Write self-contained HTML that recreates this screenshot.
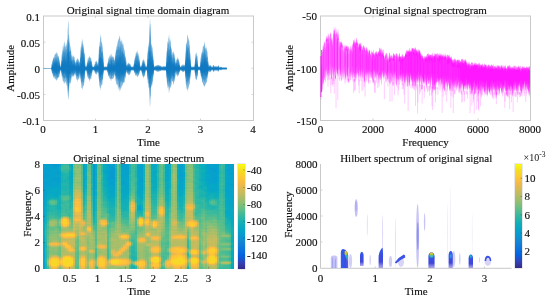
<!DOCTYPE html>
<html><head><meta charset="utf-8"><title>Signal analysis</title>
<style>
html,body{margin:0;padding:0;background:#fff}
#root{position:relative;width:550px;height:300px;overflow:hidden;background:#fff}
#spg i{position:absolute;top:0;height:100%;display:block}
</style></head><body><div id="root">
<div id="spg" style="position:absolute;left:43.0px;top:164.2px;width:191.2px;height:104.4px;overflow:hidden"><i style="left:0.0px;width:2.05px;background:linear-gradient(#069ece 0.5px,#06a1cd 1.5px,#06a2cc 2.5px,#06a1cc 3.5px,#069fce 4.5px,#069ece 5.5px,#069fce 6.5px,#06a0cd 7.5px,#069fce 8.5px,#079dcf 9.5px,#079dcf 10.5px,#079cd0 11.5px,#079bd0 12.5px,#079ccf 13.5px,#069fce 14.5px,#06a0cd 15.5px,#06a0cd 16.5px,#079ecf 17.5px,#079cd0 18.5px,#079ccf 19.5px,#079dcf 20.5px,#079ecf 21.5px,#079cd0 22.5px,#079cd0 23.5px,#079dcf 24.5px,#069fce 25.5px,#06a1cc 26.5px,#06a0cd 27.5px,#069ece 28.5px,#069fce 29.5px,#069fce 30.5px,#06a0cd 31.5px,#06a0cd 32.5px,#069ece 33.5px,#069ece 34.5px,#06a0cd 35.5px,#06a1cc 36.5px,#06a2cb 37.5px,#06a1cd 38.5px,#069fce 39.5px,#06a0cd 40.5px,#06a2cc 41.5px,#06a4c9 42.5px,#06a5c8 43.5px,#06a4ca 44.5px,#06a2cb 45.5px,#06a3cb 46.5px,#06a5c8 47.5px,#06a5c8 48.5px,#06a2cb 49.5px,#06a1cd 50.5px,#06a3cb 51.5px,#06a4c9 52.5px,#06a6c7 53.5px,#06a6c7 54.5px,#06a4ca 55.5px,#06a2cb 56.5px,#06a4ca 57.5px,#06a7c6 58.5px,#07a9c3 59.5px,#07a9c2 60.5px,#09abbf 61.5px,#08aac1 62.5px,#07a9c3 63.5px,#07a9c3 64.5px,#07a9c2 65.5px,#08aac1 66.5px,#09abbf 67.5px,#09acbe 68.5px,#09abbf 69.5px,#08abc0 70.5px,#06a8c3 71.5px,#06a8c4 72.5px,#06a8c3 73.5px,#06a7c5 74.5px,#06a7c5 75.5px,#06a8c4 76.5px,#07a9c2 77.5px,#06a8c5 78.5px,#06a6c7 79.5px,#06a5c9 80.5px,#06a4ca 81.5px,#06a4ca 82.5px,#06a6c7 83.5px,#06a7c5 84.5px,#06a7c6 85.5px,#06a5c8 86.5px,#06a6c7 87.5px,#06a6c7 88.5px,#06a3cb 89.5px,#06a1cd 90.5px,#06a2cb 91.5px,#06a3ca 92.5px,#06a4ca 93.5px,#06a6c7 94.5px,#06a7c5 95.5px,#06a5c9 96.5px,#06a2cc 97.5px,#06a1cc 98.5px,#06a0cd 99.5px,#06a1cc 100.5px,#06a2cc 101.5px,#06a2cc 102.5px,#06a2cc 103.5px,#06a1cc 104.5px)"></i><i style="left:2.0px;width:2.05px;background:linear-gradient(#069fce 0.5px,#06a1cd 1.5px,#06a2cb 2.5px,#06a2cc 3.5px,#06a1cd 4.5px,#069fce 5.5px,#069fce 6.5px,#06a1cd 7.5px,#06a0cd 8.5px,#069fce 9.5px,#079ecf 10.5px,#079dcf 11.5px,#079ecf 12.5px,#06a0cd 13.5px,#06a2cb 14.5px,#06a2cb 15.5px,#06a2cb 16.5px,#069fce 17.5px,#079ecf 18.5px,#069fce 19.5px,#06a0cd 20.5px,#06a1cc 21.5px,#06a1cd 22.5px,#06a1cd 23.5px,#06a3cb 24.5px,#06a5c9 25.5px,#06a6c7 26.5px,#06a4c9 27.5px,#06a3ca 28.5px,#06a4c9 29.5px,#06a5c8 30.5px,#06a6c6 31.5px,#06a7c5 32.5px,#06a7c5 33.5px,#07a9c3 34.5px,#07a9c2 35.5px,#07aac2 36.5px,#08abc0 37.5px,#08aac1 38.5px,#07a9c2 39.5px,#08aac0 40.5px,#09acbe 41.5px,#0cadbc 42.5px,#0faeb9 43.5px,#0eaeba 44.5px,#0dadbb 45.5px,#0cadbc 46.5px,#0eaeba 47.5px,#12afb7 48.5px,#13b0b6 49.5px,#0faeb9 50.5px,#0eaeba 51.5px,#13b0b6 52.5px,#16b1b3 53.5px,#16b1b4 54.5px,#16b1b3 55.5px,#19b2b2 56.5px,#1ab2b1 57.5px,#1ab2b1 58.5px,#1ab2b1 59.5px,#20b4ad 60.5px,#29b6a7 61.5px,#2ab6a6 62.5px,#2ab6a6 63.5px,#2fb7a3 64.5px,#31b8a2 65.5px,#36b99f 66.5px,#3ab99d 67.5px,#35b89f 68.5px,#39b99d 69.5px,#40ba99 70.5px,#38b99e 71.5px,#35b89f 72.5px,#38b99d 73.5px,#36b99f 74.5px,#35b8a0 75.5px,#3ab99d 76.5px,#38b99e 77.5px,#2cb7a5 78.5px,#2ab6a6 79.5px,#2cb7a5 80.5px,#28b6a8 81.5px,#24b5aa 82.5px,#28b6a8 83.5px,#32b8a1 84.5px,#34b8a0 85.5px,#2db7a4 86.5px,#2db7a5 87.5px,#2eb7a4 88.5px,#28b6a8 89.5px,#25b5a9 90.5px,#2ab6a6 91.5px,#2ab6a6 92.5px,#27b6a8 93.5px,#2ab6a6 94.5px,#2db7a4 95.5px,#2cb7a5 96.5px,#2cb7a5 97.5px,#2ab6a7 98.5px,#26b5a9 99.5px,#22b4ab 100.5px,#1fb3ae 101.5px,#1fb3ad 102.5px,#1fb4ad 103.5px,#1fb4ad 104.5px)"></i><i style="left:4.0px;width:2.05px;background:linear-gradient(#069ece 0.5px,#06a0cd 1.5px,#06a2cb 2.5px,#06a1cc 3.5px,#06a0cd 4.5px,#079ecf 5.5px,#069ece 6.5px,#06a1cc 7.5px,#06a2cc 8.5px,#06a2cc 9.5px,#069fce 10.5px,#079ecf 11.5px,#069fce 12.5px,#06a2cc 13.5px,#06a3cb 14.5px,#06a2cc 15.5px,#06a1cc 16.5px,#06a1cc 17.5px,#06a1cd 18.5px,#06a1cc 19.5px,#06a2cc 20.5px,#06a3cb 21.5px,#06a4ca 22.5px,#06a4c9 23.5px,#06a5c8 24.5px,#06a6c7 25.5px,#06a8c4 26.5px,#06a7c5 27.5px,#06a7c6 28.5px,#06a8c4 29.5px,#07aac2 30.5px,#09abbf 31.5px,#08abc0 32.5px,#0aacbe 33.5px,#0cadbc 34.5px,#0dadbb 35.5px,#14b0b6 36.5px,#1fb3ae 37.5px,#23b5ab 38.5px,#20b4ad 39.5px,#18b1b3 40.5px,#16b1b4 41.5px,#19b2b1 42.5px,#1bb2b0 43.5px,#1ab2b1 44.5px,#19b2b1 45.5px,#18b1b2 46.5px,#19b2b2 47.5px,#21b4ac 48.5px,#26b5a9 49.5px,#24b5aa 50.5px,#25b5aa 51.5px,#2cb7a5 52.5px,#30b7a3 53.5px,#2fb7a3 54.5px,#2eb7a3 55.5px,#36b99f 56.5px,#44bb97 57.5px,#4abc94 58.5px,#48bb94 59.5px,#4fbc91 60.5px,#4ebc91 61.5px,#45bb96 62.5px,#49bc94 63.5px,#51bd90 64.5px,#4fbc91 65.5px,#56bd8d 66.5px,#59bd8b 67.5px,#50bc90 68.5px,#54bd8e 69.5px,#5abd8b 70.5px,#5abd8b 71.5px,#65be86 72.5px,#6abe83 73.5px,#62be87 74.5px,#65be86 75.5px,#6ebf81 76.5px,#67be85 77.5px,#6abe83 78.5px,#87bf77 79.5px,#8dbf75 80.5px,#73bf7f 81.5px,#5abd8b 82.5px,#53bd8f 83.5px,#5bbd8a 84.5px,#5fbe89 85.5px,#55bd8d 86.5px,#4cbc92 87.5px,#4dbc92 88.5px,#55bd8d 89.5px,#5bbe8a 90.5px,#59bd8b 91.5px,#53bd8f 92.5px,#5dbe8a 93.5px,#71bf80 94.5px,#86bf77 95.5px,#9ebe6e 96.5px,#a9be69 97.5px,#a7be6a 98.5px,#a4be6b 99.5px,#96bf71 100.5px,#78bf7d 101.5px,#5fbe89 102.5px,#48bb94 103.5px,#3dba9b 104.5px)"></i><i style="left:6.0px;width:2.05px;background:linear-gradient(#069fce 0.5px,#06a1cd 1.5px,#06a1cc 2.5px,#06a1cd 3.5px,#06a1cc 4.5px,#06a0cd 5.5px,#06a0cd 6.5px,#06a0cd 7.5px,#06a1cc 8.5px,#06a3cb 9.5px,#06a1cc 10.5px,#069fce 11.5px,#06a1cc 12.5px,#06a3cb 13.5px,#06a2cb 14.5px,#06a1cc 15.5px,#06a2cc 16.5px,#06a2cc 17.5px,#06a1cc 18.5px,#06a1cc 19.5px,#06a1cc 20.5px,#06a2cb 21.5px,#06a5c9 22.5px,#06a7c6 23.5px,#06a7c6 24.5px,#06a7c6 25.5px,#07a9c3 26.5px,#07aac2 27.5px,#07a9c2 28.5px,#07aac2 29.5px,#08abc0 30.5px,#09abbf 31.5px,#09abbf 32.5px,#0bacbd 33.5px,#10afb8 34.5px,#1db3af 35.5px,#3cba9b 36.5px,#58bd8c 37.5px,#55bd8d 38.5px,#4cbc92 39.5px,#3bb99c 40.5px,#26b5a9 41.5px,#22b4ac 42.5px,#25b5a9 43.5px,#24b5aa 44.5px,#23b4ab 45.5px,#24b5aa 46.5px,#29b6a7 47.5px,#35b89f 48.5px,#36b99f 49.5px,#30b7a3 50.5px,#37b99e 51.5px,#41ba98 52.5px,#41ba98 53.5px,#45bb96 54.5px,#58bd8c 55.5px,#72bf80 56.5px,#8fbf74 57.5px,#9abf6f 58.5px,#95bf71 59.5px,#9bbf6f 60.5px,#92bf73 61.5px,#6fbf81 62.5px,#66be85 63.5px,#69be84 64.5px,#65be86 65.5px,#71bf80 66.5px,#7cbf7c 67.5px,#75bf7f 68.5px,#76bf7e 69.5px,#7cbf7c 70.5px,#7ebf7b 71.5px,#8cbf75 72.5px,#94bf71 73.5px,#8cbf75 74.5px,#8cbf75 75.5px,#8fbf73 76.5px,#90bf73 77.5px,#b4bd65 78.5px,#dcba54 79.5px,#e1b952 80.5px,#c8bc5d 81.5px,#a3be6b 82.5px,#8bbf75 83.5px,#8cbf75 84.5px,#90bf73 85.5px,#85bf78 86.5px,#7dbf7b 87.5px,#81bf7a 88.5px,#83bf79 89.5px,#8abf75 90.5px,#92bf72 91.5px,#9ebe6e 92.5px,#bdbc61 93.5px,#deba53 94.5px,#f7ba45 95.5px,#fec833 96.5px,#fccd2f 97.5px,#fec634 98.5px,#fec635 99.5px,#fec239 100.5px,#edb94c 101.5px,#d0bb59 102.5px,#b5bd64 103.5px,#a4be6b 104.5px)"></i><i style="left:8.0px;width:2.05px;background:linear-gradient(#0999d1 0.5px,#079cd0 1.5px,#069fce 2.5px,#06a0cd 3.5px,#06a1cd 4.5px,#06a1cd 5.5px,#06a1cd 6.5px,#06a2cc 7.5px,#06a2cb 8.5px,#06a3cb 9.5px,#06a2cb 10.5px,#06a1cd 11.5px,#06a2cc 12.5px,#06a2cb 13.5px,#06a1cd 14.5px,#06a0cd 15.5px,#06a1cc 16.5px,#06a2cb 17.5px,#06a1cc 18.5px,#06a1cd 19.5px,#06a1cc 20.5px,#06a3ca 21.5px,#06a5c9 22.5px,#06a6c7 23.5px,#06a7c5 24.5px,#06a8c4 25.5px,#07aac1 26.5px,#07aac1 27.5px,#06a8c4 28.5px,#06a8c4 29.5px,#08abc0 30.5px,#0aacbe 31.5px,#0aacbd 32.5px,#0eaeba 33.5px,#15b0b5 34.5px,#2cb6a5 35.5px,#4fbc90 36.5px,#64be86 37.5px,#5fbe89 38.5px,#60be88 39.5px,#58bd8c 40.5px,#32b8a1 41.5px,#22b4ab 42.5px,#29b6a7 43.5px,#2ab6a6 44.5px,#24b5aa 45.5px,#22b4ab 46.5px,#27b5a8 47.5px,#2db7a4 48.5px,#30b7a2 49.5px,#32b8a1 50.5px,#3bb99c 51.5px,#47bb95 52.5px,#46bb95 53.5px,#4dbc92 54.5px,#73bf7f 55.5px,#8abf76 56.5px,#99bf6f 57.5px,#a9be69 58.5px,#a3be6c 59.5px,#a8be6a 60.5px,#a7be6a 61.5px,#82bf79 62.5px,#6cbf83 63.5px,#67be85 64.5px,#5fbe89 65.5px,#70bf81 66.5px,#83bf78 67.5px,#7cbf7b 68.5px,#7fbf7a 69.5px,#8bbf75 70.5px,#88bf77 71.5px,#90bf73 72.5px,#9dbf6e 73.5px,#93bf72 74.5px,#91bf73 75.5px,#96bf71 76.5px,#9dbf6e 77.5px,#cbbb5b 78.5px,#f6ba46 79.5px,#f9bb43 80.5px,#e3b951 81.5px,#b9bd63 82.5px,#90bf73 83.5px,#87bf77 84.5px,#8fbf74 85.5px,#88bf76 86.5px,#86bf77 87.5px,#8abf76 88.5px,#88bf77 89.5px,#8fbf74 90.5px,#aabe69 91.5px,#c8bc5d 92.5px,#eab94e 93.5px,#ffc437 94.5px,#fbd02c 95.5px,#f7d826 96.5px,#f7d826 97.5px,#f8d727 98.5px,#f8d727 99.5px,#f7d826 100.5px,#fad22b 101.5px,#fec239 102.5px,#f2b949 103.5px,#e5b950 104.5px)"></i><i style="left:10.0px;width:2.05px;background:linear-gradient(#0998d1 0.5px,#089ad0 1.5px,#079cd0 2.5px,#069ece 3.5px,#06a1cc 4.5px,#06a2cc 5.5px,#06a1cc 6.5px,#06a3cb 7.5px,#06a2cc 8.5px,#06a0cd 9.5px,#06a1cc 10.5px,#06a1cc 11.5px,#06a1cc 12.5px,#069fce 13.5px,#079dcf 14.5px,#079dcf 15.5px,#069ece 16.5px,#06a1cd 17.5px,#06a3ca 18.5px,#06a3ca 19.5px,#06a3ca 20.5px,#06a4ca 21.5px,#06a3ca 22.5px,#06a4c9 23.5px,#06a7c5 24.5px,#07a9c3 25.5px,#07a9c3 26.5px,#06a8c4 27.5px,#06a7c6 28.5px,#06a8c4 29.5px,#07a9c2 30.5px,#07aac1 31.5px,#08abc0 32.5px,#0cadbc 33.5px,#12afb7 34.5px,#29b6a7 35.5px,#4bbc93 36.5px,#5cbe8a 37.5px,#5cbe8a 38.5px,#61be88 39.5px,#58bd8c 40.5px,#31b8a2 41.5px,#23b4ab 42.5px,#28b6a8 43.5px,#29b6a7 44.5px,#27b6a8 45.5px,#29b6a7 46.5px,#2ab6a6 47.5px,#2eb7a4 48.5px,#36b99f 49.5px,#35b89f 50.5px,#37b99e 51.5px,#3eba9a 52.5px,#40ba99 53.5px,#4bbc93 54.5px,#77bf7e 55.5px,#8dbf74 56.5px,#99bf6f 57.5px,#aabe69 58.5px,#9dbe6e 59.5px,#9cbf6e 60.5px,#a0be6d 61.5px,#7ebf7b 62.5px,#69be84 63.5px,#6bbe83 64.5px,#65be86 65.5px,#74bf7f 66.5px,#86bf77 67.5px,#7ebf7b 68.5px,#7fbf7a 69.5px,#8fbf74 70.5px,#8fbf73 71.5px,#92bf72 72.5px,#95bf71 73.5px,#8ebf74 74.5px,#97bf70 75.5px,#a4be6b 76.5px,#acbe68 77.5px,#d6ba57 78.5px,#f9bb44 79.5px,#f6ba46 80.5px,#e1ba52 81.5px,#b8bd63 82.5px,#91bf73 83.5px,#8bbf75 84.5px,#8fbf74 85.5px,#85bf78 86.5px,#7ebf7b 87.5px,#81bf7a 88.5px,#82bf79 89.5px,#8fbf74 90.5px,#b2bd66 91.5px,#d7ba57 92.5px,#f7ba45 93.5px,#fdca31 94.5px,#fad22a 95.5px,#f7d826 96.5px,#f7d826 97.5px,#f7d826 98.5px,#f8d826 99.5px,#f7d826 100.5px,#f7d826 101.5px,#fcce2d 102.5px,#fcbd3f 103.5px,#efb94b 104.5px)"></i><i style="left:12.0px;width:2.05px;background:linear-gradient(#079bd0 0.5px,#079bd0 1.5px,#079cd0 2.5px,#069fce 3.5px,#06a2cc 4.5px,#06a2cb 5.5px,#06a2cb 6.5px,#06a2cb 7.5px,#06a1cd 8.5px,#06a0cd 9.5px,#06a3ca 10.5px,#06a4c9 11.5px,#06a4ca 12.5px,#06a1cd 13.5px,#069ece 14.5px,#069fce 15.5px,#06a1cc 16.5px,#06a3cb 17.5px,#06a3ca 18.5px,#06a3ca 19.5px,#06a4ca 20.5px,#06a4c9 21.5px,#06a4c9 22.5px,#06a6c7 23.5px,#06a8c4 24.5px,#07aac1 25.5px,#08aac0 26.5px,#07a9c3 27.5px,#06a8c4 28.5px,#07a9c3 29.5px,#06a8c3 30.5px,#06a8c5 31.5px,#07a9c3 32.5px,#0aacbd 33.5px,#11afb8 34.5px,#1fb4ad 35.5px,#3ab99c 36.5px,#51bc90 37.5px,#50bc90 38.5px,#45bb96 39.5px,#36b99f 40.5px,#21b4ac 41.5px,#1cb3b0 42.5px,#20b4ad 43.5px,#20b4ad 44.5px,#20b4ad 45.5px,#25b5aa 46.5px,#25b5a9 47.5px,#27b6a8 48.5px,#2cb7a5 49.5px,#2cb7a5 50.5px,#2fb7a3 51.5px,#38b99e 52.5px,#3dba9b 53.5px,#48bb94 54.5px,#6dbf82 55.5px,#7fbf7a 56.5px,#8dbf74 57.5px,#a1be6c 58.5px,#94bf72 59.5px,#88bf76 60.5px,#87bf77 61.5px,#6dbf82 62.5px,#62be87 63.5px,#73bf7f 64.5px,#78bf7d 65.5px,#7ebf7b 66.5px,#8abf76 67.5px,#81bf7a 68.5px,#80bf7a 69.5px,#93bf72 70.5px,#90bf73 71.5px,#8dbf75 72.5px,#92bf72 73.5px,#92bf73 74.5px,#99bf70 75.5px,#a5be6b 76.5px,#b1bd66 77.5px,#d8ba56 78.5px,#f8bb44 79.5px,#f6ba46 80.5px,#dfba53 81.5px,#b6bd64 82.5px,#96bf71 83.5px,#91bf73 84.5px,#97bf70 85.5px,#91bf73 86.5px,#86bf77 87.5px,#86bf77 88.5px,#80bf7a 89.5px,#89bf76 90.5px,#aebe67 91.5px,#d6ba57 92.5px,#f7ba45 93.5px,#fec932 94.5px,#fbd12b 95.5px,#f8d627 96.5px,#f7d826 97.5px,#f8d727 98.5px,#f8d628 99.5px,#f7d826 100.5px,#f8d627 101.5px,#fec932 102.5px,#f5ba47 103.5px,#e3b951 104.5px)"></i><i style="left:14.0px;width:2.05px;background:linear-gradient(#0899d1 0.5px,#089ad0 1.5px,#079dcf 2.5px,#06a1cc 3.5px,#06a2cb 4.5px,#069fce 5.5px,#079dcf 6.5px,#079cd0 7.5px,#089ad0 8.5px,#079dcf 9.5px,#06a2cc 10.5px,#06a4c9 11.5px,#06a3ca 12.5px,#069fce 13.5px,#079ccf 14.5px,#079ecf 15.5px,#069fce 16.5px,#069fce 17.5px,#06a0cd 18.5px,#06a2cc 19.5px,#06a2cb 20.5px,#06a2cb 21.5px,#06a3ca 22.5px,#06a5c9 23.5px,#06a6c6 24.5px,#06a8c4 25.5px,#06a8c4 26.5px,#06a8c5 27.5px,#06a7c5 28.5px,#06a8c4 29.5px,#06a8c4 30.5px,#07a9c3 31.5px,#08aac1 32.5px,#0badbc 33.5px,#11afb8 34.5px,#14b0b5 35.5px,#17b1b3 36.5px,#1db3af 37.5px,#1cb3af 38.5px,#1ab2b1 39.5px,#1ab2b1 40.5px,#16b1b3 41.5px,#13b0b6 42.5px,#13b0b6 43.5px,#14b0b6 44.5px,#18b2b2 45.5px,#22b4ac 46.5px,#21b4ac 47.5px,#1fb3ae 48.5px,#24b5aa 49.5px,#24b5aa 50.5px,#28b6a8 51.5px,#2fb7a3 52.5px,#32b8a1 53.5px,#3ab99d 54.5px,#4bbc93 55.5px,#55bd8e 56.5px,#5ebe89 57.5px,#6dbf82 58.5px,#66be85 59.5px,#62be87 60.5px,#65be85 61.5px,#57bd8d 62.5px,#53bd8f 63.5px,#62be87 64.5px,#68be84 65.5px,#6fbf81 66.5px,#79bf7d 67.5px,#6dbf82 68.5px,#75bf7e 69.5px,#8cbf75 70.5px,#88bf77 71.5px,#84bf78 72.5px,#88bf76 73.5px,#85bf78 74.5px,#89bf76 75.5px,#93bf72 76.5px,#98bf70 77.5px,#c2bc5f 78.5px,#ebb94d 79.5px,#ebb94d 80.5px,#d0bb59 81.5px,#a3be6c 82.5px,#7ebf7b 83.5px,#78bf7d 84.5px,#83bf79 85.5px,#81bf7a 86.5px,#7bbf7c 87.5px,#7cbf7c 88.5px,#71bf80 89.5px,#71bf80 90.5px,#91bf73 91.5px,#b7bd64 92.5px,#ddba54 93.5px,#fbbc41 94.5px,#fec535 95.5px,#fcce2d 96.5px,#f9d429 97.5px,#fad22a 98.5px,#fad22a 99.5px,#fad22b 100.5px,#fec635 101.5px,#eeb94b 102.5px,#cabb5c 103.5px,#b2bd66 104.5px)"></i><i style="left:16.0px;width:2.05px;background:linear-gradient(#06a3cb 0.5px,#06a6c7 1.5px,#08abc0 2.5px,#0cadbb 3.5px,#0dadbb 4.5px,#09abbf 5.5px,#07aac1 6.5px,#06a7c5 7.5px,#06a3ca 8.5px,#06a2cb 9.5px,#06a3cb 10.5px,#06a3ca 11.5px,#06a5c8 12.5px,#06a5c9 13.5px,#06a3ca 14.5px,#06a3cb 15.5px,#06a2cb 16.5px,#06a2cb 17.5px,#06a4ca 18.5px,#06a6c6 19.5px,#06a8c5 20.5px,#06a7c5 21.5px,#06a7c6 22.5px,#06a7c6 23.5px,#06a8c4 24.5px,#07a9c2 25.5px,#07aac1 26.5px,#07aac1 27.5px,#08aac0 28.5px,#08aac0 29.5px,#0bacbd 30.5px,#11afb7 31.5px,#15b0b4 32.5px,#1ab2b1 33.5px,#1cb3b0 34.5px,#17b1b3 35.5px,#11afb7 36.5px,#11afb7 37.5px,#12afb7 38.5px,#12b0b6 39.5px,#14b0b5 40.5px,#16b1b4 41.5px,#15b1b4 42.5px,#12afb7 43.5px,#11afb7 44.5px,#16b1b4 45.5px,#1db3af 46.5px,#1db3af 47.5px,#1db3af 48.5px,#27b5a8 49.5px,#2ab6a7 50.5px,#29b6a7 51.5px,#2bb6a6 52.5px,#31b8a2 53.5px,#4abc93 54.5px,#6dbf82 55.5px,#7cbf7b 56.5px,#8abf76 57.5px,#95bf71 58.5px,#89bf76 59.5px,#7dbf7b 60.5px,#76bf7e 61.5px,#5abd8b 62.5px,#4abc93 63.5px,#4ebc91 64.5px,#51bc90 65.5px,#5bbd8b 66.5px,#6bbe83 67.5px,#71bf80 68.5px,#8fbf73 69.5px,#b6bd64 70.5px,#b8bd63 71.5px,#a6be6a 72.5px,#90bf73 73.5px,#7ebf7b 74.5px,#7ebf7b 75.5px,#83bf78 76.5px,#81bf79 77.5px,#a3be6b 78.5px,#cdbb5b 79.5px,#ccbb5b 80.5px,#aabe69 81.5px,#85bf78 82.5px,#6fbf81 83.5px,#6abe83 84.5px,#6fbf81 85.5px,#6cbf82 86.5px,#6cbf83 87.5px,#6fbf81 88.5px,#69be84 89.5px,#66be85 90.5px,#6abe83 91.5px,#7dbf7b 92.5px,#a4be6b 93.5px,#cbbb5c 94.5px,#e1b952 95.5px,#f5ba47 96.5px,#fec13a 97.5px,#fec13a 98.5px,#fbbc41 99.5px,#eeb94b 100.5px,#ccbb5b 101.5px,#a6be6a 102.5px,#83bf78 103.5px,#6fbf81 104.5px)"></i><i style="left:18.0px;width:2.05px;background:linear-gradient(#24b5aa 0.5px,#30b7a3 1.5px,#37b99e 2.5px,#3cba9b 3.5px,#42bb98 4.5px,#3dba9b 5.5px,#33b8a1 6.5px,#2bb6a5 7.5px,#21b4ac 8.5px,#1ab2b1 9.5px,#18b1b2 10.5px,#19b2b2 11.5px,#1bb2b0 12.5px,#1ab2b1 13.5px,#19b2b2 14.5px,#19b2b2 15.5px,#19b2b2 16.5px,#19b2b2 17.5px,#1ab2b1 18.5px,#20b4ad 19.5px,#21b4ac 20.5px,#20b4ad 21.5px,#1eb3ae 22.5px,#1ab2b1 23.5px,#1cb3b0 24.5px,#22b4ac 25.5px,#25b5a9 26.5px,#27b5a8 27.5px,#29b6a7 28.5px,#25b5aa 29.5px,#2ab6a6 30.5px,#3dba9b 31.5px,#44bb97 32.5px,#44bb97 33.5px,#49bb94 34.5px,#44bb97 35.5px,#3ab99c 36.5px,#37b99e 37.5px,#30b7a3 38.5px,#30b7a3 39.5px,#3ab99d 40.5px,#3dba9b 41.5px,#3ab99d 42.5px,#36b99f 43.5px,#32b8a1 44.5px,#34b8a0 45.5px,#3cba9b 46.5px,#3dba9b 47.5px,#3dba9b 48.5px,#49bc94 49.5px,#46bb96 50.5px,#42bb98 51.5px,#62be87 52.5px,#92bf72 53.5px,#c7bc5d 54.5px,#f3ba48 55.5px,#fcbd3e 56.5px,#fec239 57.5px,#fec733 58.5px,#fcbd3f 59.5px,#f2b949 60.5px,#efb94a 61.5px,#c8bc5d 62.5px,#9cbf6e 63.5px,#95bf71 64.5px,#90bf73 65.5px,#94bf71 66.5px,#aabe69 67.5px,#babd62 68.5px,#daba55 69.5px,#fcbd3f 70.5px,#fdbe3d 71.5px,#ecb94c 72.5px,#d7ba56 73.5px,#bfbc60 74.5px,#b7bd64 75.5px,#babd63 76.5px,#bdbd61 77.5px,#d6ba57 78.5px,#efb94b 79.5px,#e8b94f 80.5px,#ccbb5b 81.5px,#b8bd63 82.5px,#acbe68 83.5px,#a4be6b 84.5px,#abbe69 85.5px,#a9be69 86.5px,#a6be6a 87.5px,#acbe68 88.5px,#adbe67 89.5px,#adbe68 90.5px,#b5bd64 91.5px,#bfbc60 92.5px,#d3bb58 93.5px,#efb94a 94.5px,#fec13a 95.5px,#fdca31 96.5px,#fbd02c 97.5px,#fcce2d 98.5px,#fec832 99.5px,#fec03c 100.5px,#e6b950 101.5px,#c5bc5e 102.5px,#b1bd66 103.5px,#aabe69 104.5px)"></i><i style="left:20.0px;width:2.05px;background:linear-gradient(#2fb7a3 0.5px,#3fba9a 1.5px,#42bb98 2.5px,#3fba9a 3.5px,#43bb97 4.5px,#3eba9a 5.5px,#36b99f 6.5px,#34b8a0 7.5px,#2cb7a5 8.5px,#24b5aa 9.5px,#22b4ab 10.5px,#21b4ac 11.5px,#23b4ab 12.5px,#25b5aa 13.5px,#20b4ad 14.5px,#1eb3ae 15.5px,#1eb3ae 16.5px,#1cb3af 17.5px,#1fb3ae 18.5px,#26b5a9 19.5px,#25b5a9 20.5px,#22b4ac 21.5px,#21b4ac 22.5px,#1db3af 23.5px,#1eb3ae 24.5px,#1fb3ae 25.5px,#21b4ac 26.5px,#28b6a8 27.5px,#2bb6a5 28.5px,#25b5aa 29.5px,#26b5a9 30.5px,#3bb99c 31.5px,#4cbc92 32.5px,#4fbc91 33.5px,#5cbe8a 34.5px,#5dbe8a 35.5px,#4abc93 36.5px,#3dba9b 37.5px,#33b8a1 38.5px,#33b8a1 39.5px,#3dba9b 40.5px,#3eba9a 41.5px,#3dba9b 42.5px,#42bb98 43.5px,#40ba99 44.5px,#3dba9b 45.5px,#45bb96 46.5px,#43bb97 47.5px,#41ba98 48.5px,#50bc90 49.5px,#4cbc92 50.5px,#48bb94 51.5px,#84bf78 52.5px,#cbbb5c 53.5px,#fabc41 54.5px,#fad12b 55.5px,#fbd12b 56.5px,#fccd2e 57.5px,#f9d429 58.5px,#fbcf2d 59.5px,#fdca31 60.5px,#fccc2f 61.5px,#f2b949 62.5px,#babd62 63.5px,#a4be6b 64.5px,#9bbf6f 65.5px,#9abf6f 66.5px,#b0be67 67.5px,#ccbb5b 68.5px,#f1b94a 69.5px,#fdcb30 70.5px,#fccd2f 71.5px,#fec238 72.5px,#f4ba47 73.5px,#d2bb58 74.5px,#bcbd62 75.5px,#c0bc60 76.5px,#d7ba57 77.5px,#f7ba45 78.5px,#fec734 79.5px,#ffc437 80.5px,#f1b94a 81.5px,#daba55 82.5px,#c7bc5d 83.5px,#b4bd65 84.5px,#b0bd66 85.5px,#adbe67 86.5px,#a9be69 87.5px,#b0bd66 88.5px,#b2bd66 89.5px,#b0bd66 90.5px,#c9bc5d 91.5px,#efb94b 92.5px,#fdcb30 93.5px,#f8d627 94.5px,#f7d826 95.5px,#f7d826 96.5px,#f7d826 97.5px,#f7d826 98.5px,#f7d826 99.5px,#f8d726 100.5px,#fccd2e 101.5px,#f7ba45 102.5px,#d9ba56 103.5px,#c7bc5d 104.5px)"></i><i style="left:22.0px;width:2.05px;background:linear-gradient(#2eb7a4 0.5px,#40ba99 1.5px,#49bc94 2.5px,#41ba99 3.5px,#3dba9b 4.5px,#37b99e 5.5px,#34b8a0 6.5px,#3ab99c 7.5px,#31b8a2 8.5px,#24b5aa 9.5px,#23b4ab 10.5px,#23b5ab 11.5px,#22b4ac 12.5px,#24b5aa 13.5px,#21b4ac 14.5px,#1cb3af 15.5px,#1cb3af 16.5px,#19b2b1 17.5px,#1cb3af 18.5px,#26b5a9 19.5px,#28b6a8 20.5px,#22b4ab 21.5px,#21b4ac 22.5px,#1db3af 23.5px,#1db3af 24.5px,#1fb3ae 25.5px,#20b4ad 26.5px,#25b5a9 27.5px,#27b5a8 28.5px,#24b5aa 29.5px,#25b5aa 30.5px,#3ab99c 31.5px,#4fbc91 32.5px,#50bc90 33.5px,#59bd8c 34.5px,#59bd8b 35.5px,#48bb95 36.5px,#3eba9a 37.5px,#3cba9b 38.5px,#39b99d 39.5px,#3cba9b 40.5px,#3dba9b 41.5px,#39b99d 42.5px,#3dba9b 43.5px,#3eba9a 44.5px,#34b8a0 45.5px,#39b99d 46.5px,#3bb99c 47.5px,#3ab99d 48.5px,#48bb95 49.5px,#4dbc92 50.5px,#49bc94 51.5px,#7cbf7c 52.5px,#c5bc5e 53.5px,#f4ba47 54.5px,#fccd2e 55.5px,#fbcf2c 56.5px,#fec734 57.5px,#fccd2e 58.5px,#fbd12b 59.5px,#fdcb30 60.5px,#fec932 61.5px,#f4ba47 62.5px,#bbbd62 63.5px,#a1be6d 64.5px,#9fbe6d 65.5px,#9abf6f 66.5px,#afbe67 67.5px,#d8ba56 68.5px,#fabb42 69.5px,#fdcb30 70.5px,#fccd2f 71.5px,#fec535 72.5px,#fbbc41 73.5px,#d9ba56 74.5px,#bbbd62 75.5px,#bfbc61 76.5px,#d6ba57 77.5px,#f2b949 78.5px,#ffc337 79.5px,#fec932 80.5px,#ffc436 81.5px,#fec03b 82.5px,#f7ba45 83.5px,#dcba54 84.5px,#c3bc5f 85.5px,#b6bd64 86.5px,#afbe67 87.5px,#afbe67 88.5px,#b2bd66 89.5px,#b3bd65 90.5px,#d2bb59 91.5px,#fec13a 92.5px,#f8d726 93.5px,#f7d826 94.5px,#f7d826 95.5px,#f7d826 96.5px,#f7d826 97.5px,#f7d826 98.5px,#f7d826 99.5px,#f7d826 100.5px,#f8d726 101.5px,#fec734 102.5px,#ebb94d 103.5px,#daba55 104.5px)"></i><i style="left:24.0px;width:2.05px;background:linear-gradient(#27b6a8 0.5px,#38b99e 1.5px,#45bb96 2.5px,#42bb98 3.5px,#40ba99 4.5px,#3bb99c 5.5px,#33b8a1 6.5px,#36b99f 7.5px,#2db7a5 8.5px,#22b4ac 9.5px,#23b4ab 10.5px,#23b4ab 11.5px,#1cb3af 12.5px,#19b2b1 13.5px,#18b1b3 14.5px,#16b1b4 15.5px,#1cb3af 16.5px,#1eb3ae 17.5px,#1db3af 18.5px,#1fb3ae 19.5px,#22b4ab 20.5px,#21b4ac 21.5px,#21b4ac 22.5px,#1fb3ae 23.5px,#20b4ad 24.5px,#24b5aa 25.5px,#25b5aa 26.5px,#25b5aa 27.5px,#26b5a9 28.5px,#27b5a8 29.5px,#29b6a7 30.5px,#3ab99d 31.5px,#4bbc93 32.5px,#4fbc91 33.5px,#5abd8b 34.5px,#55bd8d 35.5px,#3eba9a 36.5px,#36b99f 37.5px,#38b99d 38.5px,#3dba9b 39.5px,#49bc94 40.5px,#47bb95 41.5px,#39b99d 42.5px,#3bb99c 43.5px,#3fba9a 44.5px,#35b89f 45.5px,#3cba9c 46.5px,#47bb95 47.5px,#41ba98 48.5px,#3fba9a 49.5px,#3eba9a 50.5px,#3fba99 51.5px,#60be88 52.5px,#96bf71 53.5px,#c2bc5f 54.5px,#eeb94b 55.5px,#fdbe3e 56.5px,#fabc42 57.5px,#fec03b 58.5px,#ffc338 59.5px,#f9bb42 60.5px,#edb94c 61.5px,#ccbb5b 62.5px,#9ebe6d 63.5px,#99bf70 64.5px,#a2be6c 65.5px,#a0be6d 66.5px,#b5bd64 67.5px,#dfba53 68.5px,#febf3c 69.5px,#fccf2d 70.5px,#fcce2e 71.5px,#ffc337 72.5px,#f8ba44 73.5px,#d7ba57 74.5px,#bcbd62 75.5px,#c2bc5f 76.5px,#c7bc5d 77.5px,#c7bc5d 78.5px,#d9ba56 79.5px,#f4ba47 80.5px,#fec238 81.5px,#fec535 82.5px,#fec239 83.5px,#f7ba45 84.5px,#eab94e 85.5px,#e0ba52 86.5px,#ccbb5b 87.5px,#bcbd62 88.5px,#b8bd63 89.5px,#b8bd63 90.5px,#d8ba56 91.5px,#ffc337 92.5px,#f8d727 93.5px,#f7d826 94.5px,#f7d826 95.5px,#f7d826 96.5px,#f7d826 97.5px,#f7d826 98.5px,#f7d826 99.5px,#f7d826 100.5px,#f7d826 101.5px,#fcce2e 102.5px,#f0b94a 103.5px,#dbba55 104.5px)"></i><i style="left:26.0px;width:2.05px;background:linear-gradient(#08abc0 0.5px,#0cadbc 1.5px,#14b0b5 2.5px,#1bb2b0 3.5px,#22b4ac 4.5px,#1db3af 5.5px,#12afb7 6.5px,#0dadbb 7.5px,#09abbf 8.5px,#08aac0 9.5px,#09acbe 10.5px,#09abbe 11.5px,#07aac1 12.5px,#07a9c2 13.5px,#08aac0 14.5px,#09abbf 15.5px,#0cadbc 16.5px,#0badbc 17.5px,#0aacbe 18.5px,#0aacbd 19.5px,#0cadbb 20.5px,#0cadbc 21.5px,#0badbc 22.5px,#0cadbc 23.5px,#0dadbb 24.5px,#0eaeba 25.5px,#0faeb9 26.5px,#11afb7 27.5px,#14b0b5 28.5px,#14b0b5 29.5px,#16b1b3 30.5px,#22b4ac 31.5px,#2cb6a5 32.5px,#2fb7a3 33.5px,#33b8a1 34.5px,#29b6a7 35.5px,#1eb3ae 36.5px,#20b4ad 37.5px,#24b5aa 38.5px,#25b5aa 39.5px,#28b6a8 40.5px,#25b5a9 41.5px,#20b4ad 42.5px,#22b4ac 43.5px,#2bb6a6 44.5px,#2eb7a4 45.5px,#34b8a0 46.5px,#3cba9b 47.5px,#39b99d 48.5px,#37b99e 49.5px,#33b8a0 50.5px,#31b8a2 51.5px,#3fba99 52.5px,#51bd8f 53.5px,#60be88 54.5px,#7bbf7c 55.5px,#90bf73 56.5px,#99bf70 57.5px,#aabe69 58.5px,#aebe67 59.5px,#a1be6d 60.5px,#9abf6f 61.5px,#88bf77 62.5px,#77bf7e 63.5px,#8abf76 64.5px,#96bf71 65.5px,#96bf71 66.5px,#afbe67 67.5px,#daba55 68.5px,#fdbe3d 69.5px,#fcce2e 70.5px,#fcce2d 71.5px,#ffc337 72.5px,#f3ba48 73.5px,#d2bb58 74.5px,#bebc61 75.5px,#c6bc5d 76.5px,#c5bc5e 77.5px,#bbbd62 78.5px,#c3bc5f 79.5px,#daba55 80.5px,#f2b949 81.5px,#fdbe3e 82.5px,#febf3d 83.5px,#fcbd40 84.5px,#fec03b 85.5px,#fec03b 86.5px,#eab94e 87.5px,#c7bc5d 88.5px,#b4bd65 89.5px,#b3bd65 90.5px,#d0bb59 91.5px,#fbbd40 92.5px,#fad22a 93.5px,#f7d826 94.5px,#f7d826 95.5px,#f7d826 96.5px,#f7d826 97.5px,#f7d826 98.5px,#f7d826 99.5px,#f7d826 100.5px,#f8d826 101.5px,#fec733 102.5px,#e4b951 103.5px,#ccbb5b 104.5px)"></i><i style="left:28.0px;width:2.05px;background:linear-gradient(#06a7c6 0.5px,#06a7c5 1.5px,#06a8c5 2.5px,#06a8c5 3.5px,#08aac1 4.5px,#08abc0 5.5px,#07aac2 6.5px,#07a9c2 7.5px,#06a8c4 8.5px,#06a7c6 9.5px,#06a8c5 10.5px,#06a9c3 11.5px,#06a7c5 12.5px,#06a7c5 13.5px,#07a9c3 14.5px,#07aac2 15.5px,#07aac1 16.5px,#07a9c2 17.5px,#07a9c2 18.5px,#08abc0 19.5px,#0aacbd 20.5px,#0cadbc 21.5px,#0daebb 22.5px,#0cadbc 23.5px,#0bacbd 24.5px,#0eaeba 25.5px,#11afb7 26.5px,#11afb7 27.5px,#14b0b5 28.5px,#16b1b4 29.5px,#14b0b5 30.5px,#18b1b2 31.5px,#1db3af 32.5px,#1ab2b1 33.5px,#19b2b2 34.5px,#1ab2b1 35.5px,#1cb2b0 36.5px,#27b5a8 37.5px,#2fb7a3 38.5px,#28b6a7 39.5px,#26b5a9 40.5px,#2bb6a6 41.5px,#2db7a4 42.5px,#30b7a2 43.5px,#38b99e 44.5px,#3bba9c 45.5px,#3eba9a 46.5px,#40ba99 47.5px,#3dba9b 48.5px,#45bb96 49.5px,#46bb96 50.5px,#40ba99 51.5px,#48bb94 52.5px,#52bd8f 53.5px,#5abd8b 54.5px,#62be87 55.5px,#60be88 56.5px,#61be88 57.5px,#71bf80 58.5px,#74bf7f 59.5px,#6dbf82 60.5px,#78bf7d 61.5px,#77bf7e 62.5px,#75bf7e 63.5px,#8bbf75 64.5px,#92bf72 65.5px,#94bf72 66.5px,#b1bd66 67.5px,#d9ba56 68.5px,#fcbd3f 69.5px,#fcce2d 70.5px,#fad12b 71.5px,#fec833 72.5px,#f4ba47 73.5px,#cbbb5b 74.5px,#b9bd63 75.5px,#c3bc5f 76.5px,#c5bc5e 77.5px,#bfbc60 78.5px,#c2bc5f 79.5px,#c4bc5f 80.5px,#c6bc5d 81.5px,#cfbb5a 82.5px,#dcba54 83.5px,#f1b94a 84.5px,#fec03b 85.5px,#fec03b 86.5px,#e9b94e 87.5px,#c5bc5e 88.5px,#afbe67 89.5px,#aebe67 90.5px,#bfbc60 91.5px,#daba55 92.5px,#f6ba46 93.5px,#fdcb30 94.5px,#fad32a 95.5px,#f8d628 96.5px,#f8d726 97.5px,#f8d727 98.5px,#f9d528 99.5px,#fad12b 100.5px,#ffc338 101.5px,#e1ba52 102.5px,#c0bc60 103.5px,#b4bd65 104.5px)"></i><i style="left:30.0px;width:2.05px;background:linear-gradient(#5bbd8a 0.5px,#72bf80 1.5px,#78bf7d 2.5px,#67be85 3.5px,#72bf80 4.5px,#7dbf7b 5.5px,#6dbf82 6.5px,#6ebf82 7.5px,#6dbf82 8.5px,#5fbe88 9.5px,#67be85 10.5px,#70bf81 11.5px,#6abe84 12.5px,#77bf7e 13.5px,#7dbf7b 14.5px,#6bbf83 15.5px,#77bf7e 16.5px,#81bf7a 17.5px,#73bf80 18.5px,#7fbf7a 19.5px,#8bbf75 20.5px,#7dbf7b 21.5px,#85bf78 22.5px,#8dbf75 23.5px,#85bf78 24.5px,#95bf71 25.5px,#a3be6b 26.5px,#9fbe6d 27.5px,#a9be69 28.5px,#b2bd66 29.5px,#a9be69 30.5px,#b1bd66 31.5px,#b6bd64 32.5px,#a6be6a 33.5px,#acbe68 34.5px,#c1bc5f 35.5px,#c7bc5d 36.5px,#d7ba57 37.5px,#deba53 38.5px,#cebb5a 39.5px,#d4bb58 40.5px,#deba53 41.5px,#dbba55 42.5px,#e3b951 43.5px,#e9b94e 44.5px,#ddba54 45.5px,#dfba53 46.5px,#ddba54 47.5px,#c9bb5c 48.5px,#ccbb5b 49.5px,#ccbb5b 50.5px,#c1bc60 51.5px,#c9bb5c 52.5px,#d7ba57 53.5px,#d9ba56 54.5px,#e1b952 55.5px,#dfba53 56.5px,#ccbb5b 57.5px,#cabb5c 58.5px,#cabb5c 59.5px,#c1bc60 60.5px,#cabb5c 61.5px,#cbbb5c 62.5px,#bfbc60 63.5px,#c8bc5d 64.5px,#cbbb5b 65.5px,#c1bc5f 66.5px,#cdbb5b 67.5px,#e4b950 68.5px,#f6ba46 69.5px,#ffc436 70.5px,#fec832 71.5px,#febf3c 72.5px,#eab94e 73.5px,#cabb5c 74.5px,#b7bd64 75.5px,#bdbc61 76.5px,#c3bc5f 77.5px,#bebc61 78.5px,#bfbc61 79.5px,#bebc61 80.5px,#b6bd64 81.5px,#b7bd64 82.5px,#bbbd62 83.5px,#c9bb5c 84.5px,#ddba54 85.5px,#deba53 86.5px,#c9bc5d 87.5px,#b6bd64 88.5px,#adbe68 89.5px,#a9be69 90.5px,#b2bd65 91.5px,#b6bd64 92.5px,#bbbd62 93.5px,#cfbb5a 94.5px,#dbba55 95.5px,#e1b952 96.5px,#e9b94e 97.5px,#e6b94f 98.5px,#d9ba56 99.5px,#d0bb5a 100.5px,#c2bc5f 101.5px,#a9be69 102.5px,#a6be6a 103.5px,#adbe67 104.5px)"></i><i style="left:32.0px;width:2.05px;background:linear-gradient(#74bf7f 0.5px,#8abf76 1.5px,#93bf72 2.5px,#86bf77 3.5px,#90bf73 4.5px,#98bf70 5.5px,#89bf76 6.5px,#8bbf75 7.5px,#8cbf75 8.5px,#7fbf7a 9.5px,#87bf77 10.5px,#8fbf73 11.5px,#8bbf75 12.5px,#9bbf6f 13.5px,#a2be6c 14.5px,#91bf73 15.5px,#96bf71 16.5px,#97bf70 17.5px,#87bf77 18.5px,#96bf71 19.5px,#a0be6d 20.5px,#92bf73 21.5px,#9cbf6e 22.5px,#a4be6b 23.5px,#9ebe6e 24.5px,#b5bd64 25.5px,#c7bc5d 26.5px,#c1bc60 27.5px,#c7bc5d 28.5px,#d0bb5a 29.5px,#cdbb5b 30.5px,#d9ba56 31.5px,#e1b952 32.5px,#dbba55 33.5px,#e9b94e 34.5px,#fabb42 35.5px,#f6ba45 36.5px,#fdbe3d 37.5px,#fec139 38.5px,#f5ba46 39.5px,#f9bb43 40.5px,#febf3c 41.5px,#fbbc40 42.5px,#ffc337 43.5px,#fdcb30 44.5px,#fec536 45.5px,#fec833 46.5px,#ffc436 47.5px,#f1b94a 48.5px,#eeb94b 49.5px,#eab94e 50.5px,#daba55 51.5px,#dfba53 52.5px,#eeb94b 53.5px,#f3ba48 54.5px,#fcbd3f 55.5px,#fcbd40 56.5px,#e4b951 57.5px,#d8ba56 58.5px,#d1bb59 59.5px,#bfbc60 60.5px,#c0bc60 61.5px,#bdbc61 62.5px,#aebe67 63.5px,#b9bd63 64.5px,#bebc61 65.5px,#aabe69 66.5px,#aabe69 67.5px,#b1bd66 68.5px,#b7bd64 69.5px,#cbbb5b 70.5px,#d1bb59 71.5px,#b8bd63 72.5px,#9fbe6d 73.5px,#8dbf74 74.5px,#7ebf7b 75.5px,#7dbf7b 76.5px,#7abf7c 77.5px,#70bf80 78.5px,#75bf7e 79.5px,#7fbf7a 80.5px,#7cbf7b 81.5px,#78bf7d 82.5px,#6cbf82 83.5px,#67be85 84.5px,#74bf7f 85.5px,#77bf7e 86.5px,#6fbf81 87.5px,#69be84 88.5px,#62be87 89.5px,#5ebe89 90.5px,#63be87 91.5px,#60be88 92.5px,#63be87 93.5px,#69be84 94.5px,#64be86 95.5px,#5cbe8a 96.5px,#5ebe89 97.5px,#60be88 98.5px,#5bbd8b 99.5px,#5cbe8a 100.5px,#5ebe89 101.5px,#53bd8f 102.5px,#52bd8f 103.5px,#55bd8d 104.5px)"></i><i style="left:34.0px;width:2.05px;background:linear-gradient(#6dbf82 0.5px,#82bf79 1.5px,#88bf77 2.5px,#7bbf7c 3.5px,#88bf76 4.5px,#95bf71 5.5px,#8fbf74 6.5px,#99bf70 7.5px,#96bf71 8.5px,#88bf77 9.5px,#92bf73 10.5px,#95bf71 11.5px,#8ebf74 12.5px,#9dbf6e 13.5px,#a2be6c 14.5px,#94bf72 15.5px,#98bf70 16.5px,#93bf72 17.5px,#81bf7a 18.5px,#93bf72 19.5px,#9dbe6e 20.5px,#95bf71 21.5px,#a5be6b 22.5px,#a7be6a 23.5px,#9cbf6e 24.5px,#b5bd64 25.5px,#c4bc5e 26.5px,#bdbd61 27.5px,#c9bc5c 28.5px,#d1bb59 29.5px,#cebb5a 30.5px,#d8ba56 31.5px,#dcba54 32.5px,#dbba55 33.5px,#f1b949 34.5px,#fbbd40 35.5px,#f4ba47 36.5px,#fcbd3f 37.5px,#fec13a 38.5px,#f9bb43 39.5px,#fdbe3d 40.5px,#fec03b 41.5px,#fabc42 42.5px,#ffc437 43.5px,#fec931 44.5px,#ffc536 45.5px,#fdca31 46.5px,#fec635 47.5px,#f5ba47 48.5px,#f4ba47 49.5px,#f1b94a 50.5px,#dfba53 51.5px,#e1b952 52.5px,#ecb94d 53.5px,#f2b949 54.5px,#fdbe3e 55.5px,#fbbc41 56.5px,#e1b952 57.5px,#d2bb59 58.5px,#c9bc5d 59.5px,#b8bd63 60.5px,#babd62 61.5px,#b6bd64 62.5px,#a6be6a 63.5px,#aebe67 64.5px,#aebe67 65.5px,#9cbf6f 66.5px,#9fbe6d 67.5px,#a1be6c 68.5px,#9abf6f 69.5px,#a2be6c 70.5px,#9dbe6e 71.5px,#80bf7a 72.5px,#75bf7f 73.5px,#74bf7f 74.5px,#68be84 75.5px,#67be85 76.5px,#66be85 77.5px,#60be88 78.5px,#69be84 79.5px,#6dbf82 80.5px,#66be85 81.5px,#66be85 82.5px,#66be85 83.5px,#66be85 84.5px,#68be84 85.5px,#64be86 86.5px,#5dbe8a 87.5px,#57bd8c 88.5px,#50bc90 89.5px,#52bd8f 90.5px,#5abd8b 91.5px,#55bd8e 92.5px,#50bc90 93.5px,#56bd8d 94.5px,#5bbd8a 95.5px,#5cbe8a 96.5px,#5ebe89 97.5px,#62be87 98.5px,#60be88 99.5px,#60be88 100.5px,#5abd8b 101.5px,#4ebc91 102.5px,#4bbc93 103.5px,#4cbc92 104.5px)"></i><i style="left:36.0px;width:2.05px;background:linear-gradient(#6bbf83 0.5px,#7dbf7b 1.5px,#8bbf75 2.5px,#83bf79 3.5px,#8cbf75 4.5px,#96bf71 5.5px,#8cbf75 6.5px,#8abf76 7.5px,#86bf77 8.5px,#7ebf7b 9.5px,#91bf73 10.5px,#96bf71 11.5px,#89bf76 12.5px,#97bf70 13.5px,#9dbf6e 14.5px,#93bf72 15.5px,#9bbf6f 16.5px,#97bf70 17.5px,#85bf78 18.5px,#90bf73 19.5px,#97bf70 20.5px,#93bf72 21.5px,#a3be6c 22.5px,#a4be6b 23.5px,#94bf72 24.5px,#a9be69 25.5px,#babd62 26.5px,#b7bd64 27.5px,#c5bc5e 28.5px,#d1bb59 29.5px,#cfbb5a 30.5px,#d7ba57 31.5px,#d2bb58 32.5px,#c9bb5c 33.5px,#deba53 34.5px,#efb94b 35.5px,#eab94e 36.5px,#f3ba48 37.5px,#f9bb44 38.5px,#efb94b 39.5px,#f6ba46 40.5px,#fabb42 41.5px,#f5ba47 42.5px,#fcbd3f 43.5px,#fdbe3d 44.5px,#fabc42 45.5px,#fec13a 46.5px,#fdbe3e 47.5px,#e9b94e 48.5px,#e6b94f 49.5px,#e7b94f 50.5px,#dbba55 51.5px,#e3b951 52.5px,#f0b94a 53.5px,#f1b94a 54.5px,#fabc42 55.5px,#f9bb43 56.5px,#e4b950 57.5px,#dfba53 58.5px,#deba53 59.5px,#d1bb59 60.5px,#d4bb58 61.5px,#d2bb59 62.5px,#c6bc5e 63.5px,#cbbb5b 64.5px,#cabb5c 65.5px,#bfbc61 66.5px,#c7bc5d 67.5px,#d8ba56 68.5px,#e2b951 69.5px,#dfba53 70.5px,#c8bc5d 71.5px,#b5bd64 72.5px,#bbbd62 73.5px,#bebc61 74.5px,#b0be67 75.5px,#aabe69 76.5px,#a9be69 77.5px,#a4be6b 78.5px,#a7be6a 79.5px,#a7be6a 80.5px,#a4be6b 81.5px,#bbbd62 82.5px,#daba55 83.5px,#e4b951 84.5px,#dbba55 85.5px,#c3bc5f 86.5px,#a8be6a 87.5px,#9fbe6d 88.5px,#9cbf6e 89.5px,#9fbe6d 90.5px,#afbe67 91.5px,#bbbd62 92.5px,#c3bc5f 93.5px,#d6ba57 94.5px,#e5b950 95.5px,#eab94d 96.5px,#f3b948 97.5px,#f8ba44 98.5px,#f2b949 99.5px,#f1b949 100.5px,#ebb94d 101.5px,#d4bb58 102.5px,#c6bc5d 103.5px,#c5bc5e 104.5px)"></i><i style="left:38.0px;width:2.05px;background:linear-gradient(#38b99d 0.5px,#48bb94 1.5px,#50bc90 2.5px,#4abc93 3.5px,#52bd8f 4.5px,#4fbc91 5.5px,#4bbc93 6.5px,#54bd8e 7.5px,#4cbc92 8.5px,#45bb96 9.5px,#5abd8b 10.5px,#5bbe8a 11.5px,#50bc90 12.5px,#5fbe89 13.5px,#5abd8b 14.5px,#4cbc92 15.5px,#5abd8b 16.5px,#58bd8c 17.5px,#50bc90 18.5px,#5ebe89 19.5px,#5abd8b 20.5px,#54bd8e 21.5px,#6abe83 22.5px,#6ebf82 23.5px,#60be88 24.5px,#69be84 25.5px,#6fbf81 26.5px,#6fbf81 27.5px,#82bf79 28.5px,#88bf77 29.5px,#83bf79 30.5px,#8dbf74 31.5px,#8bbf75 32.5px,#84bf78 33.5px,#92bf72 34.5px,#99bf6f 35.5px,#99bf70 36.5px,#a4be6b 37.5px,#a6be6a 38.5px,#9ebe6d 39.5px,#a7be6a 40.5px,#a8be69 41.5px,#a8be6a 42.5px,#b7bd64 43.5px,#b5bd65 44.5px,#aebe67 45.5px,#b8bd63 46.5px,#b4bd65 47.5px,#abbe68 48.5px,#b8bd63 49.5px,#b9bd63 50.5px,#afbe67 51.5px,#bbbd62 52.5px,#bfbc61 53.5px,#bbbd62 54.5px,#cfbb5a 55.5px,#dfba53 56.5px,#e6b94f 57.5px,#f5ba46 58.5px,#edb94c 59.5px,#dcba54 60.5px,#ddba54 61.5px,#ccbb5b 62.5px,#b9bd63 63.5px,#bfbc60 64.5px,#bebc61 65.5px,#b8bd63 66.5px,#c7bc5d 67.5px,#e0ba52 68.5px,#f6ba46 69.5px,#f4ba48 70.5px,#cfbb5a 71.5px,#b8bd63 72.5px,#c4bc5e 73.5px,#c5bc5e 74.5px,#bbbd62 75.5px,#babd62 76.5px,#b6bd64 77.5px,#aebe67 78.5px,#afbe67 79.5px,#acbe68 80.5px,#b1bd66 81.5px,#d8ba56 82.5px,#fbbd40 83.5px,#fec239 84.5px,#febf3c 85.5px,#e7b94f 86.5px,#bcbd62 87.5px,#aabe69 88.5px,#a9be69 89.5px,#aebe67 90.5px,#c8bc5d 91.5px,#e0ba52 92.5px,#f2b949 93.5px,#ffc338 94.5px,#fdca31 95.5px,#fdca31 96.5px,#fccc2f 97.5px,#fdcc2f 98.5px,#fec932 99.5px,#fdcb30 100.5px,#fec634 101.5px,#fbbc41 102.5px,#f5ba47 103.5px,#f4ba48 104.5px)"></i><i style="left:40.0px;width:2.05px;background:linear-gradient(#06a0cd 0.5px,#06a2cb 1.5px,#06a3ca 2.5px,#06a2cc 3.5px,#06a2cc 4.5px,#06a3cb 5.5px,#06a3ca 6.5px,#06a3cb 7.5px,#06a1cc 8.5px,#06a2cb 9.5px,#06a5c9 10.5px,#06a5c8 11.5px,#06a5c9 12.5px,#06a5c8 13.5px,#06a5c9 14.5px,#06a3ca 15.5px,#06a5c8 16.5px,#06a7c6 17.5px,#06a6c7 18.5px,#06a7c6 19.5px,#06a7c5 20.5px,#06a7c6 21.5px,#06a7c5 22.5px,#07a9c2 23.5px,#08aac1 24.5px,#08aac0 25.5px,#07aac2 26.5px,#07aac1 27.5px,#0aacbd 28.5px,#0dadbb 29.5px,#0eaeba 30.5px,#13b0b6 31.5px,#16b1b4 32.5px,#14b0b5 33.5px,#14b0b5 34.5px,#17b1b3 35.5px,#19b2b2 36.5px,#1bb2b0 37.5px,#1fb4ad 38.5px,#22b4ac 39.5px,#22b4ab 40.5px,#27b5a8 41.5px,#2db7a4 42.5px,#35b89f 43.5px,#34b8a0 44.5px,#35b8a0 45.5px,#3eba9a 46.5px,#3eba9a 47.5px,#3eba9a 48.5px,#4dbc91 49.5px,#51bc90 50.5px,#4abc93 51.5px,#56bd8d 52.5px,#59bd8b 53.5px,#56bd8d 54.5px,#72bf80 55.5px,#9fbe6d 56.5px,#c8bc5d 57.5px,#eab94d 58.5px,#e6b950 59.5px,#d2bb59 60.5px,#c6bc5d 61.5px,#a7be6a 62.5px,#8cbf75 63.5px,#96bf71 64.5px,#9cbf6e 65.5px,#9cbf6e 66.5px,#b0be67 67.5px,#cebb5a 68.5px,#edb94c 69.5px,#eab94e 70.5px,#c0bc60 71.5px,#adbe68 72.5px,#bbbd62 73.5px,#bdbd61 74.5px,#b6bd64 75.5px,#bdbd61 76.5px,#bcbd62 77.5px,#b5bd64 78.5px,#b6bd64 79.5px,#b1bd66 80.5px,#b7bd64 81.5px,#d9ba56 82.5px,#f6ba45 83.5px,#fdbe3d 84.5px,#fdbe3e 85.5px,#e1ba52 86.5px,#b6bd64 87.5px,#abbe69 88.5px,#abbe68 89.5px,#afbe67 90.5px,#c6bc5e 91.5px,#e0ba52 92.5px,#f3ba48 93.5px,#fec239 94.5px,#fec833 95.5px,#fec634 96.5px,#fec734 97.5px,#fec535 98.5px,#fec536 99.5px,#fec932 100.5px,#fec536 101.5px,#f9bb43 102.5px,#ecb94c 103.5px,#e5b950 104.5px)"></i><i style="left:42.0px;width:2.05px;background:linear-gradient(#08aac1 0.5px,#0badbc 1.5px,#0badbc 2.5px,#09abbf 3.5px,#09abbf 4.5px,#09abbf 5.5px,#09abbf 6.5px,#0cadbc 7.5px,#0faeb9 8.5px,#0eaeba 9.5px,#10afb8 10.5px,#0cadbc 11.5px,#09abbf 12.5px,#09abbe 13.5px,#0aacbe 14.5px,#0badbc 15.5px,#11afb7 16.5px,#15b1b4 17.5px,#11afb7 18.5px,#14b0b5 19.5px,#18b1b3 20.5px,#10afb8 21.5px,#0faeb9 22.5px,#15b0b4 23.5px,#18b1b3 24.5px,#19b2b1 25.5px,#1db3af 26.5px,#1eb3ae 27.5px,#25b5aa 28.5px,#26b5a9 29.5px,#25b5a9 30.5px,#30b7a3 31.5px,#36b99f 32.5px,#33b8a1 33.5px,#37b99e 34.5px,#3ab99d 35.5px,#31b8a2 36.5px,#33b8a1 37.5px,#3fba9a 38.5px,#3fba9a 39.5px,#43bb97 40.5px,#49bc94 41.5px,#4cbc92 42.5px,#56bd8d 43.5px,#52bd8f 44.5px,#4dbc92 45.5px,#5ebe89 46.5px,#67be85 47.5px,#5fbe89 48.5px,#66be85 49.5px,#71bf80 50.5px,#6bbe83 51.5px,#71bf80 52.5px,#79bf7d 53.5px,#72bf80 54.5px,#7dbf7b 55.5px,#87bf77 56.5px,#8cbf75 57.5px,#a7be6a 58.5px,#aebe67 59.5px,#9dbf6e 60.5px,#a1be6c 61.5px,#a6be6b 62.5px,#a2be6c 63.5px,#afbe67 64.5px,#b4bd65 65.5px,#a8be6a 66.5px,#aabe69 67.5px,#b7bd64 68.5px,#c6bc5e 69.5px,#c7bc5d 70.5px,#b1bd66 71.5px,#a0be6d 72.5px,#a5be6b 73.5px,#a7be6a 74.5px,#9fbe6d 75.5px,#a5be6b 76.5px,#a7be6a 77.5px,#a5be6b 78.5px,#a9be69 79.5px,#a7be6a 80.5px,#a8be6a 81.5px,#b9bd63 82.5px,#cfbb5a 83.5px,#d9ba55 84.5px,#d3bb58 85.5px,#b4bd65 86.5px,#98bf70 87.5px,#9bbf6f 88.5px,#9ebe6e 89.5px,#99bf6f 90.5px,#a4be6b 91.5px,#b1bd66 92.5px,#b8bd63 93.5px,#c7bc5d 94.5px,#d1bb59 95.5px,#d2bb58 96.5px,#d8ba56 97.5px,#daba55 98.5px,#d6ba57 99.5px,#d5ba57 100.5px,#cebb5a 101.5px,#bcbd62 102.5px,#acbe68 103.5px,#a6be6a 104.5px)"></i><i style="left:44.0px;width:2.05px;background:linear-gradient(#55bd8e 0.5px,#5dbe89 1.5px,#5ebe89 2.5px,#59bd8b 3.5px,#64be86 4.5px,#66be85 5.5px,#5bbd8b 6.5px,#67be85 7.5px,#74bf7f 8.5px,#68be84 9.5px,#71bf80 10.5px,#75bf7e 11.5px,#62be87 12.5px,#63be87 13.5px,#65be86 14.5px,#60be88 15.5px,#6ebf82 16.5px,#70bf81 17.5px,#61be87 18.5px,#70bf81 19.5px,#7ebf7b 20.5px,#6dbf82 21.5px,#6dbf82 22.5px,#76bf7e 23.5px,#6ebf82 24.5px,#78bf7d 25.5px,#81bf79 26.5px,#78bf7d 27.5px,#81bf79 28.5px,#87bf77 29.5px,#7abf7c 30.5px,#88bf76 31.5px,#95bf71 32.5px,#90bf73 33.5px,#98bf70 34.5px,#9cbf6f 35.5px,#8cbf75 36.5px,#96bf71 37.5px,#a4be6b 38.5px,#98bf70 39.5px,#9ebe6d 40.5px,#a8be69 41.5px,#a1be6d 42.5px,#a9be69 43.5px,#a9be69 44.5px,#9cbf6f 45.5px,#afbe67 46.5px,#bebc61 47.5px,#afbe67 48.5px,#b0bd66 49.5px,#b9bd63 50.5px,#b0bd67 51.5px,#b4bd65 52.5px,#b9bd63 53.5px,#aebe67 54.5px,#b1bd66 55.5px,#b3bd65 56.5px,#a9be69 57.5px,#b6bd64 58.5px,#bbbd62 59.5px,#a8be69 60.5px,#b5bd65 61.5px,#d8ba56 62.5px,#f1b94a 63.5px,#ffc238 64.5px,#fec536 65.5px,#f2b949 66.5px,#dbba55 67.5px,#bfbc60 68.5px,#a6be6a 69.5px,#a9be69 70.5px,#a8be6a 71.5px,#92bf73 72.5px,#8dbf75 73.5px,#90bf73 74.5px,#88bf76 75.5px,#89bf76 76.5px,#88bf77 77.5px,#7fbf7a 78.5px,#82bf79 79.5px,#88bf77 80.5px,#8abf76 81.5px,#8fbf74 82.5px,#92bf72 83.5px,#8dbf74 84.5px,#8fbf73 85.5px,#99bf6f 86.5px,#96bf71 87.5px,#90bf73 88.5px,#87bf77 89.5px,#7cbf7c 90.5px,#7fbf7a 91.5px,#83bf79 92.5px,#7fbf7a 93.5px,#83bf78 94.5px,#8abf76 95.5px,#8dbf74 96.5px,#9abf6f 97.5px,#a8be69 98.5px,#a7be6a 99.5px,#a3be6c 100.5px,#9abf6f 101.5px,#8bbf75 102.5px,#85bf78 103.5px,#85bf78 104.5px)"></i><i style="left:46.0px;width:2.05px;background:linear-gradient(#5bbd8a 0.5px,#63be86 1.5px,#69be84 2.5px,#62be87 3.5px,#64be86 4.5px,#68be84 5.5px,#60be88 6.5px,#66be85 7.5px,#70bf81 8.5px,#67be85 9.5px,#74bf7f 10.5px,#82bf79 11.5px,#75bf7e 12.5px,#73bf7f 13.5px,#76bf7e 14.5px,#69be84 15.5px,#6cbf82 16.5px,#73bf7f 17.5px,#67be85 18.5px,#6dbf82 19.5px,#7fbf7a 20.5px,#79bf7d 21.5px,#7cbf7b 22.5px,#85bf78 23.5px,#76bf7e 24.5px,#77bf7e 25.5px,#82bf79 26.5px,#7bbf7c 27.5px,#7ebf7a 28.5px,#82bf79 29.5px,#73bf80 30.5px,#82bf79 31.5px,#9bbf6f 32.5px,#96bf71 33.5px,#98bf70 34.5px,#9fbe6d 35.5px,#94bf72 36.5px,#9ebe6e 37.5px,#adbe68 38.5px,#9ebe6e 39.5px,#a4be6b 40.5px,#b5bd64 41.5px,#aabe69 42.5px,#a7be6a 43.5px,#acbe68 44.5px,#a1be6d 45.5px,#aebe67 46.5px,#bfbc61 47.5px,#b2bd66 48.5px,#b4bd65 49.5px,#c0bc60 50.5px,#b7bd64 51.5px,#bcbd61 52.5px,#c4bc5f 53.5px,#b2bd66 54.5px,#b4bd65 55.5px,#bebc61 56.5px,#b5bd65 57.5px,#bbbd62 58.5px,#c5bc5e 59.5px,#b5bd64 60.5px,#babd62 61.5px,#ddba54 62.5px,#f5ba47 63.5px,#ffc337 64.5px,#fdca31 65.5px,#fdbe3e 66.5px,#eab94e 67.5px,#cfbb5a 68.5px,#b3bd65 69.5px,#b5bd64 70.5px,#babd62 71.5px,#a8be6a 72.5px,#a6be6b 73.5px,#adbe68 74.5px,#a6be6b 75.5px,#a6be6b 76.5px,#a8be69 77.5px,#9dbf6e 78.5px,#9cbf6e 79.5px,#a0be6d 80.5px,#9dbe6e 81.5px,#9fbe6d 82.5px,#a1be6d 83.5px,#9cbf6f 84.5px,#b2bd66 85.5px,#d9ba56 86.5px,#deba53 87.5px,#c6bc5e 88.5px,#a3be6b 89.5px,#8ebf74 90.5px,#91bf73 91.5px,#95bf71 92.5px,#94bf72 93.5px,#a2be6c 94.5px,#bebc61 95.5px,#d4bb58 96.5px,#e7b94f 97.5px,#f8ba44 98.5px,#f8bb44 99.5px,#f4ba47 100.5px,#efb94b 101.5px,#e0ba53 102.5px,#d0bb5a 103.5px,#c8bc5d 104.5px)"></i><i style="left:48.0px;width:2.05px;background:linear-gradient(#12afb7 0.5px,#18b2b2 1.5px,#1ab2b1 2.5px,#18b1b3 3.5px,#18b1b2 4.5px,#1cb3af 5.5px,#19b2b2 6.5px,#16b1b4 7.5px,#1ab2b1 8.5px,#19b2b2 9.5px,#18b1b2 10.5px,#1cb3af 11.5px,#1cb3af 12.5px,#1bb2b0 13.5px,#1fb3ae 14.5px,#1ab2b1 15.5px,#17b1b3 16.5px,#1bb2b0 17.5px,#1ab2b1 18.5px,#1eb3ae 19.5px,#27b6a8 20.5px,#24b5aa 21.5px,#21b4ac 22.5px,#21b4ac 23.5px,#18b1b2 24.5px,#1bb2b0 25.5px,#2ab6a7 26.5px,#2ab6a6 27.5px,#29b6a7 28.5px,#2ab6a6 29.5px,#26b5a9 30.5px,#2eb7a4 31.5px,#37b99e 32.5px,#31b8a2 33.5px,#31b8a2 34.5px,#39b99d 35.5px,#34b8a0 36.5px,#36b99f 37.5px,#44bb97 38.5px,#40ba99 39.5px,#42bb98 40.5px,#4cbc93 41.5px,#47bb95 42.5px,#48bb94 43.5px,#51bc90 44.5px,#4dbc92 45.5px,#4ebc91 46.5px,#59bd8b 47.5px,#56bd8d 48.5px,#55bd8d 49.5px,#5fbe89 50.5px,#5fbe88 51.5px,#65be86 52.5px,#6cbf83 53.5px,#60be88 54.5px,#62be87 55.5px,#6ebf81 56.5px,#6abe83 57.5px,#72bf80 58.5px,#7fbf7a 59.5px,#7bbf7c 60.5px,#81bf79 61.5px,#94bf71 62.5px,#98bf70 63.5px,#9fbe6d 64.5px,#acbe68 65.5px,#a9be69 66.5px,#a6be6a 67.5px,#a9be69 68.5px,#9dbe6e 69.5px,#a1be6d 70.5px,#aebe67 71.5px,#abbe68 72.5px,#afbe67 73.5px,#afbe67 74.5px,#a1be6c 75.5px,#a1be6c 76.5px,#abbe68 77.5px,#a6be6a 78.5px,#a5be6b 79.5px,#a9be69 80.5px,#a4be6b 81.5px,#a4be6b 82.5px,#a4be6b 83.5px,#a1be6d 84.5px,#bebc61 85.5px,#e5b950 86.5px,#e8b94f 87.5px,#d0bb59 88.5px,#acbe68 89.5px,#93bf72 90.5px,#95bf71 91.5px,#9dbe6e 92.5px,#9cbf6e 93.5px,#afbe67 94.5px,#d6ba57 95.5px,#f1b94a 96.5px,#fdbe3d 97.5px,#fec239 98.5px,#fbbd40 99.5px,#f9bb43 100.5px,#fcbd40 101.5px,#f6ba46 102.5px,#e4b950 103.5px,#daba55 104.5px)"></i><i style="left:50.0px;width:2.05px;background:linear-gradient(#0998d1 0.5px,#0899d1 1.5px,#0899d1 2.5px,#079bd0 3.5px,#079dcf 4.5px,#079cd0 5.5px,#0899d1 6.5px,#0a97d1 7.5px,#089ad0 8.5px,#089ad0 9.5px,#0998d1 10.5px,#0999d1 11.5px,#079cd0 12.5px,#079ccf 13.5px,#079dcf 14.5px,#079bd0 15.5px,#089ad0 16.5px,#089bd0 17.5px,#079cd0 18.5px,#079ecf 19.5px,#079dcf 20.5px,#079cd0 21.5px,#079cd0 22.5px,#079cd0 23.5px,#089bd0 24.5px,#079dcf 25.5px,#069ece 26.5px,#069fce 27.5px,#069fce 28.5px,#079ece 29.5px,#069fce 30.5px,#06a2cc 31.5px,#06a2cb 32.5px,#06a2cb 33.5px,#06a4c9 34.5px,#06a6c6 35.5px,#06a7c5 36.5px,#06a7c6 37.5px,#06a6c7 38.5px,#06a6c7 39.5px,#06a6c7 40.5px,#06a6c7 41.5px,#06a7c6 42.5px,#07a9c3 43.5px,#08aac1 44.5px,#08aac0 45.5px,#07aac1 46.5px,#09acbe 47.5px,#0daeba 48.5px,#0cadbb 49.5px,#0aacbd 50.5px,#0cadbc 51.5px,#0faeb9 52.5px,#13b0b6 53.5px,#17b1b3 54.5px,#1cb3af 55.5px,#1fb3ae 56.5px,#1db3af 57.5px,#20b4ad 58.5px,#28b6a8 59.5px,#2eb7a4 60.5px,#3dba9b 61.5px,#49bc94 62.5px,#48bb94 63.5px,#4cbc92 64.5px,#54bd8e 65.5px,#5ebe89 66.5px,#78bf7d 67.5px,#87bf77 68.5px,#7ebf7b 69.5px,#85bf78 70.5px,#8dbf74 71.5px,#8bbf75 72.5px,#95bf71 73.5px,#99bf70 74.5px,#8cbf75 75.5px,#8cbf75 76.5px,#95bf71 77.5px,#95bf71 78.5px,#98bf70 79.5px,#98bf70 80.5px,#91bf73 81.5px,#93bf72 82.5px,#95bf71 83.5px,#91bf73 84.5px,#9ebe6e 85.5px,#bdbd61 86.5px,#c2bc5f 87.5px,#acbe68 88.5px,#91bf73 89.5px,#81bf79 90.5px,#84bf78 91.5px,#85bf78 92.5px,#7dbf7b 93.5px,#8abf76 94.5px,#a6be6a 95.5px,#bcbd62 96.5px,#d2bb59 97.5px,#deba54 98.5px,#d5ba57 99.5px,#cfbb5a 100.5px,#cebb5a 101.5px,#c1bc60 102.5px,#b5bd64 103.5px,#b3bd65 104.5px)"></i><i style="left:52.0px;width:2.05px;background:linear-gradient(#06a7c6 0.5px,#06a7c5 1.5px,#06a8c3 2.5px,#07a9c3 3.5px,#07aac2 4.5px,#08abc0 5.5px,#08aac1 6.5px,#07aac1 7.5px,#07aac1 8.5px,#06a8c4 9.5px,#06a8c4 10.5px,#08aac1 11.5px,#09abbf 12.5px,#09abbe 13.5px,#09abbf 14.5px,#08abc0 15.5px,#09abbf 16.5px,#08abc0 17.5px,#07a9c3 18.5px,#07a9c3 19.5px,#08aac0 20.5px,#08abc0 21.5px,#09abbf 22.5px,#09abbe 23.5px,#09acbe 24.5px,#0faeb9 25.5px,#11afb7 26.5px,#0cadbc 27.5px,#09abbf 28.5px,#08abc0 29.5px,#09abbf 30.5px,#0cadbc 31.5px,#0faeb9 32.5px,#11afb8 33.5px,#15b1b4 34.5px,#1bb2b0 35.5px,#1cb3b0 36.5px,#1ab2b1 37.5px,#1ab2b1 38.5px,#18b1b3 39.5px,#19b2b2 40.5px,#1cb3af 41.5px,#1ab2b1 42.5px,#1bb2b1 43.5px,#1eb3ae 44.5px,#18b1b2 45.5px,#1ab2b1 46.5px,#27b6a8 47.5px,#2bb6a6 48.5px,#2ab6a6 49.5px,#2bb6a5 50.5px,#28b6a8 51.5px,#2bb6a6 52.5px,#31b8a2 53.5px,#2db7a4 54.5px,#2eb7a4 55.5px,#31b8a2 56.5px,#2db7a5 57.5px,#31b8a2 58.5px,#3bb99c 59.5px,#37b99e 60.5px,#3eba9a 61.5px,#45bb96 62.5px,#3fba99 63.5px,#3eba9a 64.5px,#42bb98 65.5px,#48bb95 66.5px,#53bd8f 67.5px,#59bd8c 68.5px,#53bd8e 69.5px,#54bd8e 70.5px,#59bd8c 71.5px,#55bd8d 72.5px,#58bd8c 73.5px,#59bd8c 74.5px,#50bc90 75.5px,#52bd8f 76.5px,#5abd8b 77.5px,#5bbd8b 78.5px,#57bd8c 79.5px,#55bd8d 80.5px,#64be86 81.5px,#76bf7e 82.5px,#6cbf83 83.5px,#4dbc91 84.5px,#43bb97 85.5px,#4bbc93 86.5px,#4ebc91 87.5px,#48bb94 88.5px,#44bb97 89.5px,#3fba9a 90.5px,#3dba9b 91.5px,#40ba99 92.5px,#45bb96 93.5px,#59bd8b 94.5px,#71bf80 95.5px,#7dbf7b 96.5px,#8cbf75 97.5px,#96bf71 98.5px,#8fbf74 99.5px,#87bf77 100.5px,#77bf7e 101.5px,#51bd90 102.5px,#3eba9a 103.5px,#3eba9a 104.5px)"></i><i style="left:54.0px;width:2.05px;background:linear-gradient(#59bd8c 0.5px,#5ebe89 1.5px,#69be84 2.5px,#61be88 3.5px,#5cbe8a 4.5px,#69be84 5.5px,#68be84 6.5px,#68be84 7.5px,#71bf80 8.5px,#63be87 9.5px,#5dbe8a 10.5px,#6ebf82 11.5px,#6abe83 12.5px,#6abe84 13.5px,#78bf7d 14.5px,#6dbf82 15.5px,#6bbe83 16.5px,#77bf7e 17.5px,#66be85 18.5px,#5ebe89 19.5px,#6ebf82 20.5px,#6abe83 21.5px,#65be85 22.5px,#6dbf82 23.5px,#66be85 24.5px,#69be84 25.5px,#78bf7d 26.5px,#6cbf83 27.5px,#5fbe89 28.5px,#61be87 29.5px,#5fbe89 30.5px,#69be84 31.5px,#76bf7e 32.5px,#69be84 33.5px,#6cbf83 34.5px,#7cbf7b 35.5px,#76bf7e 36.5px,#74bf7f 37.5px,#80bf7a 38.5px,#7abf7c 39.5px,#79bf7d 40.5px,#89bf76 41.5px,#84bf78 42.5px,#7bbf7c 43.5px,#83bf79 44.5px,#7dbf7b 45.5px,#82bf79 46.5px,#98bf70 47.5px,#93bf72 48.5px,#8fbf74 49.5px,#9abf6f 50.5px,#92bf72 51.5px,#8ebf74 52.5px,#97bf70 53.5px,#8ebf74 54.5px,#8dbf74 55.5px,#9cbf6e 56.5px,#98bf70 57.5px,#9cbf6e 58.5px,#acbe68 59.5px,#9ebe6e 60.5px,#97bf70 61.5px,#a2be6c 62.5px,#9cbf6e 63.5px,#9dbf6e 64.5px,#a6be6b 65.5px,#9cbf6f 66.5px,#98bf70 67.5px,#a4be6b 68.5px,#a1be6c 69.5px,#9fbe6d 70.5px,#acbe68 71.5px,#adbe68 72.5px,#aabe69 73.5px,#abbe69 74.5px,#9fbe6d 75.5px,#9cbf6e 76.5px,#a5be6b 77.5px,#a7be6a 78.5px,#abbe68 79.5px,#babd62 80.5px,#d1bb59 81.5px,#e2b951 82.5px,#dbba55 83.5px,#b3bd65 84.5px,#93bf72 85.5px,#92bf72 86.5px,#91bf73 87.5px,#8fbf74 88.5px,#95bf71 89.5px,#92bf72 90.5px,#98bf70 91.5px,#b4bd65 92.5px,#cebb5a 93.5px,#e8b94f 94.5px,#fabc42 95.5px,#fabc42 96.5px,#f9bb43 97.5px,#fcbd40 98.5px,#fabc42 99.5px,#f8ba44 100.5px,#efb94b 101.5px,#d3bb58 102.5px,#b6bd64 103.5px,#abbe68 104.5px)"></i><i style="left:56.0px;width:2.05px;background:linear-gradient(#55bd8d 0.5px,#5bbd8a 1.5px,#6abe83 2.5px,#64be86 3.5px,#5dbe8a 4.5px,#66be85 5.5px,#63be87 6.5px,#5fbe89 7.5px,#67be85 8.5px,#5dbe89 9.5px,#5abd8b 10.5px,#71bf80 11.5px,#71bf80 12.5px,#68be84 13.5px,#72bf80 14.5px,#6abe83 15.5px,#63be86 16.5px,#6ebf82 17.5px,#62be87 18.5px,#59bd8c 19.5px,#68be84 20.5px,#66be85 21.5px,#60be88 22.5px,#6cbf83 23.5px,#66be85 24.5px,#5fbe89 25.5px,#6bbf83 26.5px,#67be85 27.5px,#64be86 28.5px,#6ebf82 29.5px,#67be85 30.5px,#68be84 31.5px,#74bf7f 32.5px,#69be84 33.5px,#66be85 34.5px,#78bf7d 35.5px,#72bf80 36.5px,#6fbf81 37.5px,#7fbf7a 38.5px,#78bf7d 39.5px,#6fbf81 40.5px,#78bf7d 41.5px,#78bf7d 42.5px,#78bf7d 43.5px,#82bf79 44.5px,#7fbf7a 45.5px,#80bf7a 46.5px,#8fbf74 47.5px,#88bf76 48.5px,#84bf78 49.5px,#92bf73 50.5px,#88bf76 51.5px,#7ebf7b 52.5px,#8bbf75 53.5px,#91bf73 54.5px,#a1be6c 55.5px,#c8bc5d 56.5px,#d5ba57 57.5px,#d6ba57 58.5px,#ddba54 59.5px,#c7bc5d 60.5px,#aebe67 61.5px,#acbe68 62.5px,#a1be6c 63.5px,#9dbe6e 64.5px,#a7be6a 65.5px,#9fbe6d 66.5px,#9dbe6e 67.5px,#abbe68 68.5px,#a4be6b 69.5px,#a0be6d 70.5px,#b0bd66 71.5px,#b2bd66 72.5px,#a9be69 73.5px,#aabe69 74.5px,#a5be6b 75.5px,#a5be6b 76.5px,#aebe67 77.5px,#acbe68 78.5px,#b4bd65 79.5px,#d0bb59 80.5px,#e8b94e 81.5px,#f3ba48 82.5px,#f1b94a 83.5px,#cbbb5c 84.5px,#a5be6b 85.5px,#a0be6d 86.5px,#98bf70 87.5px,#94bf72 88.5px,#a2be6c 89.5px,#aabe69 90.5px,#bdbd61 91.5px,#dfba53 92.5px,#f9bb43 93.5px,#fec833 94.5px,#fbd02c 95.5px,#fdcc2f 96.5px,#fdca31 97.5px,#fccd2e 98.5px,#fccd2f 99.5px,#fdcb30 100.5px,#fec833 101.5px,#fcbd40 102.5px,#e0ba53 103.5px,#d1bb59 104.5px)"></i><i style="left:58.0px;width:2.05px;background:linear-gradient(#27b5a8 0.5px,#29b6a7 1.5px,#2eb7a4 2.5px,#2bb6a6 3.5px,#28b6a7 4.5px,#2bb6a6 5.5px,#25b5a9 6.5px,#24b5aa 7.5px,#2eb7a4 8.5px,#2eb7a4 9.5px,#2db7a4 10.5px,#39b99d 11.5px,#3bb99c 12.5px,#31b8a2 13.5px,#2eb7a4 14.5px,#2cb7a5 15.5px,#2cb7a5 16.5px,#31b8a2 17.5px,#2fb7a3 18.5px,#2ab6a6 19.5px,#2fb7a3 20.5px,#30b7a2 21.5px,#33b8a1 22.5px,#39b99d 23.5px,#36b89f 24.5px,#31b8a2 25.5px,#36b99f 26.5px,#36b99f 27.5px,#39b99d 28.5px,#3fba9a 29.5px,#3dba9b 30.5px,#3cba9b 31.5px,#41ba98 32.5px,#3fba99 33.5px,#3dba9b 34.5px,#49bc94 35.5px,#4bbc93 36.5px,#4abc94 37.5px,#55bd8d 38.5px,#50bc90 39.5px,#48bb95 40.5px,#4ebc91 41.5px,#51bc90 42.5px,#54bd8e 43.5px,#5ebe89 44.5px,#5bbd8b 45.5px,#59bd8c 46.5px,#65be86 47.5px,#61be87 48.5px,#5ebe89 49.5px,#69be84 50.5px,#60be88 51.5px,#57bd8d 52.5px,#69be84 53.5px,#85bf78 54.5px,#b3bd65 55.5px,#edb94c 56.5px,#fdbe3e 57.5px,#fcbd40 58.5px,#fec13a 59.5px,#f6ba46 60.5px,#d8ba56 61.5px,#bfbc60 62.5px,#a0be6d 63.5px,#91bf73 64.5px,#9abf6f 65.5px,#97bf70 66.5px,#9abf6f 67.5px,#a8be6a 68.5px,#9ebe6e 69.5px,#98bf70 70.5px,#aabe69 71.5px,#aabe69 72.5px,#a5be6b 73.5px,#abbe69 74.5px,#a9be69 75.5px,#a6be6a 76.5px,#adbe68 77.5px,#a9be69 78.5px,#acbe68 79.5px,#cfbb5a 80.5px,#eeb94b 81.5px,#f8ba45 82.5px,#f6ba46 83.5px,#d5ba58 84.5px,#b1bd66 85.5px,#a8be6a 86.5px,#9dbe6e 87.5px,#9abf6f 88.5px,#a6be6a 89.5px,#acbe68 90.5px,#c0bc60 91.5px,#e4b951 92.5px,#fdbd3e 93.5px,#fec733 94.5px,#fdcc2f 95.5px,#fdca31 96.5px,#fdca31 97.5px,#fbcf2d 98.5px,#fcce2d 99.5px,#fdcb30 100.5px,#fccc2f 101.5px,#fec535 102.5px,#f2b949 103.5px,#e4b950 104.5px)"></i><i style="left:60.0px;width:2.05px;background:linear-gradient(#06a8c4 0.5px,#08abc0 1.5px,#09abbe 2.5px,#08abc0 3.5px,#09abbf 4.5px,#08abc0 5.5px,#06a8c4 6.5px,#06a6c7 7.5px,#06a7c5 8.5px,#08aac0 9.5px,#0aacbe 10.5px,#0aacbe 11.5px,#0aacbe 12.5px,#0aacbe 13.5px,#09abbe 14.5px,#0aacbe 15.5px,#0bacbd 16.5px,#0daeba 17.5px,#10afb8 18.5px,#0eaeba 19.5px,#0dadbb 20.5px,#0cadbc 21.5px,#0eaeba 22.5px,#10afb9 23.5px,#11afb8 24.5px,#11afb8 25.5px,#13b0b6 26.5px,#17b1b3 27.5px,#1ab2b1 28.5px,#1ab2b1 29.5px,#1ab2b1 30.5px,#1cb3af 31.5px,#20b4ad 32.5px,#23b5ab 33.5px,#23b4ab 34.5px,#26b5a9 35.5px,#2ab6a6 36.5px,#30b7a3 37.5px,#39b99d 38.5px,#36b99f 39.5px,#30b7a2 40.5px,#3ab99c 41.5px,#40ba99 42.5px,#41ba98 43.5px,#4bbc93 44.5px,#4abc93 45.5px,#47bb95 46.5px,#52bd8f 47.5px,#54bd8e 48.5px,#55bd8d 49.5px,#61be88 50.5px,#5bbd8a 51.5px,#5cbe8a 52.5px,#70bf81 53.5px,#85bf78 54.5px,#b8bd63 55.5px,#efb94b 56.5px,#f8ba44 57.5px,#f9bb43 58.5px,#ffc437 59.5px,#febf3c 60.5px,#e6b950 61.5px,#c5bc5e 62.5px,#9cbf6e 63.5px,#8abf76 64.5px,#97bf70 65.5px,#9bbf6f 66.5px,#a0be6d 67.5px,#adbe68 68.5px,#a2be6c 69.5px,#9ebe6e 70.5px,#aabe69 71.5px,#a5be6b 72.5px,#a5be6b 73.5px,#aebe67 74.5px,#aabe69 75.5px,#a5be6b 76.5px,#a9be69 77.5px,#a1be6c 78.5px,#a1be6c 79.5px,#c2bc5f 80.5px,#e6b950 81.5px,#f4ba47 82.5px,#f4ba48 83.5px,#d5bb58 84.5px,#b3bd65 85.5px,#acbe68 86.5px,#a3be6c 87.5px,#9dbe6e 88.5px,#a5be6b 89.5px,#a6be6b 90.5px,#aebe67 91.5px,#cebb5a 92.5px,#eab94e 93.5px,#fbbc40 94.5px,#fec734 95.5px,#fec932 96.5px,#fec832 97.5px,#fdcc2f 98.5px,#fec932 99.5px,#fec535 100.5px,#fec635 101.5px,#fdbe3e 102.5px,#eab94e 103.5px,#deba53 104.5px)"></i><i style="left:62.0px;width:2.05px;background:linear-gradient(#06a3ca 0.5px,#06a7c5 1.5px,#07a9c3 2.5px,#07a9c3 3.5px,#07a9c3 4.5px,#06a7c5 5.5px,#06a5c9 6.5px,#06a2cb 7.5px,#06a2cb 8.5px,#06a6c7 9.5px,#07a9c2 10.5px,#07a9c2 11.5px,#07a9c2 12.5px,#07a9c2 13.5px,#07a9c3 14.5px,#07a9c2 15.5px,#08aac1 16.5px,#0aacbe 17.5px,#0cadbb 18.5px,#0aacbd 19.5px,#08aac1 20.5px,#07a9c3 21.5px,#08abc0 22.5px,#0eaeba 23.5px,#10afb9 24.5px,#0faeb9 25.5px,#10afb8 26.5px,#0eaeba 27.5px,#0faeb9 28.5px,#10afb8 29.5px,#10afb8 30.5px,#12afb7 31.5px,#15b0b5 32.5px,#1bb2b0 33.5px,#21b4ac 34.5px,#1fb4ad 35.5px,#20b4ad 36.5px,#2cb6a5 37.5px,#35b89f 38.5px,#30b7a2 39.5px,#2ab6a6 40.5px,#2db7a4 41.5px,#32b8a1 42.5px,#37b99e 43.5px,#41ba99 44.5px,#45bb96 45.5px,#48bb95 46.5px,#4bbc93 47.5px,#4abc94 48.5px,#5abd8b 49.5px,#6abe83 50.5px,#61be88 51.5px,#65be86 52.5px,#77bf7e 53.5px,#7ebf7b 54.5px,#a6be6b 55.5px,#d4bb58 56.5px,#ddba54 57.5px,#edb94c 58.5px,#fbbd40 59.5px,#e4b950 60.5px,#bfbc60 61.5px,#a3be6b 62.5px,#8abf76 63.5px,#87bf77 64.5px,#95bf71 65.5px,#95bf71 66.5px,#9ebe6e 67.5px,#aabe69 68.5px,#a5be6b 69.5px,#abbe68 70.5px,#b3bd65 71.5px,#aabe69 72.5px,#abbe68 73.5px,#b2bd66 74.5px,#abbe68 75.5px,#acbe68 76.5px,#b1bd66 77.5px,#a9be69 78.5px,#a9be69 79.5px,#b8bd63 80.5px,#cbbb5c 81.5px,#d7ba57 82.5px,#d1bb59 83.5px,#b6bd64 84.5px,#a3be6c 85.5px,#a0be6d 86.5px,#9ebe6e 87.5px,#a0be6d 88.5px,#a1be6c 89.5px,#9dbe6e 90.5px,#a1be6c 91.5px,#b0bd66 92.5px,#bfbc61 93.5px,#d0bb5a 94.5px,#e0ba52 95.5px,#e3b951 96.5px,#e7b94f 97.5px,#efb94b 98.5px,#eeb94c 99.5px,#eab94e 100.5px,#e1b952 101.5px,#cebb5a 102.5px,#c0bc60 103.5px,#bcbd61 104.5px)"></i><i style="left:64.0px;width:2.05px;background:linear-gradient(#06a0cd 0.5px,#06a2cc 1.5px,#06a2cb 2.5px,#06a4ca 3.5px,#06a5c8 4.5px,#06a3ca 5.5px,#06a1cc 6.5px,#06a1cd 7.5px,#06a1cd 8.5px,#06a2cc 9.5px,#06a3ca 10.5px,#06a3ca 11.5px,#06a3cb 12.5px,#06a2cb 13.5px,#06a1cd 14.5px,#06a0cd 15.5px,#06a2cc 16.5px,#06a4c9 17.5px,#06a5c8 18.5px,#06a5c8 19.5px,#06a5c8 20.5px,#06a5c8 21.5px,#06a6c7 22.5px,#06a8c4 23.5px,#07aac2 24.5px,#08aac0 25.5px,#08abc0 26.5px,#07a9c2 27.5px,#07a9c2 28.5px,#08abc0 29.5px,#0aacbe 30.5px,#0bacbd 31.5px,#0aacbe 32.5px,#09abbe 33.5px,#0dadbb 34.5px,#11afb8 35.5px,#13b0b6 36.5px,#17b1b3 37.5px,#1cb3af 38.5px,#1fb3ae 39.5px,#20b4ad 40.5px,#20b4ad 41.5px,#21b4ac 42.5px,#25b5aa 43.5px,#2cb7a5 44.5px,#2db7a4 45.5px,#29b6a7 46.5px,#23b4ab 47.5px,#25b5aa 48.5px,#3ab99d 49.5px,#4cbc92 50.5px,#45bb96 51.5px,#42bb98 52.5px,#44bb97 53.5px,#40ba99 54.5px,#4abc93 55.5px,#57bd8c 56.5px,#5ebe89 57.5px,#77bf7e 58.5px,#80bf7a 59.5px,#62be87 60.5px,#4bbc93 61.5px,#47bb95 62.5px,#44bb97 63.5px,#4abc93 64.5px,#4ebc91 65.5px,#4bbc93 66.5px,#51bc90 67.5px,#53bd8f 68.5px,#52bd8f 69.5px,#5cbe8a 70.5px,#5dbe89 71.5px,#52bd8f 72.5px,#52bd8f 73.5px,#57bd8d 74.5px,#56bd8d 75.5px,#59bd8b 76.5px,#57bd8d 77.5px,#4cbc92 78.5px,#4cbc92 79.5px,#50bc90 80.5px,#52bd8f 81.5px,#56bd8d 82.5px,#54bd8e 83.5px,#4bbc93 84.5px,#44bb97 85.5px,#3fba9a 86.5px,#3fba9a 87.5px,#41ba98 88.5px,#40ba99 89.5px,#3eba9a 90.5px,#41ba99 91.5px,#41ba98 92.5px,#44bb97 93.5px,#51bc90 94.5px,#74bf7f 95.5px,#a0be6d 96.5px,#bdbd61 97.5px,#c5bc5e 98.5px,#bfbc61 99.5px,#bdbc61 100.5px,#b8bd63 101.5px,#a9be69 102.5px,#96bf71 103.5px,#8abf76 104.5px)"></i><i style="left:66.0px;width:2.05px;background:linear-gradient(#06a0cd 0.5px,#069fce 1.5px,#079dcf 2.5px,#079dcf 3.5px,#069fce 4.5px,#079ecf 5.5px,#069ece 6.5px,#069fce 7.5px,#079cd0 8.5px,#089ad0 9.5px,#079bd0 10.5px,#089ad0 11.5px,#089ad1 12.5px,#089ad0 13.5px,#079bd0 14.5px,#079dcf 15.5px,#069ece 16.5px,#069fce 17.5px,#069fce 18.5px,#069fce 19.5px,#06a1cd 20.5px,#06a4ca 21.5px,#06a4c9 22.5px,#06a3ca 23.5px,#06a4c9 24.5px,#06a5c8 25.5px,#06a6c7 26.5px,#06a5c8 27.5px,#06a4c9 28.5px,#06a6c7 29.5px,#06a8c4 30.5px,#07a9c2 31.5px,#07a9c2 32.5px,#07a9c2 33.5px,#08aac0 34.5px,#0aacbe 35.5px,#0cadbc 36.5px,#0eaeba 37.5px,#13b0b6 38.5px,#15b0b5 39.5px,#16b1b4 40.5px,#19b2b1 41.5px,#1bb2b0 42.5px,#1ab2b1 43.5px,#1db3af 44.5px,#1db3af 45.5px,#1bb2b0 46.5px,#18b2b2 47.5px,#18b2b2 48.5px,#1fb4ad 49.5px,#29b6a7 50.5px,#2bb6a6 51.5px,#2cb7a5 52.5px,#2fb7a3 53.5px,#30b7a2 54.5px,#34b8a0 55.5px,#33b8a1 56.5px,#33b8a0 57.5px,#46bb96 58.5px,#53bd8f 59.5px,#4bbc93 60.5px,#4cbc92 61.5px,#4fbc90 62.5px,#50bc90 63.5px,#64be86 64.5px,#68be84 65.5px,#5dbe89 66.5px,#69be84 67.5px,#6dbf82 68.5px,#6bbf83 69.5px,#76bf7e 70.5px,#73bf7f 71.5px,#6fbf81 72.5px,#80bf7a 73.5px,#88bf77 74.5px,#86bf77 75.5px,#8cbf75 76.5px,#86bf78 77.5px,#78bf7d 78.5px,#7dbf7b 79.5px,#7fbf7a 80.5px,#7dbf7b 81.5px,#81bf79 82.5px,#7fbf7a 83.5px,#79bf7d 84.5px,#7bbf7c 85.5px,#7dbf7b 86.5px,#7dbf7b 87.5px,#82bf79 88.5px,#7bbf7c 89.5px,#6bbf83 90.5px,#6cbf82 91.5px,#6dbf82 92.5px,#70bf81 93.5px,#8cbf75 94.5px,#babd62 95.5px,#e4b950 96.5px,#fbbc40 97.5px,#f9bb44 98.5px,#e1b952 99.5px,#ccbb5b 100.5px,#b6bd64 101.5px,#a4be6b 102.5px,#99bf70 103.5px,#93bf72 104.5px)"></i><i style="left:68.0px;width:2.05px;background:linear-gradient(#069fce 0.5px,#06a0cd 1.5px,#079dcf 2.5px,#089bd0 3.5px,#079bd0 4.5px,#089ad1 5.5px,#079bd0 6.5px,#079cd0 7.5px,#0998d1 8.5px,#0899d1 9.5px,#089ad0 10.5px,#0998d1 11.5px,#0998d1 12.5px,#0899d1 13.5px,#079bd0 14.5px,#06a0cd 15.5px,#06a2cc 16.5px,#06a0cd 17.5px,#069ece 18.5px,#079cd0 19.5px,#079ecf 20.5px,#06a2cb 21.5px,#06a4ca 22.5px,#06a3ca 23.5px,#06a3ca 24.5px,#06a3cb 25.5px,#06a4c9 26.5px,#06a5c8 27.5px,#06a5c8 28.5px,#06a6c7 29.5px,#06a6c7 30.5px,#06a7c5 31.5px,#07a9c3 32.5px,#08abc0 33.5px,#0badbc 34.5px,#0badbc 35.5px,#0aacbd 36.5px,#0badbc 37.5px,#0eaeba 38.5px,#10afb8 39.5px,#11afb7 40.5px,#15b0b5 41.5px,#17b1b3 42.5px,#1ab2b1 43.5px,#20b4ad 44.5px,#1db3af 45.5px,#1cb3af 46.5px,#1fb4ad 47.5px,#1fb4ad 48.5px,#21b4ac 49.5px,#22b4ab 50.5px,#20b4ad 51.5px,#28b6a8 52.5px,#2fb7a3 53.5px,#2fb7a3 54.5px,#34b8a0 55.5px,#3ab99c 56.5px,#41ba99 57.5px,#5ebe89 58.5px,#68be84 59.5px,#5cbe8a 60.5px,#63be87 61.5px,#66be85 62.5px,#67be85 63.5px,#7ebf7b 64.5px,#7ebf7b 65.5px,#73bf7f 66.5px,#87bf77 67.5px,#8fbf74 68.5px,#90bf73 69.5px,#9dbe6e 70.5px,#9abf6f 71.5px,#93bf72 72.5px,#a3be6c 73.5px,#aebe67 74.5px,#afbe67 75.5px,#b1bd66 76.5px,#a8be6a 77.5px,#9abf6f 78.5px,#a4be6b 79.5px,#a8be69 80.5px,#a5be6b 81.5px,#a8be6a 82.5px,#a2be6c 83.5px,#a4be6b 84.5px,#c1bc60 85.5px,#d5ba57 86.5px,#d7ba57 87.5px,#deba54 88.5px,#d7ba57 89.5px,#bfbc61 90.5px,#b4bd65 91.5px,#a9be69 92.5px,#a5be6b 93.5px,#c8bc5d 94.5px,#fbbc40 95.5px,#f9d329 96.5px,#f7d826 97.5px,#f8d726 98.5px,#fcce2d 99.5px,#f5ba47 100.5px,#bfbc61 101.5px,#9bbf6f 102.5px,#9bbf6f 103.5px,#9fbe6d 104.5px)"></i><i style="left:70.0px;width:2.05px;background:linear-gradient(#079dcf 0.5px,#069fce 1.5px,#06a1cd 2.5px,#069fce 3.5px,#079bd0 4.5px,#0998d1 5.5px,#089ad0 6.5px,#079cd0 7.5px,#079bd0 8.5px,#079dcf 9.5px,#079dcf 10.5px,#079dcf 11.5px,#079dcf 12.5px,#079dcf 13.5px,#079bd0 14.5px,#079cd0 15.5px,#069fce 16.5px,#06a1cd 17.5px,#06a2cc 18.5px,#06a0cd 19.5px,#06a0cd 20.5px,#06a2cc 21.5px,#06a2cb 22.5px,#06a3ca 23.5px,#06a4ca 24.5px,#06a4ca 25.5px,#06a5c8 26.5px,#06a6c7 27.5px,#06a7c6 28.5px,#06a7c6 29.5px,#06a7c6 30.5px,#06a8c3 31.5px,#07a9c3 32.5px,#08aac0 33.5px,#0cadbc 34.5px,#0dadbb 35.5px,#0cadbc 36.5px,#0eaeba 37.5px,#0eaeba 38.5px,#0fafb9 39.5px,#12b0b7 40.5px,#13b0b6 41.5px,#16b1b4 42.5px,#1db3af 43.5px,#22b4ab 44.5px,#1fb3ad 45.5px,#1cb3b0 46.5px,#1db3af 47.5px,#21b4ac 48.5px,#24b5aa 49.5px,#22b4ab 50.5px,#21b4ac 51.5px,#28b6a8 52.5px,#2fb7a3 53.5px,#30b8a2 54.5px,#32b8a2 55.5px,#37b99e 56.5px,#48bb95 57.5px,#60be88 58.5px,#60be88 59.5px,#5cbe8a 60.5px,#64be86 61.5px,#61be87 62.5px,#66be85 63.5px,#7bbf7c 64.5px,#79bf7d 65.5px,#7abf7c 66.5px,#8dbf74 67.5px,#8cbf75 68.5px,#94bf71 69.5px,#a6be6a 70.5px,#9fbe6d 71.5px,#9abf6f 72.5px,#a6be6a 73.5px,#aabe69 74.5px,#afbe67 75.5px,#b6bd64 76.5px,#a8be6a 77.5px,#9ebe6e 78.5px,#a8be6a 79.5px,#abbe68 80.5px,#aabe69 81.5px,#abbe69 82.5px,#a4be6b 83.5px,#abbe69 84.5px,#c4bc5e 85.5px,#d6ba57 86.5px,#deba54 87.5px,#ecb94d 88.5px,#edb94c 89.5px,#ebb94d 90.5px,#e7b94f 91.5px,#cabb5c 92.5px,#b7bd64 93.5px,#d7ba57 94.5px,#ffc337 95.5px,#f8d826 96.5px,#f7d826 97.5px,#f7d826 98.5px,#f7d826 99.5px,#fec733 100.5px,#d2bb59 101.5px,#a1be6c 102.5px,#97bf70 103.5px,#99bf6f 104.5px)"></i><i style="left:72.0px;width:2.05px;background:linear-gradient(#1db3af 0.5px,#1db3af 1.5px,#21b4ac 2.5px,#2bb6a6 3.5px,#24b5aa 4.5px,#19b2b2 5.5px,#1ab2b1 6.5px,#1cb3af 7.5px,#1bb2b0 8.5px,#1bb2b0 9.5px,#1ab2b1 10.5px,#1cb3af 11.5px,#24b5aa 12.5px,#1eb3ae 13.5px,#18b1b2 14.5px,#1bb2b0 15.5px,#1cb3b0 16.5px,#1db3af 17.5px,#27b6a8 18.5px,#26b5a9 19.5px,#20b4ad 20.5px,#24b5aa 21.5px,#25b5aa 22.5px,#22b4ab 23.5px,#27b5a8 24.5px,#27b6a8 25.5px,#25b5a9 26.5px,#2eb7a4 27.5px,#2fb7a3 28.5px,#28b6a7 29.5px,#28b6a8 30.5px,#28b6a8 31.5px,#2bb6a6 32.5px,#34b8a0 33.5px,#39b99d 34.5px,#39b99d 35.5px,#3eba9a 36.5px,#3eba9a 37.5px,#3eba9a 38.5px,#46bb95 39.5px,#42bb98 40.5px,#3bb99c 41.5px,#43bb97 42.5px,#4cbc92 43.5px,#51bd8f 44.5px,#59bd8b 45.5px,#54bd8e 46.5px,#4dbc92 47.5px,#57bd8c 48.5px,#5abd8b 49.5px,#54bd8e 50.5px,#5dbe89 51.5px,#61be87 52.5px,#5ebe89 53.5px,#6abe83 54.5px,#6cbf83 55.5px,#6ebf82 56.5px,#7fbf7a 57.5px,#7dbf7b 58.5px,#77bf7e 59.5px,#89bf76 60.5px,#8dbf75 61.5px,#84bf78 62.5px,#8cbf75 63.5px,#89bf76 64.5px,#88bf76 65.5px,#9ebe6e 66.5px,#a3be6c 67.5px,#96bf71 68.5px,#a4be6b 69.5px,#acbe68 70.5px,#9ebe6e 71.5px,#a0be6d 72.5px,#a6be6a 73.5px,#a5be6b 74.5px,#adbe68 75.5px,#b0be67 76.5px,#a6be6b 77.5px,#a9be69 78.5px,#acbe68 79.5px,#a6be6b 80.5px,#acbe68 81.5px,#aebe67 82.5px,#a7be6a 83.5px,#a7be6a 84.5px,#a7be6a 85.5px,#afbe67 86.5px,#c6bc5e 87.5px,#e0ba53 88.5px,#ecb94c 89.5px,#f4ba47 90.5px,#f3ba48 91.5px,#daba55 92.5px,#c5bc5e 93.5px,#dfba53 94.5px,#fec535 95.5px,#f8d726 96.5px,#f7d826 97.5px,#f8d826 98.5px,#f9d429 99.5px,#ffc437 100.5px,#d9ba56 101.5px,#b0bd66 102.5px,#9cbf6e 103.5px,#96bf71 104.5px)"></i><i style="left:74.0px;width:2.05px;background:linear-gradient(#73bf7f 0.5px,#6bbf83 1.5px,#6abe83 2.5px,#79bf7d 3.5px,#72bf80 4.5px,#67be85 5.5px,#6ebf82 6.5px,#6bbe83 7.5px,#69be84 8.5px,#6ebf81 9.5px,#65be86 10.5px,#67be85 11.5px,#74bf7f 12.5px,#69be84 13.5px,#65be86 14.5px,#74bf7f 15.5px,#6fbf81 16.5px,#6cbf82 17.5px,#7dbf7b 18.5px,#75bf7f 19.5px,#6cbf83 20.5px,#7bbf7c 21.5px,#77bf7e 22.5px,#6dbf82 23.5px,#75bf7e 24.5px,#6dbf82 25.5px,#67be85 26.5px,#79bf7d 27.5px,#78bf7d 28.5px,#75bf7e 29.5px,#7cbf7b 30.5px,#6ebf82 31.5px,#6fbf81 32.5px,#83bf79 33.5px,#7cbf7c 34.5px,#75bf7e 35.5px,#82bf79 36.5px,#7dbf7b 37.5px,#7cbf7b 38.5px,#8ebf74 39.5px,#86bf77 40.5px,#7ebf7b 41.5px,#84bf78 42.5px,#7fbf7a 43.5px,#86bf77 44.5px,#97bf70 45.5px,#91bf73 46.5px,#8ebf74 47.5px,#9bbf6f 48.5px,#94bf72 49.5px,#90bf73 50.5px,#9bbf6f 51.5px,#90bf73 52.5px,#8bbf75 53.5px,#9dbe6e 54.5px,#97bf70 55.5px,#93bf72 56.5px,#a3be6c 57.5px,#9abf6f 58.5px,#9abf6f 59.5px,#acbe68 60.5px,#a5be6b 61.5px,#a3be6c 62.5px,#b1bd66 63.5px,#a2be6c 64.5px,#9bbf6f 65.5px,#adbe68 66.5px,#a8be6a 67.5px,#a3be6c 68.5px,#b0be67 69.5px,#afbe67 70.5px,#afbe67 71.5px,#b5bd64 72.5px,#abbe69 73.5px,#a3be6b 74.5px,#aabe69 75.5px,#a5be6b 76.5px,#a0be6d 77.5px,#a9be69 78.5px,#aabe69 79.5px,#a6be6a 80.5px,#a9be69 81.5px,#a6be6b 82.5px,#a3be6b 83.5px,#a9be69 84.5px,#acbe68 85.5px,#c3bc5f 86.5px,#e9b94e 87.5px,#f8ba44 88.5px,#f8bb44 89.5px,#f9bb43 90.5px,#eeb94b 91.5px,#d4bb58 92.5px,#c6bc5e 93.5px,#deba53 94.5px,#fec13a 95.5px,#f9d429 96.5px,#f7d826 97.5px,#f8d627 98.5px,#fad12b 99.5px,#fec139 100.5px,#ddba54 101.5px,#b6bd64 102.5px,#96bf71 103.5px,#86bf77 104.5px)"></i><i style="left:76.0px;width:2.05px;background:linear-gradient(#34b8a0 0.5px,#31b8a2 1.5px,#2eb7a4 2.5px,#38b99d 3.5px,#3eba9a 4.5px,#3bb99c 5.5px,#3eba9a 6.5px,#3ab99c 7.5px,#3ab99d 8.5px,#41ba98 9.5px,#3ab99d 10.5px,#36b99f 11.5px,#40ba99 12.5px,#40ba99 13.5px,#3eba9a 14.5px,#46bb96 15.5px,#41ba99 16.5px,#3fba9a 17.5px,#4cbc93 18.5px,#44bb96 19.5px,#3fba99 20.5px,#4bbc93 21.5px,#4ebc91 22.5px,#49bb94 23.5px,#4bbc93 24.5px,#43bb97 25.5px,#3bb99c 26.5px,#45bb96 27.5px,#46bb95 28.5px,#47bb95 29.5px,#53bd8f 30.5px,#4abc93 31.5px,#46bb95 32.5px,#56bd8d 33.5px,#51bc90 34.5px,#47bb95 35.5px,#51bd8f 36.5px,#50bc90 37.5px,#4fbc91 38.5px,#60be88 39.5px,#5fbe89 40.5px,#56bd8d 41.5px,#5cbe8a 42.5px,#5bbd8a 43.5px,#5abd8b 44.5px,#6bbf83 45.5px,#71bf80 46.5px,#71bf80 47.5px,#7ebf7b 48.5px,#75bf7e 49.5px,#6ebf82 50.5px,#7fbf7a 51.5px,#7dbf7b 52.5px,#75bf7f 53.5px,#83bf78 54.5px,#80bf7a 55.5px,#78bf7d 56.5px,#86bf77 57.5px,#84bf78 58.5px,#86bf77 59.5px,#9bbf6f 60.5px,#96bf71 61.5px,#91bf73 62.5px,#a1be6c 63.5px,#9bbf6f 64.5px,#93bf72 65.5px,#9ebe6e 66.5px,#9bbf6f 67.5px,#9dbe6e 68.5px,#adbe68 69.5px,#b9bd63 70.5px,#d6ba57 71.5px,#ecb94c 72.5px,#dfba53 73.5px,#c4bc5e 74.5px,#b6bd64 75.5px,#aebe67 76.5px,#abbe69 77.5px,#b0bd66 78.5px,#acbe68 79.5px,#a7be6a 80.5px,#a7be6a 81.5px,#a4be6b 82.5px,#b2bd66 83.5px,#cbbb5c 84.5px,#daba55 85.5px,#ebb94d 86.5px,#fcbd3f 87.5px,#fdbe3d 88.5px,#f9bb44 89.5px,#e7b94f 90.5px,#c2bc5f 91.5px,#a4be6b 92.5px,#abbe68 93.5px,#d3bb58 94.5px,#fabc42 95.5px,#fdca31 96.5px,#fdcb30 97.5px,#fec832 98.5px,#fec634 99.5px,#fdbe3e 100.5px,#dbba55 101.5px,#b0be67 102.5px,#8ebf74 103.5px,#80bf7a 104.5px)"></i><i style="left:78.0px;width:2.05px;background:linear-gradient(#069fce 0.5px,#069fce 1.5px,#079dcf 2.5px,#06a0cd 3.5px,#06a4c9 4.5px,#06a5c8 5.5px,#06a2cb 6.5px,#06a1cc 7.5px,#06a3cb 8.5px,#06a5c8 9.5px,#06a4c9 10.5px,#06a1cd 11.5px,#06a2cb 12.5px,#06a4c9 13.5px,#06a5c8 14.5px,#06a4c9 15.5px,#06a3ca 16.5px,#06a4c9 17.5px,#06a4c9 18.5px,#06a4c9 19.5px,#06a7c6 20.5px,#06a8c4 21.5px,#07aac2 22.5px,#07aac1 23.5px,#07aac2 24.5px,#07a9c2 25.5px,#06a8c4 26.5px,#06a8c4 27.5px,#07a9c3 28.5px,#09abbf 29.5px,#0dadbb 30.5px,#0aacbe 31.5px,#07aac1 32.5px,#08abc0 33.5px,#0bacbd 34.5px,#0badbc 35.5px,#0dadbb 36.5px,#0faeb9 37.5px,#10afb8 38.5px,#12afb7 39.5px,#12b0b6 40.5px,#13b0b6 41.5px,#15b1b4 42.5px,#17b1b3 43.5px,#17b1b3 44.5px,#1ab2b1 45.5px,#1cb3af 46.5px,#21b4ac 47.5px,#28b6a7 48.5px,#29b6a7 49.5px,#2ab6a6 50.5px,#33b8a1 51.5px,#34b8a0 52.5px,#35b8a0 53.5px,#3fba9a 54.5px,#42bb98 55.5px,#47bb95 56.5px,#53bd8f 57.5px,#51bc90 58.5px,#5abd8b 59.5px,#6dbf82 60.5px,#69be84 61.5px,#70bf81 62.5px,#7cbf7c 63.5px,#72bf80 64.5px,#79bf7d 65.5px,#85bf78 66.5px,#80bf7a 67.5px,#8abf76 68.5px,#9dbf6e 69.5px,#c0bc60 70.5px,#f6ba46 71.5px,#fec832 72.5px,#fec13a 73.5px,#eab94e 74.5px,#c6bc5e 75.5px,#aebe67 76.5px,#aebe67 77.5px,#afbe67 78.5px,#a8be69 79.5px,#afbe67 80.5px,#b7bd64 81.5px,#bdbd61 82.5px,#daba55 83.5px,#f9bb42 84.5px,#fdbe3d 85.5px,#fbbd40 86.5px,#f4ba47 87.5px,#dfba53 88.5px,#d3bb58 89.5px,#c2bc5f 90.5px,#a7be6a 91.5px,#9fbe6d 92.5px,#acbe68 93.5px,#d0bb5a 94.5px,#f8ba44 95.5px,#fec734 96.5px,#fec535 97.5px,#ffc437 98.5px,#ffc338 99.5px,#f8ba44 100.5px,#d6ba57 101.5px,#abbe68 102.5px,#8ebf74 103.5px,#85bf78 104.5px)"></i><i style="left:80.0px;width:2.05px;background:linear-gradient(#079dcf 0.5px,#079dcf 1.5px,#079dcf 2.5px,#06a0cd 3.5px,#06a2cb 4.5px,#06a2cc 5.5px,#06a1cc 6.5px,#06a3cb 7.5px,#06a4c9 8.5px,#06a4c9 9.5px,#06a1cc 10.5px,#069fce 11.5px,#06a2cb 12.5px,#06a4c9 13.5px,#06a5c8 14.5px,#06a5c8 15.5px,#06a4c9 16.5px,#06a1cd 17.5px,#069fce 18.5px,#06a1cd 19.5px,#06a3ca 20.5px,#06a5c9 21.5px,#06a5c8 22.5px,#06a5c8 23.5px,#06a6c7 24.5px,#06a7c5 25.5px,#06a7c5 26.5px,#06a7c5 27.5px,#06a7c6 28.5px,#06a8c5 29.5px,#06a8c4 30.5px,#06a8c4 31.5px,#06a8c4 32.5px,#07aac2 33.5px,#0aacbe 34.5px,#0dadbb 35.5px,#0eaeba 36.5px,#0faeb9 37.5px,#11afb8 38.5px,#12afb7 39.5px,#10afb8 40.5px,#13b0b6 41.5px,#15b1b4 42.5px,#13b0b6 43.5px,#12afb7 44.5px,#14b0b5 45.5px,#18b2b2 46.5px,#20b4ad 47.5px,#26b5a9 48.5px,#25b5a9 49.5px,#28b6a8 50.5px,#2bb6a6 51.5px,#28b6a7 52.5px,#2eb7a4 53.5px,#3ab99c 54.5px,#3fba99 55.5px,#48bb95 56.5px,#4ebc91 57.5px,#4ebc91 58.5px,#58bd8c 59.5px,#60be88 60.5px,#61be88 61.5px,#72bf80 62.5px,#7bbf7c 63.5px,#6ebf81 64.5px,#72bf80 65.5px,#76bf7e 66.5px,#75bf7e 67.5px,#8cbf75 68.5px,#a7be6a 69.5px,#cfbb5a 70.5px,#fec13a 71.5px,#fccc2f 72.5px,#ffc436 73.5px,#f4ba47 74.5px,#c8bc5d 75.5px,#a9be69 76.5px,#abbe69 77.5px,#abbe69 78.5px,#a9be69 79.5px,#c6bc5e 80.5px,#e5b950 81.5px,#f2b949 82.5px,#fabc42 83.5px,#febf3c 84.5px,#fcbd40 85.5px,#f2b949 86.5px,#d6ba57 87.5px,#afbe67 88.5px,#9dbe6e 89.5px,#9dbf6e 90.5px,#a0be6d 91.5px,#a6be6a 92.5px,#b1bd66 93.5px,#cfbb5a 94.5px,#f2b949 95.5px,#fec13a 96.5px,#ffc437 97.5px,#ffc536 98.5px,#fec03a 99.5px,#f0b94a 100.5px,#cebb5a 101.5px,#a9be69 102.5px,#98bf70 103.5px,#97bf70 104.5px)"></i><i style="left:82.0px;width:2.05px;background:linear-gradient(#079cd0 0.5px,#079dcf 1.5px,#069fce 2.5px,#06a0cd 3.5px,#069ece 4.5px,#069ece 5.5px,#06a1cc 6.5px,#06a3cb 7.5px,#06a2cb 8.5px,#06a1cc 9.5px,#06a1cc 10.5px,#06a2cb 11.5px,#06a2cb 12.5px,#06a4c9 13.5px,#06a5c8 14.5px,#06a6c7 15.5px,#06a6c7 16.5px,#06a4ca 17.5px,#06a2cc 18.5px,#06a3cb 19.5px,#06a4c9 20.5px,#06a3ca 21.5px,#06a3ca 22.5px,#06a5c9 23.5px,#06a6c7 24.5px,#06a6c7 25.5px,#06a6c7 26.5px,#06a6c6 27.5px,#06a7c6 28.5px,#06a8c5 29.5px,#06a8c3 30.5px,#07aac1 31.5px,#08aac0 32.5px,#09abbf 33.5px,#0aacbd 34.5px,#0eaeba 35.5px,#10afb9 36.5px,#0eaeba 37.5px,#0eaeba 38.5px,#0eaeba 39.5px,#0eaeba 40.5px,#11afb7 41.5px,#14b0b5 42.5px,#14b0b5 43.5px,#13b0b6 44.5px,#13b0b6 45.5px,#19b2b2 46.5px,#25b5aa 47.5px,#2bb6a5 48.5px,#29b6a7 49.5px,#26b5a9 50.5px,#25b5a9 51.5px,#28b6a8 52.5px,#31b8a2 53.5px,#38b99e 54.5px,#3cba9c 55.5px,#46bb95 56.5px,#46bb96 57.5px,#41ba99 58.5px,#4ebc91 59.5px,#56bd8d 60.5px,#57bd8c 61.5px,#6bbe83 62.5px,#73bf7f 63.5px,#70bf81 64.5px,#7abf7c 65.5px,#79bf7d 66.5px,#7abf7c 67.5px,#90bf73 68.5px,#a2be6c 69.5px,#c7bc5d 70.5px,#fbbd40 71.5px,#fec535 72.5px,#fec03b 73.5px,#f2b949 74.5px,#c5bc5e 75.5px,#aebe67 76.5px,#bebc61 77.5px,#d4bb58 78.5px,#e2b952 79.5px,#f3ba48 80.5px,#f7ba45 81.5px,#f5ba47 82.5px,#fbbc40 83.5px,#f3b948 84.5px,#d4bb58 85.5px,#bdbd61 86.5px,#a8be6a 87.5px,#9cbf6e 88.5px,#9ebe6e 89.5px,#9cbf6e 90.5px,#9fbe6d 91.5px,#a6be6a 92.5px,#a9be69 93.5px,#c6bc5e 94.5px,#f1b94a 95.5px,#febf3c 96.5px,#febf3c 97.5px,#fec13a 98.5px,#fcbd3f 99.5px,#ebb94d 100.5px,#c9bc5d 101.5px,#a2be6c 102.5px,#98bf70 103.5px,#9ebe6d 104.5px)"></i><i style="left:84.0px;width:2.05px;background:linear-gradient(#06a0cd 0.5px,#06a0cd 1.5px,#06a1cc 2.5px,#06a2cc 3.5px,#069fce 4.5px,#069fce 5.5px,#06a1cc 6.5px,#06a3cb 7.5px,#06a2cb 8.5px,#06a2cc 9.5px,#06a4c9 10.5px,#06a5c8 11.5px,#06a4ca 12.5px,#06a4c9 13.5px,#06a6c7 14.5px,#06a5c8 15.5px,#06a6c7 16.5px,#06a6c7 17.5px,#06a6c7 18.5px,#06a6c7 19.5px,#06a6c7 20.5px,#06a4ca 21.5px,#06a5c9 22.5px,#06a6c7 23.5px,#06a7c6 24.5px,#06a6c7 25.5px,#06a7c6 26.5px,#07a9c3 27.5px,#07a9c2 28.5px,#07aac1 29.5px,#08abc0 30.5px,#0aacbe 31.5px,#0cadbc 32.5px,#0badbc 33.5px,#0cadbc 34.5px,#11afb8 35.5px,#13b0b6 36.5px,#14b0b5 37.5px,#15b1b4 38.5px,#15b0b5 39.5px,#15b1b4 40.5px,#18b2b2 41.5px,#19b2b1 42.5px,#1cb3b0 43.5px,#1eb3ae 44.5px,#1db3af 45.5px,#1eb3ae 46.5px,#24b5aa 47.5px,#2ab6a7 48.5px,#2eb7a4 49.5px,#35b89f 50.5px,#32b8a1 51.5px,#2eb7a3 52.5px,#36b99f 53.5px,#39b99d 54.5px,#36b99f 55.5px,#3fba9a 56.5px,#46bb96 57.5px,#47bb95 58.5px,#52bd8f 59.5px,#54bd8e 60.5px,#52bd8f 61.5px,#66be85 62.5px,#6bbe83 63.5px,#68be84 64.5px,#7dbf7b 65.5px,#83bf79 66.5px,#7ebf7b 67.5px,#89bf76 68.5px,#8dbf74 69.5px,#a7be6a 70.5px,#e0ba52 71.5px,#f7ba45 72.5px,#edb94c 73.5px,#d8ba56 74.5px,#b6bd64 75.5px,#abbe69 76.5px,#d0bb5a 77.5px,#fabc42 78.5px,#ffc436 79.5px,#ffc437 80.5px,#f7ba45 81.5px,#dbba55 82.5px,#d3bb58 83.5px,#c5bc5e 84.5px,#a8be6a 85.5px,#9ebe6e 86.5px,#9dbe6e 87.5px,#9cbf6e 88.5px,#a3be6c 89.5px,#a0be6d 90.5px,#95bf71 91.5px,#95bf71 92.5px,#97bf70 93.5px,#afbe67 94.5px,#dbba55 95.5px,#f3ba48 96.5px,#f7ba45 97.5px,#fbbd40 98.5px,#f3ba48 99.5px,#d6ba57 100.5px,#b9bd63 101.5px,#9ebe6e 102.5px,#8ebf74 103.5px,#8cbf75 104.5px)"></i><i style="left:86.0px;width:2.05px;background:linear-gradient(#1eb3ae 0.5px,#1eb3ae 1.5px,#21b4ac 2.5px,#20b4ad 3.5px,#1eb3ae 4.5px,#23b4ab 5.5px,#21b4ac 6.5px,#1db3af 7.5px,#20b4ad 8.5px,#24b5aa 9.5px,#29b6a7 10.5px,#2eb7a4 11.5px,#28b6a7 12.5px,#25b5a9 13.5px,#2bb6a6 14.5px,#28b6a8 15.5px,#24b5aa 16.5px,#2bb6a6 17.5px,#2db7a4 18.5px,#2cb7a5 19.5px,#2fb7a3 20.5px,#2db7a4 21.5px,#2cb6a5 22.5px,#2fb7a3 23.5px,#30b7a3 24.5px,#2ab6a6 25.5px,#2cb7a5 26.5px,#32b8a1 27.5px,#35b89f 28.5px,#3ab99d 29.5px,#3ab99d 30.5px,#3fba9a 31.5px,#55bd8e 32.5px,#54bd8e 33.5px,#49bc94 34.5px,#59bd8c 35.5px,#65be86 36.5px,#77bf7e 37.5px,#98bf70 38.5px,#a2be6c 39.5px,#a0be6d 40.5px,#b2bd66 41.5px,#b9bd63 42.5px,#b3bd65 43.5px,#b7bd64 44.5px,#adbe68 45.5px,#9dbf6e 46.5px,#9cbf6e 47.5px,#95bf71 48.5px,#92bf73 49.5px,#a0be6d 50.5px,#a0be6d 51.5px,#93bf72 52.5px,#96bf71 53.5px,#90bf73 54.5px,#86bf77 55.5px,#92bf73 56.5px,#92bf72 57.5px,#8abf76 58.5px,#8fbf74 59.5px,#80bf7a 60.5px,#72bf80 61.5px,#84bf78 62.5px,#84bf78 63.5px,#77bf7e 64.5px,#7fbf7a 65.5px,#7ebf7b 66.5px,#72bf80 67.5px,#75bf7e 68.5px,#6cbf82 69.5px,#6ebf82 70.5px,#90bf73 71.5px,#9dbf6e 72.5px,#8bbf75 73.5px,#76bf7e 74.5px,#60be88 75.5px,#5dbe89 76.5px,#91bf73 77.5px,#d1bb59 78.5px,#edb94c 79.5px,#ecb94c 80.5px,#bfbc60 81.5px,#75bf7f 82.5px,#53bd8e 83.5px,#53bd8f 84.5px,#4ebc91 85.5px,#48bb94 86.5px,#47bb95 87.5px,#4fbc91 88.5px,#5abd8b 89.5px,#53bd8f 90.5px,#43bb97 91.5px,#41ba98 92.5px,#43bb97 93.5px,#55bd8e 94.5px,#8abf76 95.5px,#b4bd65 96.5px,#c7bc5d 97.5px,#d0bb5a 98.5px,#b8bd63 99.5px,#84bf78 100.5px,#57bd8c 101.5px,#44bb97 102.5px,#3eba9a 103.5px,#3dba9b 104.5px)"></i><i style="left:88.0px;width:2.05px;background:linear-gradient(#41ba98 0.5px,#42bb98 1.5px,#48bb95 2.5px,#3fba99 3.5px,#3ab99c 4.5px,#44bb97 5.5px,#43bb97 6.5px,#40ba99 7.5px,#47bb95 8.5px,#47bb95 9.5px,#45bb96 10.5px,#4bbc93 11.5px,#46bb96 12.5px,#44bb97 13.5px,#47bb95 14.5px,#3fba9a 15.5px,#40ba99 16.5px,#4dbc92 17.5px,#4ebc91 18.5px,#4cbc92 19.5px,#52bd8f 20.5px,#51bc90 21.5px,#51bc90 22.5px,#56bd8d 23.5px,#52bd8f 24.5px,#4ebc91 25.5px,#56bd8d 26.5px,#59bd8b 27.5px,#5bbd8b 28.5px,#64be86 29.5px,#64be86 30.5px,#69be84 31.5px,#7ebf7b 32.5px,#7bbf7c 33.5px,#7bbf7c 34.5px,#9abf6f 35.5px,#aebe67 36.5px,#c5bc5e 37.5px,#e6b950 38.5px,#ecb94c 39.5px,#edb94c 40.5px,#fcbd40 41.5px,#fabb42 42.5px,#f2b949 43.5px,#fcbd3f 44.5px,#fabc42 45.5px,#f0b94a 46.5px,#ebb94d 47.5px,#d4bb58 48.5px,#c0bc60 49.5px,#c8bc5d 50.5px,#c5bc5e 51.5px,#bdbc61 52.5px,#c2bc5f 53.5px,#b2bd66 54.5px,#a8be6a 55.5px,#b4bd65 56.5px,#aabe69 57.5px,#9dbf6e 58.5px,#a0be6d 59.5px,#93bf72 60.5px,#8abf76 61.5px,#95bf71 62.5px,#8ebf74 63.5px,#7fbf7a 64.5px,#80bf7a 65.5px,#75bf7f 66.5px,#6bbe83 67.5px,#6fbf81 68.5px,#63be87 69.5px,#58bd8c 70.5px,#58bd8c 71.5px,#53bd8f 72.5px,#4bbc93 73.5px,#4dbc92 74.5px,#44bb96 75.5px,#38b99e 76.5px,#3eba9a 77.5px,#55bd8e 78.5px,#66be85 79.5px,#65be86 80.5px,#4abc93 81.5px,#2fb7a3 82.5px,#25b5a9 83.5px,#28b6a8 84.5px,#2cb7a5 85.5px,#29b6a7 86.5px,#22b4ab 87.5px,#24b5aa 88.5px,#2ab6a6 89.5px,#29b6a7 90.5px,#27b5a8 91.5px,#22b4ac 92.5px,#1eb3ae 93.5px,#24b5aa 94.5px,#34b8a0 95.5px,#51bc90 96.5px,#76bf7e 97.5px,#89bf76 98.5px,#6fbf81 99.5px,#3bb99c 100.5px,#21b4ac 101.5px,#1ab2b1 102.5px,#1cb3b0 103.5px,#1fb3ae 104.5px)"></i><i style="left:90.0px;width:2.05px;background:linear-gradient(#3eba9a 0.5px,#41ba98 1.5px,#46bb96 2.5px,#3dba9b 3.5px,#3ab99c 4.5px,#43bb97 5.5px,#40ba99 6.5px,#3cba9b 7.5px,#40ba99 8.5px,#42bb98 9.5px,#41ba98 10.5px,#41ba98 11.5px,#3cba9c 12.5px,#3cba9b 13.5px,#44bb97 14.5px,#44bb97 15.5px,#45bb96 16.5px,#4cbc92 17.5px,#44bb96 18.5px,#41ba98 19.5px,#4abc93 20.5px,#49bc94 21.5px,#4dbc92 22.5px,#55bd8e 23.5px,#4fbc91 24.5px,#51bc90 25.5px,#5fbe89 26.5px,#5cbe8a 27.5px,#55bd8d 28.5px,#60be88 29.5px,#63be87 30.5px,#66be85 31.5px,#74bf7f 32.5px,#6cbf82 33.5px,#6fbf81 34.5px,#8bbf75 35.5px,#97bf70 36.5px,#a8be6a 37.5px,#cbbb5c 38.5px,#d8ba56 39.5px,#e2b952 40.5px,#f3ba48 41.5px,#ecb94d 42.5px,#e3b951 43.5px,#f0b94a 44.5px,#eab94e 45.5px,#daba55 46.5px,#d2bb59 47.5px,#bcbd62 48.5px,#aebe67 49.5px,#b8bd63 50.5px,#b3bd65 51.5px,#acbe68 52.5px,#b4bd65 53.5px,#a9be69 54.5px,#a2be6c 55.5px,#a9be69 56.5px,#9bbf6f 57.5px,#8cbf75 58.5px,#8dbf74 59.5px,#82bf79 60.5px,#80bf7a 61.5px,#92bf73 62.5px,#88bf77 63.5px,#77bf7e 64.5px,#7cbf7b 65.5px,#71bf80 66.5px,#63be87 67.5px,#5fbe88 68.5px,#53bd8f 69.5px,#4bbc93 70.5px,#50bc90 71.5px,#50bc90 72.5px,#4abc93 73.5px,#49bc94 74.5px,#42bb98 75.5px,#3ab99d 76.5px,#37b99e 77.5px,#39b99d 78.5px,#37b99e 79.5px,#32b8a1 80.5px,#2eb7a4 81.5px,#2ab6a7 82.5px,#29b6a7 83.5px,#2ab6a6 84.5px,#29b6a7 85.5px,#28b6a8 86.5px,#24b5aa 87.5px,#23b4ab 88.5px,#26b5a9 89.5px,#26b5a9 90.5px,#25b5aa 91.5px,#20b4ad 92.5px,#1ab2b1 93.5px,#1fb3ae 94.5px,#22b4ac 95.5px,#2cb7a5 96.5px,#67be85 97.5px,#a2be6c 98.5px,#a9be69 99.5px,#7cbf7c 100.5px,#34b8a0 101.5px,#17b1b3 102.5px,#18b1b2 103.5px,#1db3af 104.5px)"></i><i style="left:92.0px;width:2.05px;background:linear-gradient(#2ab6a7 0.5px,#30b7a2 1.5px,#31b8a2 2.5px,#28b6a7 3.5px,#26b5a9 4.5px,#28b6a7 5.5px,#26b5a9 6.5px,#22b4ab 7.5px,#22b4ab 8.5px,#24b5aa 9.5px,#26b5a9 10.5px,#22b4ab 11.5px,#21b4ac 12.5px,#2db7a4 13.5px,#34b8a0 14.5px,#31b8a2 15.5px,#35b8a0 16.5px,#34b8a0 17.5px,#2ab6a7 18.5px,#27b5a8 19.5px,#29b6a7 20.5px,#2ab6a6 21.5px,#31b8a2 22.5px,#33b8a1 23.5px,#2db7a5 24.5px,#2fb7a3 25.5px,#31b8a2 26.5px,#2ab6a7 27.5px,#27b5a8 28.5px,#2bb6a6 29.5px,#2ab6a6 30.5px,#2cb7a5 31.5px,#32b8a1 32.5px,#31b8a2 33.5px,#33b8a1 34.5px,#35b89f 35.5px,#2db7a4 36.5px,#30b7a3 37.5px,#45bb96 38.5px,#52bd8f 39.5px,#5fbe89 40.5px,#64be86 41.5px,#5ebe89 42.5px,#62be87 43.5px,#60be88 44.5px,#52bd8f 45.5px,#4bbc93 46.5px,#45bb96 47.5px,#3cba9b 48.5px,#3dba9b 49.5px,#3fba9a 50.5px,#3dba9b 51.5px,#40ba99 52.5px,#44bb97 53.5px,#44bb96 54.5px,#4cbc92 55.5px,#52bd8f 56.5px,#4ebc91 57.5px,#4fbc91 58.5px,#4abc93 59.5px,#44bb97 60.5px,#4dbc91 61.5px,#54bd8e 62.5px,#49bb94 63.5px,#49bc94 64.5px,#51bd90 65.5px,#4abc94 66.5px,#47bb95 67.5px,#43bb97 68.5px,#3dba9b 69.5px,#47bb95 70.5px,#51bd8f 71.5px,#51bc90 72.5px,#50bc90 73.5px,#50bc90 74.5px,#50bc90 75.5px,#51bc90 76.5px,#4cbc92 77.5px,#48bb94 78.5px,#44bb97 79.5px,#3eba9a 80.5px,#3cba9b 81.5px,#3fba99 82.5px,#3bb99c 83.5px,#39b99d 84.5px,#3bb99c 85.5px,#3cba9b 86.5px,#37b99e 87.5px,#32b8a1 88.5px,#30b7a3 89.5px,#2eb7a4 90.5px,#2fb7a3 91.5px,#2bb6a5 92.5px,#23b5ab 93.5px,#25b5a9 94.5px,#2bb6a6 95.5px,#49bc94 96.5px,#a9be69 97.5px,#e5b950 98.5px,#efb94b 99.5px,#d4bb58 100.5px,#83bf79 101.5px,#33b8a1 102.5px,#29b6a7 103.5px,#2eb7a4 104.5px)"></i><i style="left:94.0px;width:2.05px;background:linear-gradient(#06a5c8 0.5px,#06a7c6 1.5px,#06a7c6 2.5px,#06a5c8 3.5px,#06a4c9 4.5px,#06a4c9 5.5px,#06a6c7 6.5px,#06a7c5 7.5px,#06a7c6 8.5px,#06a6c7 9.5px,#06a5c8 10.5px,#06a4c9 11.5px,#06a5c8 12.5px,#06a8c4 13.5px,#06a8c4 14.5px,#06a8c4 15.5px,#07a9c3 16.5px,#06a8c5 17.5px,#06a7c6 18.5px,#06a7c6 19.5px,#06a7c5 20.5px,#07a9c3 21.5px,#08abc0 22.5px,#07aac1 23.5px,#07a9c2 24.5px,#07a9c2 25.5px,#06a8c4 26.5px,#06a7c5 27.5px,#06a8c4 28.5px,#07aac2 29.5px,#08aac0 30.5px,#09acbe 31.5px,#0dadbb 32.5px,#10afb8 33.5px,#13b0b6 34.5px,#12afb7 35.5px,#0eaeba 36.5px,#0eaeba 37.5px,#15b0b4 38.5px,#18b1b2 39.5px,#13b0b6 40.5px,#09abbe 41.5px,#06a8c4 42.5px,#06a8c3 43.5px,#07a9c2 44.5px,#08aac0 45.5px,#0eaeba 46.5px,#17b1b3 47.5px,#1bb2b0 48.5px,#22b4ac 49.5px,#28b6a7 50.5px,#28b6a7 51.5px,#30b7a3 52.5px,#51bc90 53.5px,#85bf78 54.5px,#b8bd63 55.5px,#cfbb5a 56.5px,#cebb5a 57.5px,#d7ba56 58.5px,#cfbb5a 59.5px,#b1bd66 60.5px,#9dbe6e 61.5px,#81bf7a 62.5px,#63be87 63.5px,#6cbf83 64.5px,#76bf7e 65.5px,#72bf80 66.5px,#7dbf7b 67.5px,#7fbf7a 68.5px,#7abf7c 69.5px,#8dbf75 70.5px,#96bf71 71.5px,#93bf72 72.5px,#a3be6b 73.5px,#bfbc61 74.5px,#cebb5a 75.5px,#d4bb58 76.5px,#c5bc5e 77.5px,#aabe69 78.5px,#9fbe6d 79.5px,#9dbe6e 80.5px,#98bf70 81.5px,#9bbf6f 82.5px,#9abf6f 83.5px,#94bf71 84.5px,#96bf71 85.5px,#96bf71 86.5px,#8abf76 87.5px,#87bf77 88.5px,#86bf78 89.5px,#83bf78 90.5px,#90bf73 91.5px,#92bf73 92.5px,#85bf78 93.5px,#82bf79 94.5px,#8dbf75 95.5px,#afbe67 96.5px,#e6b94f 97.5px,#ffc238 98.5px,#fec833 99.5px,#ffc436 100.5px,#eab94e 101.5px,#c2bc5f 102.5px,#abbe68 103.5px,#a3be6b 104.5px)"></i><i style="left:96.0px;width:2.05px;background:linear-gradient(#06a2cb 0.5px,#06a2cb 1.5px,#06a2cc 2.5px,#06a0cd 3.5px,#069fce 4.5px,#06a0cd 5.5px,#06a2cb 6.5px,#06a2cb 7.5px,#06a1cc 8.5px,#06a2cb 9.5px,#06a3cb 10.5px,#06a3ca 11.5px,#06a4ca 12.5px,#06a2cb 13.5px,#06a1cc 14.5px,#06a2cc 15.5px,#06a1cd 16.5px,#069fce 17.5px,#06a1cd 18.5px,#06a3cb 19.5px,#06a4ca 20.5px,#06a4ca 21.5px,#06a4ca 22.5px,#06a4ca 23.5px,#06a4c9 24.5px,#06a5c8 25.5px,#06a5c8 26.5px,#06a7c6 27.5px,#06a7c5 28.5px,#06a7c5 29.5px,#07a9c2 30.5px,#07aac2 31.5px,#07a9c2 32.5px,#08abc0 33.5px,#0cadbb 34.5px,#10afb8 35.5px,#0eaeba 36.5px,#0badbc 37.5px,#0faeb9 38.5px,#11afb7 39.5px,#0dadbb 40.5px,#07a9c2 41.5px,#06a3ca 42.5px,#06a0cd 43.5px,#06a1cd 44.5px,#06a4c9 45.5px,#07aac1 46.5px,#11afb8 47.5px,#18b1b3 48.5px,#1fb3ae 49.5px,#29b6a7 50.5px,#2db7a5 51.5px,#56bd8d 52.5px,#b5bd65 53.5px,#f1b949 54.5px,#fcce2d 55.5px,#f8d627 56.5px,#fad22a 57.5px,#f8d628 58.5px,#f8d627 59.5px,#fec634 60.5px,#efb94b 61.5px,#babd62 62.5px,#7ebf7b 63.5px,#75bf7f 64.5px,#7bbf7c 65.5px,#72bf80 66.5px,#7cbf7b 67.5px,#8bbf75 68.5px,#8bbf75 69.5px,#97bf70 70.5px,#a3be6c 71.5px,#a6be6a 72.5px,#c4bc5e 73.5px,#ebb94d 74.5px,#f7ba45 75.5px,#fbbd40 76.5px,#f3ba48 77.5px,#cfbb5a 78.5px,#b2bd66 79.5px,#abbe69 80.5px,#a2be6c 81.5px,#a2be6c 82.5px,#a7be6a 83.5px,#a3be6c 84.5px,#a6be6a 85.5px,#a9be69 86.5px,#9dbf6e 87.5px,#95bf71 88.5px,#95bf71 89.5px,#94bf72 90.5px,#9bbf6f 91.5px,#9ebe6e 92.5px,#96bf71 93.5px,#9ebe6e 94.5px,#bcbd62 95.5px,#e3b951 96.5px,#fec13a 97.5px,#fdca31 98.5px,#fec932 99.5px,#fec832 100.5px,#fec932 101.5px,#fec13a 102.5px,#edb94c 103.5px,#ddba54 104.5px)"></i><i style="left:98.0px;width:2.05px;background:linear-gradient(#06a4c9 0.5px,#06a1cd 1.5px,#06a0cd 2.5px,#06a2cb 3.5px,#06a1cc 4.5px,#06a0cd 5.5px,#06a1cc 6.5px,#06a1cc 7.5px,#06a0cd 8.5px,#06a1cc 9.5px,#06a3ca 10.5px,#06a3ca 11.5px,#06a3ca 12.5px,#06a2cb 13.5px,#06a1cc 14.5px,#06a0cd 15.5px,#069ece 16.5px,#069fce 17.5px,#06a3cb 18.5px,#06a5c8 19.5px,#06a3ca 20.5px,#06a1cc 21.5px,#06a1cd 22.5px,#06a2cb 23.5px,#06a3ca 24.5px,#06a4c9 25.5px,#06a6c6 26.5px,#07a9c3 27.5px,#06a8c3 28.5px,#06a8c4 29.5px,#08aac1 30.5px,#08abc0 31.5px,#07a9c3 32.5px,#06a8c4 33.5px,#08abc0 34.5px,#0dadbb 35.5px,#0eaeba 36.5px,#0faeb9 37.5px,#15b1b4 38.5px,#17b1b3 39.5px,#12b0b6 40.5px,#10afb8 41.5px,#0eaeba 42.5px,#0badbc 43.5px,#0aacbd 44.5px,#0badbc 45.5px,#15b0b5 46.5px,#1db3af 47.5px,#1bb2b0 48.5px,#1cb3af 49.5px,#23b4ab 50.5px,#28b6a7 51.5px,#4ebc91 52.5px,#a1be6c 53.5px,#e5b950 54.5px,#fdcb30 55.5px,#fbd02c 56.5px,#fcce2d 57.5px,#f9d329 58.5px,#fcce2d 59.5px,#fbbd40 60.5px,#e0ba53 61.5px,#abbe69 62.5px,#7cbf7c 63.5px,#77bf7e 64.5px,#73bf7f 65.5px,#72bf80 66.5px,#83bf79 67.5px,#8dbf74 68.5px,#93bf72 69.5px,#9fbe6d 70.5px,#9ebe6e 71.5px,#a4be6b 72.5px,#cdbb5b 73.5px,#f2b949 74.5px,#fbbc41 75.5px,#febf3c 76.5px,#f7ba45 77.5px,#d4bb58 78.5px,#b1bd66 79.5px,#a5be6b 80.5px,#a1be6c 81.5px,#a4be6b 82.5px,#a6be6b 83.5px,#9ebe6e 84.5px,#a0be6d 85.5px,#a1be6d 86.5px,#9cbf6e 87.5px,#9ebe6e 88.5px,#9dbe6e 89.5px,#98bf70 90.5px,#9cbf6f 91.5px,#9dbe6e 92.5px,#9dbe6e 93.5px,#adbe68 94.5px,#cbbb5c 95.5px,#f0b94a 96.5px,#ffc436 97.5px,#fec733 98.5px,#ffc436 99.5px,#fec536 100.5px,#fec535 101.5px,#fec03b 102.5px,#f3b948 103.5px,#e5b950 104.5px)"></i><i style="left:100.0px;width:2.05px;background:linear-gradient(#18b1b3 0.5px,#11afb8 1.5px,#0faeb9 2.5px,#16b1b4 3.5px,#18b1b2 4.5px,#12afb7 5.5px,#13b0b6 6.5px,#19b2b2 7.5px,#16b1b4 8.5px,#14b0b5 9.5px,#16b1b3 10.5px,#11afb7 11.5px,#14b0b5 12.5px,#18b2b2 13.5px,#15b0b5 14.5px,#14b0b5 15.5px,#14b0b5 16.5px,#12afb7 17.5px,#19b2b2 18.5px,#20b4ad 19.5px,#18b2b2 20.5px,#17b1b3 21.5px,#18b1b2 22.5px,#15b1b4 23.5px,#17b1b3 24.5px,#1ab2b1 25.5px,#1bb2b0 26.5px,#21b4ac 27.5px,#23b4ab 28.5px,#1eb3ae 29.5px,#29b6a7 30.5px,#31b8a2 31.5px,#2cb7a5 32.5px,#2bb6a6 33.5px,#2eb7a4 34.5px,#2db7a5 35.5px,#33b8a1 36.5px,#3cba9b 37.5px,#42bb98 38.5px,#48bb95 39.5px,#46bb96 40.5px,#41ba98 41.5px,#49bb94 42.5px,#4bbc93 43.5px,#41ba98 44.5px,#3fba99 45.5px,#49bc94 46.5px,#52bd8f 47.5px,#61be87 48.5px,#6bbf83 49.5px,#63be86 50.5px,#60be88 51.5px,#68be84 52.5px,#6fbf81 53.5px,#93bf72 54.5px,#b9bd63 55.5px,#c7bc5d 56.5px,#d8ba56 57.5px,#e3b951 58.5px,#ccbb5b 59.5px,#b3bd65 60.5px,#a6be6a 61.5px,#8dbf74 62.5px,#86bf77 63.5px,#8dbf75 64.5px,#85bf78 65.5px,#8ebf74 66.5px,#9bbf6f 67.5px,#93bf72 68.5px,#9dbe6e 69.5px,#aabe69 70.5px,#a0be6d 71.5px,#a9be69 72.5px,#c8bc5d 73.5px,#e3b951 74.5px,#f5ba47 75.5px,#fcbd3f 76.5px,#eeb94b 77.5px,#cdbb5b 78.5px,#b2bd66 79.5px,#a1be6c 80.5px,#9dbf6e 81.5px,#9bbf6f 82.5px,#96bf71 83.5px,#92bf72 84.5px,#93bf72 85.5px,#8cbf75 86.5px,#90bf73 87.5px,#98bf70 88.5px,#90bf73 89.5px,#8dbf74 90.5px,#92bf73 91.5px,#90bf73 92.5px,#95bf71 93.5px,#a0be6d 94.5px,#b4bd65 95.5px,#daba55 96.5px,#f9bb43 97.5px,#fec13a 98.5px,#fec536 99.5px,#ffc337 100.5px,#fabc42 101.5px,#edb94c 102.5px,#d8ba56 103.5px,#c8bc5d 104.5px)"></i><i style="left:102.0px;width:2.05px;background:linear-gradient(#94bf72 0.5px,#8fbf73 1.5px,#80bf7a 2.5px,#8cbf75 3.5px,#95bf71 4.5px,#8cbf75 5.5px,#98bf70 6.5px,#9ebe6d 7.5px,#8ebf74 8.5px,#91bf73 9.5px,#95bf71 10.5px,#87bf77 11.5px,#91bf73 12.5px,#98bf70 13.5px,#8fbf74 14.5px,#9abf6f 15.5px,#9bbf6f 16.5px,#88bf76 17.5px,#95bf71 18.5px,#a1be6c 19.5px,#94bf72 20.5px,#9bbf6f 21.5px,#9ebe6e 22.5px,#8abf76 23.5px,#8ebf74 24.5px,#96bf71 25.5px,#90bf73 26.5px,#a0be6d 27.5px,#a3be6c 28.5px,#94bf71 29.5px,#a4be6b 30.5px,#acbe68 31.5px,#9ebe6e 32.5px,#a7be6a 33.5px,#afbe67 34.5px,#a5be6b 35.5px,#b0bd66 36.5px,#b7bd64 37.5px,#b0bd66 38.5px,#b9bd63 39.5px,#c0bc60 40.5px,#babd62 41.5px,#c5bc5e 42.5px,#cabb5c 43.5px,#b9bd63 44.5px,#bdbc61 45.5px,#c8bc5d 46.5px,#cfbb5a 47.5px,#f0b94a 48.5px,#fcbd3f 49.5px,#f0b94a 50.5px,#eeb94b 51.5px,#e3b951 52.5px,#c7bc5d 53.5px,#d6ba57 54.5px,#f2b949 55.5px,#f7ba45 56.5px,#ffc338 57.5px,#fec833 58.5px,#fbbc41 59.5px,#eeb94b 60.5px,#d8ba56 61.5px,#babd63 62.5px,#b9bd63 63.5px,#babd63 64.5px,#abbe68 65.5px,#afbe67 66.5px,#b4bd65 67.5px,#b5bd65 68.5px,#d2bb59 69.5px,#e0ba53 70.5px,#cebb5a 71.5px,#bdbd61 72.5px,#b1bd66 73.5px,#b2bd66 74.5px,#c5bc5e 75.5px,#cdbb5b 76.5px,#babd63 77.5px,#a8be6a 78.5px,#a7be6a 79.5px,#afbe67 80.5px,#a7be6a 81.5px,#8fbf74 82.5px,#83bf79 83.5px,#8abf76 84.5px,#8bbf75 85.5px,#81bf7a 86.5px,#81bf79 87.5px,#86bf77 88.5px,#82bf79 89.5px,#80bf7a 90.5px,#7fbf7a 91.5px,#7cbf7b 92.5px,#83bf78 93.5px,#8abf76 94.5px,#8bbf75 95.5px,#9abf6f 96.5px,#aebe67 97.5px,#bdbc61 98.5px,#ccbb5b 99.5px,#ccbb5b 100.5px,#bebc61 101.5px,#afbe67 102.5px,#9dbe6e 103.5px,#8fbf74 104.5px)"></i><i style="left:104.0px;width:2.05px;background:linear-gradient(#9abf6f 0.5px,#99bf6f 1.5px,#8cbf75 2.5px,#97bf70 3.5px,#99bf70 4.5px,#8dbf74 5.5px,#a0be6d 6.5px,#a4be6b 7.5px,#95bf71 8.5px,#9dbe6e 9.5px,#a0be6d 10.5px,#97bf70 11.5px,#a1be6c 12.5px,#a0be6d 13.5px,#90bf73 14.5px,#9bbf6f 15.5px,#a2be6c 16.5px,#94bf72 17.5px,#9fbe6d 18.5px,#a6be6a 19.5px,#9bbf6f 20.5px,#a3be6c 21.5px,#a2be6c 22.5px,#93bf72 23.5px,#99bf6f 24.5px,#9dbf6e 25.5px,#9cbf6e 26.5px,#acbe68 27.5px,#a9be69 28.5px,#96bf71 29.5px,#a2be6c 30.5px,#aabe69 31.5px,#9fbe6d 32.5px,#afbe67 33.5px,#b8bd63 34.5px,#afbe67 35.5px,#b9bd63 36.5px,#bdbd61 37.5px,#b3bd65 38.5px,#bbbd62 39.5px,#bfbc60 40.5px,#bbbd62 41.5px,#c8bc5d 42.5px,#cabb5c 43.5px,#bebc61 44.5px,#ccbb5b 45.5px,#d6ba57 46.5px,#daba55 47.5px,#f7ba45 48.5px,#febf3c 49.5px,#f8ba44 50.5px,#fbbc41 51.5px,#eeb94c 52.5px,#cdbb5b 53.5px,#e1ba52 54.5px,#fdbe3e 55.5px,#fec03a 56.5px,#fec932 57.5px,#fec832 58.5px,#fcbd3f 59.5px,#f9bb43 60.5px,#e1ba52 61.5px,#bebc61 62.5px,#bcbd62 63.5px,#babd63 64.5px,#acbe68 65.5px,#b1bd66 66.5px,#b5bd64 67.5px,#cebb5a 68.5px,#fcbd40 69.5px,#ffc436 70.5px,#f5ba47 71.5px,#d5ba58 72.5px,#adbe68 73.5px,#96bf71 74.5px,#9ebe6e 75.5px,#9fbe6d 76.5px,#94bf72 77.5px,#9abf6f 78.5px,#b2bd66 79.5px,#ccbb5b 80.5px,#c6bc5e 81.5px,#a1be6d 82.5px,#87bf77 83.5px,#8cbf75 84.5px,#8ebf74 85.5px,#8abf76 86.5px,#8bbf75 87.5px,#87bf77 88.5px,#7ebf7a 89.5px,#81bf79 90.5px,#84bf78 91.5px,#82bf79 92.5px,#88bf77 93.5px,#8bbf75 94.5px,#86bf77 95.5px,#87bf77 96.5px,#83bf78 97.5px,#7cbf7b 98.5px,#81bf79 99.5px,#85bf78 100.5px,#7dbf7b 101.5px,#7cbf7b 102.5px,#7cbf7c 103.5px,#76bf7e 104.5px)"></i><i style="left:106.0px;width:2.05px;background:linear-gradient(#62be87 0.5px,#61be88 1.5px,#57bd8c 2.5px,#62be87 3.5px,#66be85 4.5px,#5dbe8a 5.5px,#6bbf83 6.5px,#6dbf82 7.5px,#5fbe88 8.5px,#69be84 9.5px,#6dbf82 10.5px,#63be87 11.5px,#6abe83 12.5px,#6dbf82 13.5px,#63be87 14.5px,#67be85 15.5px,#68be84 16.5px,#5ebe89 17.5px,#6cbf82 18.5px,#73bf80 19.5px,#68be84 20.5px,#75bf7e 21.5px,#77bf7e 22.5px,#67be85 23.5px,#6dbf82 24.5px,#6dbf82 25.5px,#6ebf82 26.5px,#7dbf7b 27.5px,#7cbf7b 28.5px,#72bf80 29.5px,#7bbf7c 30.5px,#7abf7c 31.5px,#6dbf82 32.5px,#7cbf7b 33.5px,#89bf76 34.5px,#88bf77 35.5px,#8fbf74 36.5px,#90bf73 37.5px,#8dbf74 38.5px,#99bf70 39.5px,#9cbf6e 40.5px,#99bf70 41.5px,#a5be6b 42.5px,#a4be6b 43.5px,#97bf70 44.5px,#a7be6a 45.5px,#b1bd66 46.5px,#acbe68 47.5px,#babd62 48.5px,#bebc61 49.5px,#b5bd64 50.5px,#b8bd63 51.5px,#afbe67 52.5px,#99bf6f 53.5px,#a7be6a 54.5px,#bbbd62 55.5px,#bfbc60 56.5px,#cdbb5b 57.5px,#cebb5a 58.5px,#c3bc5f 59.5px,#c7bc5d 60.5px,#bebc61 61.5px,#a8be69 62.5px,#aabe69 63.5px,#a9be69 64.5px,#a0be6d 65.5px,#acbe68 66.5px,#b6bd64 67.5px,#bfbc60 68.5px,#d7ba56 69.5px,#ddba54 70.5px,#d2bb59 71.5px,#cabb5c 72.5px,#c2bc5f 73.5px,#b9bd63 74.5px,#b7bd64 75.5px,#a8be6a 76.5px,#97bf70 77.5px,#a0be6d 78.5px,#b3bd65 79.5px,#c4bc5e 80.5px,#c3bc5f 81.5px,#b0bd67 82.5px,#a8be6a 83.5px,#b4bd65 84.5px,#bdbd61 85.5px,#babd62 86.5px,#b1bd66 87.5px,#9ebe6e 88.5px,#8cbf75 89.5px,#8ebf74 90.5px,#90bf73 91.5px,#96bf71 92.5px,#abbe68 93.5px,#bfbc60 94.5px,#c5bc5e 95.5px,#c1bc60 96.5px,#afbe67 97.5px,#99bf70 98.5px,#a2be6c 99.5px,#b5bd64 100.5px,#b4bd65 101.5px,#a8be6a 102.5px,#92bf72 103.5px,#82bf79 104.5px)"></i><i style="left:108.0px;width:2.05px;background:linear-gradient(#06a8c5 0.5px,#07a9c3 1.5px,#07a9c2 2.5px,#07a9c2 3.5px,#09abbf 4.5px,#0aacbe 5.5px,#0cadbc 6.5px,#0cadbc 7.5px,#0aacbe 8.5px,#0aacbe 9.5px,#0aacbd 10.5px,#09abbf 11.5px,#09acbe 12.5px,#0cadbc 13.5px,#0dadbb 14.5px,#0bacbd 15.5px,#09abbf 16.5px,#08abc0 17.5px,#0cadbc 18.5px,#0faeb9 19.5px,#11afb8 20.5px,#13b0b6 21.5px,#11afb8 22.5px,#0eaeba 23.5px,#0eaeba 24.5px,#0faeb9 25.5px,#14b0b5 26.5px,#16b1b3 27.5px,#16b1b4 28.5px,#1ab2b1 29.5px,#22b4ac 30.5px,#22b4ab 31.5px,#1eb3ae 32.5px,#1fb3ae 33.5px,#1fb3ad 34.5px,#24b5aa 35.5px,#28b6a7 36.5px,#2ab6a6 37.5px,#2bb6a6 38.5px,#2eb7a4 39.5px,#32b8a1 40.5px,#35b8a0 41.5px,#3bba9c 42.5px,#3dba9b 43.5px,#3bb99c 44.5px,#41ba98 45.5px,#47bb95 46.5px,#43bb97 47.5px,#44bb97 48.5px,#4abc94 49.5px,#49bb94 50.5px,#54bd8e 51.5px,#59bd8c 52.5px,#50bc90 53.5px,#5fbe88 54.5px,#72bf80 55.5px,#89bf76 56.5px,#b7bd64 57.5px,#d4bb58 58.5px,#d8ba56 59.5px,#e4b951 60.5px,#e0ba53 61.5px,#c5bc5e 62.5px,#b4bd65 63.5px,#a1be6d 64.5px,#8dbf74 65.5px,#9dbe6e 66.5px,#adbe68 67.5px,#abbe68 68.5px,#b0bd67 69.5px,#afbe67 70.5px,#b6bd64 71.5px,#dbba55 72.5px,#f1b949 73.5px,#edb94c 74.5px,#e0ba52 75.5px,#c4bc5e 76.5px,#b2bd66 77.5px,#b8bd63 78.5px,#bfbc61 79.5px,#bebc61 80.5px,#c4bc5f 81.5px,#d3bb58 82.5px,#e4b950 83.5px,#f5ba47 84.5px,#f9bb43 85.5px,#f4ba47 86.5px,#efb94a 87.5px,#daba55 88.5px,#bbbd62 89.5px,#b1bd66 90.5px,#b5bd64 91.5px,#ccbb5b 92.5px,#f9bb43 93.5px,#fbcf2d 94.5px,#fad32a 95.5px,#fad22a 96.5px,#fdca31 97.5px,#f5ba46 98.5px,#f2b948 99.5px,#fbbc40 100.5px,#fbbc41 101.5px,#f4ba47 102.5px,#d9ba56 103.5px,#c2bc5f 104.5px)"></i><i style="left:110.0px;width:2.05px;background:linear-gradient(#06a6c7 0.5px,#07a9c3 1.5px,#08aac1 2.5px,#08aac1 3.5px,#08abc0 4.5px,#09abbf 5.5px,#08abc0 6.5px,#07a9c2 7.5px,#06a7c5 8.5px,#06a8c4 9.5px,#06a8c3 10.5px,#07a9c3 11.5px,#08aac1 12.5px,#09abbf 13.5px,#08abc0 14.5px,#08aac0 15.5px,#09abbf 16.5px,#09abbf 17.5px,#08aac1 18.5px,#08abc0 19.5px,#0aacbd 20.5px,#0badbc 21.5px,#09abbe 22.5px,#09abbe 23.5px,#0aacbd 24.5px,#0bacbd 25.5px,#0dadbb 26.5px,#10afb8 27.5px,#11afb7 28.5px,#15b0b4 29.5px,#1db3af 30.5px,#1fb3ae 31.5px,#1fb3ad 32.5px,#21b4ac 33.5px,#1cb3b0 34.5px,#1bb2b0 35.5px,#23b5ab 36.5px,#28b6a7 37.5px,#24b5aa 38.5px,#25b5aa 39.5px,#2cb7a5 40.5px,#2bb6a6 41.5px,#30b7a3 42.5px,#35b89f 43.5px,#35b8a0 44.5px,#38b99e 45.5px,#3ab99c 46.5px,#37b99e 47.5px,#3eba9a 48.5px,#4abc93 49.5px,#49bb94 50.5px,#52bd8f 51.5px,#56bd8d 52.5px,#4cbc92 53.5px,#5ebe89 54.5px,#88bf77 55.5px,#bcbd62 56.5px,#f7ba45 57.5px,#fec832 58.5px,#fec635 59.5px,#fdcb30 60.5px,#fbd02c 61.5px,#ffc338 62.5px,#edb94c 63.5px,#c2bc5f 64.5px,#9abf6f 65.5px,#a0be6d 66.5px,#abbe68 67.5px,#a4be6b 68.5px,#acbe68 69.5px,#b4bd65 70.5px,#bdbd61 71.5px,#e4b951 72.5px,#fdbe3e 73.5px,#fbbc40 74.5px,#eeb94c 75.5px,#cdbb5b 76.5px,#b4bd65 77.5px,#b7bd64 78.5px,#bdbd61 79.5px,#b7bd64 80.5px,#c0bc60 81.5px,#deba54 82.5px,#f4ba48 83.5px,#fdbe3d 84.5px,#fec239 85.5px,#febf3c 86.5px,#fcbd3f 87.5px,#eeb94b 88.5px,#c9bc5c 89.5px,#b9bd63 90.5px,#c4bc5e 91.5px,#edb94c 92.5px,#fad22a 93.5px,#f7d826 94.5px,#f7d826 95.5px,#f7d826 96.5px,#f7d826 97.5px,#fcce2d 98.5px,#fec734 99.5px,#fec734 100.5px,#ffc437 101.5px,#ffc238 102.5px,#f9bb43 103.5px,#eab94e 104.5px)"></i><i style="left:112.0px;width:2.05px;background:linear-gradient(#06a7c6 0.5px,#07a9c2 1.5px,#09abbf 2.5px,#0cadbc 3.5px,#0badbc 4.5px,#09abbe 5.5px,#07aac1 6.5px,#07a9c2 7.5px,#07aac1 8.5px,#09abbf 9.5px,#0cadbc 10.5px,#0dadbb 11.5px,#0bacbd 12.5px,#0aacbe 13.5px,#08abc0 14.5px,#08abc0 15.5px,#0aacbd 16.5px,#0cadbb 17.5px,#0bacbd 18.5px,#0aacbe 19.5px,#0bacbd 20.5px,#0badbc 21.5px,#0aacbe 22.5px,#0badbc 23.5px,#0dadbb 24.5px,#0dadbb 25.5px,#0faeb9 26.5px,#14b0b5 27.5px,#15b1b4 28.5px,#17b1b3 29.5px,#1bb2b0 30.5px,#1db3af 31.5px,#1eb3ae 32.5px,#1fb3ad 33.5px,#20b4ad 34.5px,#20b4ad 35.5px,#25b5a9 36.5px,#27b5a8 37.5px,#23b4ab 38.5px,#24b5aa 39.5px,#2ab6a7 40.5px,#2bb6a6 41.5px,#33b8a1 42.5px,#3dba9b 43.5px,#3bb99c 44.5px,#42bb98 45.5px,#49bc94 46.5px,#42bb98 47.5px,#43bb97 48.5px,#49bc94 49.5px,#47bb95 50.5px,#58bd8c 51.5px,#64be86 52.5px,#58bd8c 53.5px,#65be86 54.5px,#86bf77 55.5px,#abbe68 56.5px,#e2b952 57.5px,#febf3c 58.5px,#fdbe3d 59.5px,#ffc338 60.5px,#ffc436 61.5px,#f1b94a 62.5px,#d8ba56 63.5px,#b9bd63 64.5px,#9dbe6e 65.5px,#a1be6c 66.5px,#a9be69 67.5px,#a6be6a 68.5px,#b0bd66 69.5px,#b6bd64 70.5px,#babd62 71.5px,#e1b952 72.5px,#fcbd3f 73.5px,#fabc42 74.5px,#efb94b 75.5px,#d2bb59 76.5px,#b8bd63 77.5px,#b6bd64 78.5px,#b9bd63 79.5px,#b9bd63 80.5px,#cabb5c 81.5px,#e9b94e 82.5px,#fbbc41 83.5px,#fec03b 84.5px,#fec13a 85.5px,#fec03b 86.5px,#febf3c 87.5px,#efb94b 88.5px,#cabb5c 89.5px,#babd63 90.5px,#c7bc5d 91.5px,#f7ba45 92.5px,#f8d627 93.5px,#f7d826 94.5px,#f7d826 95.5px,#f7d826 96.5px,#f7d826 97.5px,#fad22a 98.5px,#fdca31 99.5px,#fec832 100.5px,#ffc436 101.5px,#fec139 102.5px,#f6ba45 103.5px,#e7b94f 104.5px)"></i><i style="left:114.0px;width:2.05px;background:linear-gradient(#26b5a9 0.5px,#28b6a8 1.5px,#2bb6a6 2.5px,#30b7a3 3.5px,#2eb7a4 4.5px,#2cb7a5 5.5px,#2ab6a6 6.5px,#27b5a8 7.5px,#29b6a7 8.5px,#31b8a2 9.5px,#35b8a0 10.5px,#32b8a1 11.5px,#32b8a1 12.5px,#2db7a5 13.5px,#29b6a7 14.5px,#2cb7a5 15.5px,#2eb7a4 16.5px,#2fb7a3 17.5px,#35b89f 18.5px,#32b8a1 19.5px,#2bb6a5 20.5px,#32b8a2 21.5px,#35b89f 22.5px,#36b99f 23.5px,#3eba9a 24.5px,#40ba99 25.5px,#3dba9b 26.5px,#44bb96 27.5px,#46bb95 28.5px,#48bb94 29.5px,#56bd8d 30.5px,#53bd8e 31.5px,#4cbc92 32.5px,#5abd8b 33.5px,#5ebe89 34.5px,#5abd8b 35.5px,#68be84 36.5px,#6bbe83 37.5px,#67be85 38.5px,#75bf7e 39.5px,#76bf7e 40.5px,#74bf7f 41.5px,#8bbf75 42.5px,#98bf70 43.5px,#97bf70 44.5px,#a8be6a 45.5px,#b2bd66 46.5px,#afbe67 47.5px,#b7bd64 48.5px,#b0bd66 49.5px,#98bf70 50.5px,#9dbe6e 51.5px,#a4be6b 52.5px,#9bbf6f 53.5px,#a0be6d 54.5px,#a2be6c 55.5px,#a3be6c 56.5px,#c2bc5f 57.5px,#d3bb58 58.5px,#d2bb59 59.5px,#d9ba56 60.5px,#cfbb5a 61.5px,#b8bd63 62.5px,#bbbd62 63.5px,#b9bd63 64.5px,#b2bd66 65.5px,#bcbd62 66.5px,#babd62 67.5px,#b2bd65 68.5px,#b8bd63 69.5px,#b7bd64 70.5px,#bdbd61 71.5px,#e0ba53 72.5px,#f6ba46 73.5px,#f3b948 74.5px,#ebb94d 75.5px,#d2bb59 76.5px,#bcbd62 77.5px,#babd62 78.5px,#b9bd63 79.5px,#b9bd63 80.5px,#cabb5c 81.5px,#e2b951 82.5px,#f8ba44 83.5px,#fec13a 84.5px,#fec13a 85.5px,#fdbe3e 86.5px,#fabc41 87.5px,#e6b950 88.5px,#c2bc5f 89.5px,#b2bd65 90.5px,#babd63 91.5px,#e3b951 92.5px,#fcce2e 93.5px,#f7d826 94.5px,#f7d826 95.5px,#f7d826 96.5px,#f8d726 97.5px,#fdcb30 98.5px,#ffc436 99.5px,#ffc437 100.5px,#fec13a 101.5px,#fcbd3f 102.5px,#e9b94e 103.5px,#d3bb58 104.5px)"></i><i style="left:116.0px;width:2.05px;background:linear-gradient(#5bbd8a 0.5px,#58bd8c 1.5px,#51bd90 2.5px,#58bd8c 3.5px,#5ebe89 4.5px,#59bd8b 5.5px,#59bd8c 6.5px,#51bd8f 7.5px,#4ebc91 8.5px,#5dbe8a 9.5px,#5fbe89 10.5px,#59bd8c 11.5px,#62be87 12.5px,#5bbd8b 13.5px,#4fbc91 14.5px,#58bd8c 15.5px,#58bd8c 16.5px,#52bd8f 17.5px,#60be88 18.5px,#62be87 19.5px,#53bd8f 20.5px,#58bd8c 21.5px,#5ebe89 22.5px,#5abd8b 23.5px,#6abe84 24.5px,#6ebf82 25.5px,#65be86 26.5px,#6fbf81 27.5px,#72bf80 28.5px,#6bbe83 29.5px,#78bf7d 30.5px,#7abf7c 31.5px,#71bf80 32.5px,#84bf78 33.5px,#8bbf75 34.5px,#86bf77 35.5px,#96bf71 36.5px,#9cbf6e 37.5px,#94bf72 38.5px,#9ebe6e 39.5px,#a3be6c 40.5px,#aabe69 41.5px,#d0bb59 42.5px,#ebb94d 43.5px,#f1b94a 44.5px,#fcbd3f 45.5px,#febf3c 46.5px,#fcbd3f 47.5px,#ffc436 48.5px,#fdbe3d 49.5px,#e3b951 50.5px,#daba55 51.5px,#c9bc5d 52.5px,#afbe67 53.5px,#b1bd66 54.5px,#b0bd67 55.5px,#a9be69 56.5px,#bbbd62 57.5px,#bdbd61 58.5px,#b1bd66 59.5px,#bbbd62 60.5px,#b9bd63 61.5px,#acbe68 62.5px,#b5bd65 63.5px,#b3bd65 64.5px,#a9be69 65.5px,#b3bd65 66.5px,#b3bd65 67.5px,#a3be6c 68.5px,#a0be6d 69.5px,#a1be6d 70.5px,#a5be6b 71.5px,#bdbc61 72.5px,#cebb5a 73.5px,#c8bc5d 74.5px,#bbbd62 75.5px,#a4be6b 76.5px,#91bf73 77.5px,#8fbf74 78.5px,#8fbf74 79.5px,#8dbf74 80.5px,#97bf70 81.5px,#a5be6b 82.5px,#b8bd63 83.5px,#ccbb5b 84.5px,#d7ba57 85.5px,#d0bb5a 86.5px,#bebc61 87.5px,#a0be6d 88.5px,#84bf78 89.5px,#83bf79 90.5px,#88bf77 91.5px,#9bbf6f 92.5px,#c5bc5e 93.5px,#e4b951 94.5px,#efb94b 95.5px,#f2b949 96.5px,#e0ba52 97.5px,#bdbc61 98.5px,#b9bd63 99.5px,#cdbb5b 100.5px,#cebb5a 101.5px,#c2bc5f 102.5px,#a2be6c 103.5px,#89bf76 104.5px)"></i><i style="left:118.0px;width:2.05px;background:linear-gradient(#77bf7e 0.5px,#75bf7e 1.5px,#62be87 2.5px,#62be87 3.5px,#66be85 4.5px,#60be88 5.5px,#67be85 6.5px,#68be84 7.5px,#5fbe89 8.5px,#6abe84 9.5px,#6abe83 10.5px,#62be87 11.5px,#6cbf83 12.5px,#66be85 13.5px,#57bd8c 14.5px,#61be88 15.5px,#67be85 16.5px,#61be88 17.5px,#6fbf81 18.5px,#73bf80 19.5px,#64be86 20.5px,#6cbf82 21.5px,#73bf80 22.5px,#69be84 23.5px,#72bf80 24.5px,#75bf7e 25.5px,#6cbf83 26.5px,#73bf7f 27.5px,#77bf7e 28.5px,#6ebf82 29.5px,#77bf7d 30.5px,#80bf7a 31.5px,#7ebf7b 32.5px,#8ebf74 33.5px,#99bf70 34.5px,#92bf73 35.5px,#9ebe6e 36.5px,#a4be6b 37.5px,#97bf70 38.5px,#9fbe6d 39.5px,#a2be6c 40.5px,#a8be6a 41.5px,#d7ba56 42.5px,#fabc42 43.5px,#fdbe3e 44.5px,#fec634 45.5px,#fec932 46.5px,#fec139 47.5px,#fec833 48.5px,#fec635 49.5px,#f4ba47 50.5px,#e8b94f 51.5px,#cdbb5b 52.5px,#afbe67 53.5px,#b2bd66 54.5px,#b4bd65 55.5px,#aabe69 56.5px,#afbe67 57.5px,#abbe69 58.5px,#9bbf6f 59.5px,#a8be6a 60.5px,#abbe69 61.5px,#9bbf6f 62.5px,#a3be6c 63.5px,#a1be6c 64.5px,#91bf73 65.5px,#94bf72 66.5px,#93bf72 67.5px,#83bf78 68.5px,#82bf79 69.5px,#83bf79 70.5px,#7dbf7b 71.5px,#7fbf7a 72.5px,#79bf7d 73.5px,#6fbf81 74.5px,#71bf80 75.5px,#6abe83 76.5px,#5cbe8a 77.5px,#58bd8c 78.5px,#53bd8e 79.5px,#50bc90 80.5px,#5abd8b 81.5px,#60be88 82.5px,#5fbe88 83.5px,#69be84 84.5px,#6dbf82 85.5px,#67be85 86.5px,#60be88 87.5px,#53bd8f 88.5px,#4cbc92 89.5px,#52bd8f 90.5px,#52bd8f 91.5px,#4dbc92 92.5px,#55bd8e 93.5px,#60be88 94.5px,#62be87 95.5px,#61be88 96.5px,#5dbe89 97.5px,#55bd8e 98.5px,#58bd8c 99.5px,#68be84 100.5px,#64be86 101.5px,#51bd90 102.5px,#3ab99d 103.5px,#30b7a2 104.5px)"></i><i style="left:120.0px;width:2.05px;background:linear-gradient(#4abc93 0.5px,#47bb95 1.5px,#3ab99d 2.5px,#36b99f 3.5px,#38b99e 4.5px,#3cba9b 5.5px,#45bb96 6.5px,#41ba98 7.5px,#37b99e 8.5px,#3dba9b 9.5px,#3eba9a 10.5px,#34b8a0 11.5px,#3bb99c 12.5px,#3cba9b 13.5px,#35b89f 14.5px,#3ab99c 15.5px,#3ab99c 16.5px,#39b99d 17.5px,#42bb98 18.5px,#40ba99 19.5px,#39b99d 20.5px,#42bb98 21.5px,#48bb94 22.5px,#44bb96 23.5px,#49bc94 24.5px,#49bc94 25.5px,#46bb96 26.5px,#4ebc91 27.5px,#52bd8f 28.5px,#50bc90 29.5px,#5bbd8b 30.5px,#5ebe89 31.5px,#5cbe8a 32.5px,#68be84 33.5px,#6bbe83 34.5px,#63be86 35.5px,#70bf81 36.5px,#6fbf81 37.5px,#6fbf81 38.5px,#87bf77 39.5px,#86bf78 40.5px,#79bf7d 41.5px,#93bf72 42.5px,#aabe69 43.5px,#b4bd65 44.5px,#c9bc5c 45.5px,#cebb5a 46.5px,#c5bc5e 47.5px,#cbbb5c 48.5px,#c6bc5e 49.5px,#b2bd66 50.5px,#aabe69 51.5px,#9bbf6f 52.5px,#8dbf75 53.5px,#95bf71 54.5px,#95bf71 55.5px,#8fbf74 56.5px,#95bf71 57.5px,#8ebf74 58.5px,#84bf78 59.5px,#8fbf74 60.5px,#8dbf75 61.5px,#81bf7a 62.5px,#8bbf75 63.5px,#88bf77 64.5px,#7abf7c 65.5px,#80bf7a 66.5px,#7cbf7b 67.5px,#72bf80 68.5px,#77bf7e 69.5px,#77bf7e 70.5px,#6fbf81 71.5px,#6ebf81 72.5px,#62be87 73.5px,#58bd8c 74.5px,#62be87 75.5px,#67be85 76.5px,#60be88 77.5px,#59bd8b 78.5px,#53bd8e 79.5px,#52bd8f 80.5px,#5cbe8a 81.5px,#5fbe89 82.5px,#5bbd8b 83.5px,#5fbe89 84.5px,#5dbe89 85.5px,#59bd8c 86.5px,#57bd8c 87.5px,#4dbc92 88.5px,#47bb95 89.5px,#4dbc92 90.5px,#4dbc92 91.5px,#44bb97 92.5px,#43bb97 93.5px,#47bb95 94.5px,#47bb95 95.5px,#4fbc91 96.5px,#60be88 97.5px,#77bf7e 98.5px,#89bf76 99.5px,#89bf76 100.5px,#78bf7d 101.5px,#5fbe88 102.5px,#45bb96 103.5px,#3cba9b 104.5px)"></i><i style="left:122.0px;width:2.05px;background:linear-gradient(#07a9c3 0.5px,#07aac1 1.5px,#08aac1 2.5px,#07a9c2 3.5px,#07aac2 4.5px,#09abbf 5.5px,#08aac0 6.5px,#06a8c4 7.5px,#06a7c5 8.5px,#06a8c3 9.5px,#07a9c3 10.5px,#06a8c4 11.5px,#07a9c2 12.5px,#08abc0 13.5px,#08aac0 14.5px,#07aac1 15.5px,#07a9c2 16.5px,#08abc0 17.5px,#0aacbd 18.5px,#0bacbd 19.5px,#0aacbe 20.5px,#0aacbd 21.5px,#0aacbd 22.5px,#08aac0 23.5px,#08aac0 24.5px,#0bacbd 25.5px,#0cadbb 26.5px,#0eaeba 27.5px,#0eaeb9 28.5px,#0faeb9 29.5px,#0faeb9 30.5px,#12afb7 31.5px,#14b0b5 32.5px,#14b0b5 33.5px,#12b0b6 34.5px,#11afb7 35.5px,#17b1b3 36.5px,#1bb2b0 37.5px,#20b4ad 38.5px,#26b5a9 39.5px,#27b5a8 40.5px,#29b6a7 41.5px,#2db7a4 42.5px,#2bb6a6 43.5px,#2ab6a6 44.5px,#33b8a1 45.5px,#36b99f 46.5px,#35b8a0 47.5px,#37b99e 48.5px,#34b8a0 49.5px,#30b7a3 50.5px,#34b8a0 51.5px,#35b89f 52.5px,#34b8a0 53.5px,#3bb99c 54.5px,#3cba9b 55.5px,#3eba9a 56.5px,#46bb95 57.5px,#43bb97 58.5px,#44bb97 59.5px,#4cbc92 60.5px,#47bb95 61.5px,#43bb97 62.5px,#4fbc91 63.5px,#4ebc91 64.5px,#4fbc91 65.5px,#58bd8c 66.5px,#56bd8d 67.5px,#57bd8c 68.5px,#5fbe88 69.5px,#58bd8c 70.5px,#54bd8e 71.5px,#58bd8c 72.5px,#52bd8f 73.5px,#53bd8f 74.5px,#5fbe88 75.5px,#5fbe89 76.5px,#57bd8c 77.5px,#51bc90 78.5px,#47bb95 79.5px,#4cbc92 80.5px,#58bd8c 81.5px,#52bd8f 82.5px,#4bbc93 83.5px,#4ebc91 84.5px,#49bc94 85.5px,#4bbc93 86.5px,#53bd8f 87.5px,#4abc93 88.5px,#42bb98 89.5px,#48bb94 90.5px,#4cbc92 91.5px,#4abc93 92.5px,#46bb96 93.5px,#46bb96 94.5px,#6abe83 95.5px,#acbe68 96.5px,#d6ba57 97.5px,#e8b94f 98.5px,#f1b94a 99.5px,#ebb94d 100.5px,#e2b951 101.5px,#d4bb58 102.5px,#aabe69 103.5px,#8abf76 104.5px)"></i><i style="left:124.0px;width:2.05px;background:linear-gradient(#06a3cb 0.5px,#06a7c6 1.5px,#06a8c3 2.5px,#06a7c5 3.5px,#06a6c7 4.5px,#06a7c6 5.5px,#06a7c5 6.5px,#06a7c5 7.5px,#06a7c5 8.5px,#06a7c6 9.5px,#06a7c6 10.5px,#06a6c7 11.5px,#06a7c6 12.5px,#06a8c4 13.5px,#06a8c3 14.5px,#06a8c4 15.5px,#07a9c2 16.5px,#09abbf 17.5px,#0aacbd 18.5px,#09abbf 19.5px,#08aac1 20.5px,#08abc0 21.5px,#08aac1 22.5px,#07a9c3 23.5px,#07aac1 24.5px,#09acbe 25.5px,#09acbe 26.5px,#0badbd 27.5px,#0aacbe 28.5px,#08abc0 29.5px,#0aacbe 30.5px,#0daebb 31.5px,#0faeb9 32.5px,#11afb8 33.5px,#12afb7 34.5px,#0cadbb 35.5px,#0cadbc 36.5px,#12afb7 37.5px,#18b1b2 38.5px,#1ab2b1 39.5px,#19b2b2 40.5px,#1ab2b1 41.5px,#21b4ac 42.5px,#24b5aa 43.5px,#29b6a7 44.5px,#2eb7a4 45.5px,#29b6a7 46.5px,#25b5aa 47.5px,#29b6a7 48.5px,#2ab6a6 49.5px,#28b6a8 50.5px,#2cb7a5 51.5px,#2eb7a4 52.5px,#31b8a2 53.5px,#3cba9b 54.5px,#3cba9b 55.5px,#36b99f 56.5px,#3ab99c 57.5px,#3cba9b 58.5px,#3fba99 59.5px,#45bb96 60.5px,#41ba98 61.5px,#43bb97 62.5px,#53bd8f 63.5px,#4ebc91 64.5px,#49bc94 65.5px,#54bd8e 66.5px,#55bd8d 67.5px,#57bd8c 68.5px,#5cbe8a 69.5px,#50bc90 70.5px,#4dbc92 71.5px,#54bd8e 72.5px,#55bd8e 73.5px,#58bd8c 74.5px,#61be87 75.5px,#58bd8c 76.5px,#4bbc93 77.5px,#48bb95 78.5px,#41ba98 79.5px,#49bc94 80.5px,#57bd8d 81.5px,#4dbc91 82.5px,#4ebc91 83.5px,#6fbf81 84.5px,#7fbf7a 85.5px,#7fbf7a 86.5px,#74bf7f 87.5px,#51bd8f 88.5px,#42bb98 89.5px,#49bc94 90.5px,#53bd8f 91.5px,#5fbe89 92.5px,#6cbf83 93.5px,#7abf7c 94.5px,#a6be6a 95.5px,#ddba54 96.5px,#f9bb44 97.5px,#febf3c 98.5px,#fec139 99.5px,#fbbc41 100.5px,#f6ba45 101.5px,#f0b94a 102.5px,#cebb5a 103.5px,#b2bd66 104.5px)"></i><i style="left:126.0px;width:2.05px;background:linear-gradient(#09acbe 0.5px,#0aacbe 1.5px,#0aacbd 2.5px,#0cadbb 3.5px,#0dadbb 4.5px,#0badbc 5.5px,#0cadbc 6.5px,#0cadbc 7.5px,#0cadbc 8.5px,#0cadbc 9.5px,#0badbc 10.5px,#0cadbb 11.5px,#0dadbb 12.5px,#0cadbc 13.5px,#0cadbc 14.5px,#0cadbc 15.5px,#0faeb9 16.5px,#13b0b6 17.5px,#16b1b4 18.5px,#14b0b5 19.5px,#12afb7 20.5px,#11afb8 21.5px,#11afb8 22.5px,#15b0b5 23.5px,#1ab2b1 24.5px,#1fb3ae 25.5px,#21b4ac 26.5px,#25b5a9 27.5px,#23b4ab 28.5px,#1fb3ae 29.5px,#24b5aa 30.5px,#27b5a8 31.5px,#25b5aa 32.5px,#25b5a9 33.5px,#27b5a8 34.5px,#25b5aa 35.5px,#2ab6a6 36.5px,#31b8a2 37.5px,#34b8a0 38.5px,#36b99f 39.5px,#35b89f 40.5px,#35b89f 41.5px,#3eba9a 42.5px,#42bb98 43.5px,#49bc94 44.5px,#57bd8c 45.5px,#4fbc91 46.5px,#46bb96 47.5px,#57bd8d 48.5px,#61be87 49.5px,#61be88 50.5px,#69be84 51.5px,#62be87 52.5px,#5dbe89 53.5px,#70bf81 54.5px,#73bf7f 55.5px,#68be84 56.5px,#71bf80 57.5px,#75bf7e 58.5px,#70bf80 59.5px,#7ebf7b 60.5px,#7dbf7b 61.5px,#75bf7f 62.5px,#85bf78 63.5px,#83bf78 64.5px,#79bf7d 65.5px,#8bbf75 66.5px,#90bf73 67.5px,#8bbf75 68.5px,#90bf73 69.5px,#8cbf75 70.5px,#8cbf75 71.5px,#99bf70 72.5px,#9abf6f 73.5px,#90bf73 74.5px,#99bf6f 75.5px,#99bf70 76.5px,#8cbf75 77.5px,#89bf76 78.5px,#87bf77 79.5px,#89bf76 80.5px,#8ebf74 81.5px,#91bf73 82.5px,#a4be6b 83.5px,#c6bc5e 84.5px,#d6ba57 85.5px,#d7ba57 86.5px,#cdbb5b 87.5px,#abbe68 88.5px,#8fbf74 89.5px,#9bbf6f 90.5px,#b0bd66 91.5px,#bebc61 92.5px,#cbbb5c 93.5px,#d2bb58 94.5px,#e1b952 95.5px,#f8ba44 96.5px,#fec13a 97.5px,#fec03b 98.5px,#fbbc40 99.5px,#f4ba47 100.5px,#ecb94c 101.5px,#deba54 102.5px,#bbbd62 103.5px,#a0be6d 104.5px)"></i><i style="left:128.0px;width:2.05px;background:linear-gradient(#63be87 0.5px,#64be86 1.5px,#63be87 2.5px,#72bf80 3.5px,#7abf7c 4.5px,#68be84 5.5px,#6bbe83 6.5px,#74bf7f 7.5px,#6dbf82 8.5px,#71bf80 9.5px,#80bf7a 10.5px,#7dbf7b 11.5px,#7fbf7a 12.5px,#85bf78 13.5px,#77bf7e 14.5px,#79bf7d 15.5px,#88bf77 16.5px,#81bf79 17.5px,#7ebf7b 18.5px,#83bf78 19.5px,#79bf7d 20.5px,#74bf7f 21.5px,#7abf7c 22.5px,#75bf7e 23.5px,#7cbf7c 24.5px,#86bf77 25.5px,#7fbf7a 26.5px,#81bf79 27.5px,#8bbf75 28.5px,#80bf7a 29.5px,#7fbf7a 30.5px,#87bf77 31.5px,#7bbf7c 32.5px,#7dbf7b 33.5px,#87bf77 34.5px,#7fbf7a 35.5px,#87bf77 36.5px,#90bf73 37.5px,#86bf77 38.5px,#87bf77 39.5px,#8dbf74 40.5px,#8bbf75 41.5px,#93bf72 42.5px,#9dbf6e 43.5px,#96bf71 44.5px,#9abf6f 45.5px,#9dbf6e 46.5px,#8fbf74 47.5px,#9abf6f 48.5px,#abbe68 49.5px,#a5be6b 50.5px,#a6be6a 51.5px,#a5be6b 52.5px,#9dbf6e 53.5px,#a9be69 54.5px,#b7bd64 55.5px,#b3bd65 56.5px,#bdbd61 57.5px,#cabb5c 58.5px,#c2bc5f 59.5px,#c2bc5f 60.5px,#bebc61 61.5px,#a9be69 62.5px,#afbe67 63.5px,#b8bd63 64.5px,#afbe67 65.5px,#b4bd65 66.5px,#bfbc60 67.5px,#b9bd63 68.5px,#bdbd61 69.5px,#c9bc5c 70.5px,#d2bb59 71.5px,#e2b951 72.5px,#ebb94d 73.5px,#d9ba56 74.5px,#cabb5c 75.5px,#c6bc5e 76.5px,#bcbd62 77.5px,#babd62 78.5px,#bbbd62 79.5px,#b6bd64 80.5px,#b7bd64 81.5px,#c5bc5e 82.5px,#ddba54 83.5px,#f5ba47 84.5px,#fdbe3e 85.5px,#fdbe3e 86.5px,#fbbc41 87.5px,#eab94e 88.5px,#d5ba57 89.5px,#dcba54 90.5px,#f0b94a 91.5px,#f9bb43 92.5px,#febf3c 93.5px,#ffc437 94.5px,#fdca31 95.5px,#f9d329 96.5px,#f8d727 97.5px,#f9d329 98.5px,#fec833 99.5px,#fdbd3e 100.5px,#f0b94a 101.5px,#deba53 102.5px,#cdbb5b 103.5px,#c2bc5f 104.5px)"></i><i style="left:130.0px;width:2.05px;background:linear-gradient(#91bf73 0.5px,#9ebe6e 1.5px,#97bf71 2.5px,#99bf70 3.5px,#a8be6a 4.5px,#9fbe6d 5.5px,#97bf70 6.5px,#a2be6c 7.5px,#9dbe6e 8.5px,#9ebe6e 9.5px,#afbe67 10.5px,#a9be69 11.5px,#a6be6a 12.5px,#b1bd66 13.5px,#a6be6b 14.5px,#a1be6c 15.5px,#b1bd66 16.5px,#acbe68 17.5px,#a1be6c 18.5px,#a9be69 19.5px,#a1be6c 20.5px,#9dbf6e 21.5px,#a8be6a 22.5px,#9dbf6e 23.5px,#95bf71 24.5px,#a4be6b 25.5px,#a0be6d 26.5px,#98bf70 27.5px,#a7be6a 28.5px,#a0be6d 29.5px,#9abf6f 30.5px,#a7be6a 31.5px,#9dbf6e 32.5px,#96bf71 33.5px,#a2be6c 34.5px,#97bf71 35.5px,#98bf70 36.5px,#a9be69 37.5px,#a1be6c 38.5px,#9cbf6e 39.5px,#a3be6c 40.5px,#9abf6f 41.5px,#9cbf6e 42.5px,#b1bd66 43.5px,#a9be69 44.5px,#a0be6d 45.5px,#acbe68 46.5px,#a4be6b 47.5px,#a2be6c 48.5px,#b2bd66 49.5px,#aabe69 50.5px,#a3be6c 51.5px,#acbe68 52.5px,#a7be6a 53.5px,#acbe68 54.5px,#c6bc5e 55.5px,#c9bb5c 56.5px,#cdbb5b 57.5px,#dfba53 58.5px,#d9ba55 59.5px,#d4bb58 60.5px,#d6ba57 61.5px,#c1bc60 62.5px,#b6bd64 63.5px,#c0bc60 64.5px,#b5bd64 65.5px,#b0bd66 66.5px,#bfbc61 67.5px,#bbbd62 68.5px,#b6bd64 69.5px,#c7bc5d 70.5px,#deba54 71.5px,#f2b949 72.5px,#fcbd3f 73.5px,#ebb94d 74.5px,#ccbb5b 75.5px,#c2bc5f 76.5px,#b6bd64 77.5px,#b4bd65 78.5px,#bbbd62 79.5px,#b5bd65 80.5px,#b1bd66 81.5px,#c8bc5d 82.5px,#ebb94d 83.5px,#fdbe3d 84.5px,#febf3c 85.5px,#febf3d 86.5px,#fec13a 87.5px,#fcbd40 88.5px,#ebb94d 89.5px,#eab94d 90.5px,#fbbc40 91.5px,#ffc238 92.5px,#fec535 93.5px,#fdcb30 94.5px,#fad22a 95.5px,#f7d826 96.5px,#f7d826 97.5px,#f7d826 98.5px,#f9d528 99.5px,#fdca31 100.5px,#fec13a 101.5px,#f6ba46 102.5px,#e8b94e 103.5px,#dfba53 104.5px)"></i><i style="left:132.0px;width:2.05px;background:linear-gradient(#80bf7a 0.5px,#85bf78 1.5px,#74bf7f 2.5px,#7ebf7b 3.5px,#92bf72 4.5px,#8abf76 5.5px,#86bf77 6.5px,#8abf76 7.5px,#80bf7a 8.5px,#88bf76 9.5px,#93bf72 10.5px,#85bf78 11.5px,#89bf76 12.5px,#93bf72 13.5px,#8abf76 14.5px,#8fbf74 15.5px,#98bf70 16.5px,#88bf76 17.5px,#89bf76 18.5px,#93bf72 19.5px,#85bf78 20.5px,#83bf79 21.5px,#8bbf75 22.5px,#82bf79 23.5px,#85bf78 24.5px,#8fbf74 25.5px,#85bf78 26.5px,#83bf79 27.5px,#8cbf75 28.5px,#81bf79 29.5px,#83bf79 30.5px,#8ebf74 31.5px,#7fbf7a 32.5px,#7fbf7a 33.5px,#8abf76 34.5px,#80bf7a 35.5px,#86bf77 36.5px,#94bf71 37.5px,#8bbf75 38.5px,#91bf73 39.5px,#98bf70 40.5px,#89bf76 41.5px,#8ebf74 42.5px,#9bbf6f 43.5px,#8abf76 44.5px,#8bbf75 45.5px,#9fbe6d 46.5px,#9abf6f 47.5px,#9abf6f 48.5px,#a0be6d 49.5px,#96bf71 50.5px,#98bf70 51.5px,#a4be6b 52.5px,#9abf6f 53.5px,#9ebe6d 54.5px,#b4bd65 55.5px,#bcbd62 56.5px,#ccbb5b 57.5px,#dcba54 58.5px,#d0bb59 59.5px,#c9bc5c 60.5px,#cabb5c 61.5px,#b8bd63 62.5px,#b5bd64 63.5px,#bfbc61 64.5px,#b2bd66 65.5px,#b3bd65 66.5px,#bebc61 67.5px,#b6bd64 68.5px,#b4bd65 69.5px,#c6bc5e 70.5px,#e1b952 71.5px,#fabc42 72.5px,#fec03b 73.5px,#e9b94e 74.5px,#c7bc5d 75.5px,#babd62 76.5px,#b2bd66 77.5px,#b2bd66 78.5px,#b7bd63 79.5px,#b3bd65 80.5px,#b6bd64 81.5px,#d3bb58 82.5px,#f8ba44 83.5px,#fec535 84.5px,#ffc436 85.5px,#febf3c 86.5px,#fec03b 87.5px,#fec03b 88.5px,#f3ba48 89.5px,#f4ba47 90.5px,#fec03b 91.5px,#fec536 92.5px,#fec733 93.5px,#fcce2d 94.5px,#f8d627 95.5px,#f7d826 96.5px,#f7d826 97.5px,#f7d826 98.5px,#f7d826 99.5px,#fbd02c 100.5px,#fec536 101.5px,#fdbe3e 102.5px,#f5ba47 103.5px,#ebb94d 104.5px)"></i><i style="left:134.0px;width:2.05px;background:linear-gradient(#07a9c3 0.5px,#06a8c4 1.5px,#06a7c6 2.5px,#07a9c2 3.5px,#09abbf 4.5px,#08aac1 5.5px,#06a8c3 6.5px,#06a8c4 7.5px,#06a8c4 8.5px,#07a9c3 9.5px,#07aac1 10.5px,#06a8c4 11.5px,#06a7c5 12.5px,#06a8c3 13.5px,#07a9c2 14.5px,#0aacbe 15.5px,#0eaeba 16.5px,#0badbc 17.5px,#0badbc 18.5px,#0eaeba 19.5px,#0cadbc 20.5px,#09abbf 21.5px,#08aac0 22.5px,#08abc0 23.5px,#0bacbd 24.5px,#0cadbc 25.5px,#0cadbb 26.5px,#0daebb 27.5px,#0faeb9 28.5px,#0faeb9 29.5px,#0faeb9 30.5px,#12afb7 31.5px,#16b1b4 32.5px,#19b2b1 33.5px,#17b1b3 34.5px,#17b1b3 35.5px,#1bb2b1 36.5px,#1db3af 37.5px,#20b4ad 38.5px,#27b5a8 39.5px,#2ab6a6 40.5px,#2ab6a6 41.5px,#30b7a3 42.5px,#31b8a2 43.5px,#28b6a8 44.5px,#2eb7a4 45.5px,#3eba9a 46.5px,#3eba9a 47.5px,#3eba9a 48.5px,#44bb96 49.5px,#42bb98 50.5px,#48bb94 51.5px,#55bd8d 52.5px,#4ebc91 53.5px,#50bc90 54.5px,#5abd8b 55.5px,#5ebe89 56.5px,#7bbf7c 57.5px,#95bf71 58.5px,#89bf76 59.5px,#81bf7a 60.5px,#8bbf75 61.5px,#8abf76 62.5px,#96bf71 63.5px,#a1be6c 64.5px,#94bf71 65.5px,#97bf71 66.5px,#a8be6a 67.5px,#a8be69 68.5px,#b3bd65 69.5px,#cebb5a 70.5px,#eab94e 71.5px,#fdbe3e 72.5px,#fec239 73.5px,#eeb94b 74.5px,#cabb5c 75.5px,#bdbd61 76.5px,#b6bd64 77.5px,#b6bd64 78.5px,#bbbd62 79.5px,#b8bd63 80.5px,#babd63 81.5px,#d7ba57 82.5px,#f8bb44 83.5px,#fec535 84.5px,#fec733 85.5px,#ffc337 86.5px,#ffc338 87.5px,#ffc338 88.5px,#fbbc41 89.5px,#fcbd40 90.5px,#ffc338 91.5px,#fec733 92.5px,#fccd2e 93.5px,#f9d429 94.5px,#f7d826 95.5px,#f7d826 96.5px,#f7d826 97.5px,#f7d826 98.5px,#f7d826 99.5px,#fad32a 100.5px,#fec634 101.5px,#febf3c 102.5px,#f6ba46 103.5px,#ebb94d 104.5px)"></i><i style="left:136.0px;width:2.05px;background:linear-gradient(#06a1cc 0.5px,#06a0cd 1.5px,#06a0cd 2.5px,#06a0cd 3.5px,#06a1cc 4.5px,#06a0cd 5.5px,#079dcf 6.5px,#069ece 7.5px,#069fce 8.5px,#069fce 9.5px,#069fce 10.5px,#069ece 11.5px,#069fce 12.5px,#06a2cc 13.5px,#06a3cb 14.5px,#06a4ca 15.5px,#06a4ca 16.5px,#06a3ca 17.5px,#06a4c9 18.5px,#06a5c9 19.5px,#06a4c9 20.5px,#06a3ca 21.5px,#06a3ca 22.5px,#06a5c8 23.5px,#06a6c7 24.5px,#06a6c6 25.5px,#06a8c5 26.5px,#06a8c4 27.5px,#06a8c4 28.5px,#06a8c4 29.5px,#06a7c6 30.5px,#06a8c5 31.5px,#09abbf 32.5px,#0fafb9 33.5px,#0eaeba 34.5px,#0dadbb 35.5px,#0eaeba 36.5px,#0eaeba 37.5px,#13b0b6 38.5px,#18b2b2 39.5px,#15b0b5 40.5px,#15b0b5 41.5px,#18b1b2 42.5px,#19b2b2 43.5px,#1bb2b0 44.5px,#22b4ab 45.5px,#2ab6a6 46.5px,#29b6a7 47.5px,#28b6a7 48.5px,#34b8a0 49.5px,#38b99e 50.5px,#36b99f 51.5px,#3dba9b 52.5px,#3cba9b 53.5px,#3eba9a 54.5px,#46bb95 55.5px,#45bb96 56.5px,#57bd8d 57.5px,#75bf7f 58.5px,#6ebf81 59.5px,#6dbf82 60.5px,#7cbf7b 61.5px,#77bf7d 62.5px,#7fbf7a 63.5px,#95bf71 64.5px,#8ebf74 65.5px,#8abf76 66.5px,#a0be6d 67.5px,#a6be6a 68.5px,#afbe67 69.5px,#d0bb5a 70.5px,#f1b949 71.5px,#febf3c 72.5px,#fec239 73.5px,#f2b949 74.5px,#cfbb5a 75.5px,#c3bc5f 76.5px,#babd63 77.5px,#b2bd66 78.5px,#b8bd63 79.5px,#babd62 80.5px,#bebc61 81.5px,#d6ba57 82.5px,#f2b949 83.5px,#fec03b 84.5px,#fec734 85.5px,#fec536 86.5px,#fec239 87.5px,#fec238 88.5px,#fcbd3f 89.5px,#fcbd40 90.5px,#fec635 91.5px,#fdcc2f 92.5px,#fbd12b 93.5px,#f8d727 94.5px,#f7d826 95.5px,#f7d826 96.5px,#f7d826 97.5px,#f7d826 98.5px,#f7d826 99.5px,#fccf2d 100.5px,#ffc338 101.5px,#fcbd3f 102.5px,#f3ba48 103.5px,#e8b94e 104.5px)"></i><i style="left:138.0px;width:2.05px;background:linear-gradient(#069fce 0.5px,#06a0cd 1.5px,#06a0cd 2.5px,#06a1cd 3.5px,#06a1cc 4.5px,#06a1cc 5.5px,#06a1cc 6.5px,#06a2cb 7.5px,#06a2cb 8.5px,#06a1cc 9.5px,#069ece 10.5px,#069ece 11.5px,#06a1cd 12.5px,#06a2cc 13.5px,#06a2cb 14.5px,#06a2cc 15.5px,#06a1cc 16.5px,#06a2cb 17.5px,#06a3ca 18.5px,#06a3ca 19.5px,#06a3cb 20.5px,#06a3cb 21.5px,#06a4c9 22.5px,#06a6c7 23.5px,#06a6c7 24.5px,#06a6c6 25.5px,#07a9c3 26.5px,#08aac1 27.5px,#08aac1 28.5px,#07a9c2 29.5px,#07a9c2 30.5px,#08aac0 31.5px,#0aacbd 32.5px,#0eaeba 33.5px,#0faeb9 34.5px,#0faeb9 35.5px,#11afb7 36.5px,#12afb7 37.5px,#14b0b5 38.5px,#17b1b3 39.5px,#15b0b5 40.5px,#15b1b4 41.5px,#19b2b1 42.5px,#1db3af 43.5px,#1db3af 44.5px,#1bb2b0 45.5px,#21b4ac 46.5px,#24b5aa 47.5px,#26b5a9 48.5px,#32b8a1 49.5px,#38b99e 50.5px,#35b8a0 51.5px,#39b99d 52.5px,#3bb99c 53.5px,#40ba99 54.5px,#4dbc92 55.5px,#4dbc92 56.5px,#53bd8f 57.5px,#66be85 58.5px,#65be86 59.5px,#69be84 60.5px,#7cbf7b 61.5px,#76bf7e 62.5px,#77bf7e 63.5px,#8bbf75 64.5px,#8bbf75 65.5px,#8bbf75 66.5px,#9fbe6d 67.5px,#a3be6c 68.5px,#a9be69 69.5px,#c9bc5c 70.5px,#ecb94c 71.5px,#fdbe3d 72.5px,#ffc337 73.5px,#f1b94a 74.5px,#cfbb5a 75.5px,#c5bc5e 76.5px,#bcbd62 77.5px,#b4bd65 78.5px,#b7bd63 79.5px,#b9bd63 80.5px,#bfbc60 81.5px,#d5ba57 82.5px,#f0b94a 83.5px,#fec03b 84.5px,#fec833 85.5px,#fec932 86.5px,#fec535 87.5px,#fec13a 88.5px,#f4ba47 89.5px,#f1b94a 90.5px,#fec03b 91.5px,#fdca31 92.5px,#fcce2e 93.5px,#f9d429 94.5px,#f8d726 95.5px,#f7d826 96.5px,#f7d826 97.5px,#f7d826 98.5px,#f9d429 99.5px,#fec932 100.5px,#fcbd3f 101.5px,#f1b949 102.5px,#e9b94e 103.5px,#e3b951 104.5px)"></i><i style="left:140.0px;width:2.05px;background:linear-gradient(#07aac1 0.5px,#08aac1 1.5px,#07a9c3 2.5px,#06a8c4 3.5px,#07a9c3 4.5px,#08aac1 5.5px,#09abbf 6.5px,#08abc0 7.5px,#06a8c4 8.5px,#06a6c7 9.5px,#06a5c8 10.5px,#06a6c7 11.5px,#06a7c5 12.5px,#07a9c3 13.5px,#07a9c2 14.5px,#06a9c3 15.5px,#06a8c4 16.5px,#07a9c3 17.5px,#07a9c3 18.5px,#07aac1 19.5px,#09abbf 20.5px,#09abbf 21.5px,#0aacbd 22.5px,#09acbe 23.5px,#07aac1 24.5px,#09abbf 25.5px,#0dadbb 26.5px,#10afb8 27.5px,#10afb8 28.5px,#0faeb9 29.5px,#13b0b6 30.5px,#19b2b2 31.5px,#1bb2b0 32.5px,#1ab2b1 33.5px,#1ab2b1 34.5px,#1ab2b1 35.5px,#1fb3ad 36.5px,#28b6a8 37.5px,#25b5aa 38.5px,#26b5a9 39.5px,#2fb7a3 40.5px,#30b7a2 41.5px,#36b99f 42.5px,#3eba9a 43.5px,#37b99e 44.5px,#2fb7a3 45.5px,#34b8a0 46.5px,#39b99d 47.5px,#3bb99c 48.5px,#41ba98 49.5px,#43bb97 50.5px,#4abc93 51.5px,#50bc90 52.5px,#4fbc90 53.5px,#5cbe8a 54.5px,#66be85 55.5px,#60be88 56.5px,#67be85 57.5px,#77bf7e 58.5px,#71bf80 59.5px,#7abf7c 60.5px,#8bbf75 61.5px,#85bf78 62.5px,#87bf77 63.5px,#96bf71 64.5px,#96bf71 65.5px,#9dbe6e 66.5px,#a8be6a 67.5px,#a3be6c 68.5px,#a7be6a 69.5px,#bbbd62 70.5px,#d7ba57 71.5px,#f6ba45 72.5px,#febf3c 73.5px,#e7b94f 74.5px,#ccbb5b 75.5px,#c6bc5e 76.5px,#b9bd63 77.5px,#b3bd65 78.5px,#bbbd62 79.5px,#babd63 80.5px,#b9bd63 81.5px,#cabb5c 82.5px,#e5b950 83.5px,#f7ba45 84.5px,#fdbe3d 85.5px,#fec13a 86.5px,#fec239 87.5px,#f4ba47 88.5px,#d8ba56 89.5px,#d9ba56 90.5px,#f1b94a 91.5px,#fdbe3e 92.5px,#ffc238 93.5px,#fec832 94.5px,#fcce2d 95.5px,#f8d727 96.5px,#f7d826 97.5px,#f8d727 98.5px,#fbcf2d 99.5px,#ffc338 100.5px,#f2b949 101.5px,#e4b951 102.5px,#d6ba57 103.5px,#cabb5c 104.5px)"></i><i style="left:142.0px;width:2.05px;background:linear-gradient(#74bf7f 0.5px,#78bf7d 1.5px,#65be85 2.5px,#6abe83 3.5px,#74bf7f 4.5px,#65be86 5.5px,#6bbf83 6.5px,#78bf7d 7.5px,#64be86 8.5px,#5ebe89 9.5px,#60be88 10.5px,#56bd8d 11.5px,#62be87 12.5px,#70bf81 13.5px,#67be85 14.5px,#6abe83 15.5px,#73bf7f 16.5px,#66be85 17.5px,#67be85 18.5px,#77bf7e 19.5px,#70bf81 20.5px,#73bf7f 21.5px,#7bbf7c 22.5px,#69be84 23.5px,#6ebf82 24.5px,#83bf79 25.5px,#7dbf7b 26.5px,#80bf7a 27.5px,#88bf76 28.5px,#7fbf7a 29.5px,#85bf78 30.5px,#92bf73 31.5px,#8abf76 32.5px,#8bbf75 33.5px,#92bf72 34.5px,#8abf76 35.5px,#93bf72 36.5px,#a2be6c 37.5px,#9abf6f 38.5px,#a5be6b 39.5px,#bdbd61 40.5px,#c0bc60 41.5px,#d0bb59 42.5px,#ddba54 43.5px,#cdbb5b 44.5px,#c2bc5f 45.5px,#bebc61 46.5px,#b2bd66 47.5px,#b5bd64 48.5px,#babd62 49.5px,#b6bd64 50.5px,#c0bc60 51.5px,#bdbd61 52.5px,#b0bd66 53.5px,#bcbd62 54.5px,#c2bc5f 55.5px,#b7bd64 56.5px,#c2bc5f 57.5px,#d3bb58 58.5px,#d0bb59 59.5px,#d5ba57 60.5px,#d4bb58 61.5px,#bbbd62 62.5px,#b4bd65 63.5px,#bcbd62 64.5px,#b5bd64 65.5px,#b6bd64 66.5px,#b6bd64 67.5px,#aabe69 68.5px,#b0be67 69.5px,#babd62 70.5px,#c5bc5e 71.5px,#d9ba56 72.5px,#d9ba56 73.5px,#bebc61 74.5px,#b0bd66 75.5px,#b0bd66 76.5px,#a7be6a 77.5px,#a8be6a 78.5px,#adbe68 79.5px,#a5be6b 80.5px,#a2be6c 81.5px,#adbe68 82.5px,#c1bc60 83.5px,#d8ba56 84.5px,#e3b951 85.5px,#e3b951 86.5px,#e0ba52 87.5px,#cabb5c 88.5px,#acbe68 89.5px,#b1bd66 90.5px,#c7bc5d 91.5px,#d4bb58 92.5px,#dfba53 93.5px,#eab94d 94.5px,#f4ba47 95.5px,#fec13a 96.5px,#fec535 97.5px,#fcbd3f 98.5px,#eeb94b 99.5px,#e0ba53 100.5px,#ccbb5b 101.5px,#babd63 102.5px,#a6be6a 103.5px,#9abf6f 104.5px)"></i><i style="left:144.0px;width:2.05px;background:linear-gradient(#7ebf7b 0.5px,#86bf77 1.5px,#7dbf7b 2.5px,#88bf77 3.5px,#90bf73 4.5px,#7dbf7b 5.5px,#82bf79 6.5px,#92bf72 7.5px,#84bf78 8.5px,#82bf79 9.5px,#86bf77 10.5px,#76bf7e 11.5px,#81bf79 12.5px,#92bf73 13.5px,#81bf7a 14.5px,#7fbf7a 15.5px,#86bf77 16.5px,#7abf7c 17.5px,#84bf78 18.5px,#98bf70 19.5px,#8dbf74 20.5px,#8abf76 21.5px,#96bf71 22.5px,#89bf76 23.5px,#8ebf74 24.5px,#9ebe6e 25.5px,#94bf72 26.5px,#98bf70 27.5px,#a4be6b 28.5px,#99bf70 29.5px,#98bf70 30.5px,#a5be6b 31.5px,#a1be6d 32.5px,#a8be6a 33.5px,#b1bd66 34.5px,#a9be69 35.5px,#b1bd66 36.5px,#b9bd63 37.5px,#b0be67 38.5px,#c5bc5e 39.5px,#e4b951 40.5px,#e5b950 41.5px,#f2b949 42.5px,#fbbd40 43.5px,#efb94b 44.5px,#e9b94e 45.5px,#dfba53 46.5px,#cbbb5c 47.5px,#d0bb59 48.5px,#d6ba57 49.5px,#c9bc5c 50.5px,#ccbb5b 51.5px,#cbbb5b 52.5px,#bdbd61 53.5px,#c4bc5f 54.5px,#cbbb5b 55.5px,#cabb5c 56.5px,#e5b950 57.5px,#fdbe3e 58.5px,#fdbe3e 59.5px,#febf3c 60.5px,#f9bb43 61.5px,#cdbb5b 62.5px,#a6be6a 63.5px,#97bf70 64.5px,#80bf7a 65.5px,#75bf7e 66.5px,#72bf80 67.5px,#61be88 68.5px,#60be88 69.5px,#63be87 70.5px,#5ebe89 71.5px,#62be87 72.5px,#60be88 73.5px,#4abc93 74.5px,#3cba9b 75.5px,#37b99e 76.5px,#33b8a1 77.5px,#34b8a0 78.5px,#34b8a0 79.5px,#32b8a1 80.5px,#30b7a2 81.5px,#2fb7a3 82.5px,#37b99f 83.5px,#52bd8f 84.5px,#6dbf82 85.5px,#75bf7f 86.5px,#6cbf83 87.5px,#4dbc92 88.5px,#2fb7a3 89.5px,#28b6a7 90.5px,#2fb7a3 91.5px,#3cba9b 92.5px,#53bd8e 93.5px,#71bf80 94.5px,#89bf76 95.5px,#96bf71 96.5px,#99bf70 97.5px,#88bf77 98.5px,#6fbf81 99.5px,#5fbe89 100.5px,#4cbc92 101.5px,#33b8a1 102.5px,#1cb3af 103.5px,#14b0b5 104.5px)"></i><i style="left:146.0px;width:2.05px;background:linear-gradient(#7abf7c 0.5px,#87bf77 1.5px,#82bf79 2.5px,#87bf77 3.5px,#95bf71 4.5px,#89bf76 5.5px,#82bf79 6.5px,#90bf73 7.5px,#84bf78 8.5px,#85bf78 9.5px,#96bf71 10.5px,#87bf77 11.5px,#86bf77 12.5px,#97bf70 13.5px,#8abf76 14.5px,#7fbf7a 15.5px,#88bf77 16.5px,#81bf7a 17.5px,#8abf76 18.5px,#9cbf6e 19.5px,#90bf73 20.5px,#90bf73 21.5px,#9dbe6e 22.5px,#92bf72 23.5px,#93bf72 24.5px,#a3be6c 25.5px,#96bf71 26.5px,#95bf71 27.5px,#a7be6a 28.5px,#a1be6d 29.5px,#9ebe6e 30.5px,#adbe68 31.5px,#a6be6b 32.5px,#a8be6a 33.5px,#b6bd64 34.5px,#aebe67 35.5px,#afbe67 36.5px,#bcbd62 37.5px,#b9bd63 38.5px,#cabb5c 39.5px,#e9b94e 40.5px,#e9b94e 41.5px,#f1b94a 42.5px,#fdbe3e 43.5px,#f6ba46 44.5px,#ebb94d 45.5px,#e1b952 46.5px,#cabb5c 47.5px,#c9bb5c 48.5px,#d5ba57 49.5px,#c7bc5d 50.5px,#c4bc5e 51.5px,#cebb5a 52.5px,#c2bc5f 53.5px,#c1bc60 54.5px,#d4bb58 55.5px,#e3b951 56.5px,#fabc41 57.5px,#fdcb30 58.5px,#fdca31 59.5px,#fdcb30 60.5px,#fccd2e 61.5px,#f8ba45 62.5px,#cdbb5b 63.5px,#b4bd65 64.5px,#9fbe6d 65.5px,#99bf6f 66.5px,#9dbe6e 67.5px,#91bf73 68.5px,#92bf72 69.5px,#a1be6d 70.5px,#98bf70 71.5px,#9cbf6e 72.5px,#babd63 73.5px,#b7bd64 74.5px,#9bbf6f 75.5px,#87bf77 76.5px,#76bf7e 77.5px,#6ebf82 78.5px,#73bf7f 79.5px,#72bf80 80.5px,#70bf81 81.5px,#6dbf82 82.5px,#64be86 83.5px,#66be85 84.5px,#84bf78 85.5px,#aabe69 86.5px,#c1bc5f 87.5px,#c5bc5e 88.5px,#a9be69 89.5px,#7ebf7b 90.5px,#67be85 91.5px,#63be87 92.5px,#7ebf7b 93.5px,#aebe67 94.5px,#d3bb58 95.5px,#e3b951 96.5px,#deba54 97.5px,#c3bc5f 98.5px,#a7be6a 99.5px,#a6be6b 100.5px,#abbe69 101.5px,#9fbe6d 102.5px,#82bf79 103.5px,#6fbf81 104.5px)"></i><i style="left:148.0px;width:2.05px;background:linear-gradient(#76bf7e 0.5px,#82bf79 1.5px,#7fbf7a 2.5px,#7ebf7b 3.5px,#8cbf75 4.5px,#8bbf75 5.5px,#87bf77 6.5px,#8ebf74 7.5px,#86bf77 8.5px,#83bf79 9.5px,#93bf72 10.5px,#8bbf75 11.5px,#83bf78 12.5px,#8fbf74 13.5px,#8abf76 14.5px,#82bf79 15.5px,#86bf77 16.5px,#7fbf7a 17.5px,#82bf79 18.5px,#95bf71 19.5px,#92bf72 20.5px,#90bf73 21.5px,#98bf70 22.5px,#90bf73 23.5px,#8dbf75 24.5px,#9bbf6f 25.5px,#93bf72 26.5px,#8fbf73 27.5px,#a3be6c 28.5px,#a1be6d 29.5px,#9cbf6e 30.5px,#acbe68 31.5px,#a5be6b 32.5px,#a0be6d 33.5px,#b0bd67 34.5px,#aebe67 35.5px,#aabe69 36.5px,#b7bd64 37.5px,#bbbd62 38.5px,#c5bc5e 39.5px,#e0ba53 40.5px,#e8b94f 41.5px,#eab94d 42.5px,#f9bb43 43.5px,#f6ba46 44.5px,#e4b951 45.5px,#d8ba56 46.5px,#c6bc5e 47.5px,#c0bc60 48.5px,#cdbb5b 49.5px,#c9bc5c 50.5px,#c4bc5e 51.5px,#cfbb5a 52.5px,#cabb5c 53.5px,#c3bc5f 54.5px,#d5ba57 55.5px,#ecb94c 56.5px,#fabc42 57.5px,#fec535 58.5px,#fdca30 59.5px,#fcce2e 60.5px,#f9d429 61.5px,#fec536 62.5px,#e4b950 63.5px,#d3bb58 64.5px,#c8bc5d 65.5px,#c3bc5f 66.5px,#c7bc5d 67.5px,#c3bc5f 68.5px,#c2bc5f 69.5px,#cdbb5b 70.5px,#d1bb59 71.5px,#e1b952 72.5px,#fabc41 73.5px,#fdbe3e 74.5px,#edb94c 75.5px,#d6ba57 76.5px,#c2bc5f 77.5px,#bbbd62 78.5px,#c4bc5f 79.5px,#c4bc5e 80.5px,#c1bc60 81.5px,#c2bc5f 82.5px,#bebc61 83.5px,#c6bc5d 84.5px,#ecb94c 85.5px,#fec536 86.5px,#fdca31 87.5px,#fdcb30 88.5px,#ffc238 89.5px,#e6b950 90.5px,#ccbb5b 91.5px,#cabb5c 92.5px,#e9b94e 93.5px,#fccd2e 94.5px,#f7d826 95.5px,#f7d826 96.5px,#f7d826 97.5px,#f9d528 98.5px,#fec833 99.5px,#febf3c 100.5px,#fabc42 101.5px,#f1b949 102.5px,#e1b952 103.5px,#d5ba57 104.5px)"></i><i style="left:150.0px;width:2.05px;background:linear-gradient(#37b99e 0.5px,#3bb99c 1.5px,#3bb99c 2.5px,#37b99e 3.5px,#40ba99 4.5px,#47bb95 5.5px,#43bb97 6.5px,#44bb97 7.5px,#46bb95 8.5px,#42bb98 9.5px,#44bb96 10.5px,#42bb98 11.5px,#3bba9c 12.5px,#3eba9a 13.5px,#45bb96 14.5px,#45bb96 15.5px,#43bb97 16.5px,#3eba9a 17.5px,#38b99e 18.5px,#41ba99 19.5px,#49bc94 20.5px,#47bb95 21.5px,#44bb97 22.5px,#3fba9a 23.5px,#3cba9b 24.5px,#44bb97 25.5px,#45bb96 26.5px,#44bb97 27.5px,#4ebc91 28.5px,#50bc90 29.5px,#4ebc91 30.5px,#59bd8b 31.5px,#58bd8c 32.5px,#51bd90 33.5px,#5bbd8b 34.5px,#5dbe89 35.5px,#57bd8c 36.5px,#62be87 37.5px,#6dbf82 38.5px,#73bf7f 39.5px,#96bf71 40.5px,#b1bd66 41.5px,#afbe67 42.5px,#b5bd65 43.5px,#a8be69 44.5px,#7fbf7a 45.5px,#72bf80 46.5px,#76bf7e 47.5px,#66be85 48.5px,#64be86 49.5px,#6cbf82 50.5px,#6ebf81 51.5px,#7fbf7a 52.5px,#89bf76 53.5px,#7fbf7a 54.5px,#96bf71 55.5px,#cabb5c 56.5px,#eab94d 57.5px,#fec03c 58.5px,#fec833 59.5px,#fec734 60.5px,#fec932 61.5px,#f7ba45 62.5px,#c0bc60 63.5px,#aabe69 64.5px,#aabe69 65.5px,#a8be6a 66.5px,#b1bd66 67.5px,#b7bd64 68.5px,#b2bd66 69.5px,#bcbd62 70.5px,#d2bb59 71.5px,#e8b94f 72.5px,#fcbd40 73.5px,#febf3d 74.5px,#ecb94c 75.5px,#d5ba57 76.5px,#c7bc5d 77.5px,#bebc61 78.5px,#c2bc5f 79.5px,#c7bc5d 80.5px,#c5bc5e 81.5px,#c7bc5d 82.5px,#c7bc5d 83.5px,#d0bb59 84.5px,#f8ba44 85.5px,#fccc2f 86.5px,#fcce2e 87.5px,#fbcf2c 88.5px,#fccd2f 89.5px,#f6ba46 90.5px,#d5ba57 91.5px,#d5ba57 92.5px,#f9bb43 93.5px,#f8d627 94.5px,#f7d826 95.5px,#f7d826 96.5px,#f7d826 97.5px,#f7d826 98.5px,#fbcf2c 99.5px,#ffc337 100.5px,#febf3c 101.5px,#f7ba45 102.5px,#e9b94e 103.5px,#dfba53 104.5px)"></i><i style="left:152.0px;width:2.05px;background:linear-gradient(#25b5a9 0.5px,#27b5a8 1.5px,#24b5aa 2.5px,#21b4ac 3.5px,#27b5a8 4.5px,#2db7a5 5.5px,#27b5a8 6.5px,#23b4ab 7.5px,#23b4ab 8.5px,#25b5aa 9.5px,#27b5a8 10.5px,#28b6a7 11.5px,#28b6a7 12.5px,#27b5a8 13.5px,#27b5a8 14.5px,#2ab6a6 15.5px,#31b8a2 16.5px,#31b8a2 17.5px,#26b5a9 18.5px,#21b4ac 19.5px,#25b5a9 20.5px,#2cb7a5 21.5px,#2fb7a3 22.5px,#2ab6a6 23.5px,#27b5a8 24.5px,#2cb7a5 25.5px,#2bb6a6 26.5px,#2ab6a6 27.5px,#31b8a2 28.5px,#33b8a1 29.5px,#31b8a2 30.5px,#30b7a3 31.5px,#2db7a5 32.5px,#2cb7a5 33.5px,#32b8a1 34.5px,#32b8a1 35.5px,#2fb7a3 36.5px,#33b8a1 37.5px,#34b8a0 38.5px,#2fb7a3 39.5px,#37b99f 40.5px,#46bb96 41.5px,#4abc93 42.5px,#4dbc92 43.5px,#48bb95 44.5px,#3ab99d 45.5px,#3dba9b 46.5px,#42bb98 47.5px,#38b99e 48.5px,#34b8a0 49.5px,#3ab99c 50.5px,#40ba99 51.5px,#4ebc91 52.5px,#5bbd8b 53.5px,#57bd8d 54.5px,#6abe83 55.5px,#a2be6c 56.5px,#d0bb59 57.5px,#f5ba47 58.5px,#febf3d 59.5px,#f8ba45 60.5px,#f1b94a 61.5px,#d4bb58 62.5px,#a4be6b 63.5px,#97bf70 64.5px,#a2be6c 65.5px,#a4be6b 66.5px,#b1bd66 67.5px,#babd62 68.5px,#b2bd66 69.5px,#bbbd62 70.5px,#d0bb5a 71.5px,#e6b94f 72.5px,#fbbc41 73.5px,#fdbe3e 74.5px,#ecb94d 75.5px,#d8ba56 76.5px,#cdbb5b 77.5px,#c4bc5e 78.5px,#c8bc5d 79.5px,#c9bc5d 80.5px,#c3bc5f 81.5px,#c7bc5d 82.5px,#cabb5c 83.5px,#ccbb5b 84.5px,#e9b94e 85.5px,#ffc436 86.5px,#fdcb30 87.5px,#fbd02c 88.5px,#fdca31 89.5px,#edb94c 90.5px,#cebb5a 91.5px,#cfbb5a 92.5px,#f2b949 93.5px,#fad329 94.5px,#f7d826 95.5px,#f7d826 96.5px,#f7d826 97.5px,#f7d826 98.5px,#fdcb30 99.5px,#fec13a 100.5px,#febf3c 101.5px,#f7ba45 102.5px,#e9b94e 103.5px,#e0ba52 104.5px)"></i><i style="left:154.0px;width:2.05px;background:linear-gradient(#1db3af 0.5px,#1eb3ae 1.5px,#20b4ad 2.5px,#1eb3ae 3.5px,#23b4ab 4.5px,#2db7a4 5.5px,#29b6a7 6.5px,#24b5aa 7.5px,#24b5aa 8.5px,#23b4ab 9.5px,#23b4ab 10.5px,#25b5aa 11.5px,#25b5a9 12.5px,#23b5ab 13.5px,#23b4ab 14.5px,#22b4ac 15.5px,#26b5a9 16.5px,#29b6a7 17.5px,#24b5ab 18.5px,#22b4ab 19.5px,#27b5a8 20.5px,#27b5a8 21.5px,#23b5ab 22.5px,#22b4ac 23.5px,#22b4ac 24.5px,#2ab6a6 25.5px,#2fb7a3 26.5px,#2bb6a6 27.5px,#2db7a5 28.5px,#2fb7a3 29.5px,#2eb7a4 30.5px,#2cb7a5 31.5px,#29b6a7 32.5px,#26b5a9 33.5px,#2db7a4 34.5px,#35b8a0 35.5px,#31b8a2 36.5px,#2eb7a4 37.5px,#2db7a5 38.5px,#29b6a7 39.5px,#33b8a1 40.5px,#44bb97 41.5px,#3dba9b 42.5px,#36b99f 43.5px,#3bb99c 44.5px,#38b99e 45.5px,#37b99e 46.5px,#3ab99c 47.5px,#37b99f 48.5px,#3bb99c 49.5px,#48bb94 50.5px,#47bb95 51.5px,#49bc94 52.5px,#55bd8e 53.5px,#52bd8f 54.5px,#5bbd8b 55.5px,#77bf7e 56.5px,#8abf76 57.5px,#a5be6b 58.5px,#bebc61 59.5px,#b6bd64 60.5px,#abbe68 61.5px,#a5be6b 62.5px,#91bf73 63.5px,#92bf72 64.5px,#a1be6d 65.5px,#9abf6f 66.5px,#9dbf6e 67.5px,#aabe69 68.5px,#a4be6b 69.5px,#a3be6c 70.5px,#b1bd66 71.5px,#c2bc5f 72.5px,#dbba55 73.5px,#e7b94f 74.5px,#d5ba57 75.5px,#c3bc5f 76.5px,#bebc61 77.5px,#b9bd63 78.5px,#bbbd62 79.5px,#bebc61 80.5px,#b9bd63 81.5px,#b7bd64 82.5px,#b7bd63 83.5px,#b1bd66 84.5px,#c1bc60 85.5px,#e4b951 86.5px,#f0b94a 87.5px,#f1b94a 88.5px,#e6b950 89.5px,#c7bc5d 90.5px,#b6bd64 91.5px,#b3bd65 92.5px,#c1bc60 93.5px,#e8b94e 94.5px,#ffc338 95.5px,#fec536 96.5px,#ffc436 97.5px,#fdbe3e 98.5px,#e8b94f 99.5px,#e2b952 100.5px,#e9b94e 101.5px,#dbba55 102.5px,#c8bc5d 103.5px,#c2bc5f 104.5px)"></i><i style="left:156.0px;width:2.05px;background:linear-gradient(#10afb8 0.5px,#10afb8 1.5px,#12afb7 2.5px,#12b0b7 3.5px,#12afb7 4.5px,#12afb7 5.5px,#13b0b6 6.5px,#15b1b4 7.5px,#15b1b4 8.5px,#14b0b5 9.5px,#15b1b4 10.5px,#17b1b3 11.5px,#17b1b3 12.5px,#16b1b4 13.5px,#14b0b5 14.5px,#13b0b6 15.5px,#14b0b5 16.5px,#15b0b5 17.5px,#17b1b3 18.5px,#1bb2b0 19.5px,#1ab2b1 20.5px,#14b0b5 21.5px,#10afb8 22.5px,#11afb7 23.5px,#14b0b5 24.5px,#1cb3af 25.5px,#22b4ab 26.5px,#1fb4ad 27.5px,#1db3af 28.5px,#1db3af 29.5px,#1cb3b0 30.5px,#1bb2b0 31.5px,#1eb3ae 32.5px,#20b4ad 33.5px,#26b5a9 34.5px,#2eb7a4 35.5px,#2db7a4 36.5px,#2bb6a6 37.5px,#29b6a7 38.5px,#27b5a8 39.5px,#32b8a1 40.5px,#39b99d 41.5px,#2eb7a4 42.5px,#2eb7a4 43.5px,#38b99e 44.5px,#36b99f 45.5px,#36b99f 46.5px,#39b99d 47.5px,#36b99f 48.5px,#3fba9a 49.5px,#4bbc93 50.5px,#44bb97 51.5px,#47bb95 52.5px,#57bd8c 53.5px,#52bd8f 54.5px,#50bc90 55.5px,#4fbc91 56.5px,#47bb95 57.5px,#53bd8e 58.5px,#67be85 59.5px,#61be88 60.5px,#60be88 61.5px,#68be84 62.5px,#63be87 63.5px,#68be84 64.5px,#6ebf81 65.5px,#67be85 66.5px,#67be85 67.5px,#6ebf82 68.5px,#66be85 69.5px,#64be86 70.5px,#65be85 71.5px,#64be86 72.5px,#73bf7f 73.5px,#81bf7a 74.5px,#7bbf7c 75.5px,#74bf7f 76.5px,#71bf80 77.5px,#6cbf82 78.5px,#6bbf83 79.5px,#67be85 80.5px,#60be88 81.5px,#5ebe89 82.5px,#61be88 83.5px,#5cbe8a 84.5px,#65be86 85.5px,#76bf7e 86.5px,#74bf7f 87.5px,#72bf80 88.5px,#6fbf81 89.5px,#5dbe8a 90.5px,#58bd8c 91.5px,#58bd8c 92.5px,#53bd8f 93.5px,#5fbe88 94.5px,#77bf7e 95.5px,#7fbf7a 96.5px,#84bf78 97.5px,#7abf7c 98.5px,#64be86 99.5px,#67be85 100.5px,#6fbf81 101.5px,#63be87 102.5px,#56bd8d 103.5px,#55bd8d 104.5px)"></i><i style="left:158.0px;width:2.05px;background:linear-gradient(#0dadbb 0.5px,#0daeba 1.5px,#0daebb 2.5px,#0cadbc 3.5px,#0badbc 4.5px,#0eaeba 5.5px,#12afb7 6.5px,#13b0b6 7.5px,#0faeb9 8.5px,#0cadbb 9.5px,#0dadbb 10.5px,#0cadbb 11.5px,#0dadbb 12.5px,#0eaeba 13.5px,#0bacbd 14.5px,#08aac0 15.5px,#09abbf 16.5px,#0eaeba 17.5px,#11afb8 18.5px,#12afb7 19.5px,#12afb7 20.5px,#0eaeba 21.5px,#0daebb 22.5px,#0eaeba 23.5px,#11afb8 24.5px,#15b0b5 25.5px,#1bb2b0 26.5px,#1fb3ae 27.5px,#20b4ad 28.5px,#1db3af 29.5px,#18b1b2 30.5px,#16b1b4 31.5px,#1ab2b1 32.5px,#20b4ad 33.5px,#28b6a7 34.5px,#33b8a0 35.5px,#36b99f 36.5px,#32b8a1 37.5px,#34b8a0 38.5px,#2eb7a4 39.5px,#2ab6a6 40.5px,#2fb7a3 41.5px,#2eb7a4 42.5px,#32b8a1 43.5px,#40ba99 44.5px,#45bb96 45.5px,#46bb96 46.5px,#4dbc92 47.5px,#50bc90 48.5px,#50bc90 49.5px,#5abd8b 50.5px,#58bd8c 51.5px,#5cbe8a 52.5px,#6fbf81 53.5px,#6cbf82 54.5px,#5fbe89 55.5px,#61be88 56.5px,#60be88 57.5px,#63be87 58.5px,#6fbf81 59.5px,#6abe83 60.5px,#63be87 61.5px,#6dbf82 62.5px,#6abe84 63.5px,#6cbf83 64.5px,#7ebf7b 65.5px,#7ebf7b 66.5px,#7abf7d 67.5px,#8abf76 68.5px,#90bf73 69.5px,#8dbf74 70.5px,#8bbf75 71.5px,#7ebf7b 72.5px,#75bf7e 73.5px,#7dbf7b 74.5px,#82bf79 75.5px,#85bf78 76.5px,#8bbf75 77.5px,#8cbf75 78.5px,#8abf76 79.5px,#88bf76 80.5px,#7ebf7b 81.5px,#76bf7e 82.5px,#7cbf7b 83.5px,#7dbf7b 84.5px,#84bf78 85.5px,#98bf70 86.5px,#a9be69 87.5px,#aebe67 88.5px,#a6be6a 89.5px,#86bf77 90.5px,#6ebf82 91.5px,#6ebf82 92.5px,#6cbf83 93.5px,#6abe83 94.5px,#75bf7f 95.5px,#8fbf74 96.5px,#aabe69 97.5px,#b0bd66 98.5px,#94bf72 99.5px,#76bf7e 100.5px,#70bf81 101.5px,#68be84 102.5px,#60be88 103.5px,#60be88 104.5px)"></i><i style="left:160.0px;width:2.05px;background:linear-gradient(#0faeb9 0.5px,#0eaeba 1.5px,#0bacbd 2.5px,#09abbf 3.5px,#09abbf 4.5px,#0bacbd 5.5px,#0faeb9 6.5px,#11afb8 7.5px,#0cadbb 8.5px,#09abbf 9.5px,#0bacbd 10.5px,#0aacbd 11.5px,#09abbf 12.5px,#0aacbe 13.5px,#08abc0 14.5px,#07a9c3 15.5px,#09abbf 16.5px,#0eaeba 17.5px,#0daebb 18.5px,#0bacbd 19.5px,#0cadbc 20.5px,#0daeba 21.5px,#10afb8 22.5px,#15b0b5 23.5px,#16b1b4 24.5px,#12afb7 25.5px,#13b0b6 26.5px,#1bb2b0 27.5px,#21b4ac 28.5px,#21b4ac 29.5px,#1cb3b0 30.5px,#18b1b3 31.5px,#1cb3af 32.5px,#28b6a8 33.5px,#2cb7a5 34.5px,#31b8a2 35.5px,#36b99f 36.5px,#34b8a0 37.5px,#3ab99d 38.5px,#39b99d 39.5px,#33b8a1 40.5px,#3ab99c 41.5px,#3dba9b 42.5px,#38b99d 43.5px,#40ba99 44.5px,#4dbc92 45.5px,#4ebc91 46.5px,#59bd8b 47.5px,#64be86 48.5px,#59bd8b 49.5px,#60be88 50.5px,#6abe83 51.5px,#64be86 52.5px,#70bf80 53.5px,#7abf7d 54.5px,#6abe83 55.5px,#70bf81 56.5px,#7bbf7c 57.5px,#78bf7d 58.5px,#85bf78 59.5px,#89bf76 60.5px,#7abf7c 61.5px,#80bf7a 62.5px,#86bf77 63.5px,#7dbf7b 64.5px,#8dbf75 65.5px,#97bf71 66.5px,#91bf73 67.5px,#a3be6c 68.5px,#b0bd66 69.5px,#a5be6b 70.5px,#a6be6a 71.5px,#a4be6b 72.5px,#99bf6f 73.5px,#a1be6c 74.5px,#a5be6b 75.5px,#a5be6b 76.5px,#b0bd67 77.5px,#b1bd66 78.5px,#a9be69 79.5px,#abbe68 80.5px,#a9be69 81.5px,#9dbe6e 82.5px,#9ebe6e 83.5px,#a1be6c 84.5px,#a4be6b 85.5px,#c4bc5e 86.5px,#e9b94e 87.5px,#efb94b 88.5px,#e8b94f 89.5px,#c8bc5d 90.5px,#a1be6c 91.5px,#99bf70 92.5px,#9bbf6f 93.5px,#97bf71 94.5px,#a4be6b 95.5px,#cbbb5c 96.5px,#e3b951 97.5px,#e4b950 98.5px,#cbbb5b 99.5px,#a7be6a 100.5px,#9abf6f 101.5px,#95bf71 102.5px,#87bf77 103.5px,#80bf7a 104.5px)"></i><i style="left:162.0px;width:2.05px;background:linear-gradient(#07a9c3 0.5px,#06a8c4 1.5px,#06a7c5 2.5px,#06a7c6 3.5px,#06a8c4 4.5px,#06a8c3 5.5px,#06a8c3 6.5px,#06a8c4 7.5px,#06a7c6 8.5px,#06a7c6 9.5px,#06a8c3 10.5px,#06a8c5 11.5px,#06a7c6 12.5px,#06a7c5 13.5px,#06a7c6 14.5px,#06a5c8 15.5px,#06a7c6 16.5px,#07a9c2 17.5px,#07aac1 18.5px,#07aac1 19.5px,#08aac0 20.5px,#09abbf 21.5px,#0cadbc 22.5px,#11afb8 23.5px,#13b0b6 24.5px,#0faeb9 25.5px,#0cadbc 26.5px,#0daebb 27.5px,#12b0b6 28.5px,#15b0b5 29.5px,#12afb7 30.5px,#0faeb9 31.5px,#12b0b6 32.5px,#1ab2b1 33.5px,#1cb3b0 34.5px,#1cb3b0 35.5px,#1db3af 36.5px,#1fb3ae 37.5px,#25b5a9 38.5px,#2ab6a6 39.5px,#2bb6a6 40.5px,#2cb6a5 41.5px,#2bb6a5 42.5px,#28b6a8 43.5px,#2cb7a5 44.5px,#36b99f 45.5px,#3ab99c 46.5px,#41ba98 47.5px,#43bb97 48.5px,#43bb97 49.5px,#51bd8f 50.5px,#58bd8c 51.5px,#4dbc92 52.5px,#4fbc90 53.5px,#52bd8f 54.5px,#4ebc91 55.5px,#5ebe89 56.5px,#6abe83 57.5px,#6bbe83 58.5px,#78bf7d 59.5px,#75bf7f 60.5px,#6abe83 61.5px,#7abf7c 62.5px,#7cbf7b 63.5px,#6bbe83 64.5px,#74bf7f 65.5px,#79bf7d 66.5px,#76bf7e 67.5px,#8bbf75 68.5px,#96bf71 69.5px,#90bf73 70.5px,#97bf71 71.5px,#95bf71 72.5px,#8dbf74 73.5px,#97bf70 74.5px,#9abf6f 75.5px,#96bf71 76.5px,#9bbf6f 77.5px,#97bf70 78.5px,#8bbf75 79.5px,#8fbf74 80.5px,#8dbf75 81.5px,#7fbf7a 82.5px,#8bbf75 83.5px,#a2be6c 84.5px,#afbe67 85.5px,#c4bc5e 86.5px,#d5ba57 87.5px,#d4bb58 88.5px,#c6bc5e 89.5px,#a2be6c 90.5px,#89bf76 91.5px,#95bf71 92.5px,#a9be69 93.5px,#b5bd64 94.5px,#c2bc5f 95.5px,#d2bb59 96.5px,#d9ba56 97.5px,#cdbb5b 98.5px,#abbe68 99.5px,#8bbf75 100.5px,#85bf78 101.5px,#83bf79 102.5px,#7abf7c 103.5px,#76bf7e 104.5px)"></i><i style="left:164.0px;width:2.05px;background:linear-gradient(#06a2cc 0.5px,#06a1cc 1.5px,#06a1cc 2.5px,#06a1cd 3.5px,#06a1cc 4.5px,#06a3cb 5.5px,#06a4ca 6.5px,#06a2cc 7.5px,#06a0cd 8.5px,#06a1cc 9.5px,#06a5c8 10.5px,#06a6c7 11.5px,#06a5c8 12.5px,#06a5c9 13.5px,#06a3ca 14.5px,#06a1cd 15.5px,#06a2cb 16.5px,#06a4c9 17.5px,#06a5c8 18.5px,#06a5c8 19.5px,#06a5c8 20.5px,#06a6c6 21.5px,#06a7c5 22.5px,#06a8c4 23.5px,#07a9c2 24.5px,#07a9c2 25.5px,#06a8c3 26.5px,#07aac1 27.5px,#0aacbd 28.5px,#0cadbb 29.5px,#0cadbb 30.5px,#0cadbb 31.5px,#0eaeba 32.5px,#0faeb9 33.5px,#10afb8 34.5px,#12b0b7 35.5px,#17b1b3 36.5px,#1ab2b1 37.5px,#1cb3b0 38.5px,#1fb3ae 39.5px,#20b4ad 40.5px,#22b4ab 41.5px,#23b5ab 42.5px,#23b4ab 43.5px,#27b6a8 44.5px,#2eb7a4 45.5px,#33b8a1 46.5px,#3fba9a 47.5px,#3eba9a 48.5px,#3ab99d 49.5px,#44bb97 50.5px,#49bc94 51.5px,#48bb95 52.5px,#52bd8f 53.5px,#53bd8f 54.5px,#58bd8c 55.5px,#6fbf81 56.5px,#75bf7f 57.5px,#74bf7f 58.5px,#82bf79 59.5px,#7ebf7b 60.5px,#7ebf7b 61.5px,#94bf71 62.5px,#93bf72 63.5px,#88bf77 64.5px,#9bbf6f 65.5px,#9dbf6e 66.5px,#94bf72 67.5px,#a1be6c 68.5px,#a1be6c 69.5px,#a5be6b 70.5px,#b6bd64 71.5px,#b2bd66 72.5px,#afbe67 73.5px,#bebc61 74.5px,#c1bc5f 75.5px,#bdbd61 76.5px,#c1bc60 77.5px,#bcbd62 78.5px,#b4bd65 79.5px,#b8bd63 80.5px,#b7bd64 81.5px,#bdbd61 82.5px,#d5bb58 83.5px,#eab94e 84.5px,#f7ba45 85.5px,#fec13a 86.5px,#febf3c 87.5px,#f6ba46 88.5px,#e9b94e 89.5px,#d4bb58 90.5px,#d2bb59 91.5px,#eeb94b 92.5px,#fec139 93.5px,#fec932 94.5px,#fccc2f 95.5px,#fdcb30 96.5px,#fec733 97.5px,#fec03b 98.5px,#e6b94f 99.5px,#c3bc5f 100.5px,#b0bd66 101.5px,#a8be6a 102.5px,#a2be6c 103.5px,#a3be6c 104.5px)"></i><i style="left:166.0px;width:2.05px;background:linear-gradient(#069fce 0.5px,#06a2cb 1.5px,#06a3cb 2.5px,#06a1cc 3.5px,#06a0cd 4.5px,#06a0cd 5.5px,#06a2cb 6.5px,#06a2cb 7.5px,#06a2cb 8.5px,#06a3ca 9.5px,#06a4c9 10.5px,#06a4ca 11.5px,#06a4ca 12.5px,#06a4ca 13.5px,#06a3ca 14.5px,#06a2cb 15.5px,#06a2cc 16.5px,#06a3ca 17.5px,#06a4ca 18.5px,#06a4ca 19.5px,#06a6c7 20.5px,#06a8c4 21.5px,#06a8c5 22.5px,#06a7c5 23.5px,#06a8c5 24.5px,#06a7c5 25.5px,#06a6c6 26.5px,#07a9c3 27.5px,#09abbf 28.5px,#0badbd 29.5px,#0eaeb9 30.5px,#14b0b5 31.5px,#17b1b3 32.5px,#16b1b3 33.5px,#17b1b3 34.5px,#1fb4ad 35.5px,#31b8a2 36.5px,#3eba9a 37.5px,#43bb97 38.5px,#3cba9b 39.5px,#2bb6a5 40.5px,#22b4ab 41.5px,#22b4ac 42.5px,#25b5aa 43.5px,#2ab6a6 44.5px,#2cb7a5 45.5px,#33b8a1 46.5px,#3fba99 47.5px,#3dba9b 48.5px,#3bb99c 49.5px,#46bb96 50.5px,#46bb96 51.5px,#4cbc92 52.5px,#5fbe89 53.5px,#59bd8c 54.5px,#56bd8d 55.5px,#68be84 56.5px,#6abe83 57.5px,#71bf80 58.5px,#86bf77 59.5px,#82bf79 60.5px,#89bf76 61.5px,#9fbe6d 62.5px,#94bf72 63.5px,#92bf73 64.5px,#a5be6b 65.5px,#a1be6c 66.5px,#a2be6c 67.5px,#b0bd66 68.5px,#a9be69 69.5px,#adbe68 70.5px,#bebc61 71.5px,#babd63 72.5px,#b8bd63 73.5px,#c5bc5e 74.5px,#c6bc5e 75.5px,#c4bc5f 76.5px,#cdbb5b 77.5px,#cebb5b 78.5px,#c9bb5c 79.5px,#c7bc5d 80.5px,#c7bc5d 81.5px,#dbba55 82.5px,#f7ba45 83.5px,#fec13a 84.5px,#fec833 85.5px,#fbd02c 86.5px,#fbd02c 87.5px,#fccd2e 88.5px,#fec932 89.5px,#febf3c 90.5px,#ffc238 91.5px,#fad32a 92.5px,#f7d826 93.5px,#f7d826 94.5px,#f7d826 95.5px,#f7d826 96.5px,#f7d826 97.5px,#f8d826 98.5px,#fec932 99.5px,#e7b94f 100.5px,#c6bc5e 101.5px,#b1bd66 102.5px,#a9be69 103.5px,#aabe69 104.5px)"></i><i style="left:168.0px;width:2.05px;background:linear-gradient(#06a2cc 0.5px,#06a3cb 1.5px,#06a3ca 2.5px,#06a1cc 3.5px,#079dcf 4.5px,#079cd0 5.5px,#069ece 6.5px,#06a1cd 7.5px,#06a2cc 8.5px,#06a2cb 9.5px,#06a1cc 10.5px,#069fce 11.5px,#06a1cc 12.5px,#06a2cc 13.5px,#06a1cc 14.5px,#06a2cb 15.5px,#06a2cb 16.5px,#06a3cb 17.5px,#06a2cb 18.5px,#06a4ca 19.5px,#06a8c4 20.5px,#07a9c3 21.5px,#06a7c5 22.5px,#06a7c6 23.5px,#06a7c6 24.5px,#06a6c7 25.5px,#06a5c8 26.5px,#06a6c7 27.5px,#07aac2 28.5px,#0daebb 29.5px,#11afb7 30.5px,#13b0b6 31.5px,#13b0b6 32.5px,#15b0b5 33.5px,#1db3af 34.5px,#31b8a2 35.5px,#46bb96 36.5px,#55bd8d 37.5px,#60be88 38.5px,#58bd8c 39.5px,#45bb96 40.5px,#2fb7a3 41.5px,#22b4ac 42.5px,#21b4ac 43.5px,#23b4ab 44.5px,#24b5aa 45.5px,#33b8a1 46.5px,#41ba99 47.5px,#39b99d 48.5px,#3ab99c 49.5px,#49bb94 50.5px,#49bb94 51.5px,#4cbc92 52.5px,#5abd8b 53.5px,#58bd8c 54.5px,#5ebe89 55.5px,#6dbf82 56.5px,#67be85 57.5px,#6bbe83 58.5px,#7ebf7b 59.5px,#7dbf7b 60.5px,#89bf76 61.5px,#9abf6f 62.5px,#8ebf74 63.5px,#94bf72 64.5px,#a7be6a 65.5px,#a5be6b 66.5px,#a9be69 67.5px,#afbe67 68.5px,#a6be6a 69.5px,#afbe67 70.5px,#bebc61 71.5px,#b7bd63 72.5px,#b6bd64 73.5px,#c0bc60 74.5px,#c0bc60 75.5px,#c2bc5f 76.5px,#cabb5c 77.5px,#cabb5c 78.5px,#c7bc5d 79.5px,#c6bc5e 80.5px,#c6bc5e 81.5px,#e0ba53 82.5px,#fec03b 83.5px,#fdca31 84.5px,#fcce2d 85.5px,#fad22a 86.5px,#fcce2d 87.5px,#fccd2e 88.5px,#fdcc2f 89.5px,#fec634 90.5px,#fdcb30 91.5px,#f8d726 92.5px,#f7d826 93.5px,#f7d826 94.5px,#f7d826 95.5px,#f7d826 96.5px,#f7d826 97.5px,#f7d826 98.5px,#fdcb30 99.5px,#efb94a 100.5px,#cebb5a 101.5px,#bbbd62 102.5px,#b4bd65 103.5px,#b3bd65 104.5px)"></i><i style="left:170.0px;width:2.05px;background:linear-gradient(#06a4ca 0.5px,#06a4ca 1.5px,#06a4ca 2.5px,#06a0cd 3.5px,#079dcf 4.5px,#079cd0 5.5px,#079dcf 6.5px,#079dcf 7.5px,#069fce 8.5px,#06a1cd 9.5px,#06a0cd 10.5px,#069fce 11.5px,#06a1cc 12.5px,#069fce 13.5px,#079dcf 14.5px,#069ece 15.5px,#06a0cd 16.5px,#06a0cd 17.5px,#06a0cd 18.5px,#06a4ca 19.5px,#06a6c7 20.5px,#06a6c7 21.5px,#06a6c7 22.5px,#06a6c7 23.5px,#06a7c6 24.5px,#06a6c7 25.5px,#06a7c6 26.5px,#06a8c4 27.5px,#07aac2 28.5px,#0cadbc 29.5px,#10afb8 30.5px,#0faeb9 31.5px,#0eaeba 32.5px,#12afb7 33.5px,#1bb2b0 34.5px,#32b8a2 35.5px,#43bb97 36.5px,#4fbc91 37.5px,#57bd8d 38.5px,#52bd8f 39.5px,#48bb94 40.5px,#31b8a2 41.5px,#1eb3ae 42.5px,#1bb2b0 43.5px,#1db3af 44.5px,#25b5aa 45.5px,#36b99f 46.5px,#3dba9a 47.5px,#34b8a0 48.5px,#3bb99c 49.5px,#49bc94 50.5px,#4abc93 51.5px,#54bd8e 52.5px,#5ebe89 53.5px,#5dbe89 54.5px,#6cbf82 55.5px,#79bf7d 56.5px,#6cbf82 57.5px,#72bf80 58.5px,#83bf79 59.5px,#79bf7d 60.5px,#7cbf7b 61.5px,#89bf76 62.5px,#87bf77 63.5px,#96bf71 64.5px,#a9be69 65.5px,#a4be6b 66.5px,#a7be6a 67.5px,#b2bd66 68.5px,#adbe68 69.5px,#b1bd66 70.5px,#bfbc61 71.5px,#bbbd62 72.5px,#bbbd62 73.5px,#c8bc5d 74.5px,#c7bc5d 75.5px,#c8bc5d 76.5px,#ccbb5b 77.5px,#c9bb5c 78.5px,#c7bc5d 79.5px,#c8bc5d 80.5px,#c8bc5d 81.5px,#dfba53 82.5px,#fdbe3e 83.5px,#fdca31 84.5px,#fbd02c 85.5px,#fbd12b 86.5px,#fdca31 87.5px,#fec634 88.5px,#ffc436 89.5px,#fcbd3f 90.5px,#ffc238 91.5px,#fad22b 92.5px,#f8d627 93.5px,#f7d826 94.5px,#f7d826 95.5px,#f7d826 96.5px,#f7d826 97.5px,#f8d627 98.5px,#ffc536 99.5px,#e9b94e 100.5px,#ccbb5b 101.5px,#bbbd62 102.5px,#b6bd64 103.5px,#b9bd63 104.5px)"></i><i style="left:172.0px;width:2.05px;background:linear-gradient(#069fce 0.5px,#06a0cd 1.5px,#06a1cc 2.5px,#06a0cd 3.5px,#079dcf 4.5px,#069ece 5.5px,#069ece 6.5px,#079dcf 7.5px,#069fce 8.5px,#069fce 9.5px,#06a0cd 10.5px,#06a0cd 11.5px,#06a1cd 12.5px,#069fce 13.5px,#069fce 14.5px,#06a0cd 15.5px,#06a1cc 16.5px,#06a0cd 17.5px,#06a2cc 18.5px,#06a5c8 19.5px,#06a6c7 20.5px,#06a6c7 21.5px,#06a6c7 22.5px,#06a7c6 23.5px,#06a7c5 24.5px,#06a5c8 25.5px,#06a7c6 26.5px,#07aac2 27.5px,#09abbf 28.5px,#0aacbd 29.5px,#0badbc 30.5px,#0bacbd 31.5px,#0cadbb 32.5px,#10afb8 33.5px,#15b1b4 34.5px,#22b4ac 35.5px,#30b7a2 36.5px,#3bb99c 37.5px,#42bb98 38.5px,#41ba98 39.5px,#39b99d 40.5px,#2eb7a4 41.5px,#24b5aa 42.5px,#25b5aa 43.5px,#2bb6a6 44.5px,#2db7a4 45.5px,#32b8a2 46.5px,#35b8a0 47.5px,#35b8a0 48.5px,#3bb99c 49.5px,#45bb96 50.5px,#46bb96 51.5px,#4abc94 52.5px,#54bd8e 53.5px,#58bd8c 54.5px,#63be87 55.5px,#74bf7f 56.5px,#6ebf82 57.5px,#6cbf83 58.5px,#7fbf7a 59.5px,#7fbf7a 60.5px,#7abf7c 61.5px,#85bf78 62.5px,#86bf77 63.5px,#8fbf74 64.5px,#a1be6c 65.5px,#9fbe6d 66.5px,#9ebe6e 67.5px,#adbe68 68.5px,#abbe69 69.5px,#a6be6b 70.5px,#b5bd65 71.5px,#babd62 72.5px,#bdbc61 73.5px,#cabb5c 74.5px,#c8bc5d 75.5px,#c0bc60 76.5px,#c0bc60 77.5px,#bbbd62 78.5px,#b6bd64 79.5px,#b9bd63 80.5px,#b5bd64 81.5px,#bebc61 82.5px,#dbba55 83.5px,#f2b949 84.5px,#febf3c 85.5px,#ffc337 86.5px,#fec03b 87.5px,#f7ba45 88.5px,#e7b94f 89.5px,#d3bb58 90.5px,#d6ba57 91.5px,#efb94b 92.5px,#febf3d 93.5px,#fec535 94.5px,#fdcc2f 95.5px,#fccd2e 96.5px,#fec733 97.5px,#fabc41 98.5px,#ddba54 99.5px,#c0bc60 100.5px,#b3bd65 101.5px,#b1bd66 102.5px,#aebe67 103.5px,#afbe67 104.5px)"></i><i style="left:174.0px;width:2.05px;background:linear-gradient(#06a1cc 0.5px,#06a3cb 1.5px,#06a5c8 2.5px,#06a6c7 3.5px,#06a4ca 4.5px,#06a3ca 5.5px,#06a3ca 6.5px,#06a3cb 7.5px,#06a4c9 8.5px,#06a5c8 9.5px,#06a7c6 10.5px,#06a8c5 11.5px,#06a6c7 12.5px,#06a4ca 13.5px,#06a5c9 14.5px,#06a7c6 15.5px,#06a8c4 16.5px,#06a8c4 17.5px,#06a8c4 18.5px,#06a8c3 19.5px,#07a9c2 20.5px,#07a9c2 21.5px,#07aac2 22.5px,#08aac1 23.5px,#07aac1 24.5px,#06a8c5 25.5px,#07a9c2 26.5px,#09abbe 27.5px,#0aacbe 28.5px,#0badbc 29.5px,#0cadbc 30.5px,#0daeba 31.5px,#11afb8 32.5px,#15b0b5 33.5px,#1ab2b1 34.5px,#20b4ad 35.5px,#24b5aa 36.5px,#25b5aa 37.5px,#23b4ab 38.5px,#24b5aa 39.5px,#29b6a7 40.5px,#30b7a3 41.5px,#2cb7a5 42.5px,#2bb6a6 43.5px,#32b8a1 44.5px,#32b8a2 45.5px,#2eb7a4 46.5px,#34b8a0 47.5px,#38b99e 48.5px,#35b8a0 49.5px,#39b99d 50.5px,#3dba9b 51.5px,#3bba9c 52.5px,#42bb98 53.5px,#47bb95 54.5px,#43bb97 55.5px,#51bc90 56.5px,#59bd8b 57.5px,#52bd8f 58.5px,#5ebe89 59.5px,#65be86 60.5px,#60be88 61.5px,#6abe83 62.5px,#6fbf81 63.5px,#6ebf81 64.5px,#7cbf7c 65.5px,#7fbf7a 66.5px,#76bf7e 67.5px,#82bf79 68.5px,#87bf77 69.5px,#7cbf7b 70.5px,#86bf77 71.5px,#8bbf75 72.5px,#8abf76 73.5px,#96bf71 74.5px,#96bf71 75.5px,#8fbf74 76.5px,#94bf72 77.5px,#97bf70 78.5px,#8ebf74 79.5px,#89bf76 80.5px,#82bf79 81.5px,#7fbf7a 82.5px,#8cbf75 83.5px,#9fbe6d 84.5px,#abbe69 85.5px,#b0bd66 86.5px,#adbe67 87.5px,#a0be6d 88.5px,#93bf72 89.5px,#87bf77 90.5px,#84bf78 91.5px,#91bf73 92.5px,#a0be6d 93.5px,#a4be6b 94.5px,#a9be69 95.5px,#a7be6a 96.5px,#99bf70 97.5px,#8ebf74 98.5px,#7bbf7c 99.5px,#6ebf82 100.5px,#74bf7f 101.5px,#74bf7f 102.5px,#63be87 103.5px,#57bd8c 104.5px)"></i><i style="left:176.0px;width:2.05px;background:linear-gradient(#27b6a8 0.5px,#28b6a7 1.5px,#30b7a2 2.5px,#34b8a0 3.5px,#2db7a4 4.5px,#2ab6a7 5.5px,#26b5a9 6.5px,#26b5a9 7.5px,#29b6a7 8.5px,#2ab6a6 9.5px,#2db7a4 10.5px,#34b8a0 11.5px,#30b7a3 12.5px,#28b6a8 13.5px,#2cb7a5 14.5px,#2fb7a3 15.5px,#2cb7a5 16.5px,#2eb7a4 17.5px,#2eb7a4 18.5px,#31b8a2 19.5px,#36b99f 20.5px,#31b8a2 21.5px,#2cb7a5 22.5px,#32b8a2 23.5px,#34b8a0 24.5px,#2cb7a5 25.5px,#30b7a3 26.5px,#35b89f 27.5px,#30b7a2 28.5px,#33b8a1 29.5px,#35b89f 30.5px,#35b89f 31.5px,#3bb99c 32.5px,#3eba9a 33.5px,#3eba9a 34.5px,#43bb97 35.5px,#41ba98 36.5px,#3ab99c 37.5px,#3dba9b 38.5px,#40ba99 39.5px,#3eba9a 40.5px,#46bb96 41.5px,#4abc94 42.5px,#46bb96 43.5px,#4cbc93 44.5px,#48bb95 45.5px,#40ba99 46.5px,#47bb95 47.5px,#4abc93 48.5px,#46bb96 49.5px,#4cbc92 50.5px,#4bbc93 51.5px,#47bb95 52.5px,#4cbc92 53.5px,#4bbc93 54.5px,#48bb94 55.5px,#58bd8c 56.5px,#5abd8b 57.5px,#53bd8f 58.5px,#60be88 59.5px,#60be88 60.5px,#58bd8c 61.5px,#62be87 62.5px,#66be85 63.5px,#5dbe8a 64.5px,#65be86 65.5px,#6bbf83 66.5px,#66be85 67.5px,#6dbf82 68.5px,#6cbf82 69.5px,#69be84 70.5px,#78bf7d 71.5px,#78bf7d 72.5px,#6fbf81 73.5px,#76bf7e 74.5px,#70bf81 75.5px,#65be86 76.5px,#6abe83 77.5px,#71bf80 78.5px,#70bf81 79.5px,#70bf81 80.5px,#65be86 81.5px,#60be88 82.5px,#63be87 83.5px,#6cbf82 84.5px,#6dbf82 85.5px,#66be85 86.5px,#5fbe89 87.5px,#55bd8e 88.5px,#54bd8e 89.5px,#56bd8d 90.5px,#58bd8c 91.5px,#62be87 92.5px,#5cbe8a 93.5px,#4cbc92 94.5px,#47bb95 95.5px,#49bc94 96.5px,#5ebe89 97.5px,#7dbf7b 98.5px,#6cbf82 99.5px,#4dbc91 100.5px,#4ebc91 101.5px,#4bbc93 102.5px,#3dba9b 103.5px,#36b99f 104.5px)"></i><i style="left:178.0px;width:2.05px;background:linear-gradient(#3bb99c 0.5px,#3ab99d 1.5px,#42bb98 2.5px,#45bb96 3.5px,#3fba99 4.5px,#3fba99 5.5px,#3bb99c 6.5px,#35b8a0 7.5px,#33b8a0 8.5px,#33b8a1 9.5px,#38b99e 10.5px,#44bb97 11.5px,#40ba99 12.5px,#33b8a0 13.5px,#38b99d 14.5px,#3fba9a 15.5px,#39b99d 16.5px,#39b99d 17.5px,#3fba99 18.5px,#43bb97 19.5px,#47bb95 20.5px,#3cba9b 21.5px,#33b8a1 22.5px,#3bba9c 23.5px,#3eba9a 24.5px,#35b8a0 25.5px,#34b8a0 26.5px,#37b99e 27.5px,#35b8a0 28.5px,#3dba9b 29.5px,#45bb96 30.5px,#41ba98 31.5px,#42bb98 32.5px,#43bb98 33.5px,#42bb98 34.5px,#4bbc93 35.5px,#4cbc92 36.5px,#48bb95 37.5px,#4cbc92 38.5px,#4abc93 39.5px,#41ba98 40.5px,#48bb94 41.5px,#50bc90 42.5px,#49bc94 43.5px,#4dbc92 44.5px,#49bc94 45.5px,#44bb97 46.5px,#51bc90 47.5px,#55bd8e 48.5px,#4dbc92 49.5px,#52bd8f 50.5px,#4fbc91 51.5px,#4dbc92 52.5px,#57bd8d 53.5px,#55bd8d 54.5px,#4dbc92 55.5px,#5abd8b 56.5px,#5ebe89 57.5px,#53bd8f 58.5px,#5abd8b 59.5px,#5ebe89 60.5px,#57bd8d 61.5px,#5fbe88 62.5px,#64be86 63.5px,#5cbe8a 64.5px,#5ebe89 65.5px,#62be87 66.5px,#65be86 67.5px,#73bf7f 68.5px,#76bf7e 69.5px,#77bf7e 70.5px,#90bf73 71.5px,#8abf76 72.5px,#69be84 73.5px,#63be86 74.5px,#61be88 75.5px,#56bd8d 76.5px,#58bd8c 77.5px,#60be88 78.5px,#72bf80 79.5px,#83bf78 80.5px,#70bf81 81.5px,#5ebe89 82.5px,#61be87 83.5px,#73bf7f 84.5px,#78bf7d 85.5px,#65be85 86.5px,#52bd8f 87.5px,#49bc94 88.5px,#4dbc92 89.5px,#54bd8e 90.5px,#62be87 91.5px,#76bf7e 92.5px,#65be86 93.5px,#4dbc92 94.5px,#4fbc91 95.5px,#58bd8c 96.5px,#79bf7d 97.5px,#abbe69 98.5px,#a0be6d 99.5px,#65be86 100.5px,#50bc90 101.5px,#4bbc93 102.5px,#40ba99 103.5px,#3cba9b 104.5px)"></i><i style="left:180.0px;width:2.05px;background:linear-gradient(#35b89f 0.5px,#31b8a2 1.5px,#32b8a1 2.5px,#32b8a2 3.5px,#2eb7a4 4.5px,#2eb7a4 5.5px,#2ab6a7 6.5px,#29b6a7 7.5px,#2db7a4 8.5px,#2bb6a6 9.5px,#2bb6a6 10.5px,#32b8a2 11.5px,#30b7a3 12.5px,#29b6a7 13.5px,#2cb7a5 14.5px,#2eb7a3 15.5px,#2eb7a4 16.5px,#30b7a2 17.5px,#30b7a2 18.5px,#2fb7a3 19.5px,#32b8a1 20.5px,#2fb7a3 21.5px,#28b6a8 22.5px,#2cb6a5 23.5px,#2cb7a5 24.5px,#23b4ab 25.5px,#22b4ac 26.5px,#28b6a8 27.5px,#2cb7a5 28.5px,#2fb7a3 29.5px,#2db7a4 30.5px,#27b5a8 31.5px,#29b6a7 32.5px,#2db7a5 33.5px,#30b7a2 34.5px,#3dba9b 35.5px,#3dba9b 36.5px,#34b8a0 37.5px,#38b99e 38.5px,#38b99e 39.5px,#34b8a0 40.5px,#3bb99c 41.5px,#3dba9b 42.5px,#37b99e 43.5px,#41ba98 44.5px,#47bb95 45.5px,#3cba9b 46.5px,#3ab99c 47.5px,#3bb99c 48.5px,#3ab99c 49.5px,#42bb98 50.5px,#41ba99 51.5px,#3fba9a 52.5px,#4fbc91 53.5px,#52bd8f 54.5px,#47bb95 55.5px,#4dbc91 56.5px,#4fbc91 57.5px,#45bb96 58.5px,#4bbc93 59.5px,#54bd8e 60.5px,#51bc90 61.5px,#55bd8d 62.5px,#5abd8b 63.5px,#55bd8e 64.5px,#56bd8d 65.5px,#5dbe89 66.5px,#63be87 67.5px,#6fbf81 68.5px,#76bf7e 69.5px,#7dbf7b 70.5px,#98bf70 71.5px,#8dbf74 72.5px,#64be86 73.5px,#5abd8b 74.5px,#5bbd8b 75.5px,#56bd8d 76.5px,#5dbe8a 77.5px,#65be86 78.5px,#76bf7e 79.5px,#86bf77 80.5px,#71bf80 81.5px,#5abd8b 82.5px,#60be88 83.5px,#7cbf7b 84.5px,#7dbf7b 85.5px,#62be87 86.5px,#50bc90 87.5px,#4abc93 88.5px,#51bc90 89.5px,#58bd8c 90.5px,#6abe84 91.5px,#82bf79 92.5px,#6cbf82 93.5px,#4dbc92 94.5px,#4fbc90 95.5px,#5bbd8b 96.5px,#83bf78 97.5px,#b9bd63 98.5px,#b0be67 99.5px,#6abe84 100.5px,#48bb94 101.5px,#42bb98 102.5px,#3dba9a 103.5px,#3bba9c 104.5px)"></i><i style="left:182.0px;width:2.05px;background:linear-gradient(#06a5c8 0.5px,#06a7c5 1.5px,#06a8c5 2.5px,#06a6c7 3.5px,#06a6c6 4.5px,#06a7c5 5.5px,#06a5c8 6.5px,#06a6c7 7.5px,#06a7c5 8.5px,#06a6c7 9.5px,#06a5c8 10.5px,#06a6c7 11.5px,#06a7c5 12.5px,#06a6c7 13.5px,#06a5c8 14.5px,#06a5c8 15.5px,#06a6c7 16.5px,#06a7c6 17.5px,#06a6c7 18.5px,#06a4c9 19.5px,#06a5c8 20.5px,#06a6c6 21.5px,#06a6c7 22.5px,#06a5c8 23.5px,#06a5c9 24.5px,#06a3ca 25.5px,#06a3ca 26.5px,#06a5c8 27.5px,#06a7c6 28.5px,#06a6c7 29.5px,#06a4c9 30.5px,#06a5c8 31.5px,#06a7c5 32.5px,#06a8c3 33.5px,#08aac1 34.5px,#09abbf 35.5px,#07a9c2 36.5px,#06a8c4 37.5px,#08aac1 38.5px,#08aac0 39.5px,#08abc0 40.5px,#07aac1 41.5px,#07a9c2 42.5px,#08abc0 43.5px,#0cadbc 44.5px,#0cadbc 45.5px,#08aac1 46.5px,#06a8c3 47.5px,#07a9c2 48.5px,#09abbf 49.5px,#0badbc 50.5px,#0bacbd 51.5px,#0bacbd 52.5px,#0faeb9 53.5px,#17b1b3 54.5px,#1bb2b0 55.5px,#1fb3ae 56.5px,#1fb3ae 57.5px,#1cb3af 58.5px,#1bb2b0 59.5px,#1fb3ad 60.5px,#24b5aa 61.5px,#2bb6a6 62.5px,#32b8a1 63.5px,#31b8a2 64.5px,#32b8a1 65.5px,#3ab99c 66.5px,#3fba9a 67.5px,#47bb95 68.5px,#56bd8d 69.5px,#6dbf82 70.5px,#94bf72 71.5px,#8dbf75 72.5px,#61be87 73.5px,#51bc90 74.5px,#4dbc92 75.5px,#47bb95 76.5px,#50bc90 77.5px,#5fbe89 78.5px,#76bf7e 79.5px,#84bf78 80.5px,#6bbe83 81.5px,#52bd8f 82.5px,#61be88 83.5px,#82bf79 84.5px,#7abf7c 85.5px,#59bd8c 86.5px,#46bb95 87.5px,#41ba99 88.5px,#43bb97 89.5px,#45bb96 90.5px,#59bd8c 91.5px,#7bbf7c 92.5px,#6fbf81 93.5px,#4fbc91 94.5px,#49bb94 95.5px,#53bd8e 96.5px,#86bf77 97.5px,#bebc61 98.5px,#b2bd66 99.5px,#69be84 100.5px,#42bb98 101.5px,#3cba9b 102.5px,#3eba9a 103.5px,#3fba99 104.5px)"></i><i style="left:184.0px;width:2.05px;background:linear-gradient(#079dcf 0.5px,#069ece 1.5px,#06a1cc 2.5px,#06a1cc 3.5px,#06a1cd 4.5px,#069fce 5.5px,#079ccf 6.5px,#069fce 7.5px,#06a1cc 8.5px,#06a1cc 9.5px,#06a1cd 10.5px,#06a1cc 11.5px,#06a3ca 12.5px,#06a3ca 13.5px,#06a3cb 14.5px,#06a2cb 15.5px,#06a1cc 16.5px,#06a2cb 17.5px,#06a2cc 18.5px,#06a0cd 19.5px,#06a1cd 20.5px,#06a4c9 21.5px,#06a4c9 22.5px,#06a2cc 23.5px,#06a1cc 24.5px,#06a2cb 25.5px,#06a2cb 26.5px,#06a2cb 27.5px,#06a2cb 28.5px,#06a1cc 29.5px,#06a1cc 30.5px,#06a3cb 31.5px,#06a5c8 32.5px,#06a7c6 33.5px,#06a7c6 34.5px,#06a6c7 35.5px,#06a4c9 36.5px,#06a5c9 37.5px,#06a6c7 38.5px,#06a7c6 39.5px,#06a7c5 40.5px,#06a7c5 41.5px,#06a8c5 42.5px,#06a8c4 43.5px,#07a9c3 44.5px,#07a9c3 45.5px,#06a7c5 46.5px,#06a7c6 47.5px,#06a7c5 48.5px,#06a7c5 49.5px,#06a8c4 50.5px,#07a9c2 51.5px,#08aac1 52.5px,#08abc0 53.5px,#0bacbd 54.5px,#11afb8 55.5px,#15b1b4 56.5px,#16b1b4 57.5px,#17b1b3 58.5px,#1ab2b1 59.5px,#1eb3ae 60.5px,#21b4ac 61.5px,#22b4ab 62.5px,#22b4ac 63.5px,#25b5aa 64.5px,#2bb6a5 65.5px,#33b8a0 66.5px,#37b99e 67.5px,#3eba9a 68.5px,#4fbc91 69.5px,#65be86 70.5px,#88bf76 71.5px,#87bf77 72.5px,#64be86 73.5px,#56bd8d 74.5px,#4fbc90 75.5px,#43bb97 76.5px,#48bb94 77.5px,#5abd8b 78.5px,#77bf7e 79.5px,#85bf78 80.5px,#6cbf83 81.5px,#56bd8d 82.5px,#63be86 83.5px,#85bf78 84.5px,#83bf79 85.5px,#5ebe89 86.5px,#46bb95 87.5px,#41bb98 88.5px,#43bb97 89.5px,#45bb96 90.5px,#58bd8c 91.5px,#74bf7f 92.5px,#65be86 93.5px,#46bb96 94.5px,#40ba99 95.5px,#4cbc92 96.5px,#7ebf7b 97.5px,#b9bd63 98.5px,#adbe68 99.5px,#66be85 100.5px,#41ba98 101.5px,#3dba9b 102.5px,#3eba9a 103.5px,#3fba99 104.5px)"></i><i style="left:186.0px;width:2.05px;background:linear-gradient(#069fce 0.5px,#069fce 1.5px,#06a1cd 2.5px,#06a1cc 3.5px,#06a0cd 4.5px,#069fce 5.5px,#06a0cd 6.5px,#06a2cc 7.5px,#06a1cc 8.5px,#06a0cd 9.5px,#06a1cc 10.5px,#06a1cc 11.5px,#06a2cb 12.5px,#06a2cb 13.5px,#06a2cb 14.5px,#06a3ca 15.5px,#06a4ca 16.5px,#06a4c9 17.5px,#06a4c9 18.5px,#06a2cc 19.5px,#06a0cd 20.5px,#06a2cb 21.5px,#06a5c9 22.5px,#06a5c8 23.5px,#06a5c8 24.5px,#06a5c9 25.5px,#06a4ca 26.5px,#06a2cc 27.5px,#06a1cc 28.5px,#06a2cb 29.5px,#06a4ca 30.5px,#06a5c8 31.5px,#06a6c6 32.5px,#06a6c7 33.5px,#06a5c8 34.5px,#06a5c8 35.5px,#06a4c9 36.5px,#06a3ca 37.5px,#06a4ca 38.5px,#06a5c8 39.5px,#06a6c7 40.5px,#06a7c6 41.5px,#06a8c3 42.5px,#06a8c4 43.5px,#06a8c5 44.5px,#06a8c4 45.5px,#06a8c4 46.5px,#06a8c4 47.5px,#07a9c3 48.5px,#06a8c4 49.5px,#06a7c6 50.5px,#06a8c4 51.5px,#08abc0 52.5px,#09acbe 53.5px,#09abbf 54.5px,#0cadbb 55.5px,#10afb8 56.5px,#12afb7 57.5px,#15b1b4 58.5px,#19b2b1 59.5px,#1cb2b0 60.5px,#20b4ad 61.5px,#20b4ad 62.5px,#20b4ad 63.5px,#25b5a9 64.5px,#25b5a9 65.5px,#25b5a9 66.5px,#2ab6a7 67.5px,#2fb7a3 68.5px,#3cba9c 69.5px,#4ebc91 70.5px,#67be85 71.5px,#61be88 72.5px,#4cbc92 73.5px,#45bb96 74.5px,#42bb98 75.5px,#3eba9a 76.5px,#3cba9b 77.5px,#49bb94 78.5px,#65be85 79.5px,#6bbe83 80.5px,#4bbc93 81.5px,#3eba9a 82.5px,#48bb95 83.5px,#68be84 84.5px,#72bf80 85.5px,#4bbc93 86.5px,#34b8a0 87.5px,#31b8a2 88.5px,#32b8a1 89.5px,#36b99f 90.5px,#42bb98 91.5px,#4fbc91 92.5px,#3eba9a 93.5px,#2db7a4 94.5px,#2bb6a6 95.5px,#35b8a0 96.5px,#5fbe89 97.5px,#93bf72 98.5px,#7fbf7a 99.5px,#44bb97 100.5px,#2db7a4 101.5px,#2cb7a5 102.5px,#30b7a2 103.5px,#31b8a2 104.5px)"></i><i style="left:188.0px;width:2.05px;background:linear-gradient(#06a2cc 0.5px,#06a2cb 1.5px,#06a1cd 2.5px,#06a0cd 3.5px,#06a0cd 4.5px,#06a0cd 5.5px,#06a3ca 6.5px,#06a4c9 7.5px,#06a1cc 8.5px,#06a0cd 9.5px,#06a2cc 10.5px,#06a2cb 11.5px,#06a1cc 12.5px,#06a2cb 13.5px,#06a3ca 14.5px,#06a2cb 15.5px,#06a1cc 16.5px,#06a3ca 17.5px,#06a3ca 18.5px,#06a0cd 19.5px,#079dcf 20.5px,#069fce 21.5px,#06a2cb 22.5px,#06a4ca 23.5px,#06a4c9 24.5px,#06a3ca 25.5px,#06a3ca 26.5px,#06a3ca 27.5px,#06a4ca 28.5px,#06a5c8 29.5px,#06a5c8 30.5px,#06a4c9 31.5px,#06a4c9 32.5px,#06a4c9 33.5px,#06a5c8 34.5px,#06a7c6 35.5px,#06a5c8 36.5px,#06a5c8 37.5px,#06a6c7 38.5px,#06a6c7 39.5px,#06a5c8 40.5px,#06a5c8 41.5px,#06a5c8 42.5px,#06a6c7 43.5px,#06a8c4 44.5px,#07aac1 45.5px,#08aac0 46.5px,#07aac1 47.5px,#06a8c3 48.5px,#06a8c5 49.5px,#07a9c2 50.5px,#07a9c2 51.5px,#07a9c3 52.5px,#06a8c4 53.5px,#06a7c5 54.5px,#07a9c3 55.5px,#07aac1 56.5px,#08aac1 57.5px,#08aac0 58.5px,#08abc0 59.5px,#09abbf 60.5px,#0badbc 61.5px,#0dadbb 62.5px,#0daebb 63.5px,#11afb8 64.5px,#12afb7 65.5px,#10afb8 66.5px,#10afb9 67.5px,#11afb7 68.5px,#10afb8 69.5px,#11afb8 70.5px,#18b1b2 71.5px,#12afb7 72.5px,#0cadbc 73.5px,#0dadbb 74.5px,#0dadbb 75.5px,#0aacbe 76.5px,#08abc0 77.5px,#0cadbc 78.5px,#15b1b4 79.5px,#17b1b3 80.5px,#0aacbd 81.5px,#08aac1 82.5px,#0badbc 83.5px,#14b0b5 84.5px,#13b0b6 85.5px,#0aacbd 86.5px,#08aac0 87.5px,#08aac0 88.5px,#08aac1 89.5px,#08aac1 90.5px,#09abbf 91.5px,#0bacbd 92.5px,#07aac1 93.5px,#06a8c4 94.5px,#06a7c5 95.5px,#06a8c4 96.5px,#0cadbc 97.5px,#1ab2b1 98.5px,#0faeb9 99.5px,#06a8c4 100.5px,#06a8c4 101.5px,#06a8c5 102.5px,#06a7c5 103.5px,#06a8c4 104.5px)"></i><i style="left:190.0px;width:1.05px;background:linear-gradient(#06a1cd 0.5px,#06a3ca 1.5px,#06a1cc 2.5px,#06a0cd 3.5px,#069fce 4.5px,#069fce 5.5px,#06a4ca 6.5px,#06a6c7 7.5px,#06a2cb 8.5px,#06a0cd 9.5px,#06a0cd 10.5px,#06a0cd 11.5px,#06a1cd 12.5px,#06a1cc 13.5px,#06a2cc 14.5px,#069fce 15.5px,#079ecf 16.5px,#06a1cc 17.5px,#06a1cc 18.5px,#079ecf 19.5px,#089bd0 20.5px,#079ecf 21.5px,#06a1cc 22.5px,#06a2cb 23.5px,#06a5c9 24.5px,#06a5c8 25.5px,#06a5c8 26.5px,#06a5c8 27.5px,#06a5c9 28.5px,#06a6c7 29.5px,#06a6c7 30.5px,#06a3ca 31.5px,#06a1cc 32.5px,#06a1cc 33.5px,#06a4c9 34.5px,#06a8c5 35.5px,#06a8c5 36.5px,#06a8c4 37.5px,#06a8c4 38.5px,#06a5c9 39.5px,#06a4ca 40.5px,#06a4ca 41.5px,#06a4ca 42.5px,#06a4c9 43.5px,#06a7c6 44.5px,#07a9c2 45.5px,#07aac1 46.5px,#08aac1 47.5px,#06a8c3 48.5px,#06a8c4 49.5px,#08abc0 50.5px,#07aac2 51.5px,#06a6c6 52.5px,#06a5c8 53.5px,#06a8c5 54.5px,#07aac2 55.5px,#07a9c2 56.5px,#06a7c5 57.5px,#06a6c7 58.5px,#06a8c4 59.5px,#08aac1 60.5px,#09abbf 61.5px,#0aacbe 62.5px,#0cadbb 63.5px,#10afb8 64.5px,#12afb7 65.5px,#0eaeba 66.5px,#0badbc 67.5px,#0aacbd 68.5px,#08aac1 69.5px,#07a9c3 70.5px,#08abc0 71.5px,#08abc0 72.5px,#07a9c2 73.5px,#07a9c3 74.5px,#07a9c2 75.5px,#06a8c4 76.5px,#06a7c5 77.5px,#07a9c2 78.5px,#08abc0 79.5px,#07aac1 80.5px,#07a9c3 81.5px,#07a9c2 82.5px,#09abbf 83.5px,#09abbf 84.5px,#07a9c3 85.5px,#06a7c6 86.5px,#06a6c7 87.5px,#06a6c7 88.5px,#06a6c7 89.5px,#06a5c8 90.5px,#06a4c9 91.5px,#06a4ca 92.5px,#06a4c9 93.5px,#06a5c8 94.5px,#06a4c9 95.5px,#06a4ca 96.5px,#06a5c8 97.5px,#06a5c8 98.5px,#06a2cc 99.5px,#06a1cc 100.5px,#06a4c9 101.5px,#06a5c8 102.5px,#06a4c9 103.5px,#06a5c8 104.5px)"></i></div>
<div style="position:absolute;left:237.8px;top:164.2px;width:7.0px;height:104.40000000000003px;background:linear-gradient(to top,#352a87 0.00%,#3243b9 6.25%,#0462e0 12.50%,#0c74dd 18.75%,#1484d4 25.00%,#0a97d1 31.25%,#06a6c7 37.50%,#13b0b6 43.75%,#33b8a1 50.00%,#5ebe89 56.25%,#8bbf75 62.50%,#b1bd66 68.75%,#d3bb58 75.00%,#f2b949 81.25%,#fec932 87.50%,#f5de21 93.75%,#f9fb0e 100.00%);box-shadow:0 0 0 0.5px rgba(120,120,120,0.35)"></div>
<div style="position:absolute;left:515.2px;top:164.3px;width:6.7999999999999545px;height:104.09999999999997px;background:linear-gradient(to top,#352a87 0.00%,#3243b9 6.25%,#0462e0 12.50%,#0c74dd 18.75%,#1484d4 25.00%,#0a97d1 31.25%,#06a6c7 37.50%,#13b0b6 43.75%,#33b8a1 50.00%,#5ebe89 56.25%,#8bbf75 62.50%,#b1bd66 68.75%,#d3bb58 75.00%,#f2b949 81.25%,#fec932 87.50%,#f5de21 93.75%,#f9fb0e 100.00%);box-shadow:0 0 0 0.5px rgba(120,120,120,0.35)"></div>
<svg width="550" height="300" viewBox="0 0 550 300" style="position:absolute;left:0;top:0">
<defs><clipPath id="hc"><rect x="321" y="164" width="190.6" height="104"/></clipPath><filter id="bl" x="-5%" y="-5%" width="110%" height="110%"><feGaussianBlur stdDeviation="0.55"/></filter><linearGradient id="gB" x1="0" y1="0" x2="1" y2="0"><stop offset="0" stop-color="#2f5ef2"/><stop offset="0.6" stop-color="#3a4ee0"/><stop offset="1" stop-color="#5a60d8"/></linearGradient><linearGradient id="gD" x1="0" y1="0" x2="0" y2="1"><stop offset="0" stop-color="#3256ee"/><stop offset="0.7" stop-color="#4048d8"/><stop offset="1" stop-color="#7a72e0" stop-opacity="0.6"/></linearGradient></defs>
<g style="font-family:'Liberation Serif','Times New Roman',serif" fill="#111">
<rect x="43.5" y="16" width="210.0" height="104.5" fill="none" stroke="#c9c9c9" stroke-width="1"/>
<path d="M95.5 120.5v-2M95.5 16v2M148 120.5v-2M148 16v2M200.5 120.5v-2M200.5 16v2M43.5 42.2h2M253.5 42.2h-2M43.5 68.3h2M253.5 68.3h-2M43.5 94.5h2M253.5 94.5h-2" stroke="#c9c9c9" stroke-width="0.8"/>
<line x1="43.5" y1="68.5" x2="52" y2="68.5" stroke="#0072bd" stroke-opacity="0.6" stroke-width="0.8"/>
<polygon points="51.50,65.5 51.75,63.5 52.00,63.5 52.25,61.0 52.50,61.5 52.75,60.0 53.00,58.6 53.25,58.8 53.50,57.3 53.75,57.5 54.00,57.2 54.25,57.4 54.50,54.7 54.75,54.9 55.00,54.5 55.25,53.3 55.50,54.2 55.75,53.0 56.00,54.4 56.25,53.2 56.50,52.9 56.75,51.6 57.00,52.9 57.25,53.5 57.50,53.5 57.75,55.8 58.00,55.0 58.25,56.4 58.50,56.6 58.75,56.1 59.00,57.6 59.25,59.9 59.50,60.1 59.75,62.2 60.00,62.9 60.25,64.3 60.50,66.6 60.75,66.7 61.00,64.2 61.25,61.2 61.50,59.4 61.75,54.4 62.00,53.2 62.25,50.0 62.50,51.7 62.75,46.7 63.00,45.8 63.25,49.2 63.50,46.8 63.75,42.5 64.00,47.0 64.25,44.7 64.50,41.1 64.75,42.3 65.00,43.4 65.25,48.1 65.50,44.4 65.75,47.6 66.00,45.2 66.25,46.6 66.50,42.2 66.75,44.5 67.00,42.0 67.25,38.6 67.50,40.3 67.75,29.2 68.00,24.9 68.25,19.9 68.50,23.0 68.75,34.1 69.00,34.9 69.25,38.0 69.50,41.5 69.75,43.8 70.00,44.8 70.25,46.6 70.50,46.8 70.75,49.9 71.00,51.3 71.25,51.5 71.50,55.4 71.75,55.3 72.00,57.0 72.25,57.4 72.50,56.5 72.75,56.1 73.00,54.0 73.25,56.1 73.50,55.4 73.75,56.8 74.00,57.2 74.25,56.7 74.50,57.1 74.75,59.9 75.00,60.4 75.25,62.0 75.50,63.4 75.75,62.8 76.00,61.8 76.25,61.1 76.50,59.8 76.75,59.5 77.00,59.3 77.25,59.1 77.50,57.5 77.75,59.0 78.00,58.8 78.25,59.2 78.50,60.2 78.75,60.3 79.00,60.1 79.25,61.5 79.50,62.3 79.75,62.7 80.00,60.5 80.25,54.4 80.50,50.1 80.75,48.1 81.00,45.9 81.25,43.4 81.50,46.8 81.75,40.9 82.00,41.6 82.25,38.2 82.50,40.7 82.75,42.8 83.00,44.6 83.25,46.6 83.50,42.9 83.75,47.6 84.00,48.0 84.25,52.4 84.50,53.5 84.75,55.6 85.00,59.0 85.25,63.7 85.50,66.5 85.75,66.6 86.00,66.5 86.25,66.3 86.50,65.8 86.75,64.1 87.00,63.1 87.25,61.9 87.50,60.8 87.75,59.3 88.00,58.1 88.25,59.5 88.50,57.5 88.75,57.9 89.00,56.9 89.25,57.6 89.50,56.7 89.75,55.1 90.00,56.5 90.25,57.9 90.50,57.4 90.75,58.5 91.00,57.5 91.25,59.8 91.50,60.6 91.75,62.0 92.00,62.9 92.25,65.1 92.50,66.7 92.75,66.6 93.00,66.8 93.25,66.4 93.50,66.7 93.75,66.4 94.00,66.4 94.25,65.7 94.50,64.6 94.75,64.0 95.00,62.3 95.25,62.3 95.50,61.8 95.75,61.5 96.00,61.2 96.25,60.3 96.50,61.2 96.75,61.2 97.00,61.9 97.25,61.4 97.50,62.8 97.75,63.8 98.00,64.9 98.25,64.4 98.50,58.5 98.75,52.4 99.00,47.2 99.25,46.0 99.50,45.2 99.75,42.0 100.00,42.0 100.25,37.8 100.50,32.7 100.75,37.5 101.00,36.6 101.25,39.0 101.50,42.8 101.75,42.0 102.00,43.2 102.25,44.2 102.50,46.8 102.75,47.4 103.00,53.3 103.25,54.9 103.50,60.6 103.75,65.3 104.00,66.6 104.25,66.5 104.50,66.5 104.75,66.4 105.00,66.7 105.25,66.5 105.50,66.4 105.75,66.4 106.00,66.3 106.25,66.5 106.50,66.6 106.75,66.6 107.00,66.7 107.25,65.6 107.50,63.5 107.75,63.1 108.00,60.9 108.25,59.2 108.50,58.2 108.75,58.2 109.00,56.4 109.25,58.4 109.50,55.3 109.75,56.9 110.00,54.7 110.25,57.4 110.50,55.6 110.75,54.7 111.00,53.0 111.25,54.3 111.50,55.0 111.75,57.4 112.00,55.4 112.25,55.8 112.50,57.4 112.75,56.7 113.00,56.2 113.25,56.8 113.50,56.7 113.75,57.4 114.00,58.6 114.25,59.4 114.50,60.4 114.75,59.3 115.00,56.5 115.25,54.7 115.50,52.2 115.75,52.2 116.00,49.6 116.25,50.4 116.50,46.7 116.75,45.4 117.00,47.0 117.25,42.8 117.50,40.5 117.75,45.4 118.00,41.3 118.25,40.8 118.50,38.2 118.75,39.5 119.00,39.5 119.25,37.2 119.50,37.6 119.75,35.0 120.00,36.2 120.25,39.8 120.50,41.3 120.75,42.2 121.00,40.8 121.25,43.7 121.50,39.9 121.75,41.1 122.00,38.8 122.25,45.4 122.50,42.2 122.75,45.1 123.00,42.1 123.25,44.4 123.50,45.5 123.75,48.1 124.00,47.9 124.25,50.5 124.50,49.1 124.75,53.4 125.00,54.3 125.25,56.1 125.50,57.1 125.75,58.5 126.00,58.7 126.25,61.0 126.50,64.4 126.75,65.6 127.00,65.3 127.25,64.1 127.50,64.5 127.75,63.4 128.00,63.1 128.25,63.8 128.50,62.9 128.75,62.2 129.00,62.9 129.25,63.3 129.50,63.8 129.75,63.9 130.00,63.7 130.25,63.9 130.50,64.5 130.75,65.5 131.00,66.2 131.25,66.6 131.50,66.3 131.75,66.5 132.00,66.6 132.25,66.4 132.50,66.8 132.75,66.7 133.00,66.3 133.25,66.4 133.50,66.6 133.75,64.6 134.00,63.1 134.25,60.0 134.50,60.2 134.75,57.8 135.00,58.0 135.25,56.5 135.50,55.3 135.75,53.9 136.00,52.0 136.25,53.6 136.50,52.8 136.75,51.6 137.00,52.1 137.25,49.9 137.50,51.7 137.75,53.0 138.00,54.6 138.25,53.2 138.50,53.5 138.75,56.4 139.00,55.6 139.25,58.0 139.50,59.9 139.75,61.0 140.00,63.4 140.25,65.9 140.50,66.3 140.75,66.5 141.00,66.5 141.25,66.2 141.50,65.6 141.75,63.8 142.00,62.8 142.25,61.2 142.50,60.6 142.75,60.6 143.00,60.2 143.25,59.8 143.50,58.4 143.75,59.8 144.00,60.4 144.25,59.9 144.50,61.3 144.75,62.6 145.00,62.1 145.25,63.7 145.50,65.3 145.75,66.7 146.00,66.7 146.25,66.5 146.50,66.3 146.75,66.3 147.00,63.2 147.25,58.1 147.50,53.6 147.75,52.2 148.00,47.1 148.25,45.4 148.50,46.9 148.75,42.0 149.00,45.0 149.25,39.1 149.50,29.4 149.75,24.7 150.00,17.7 150.25,23.2 150.50,25.6 150.75,34.7 151.00,37.8 151.25,45.1 151.50,44.3 151.75,44.7 152.00,47.7 152.25,46.6 152.50,48.0 152.75,52.3 153.00,53.6 153.25,56.5 153.50,59.0 153.75,61.6 154.00,65.5 154.25,66.7 154.50,66.5 154.75,66.2 155.00,66.1 155.25,65.9 155.50,65.7 155.75,65.7 156.00,65.4 156.25,65.8 156.50,65.4 156.75,65.0 157.00,65.5 157.25,65.3 157.50,65.3 157.75,64.9 158.00,64.6 158.25,64.9 158.50,65.1 158.75,65.3 159.00,65.3 159.25,65.1 159.50,65.7 159.75,65.7 160.00,65.8 160.25,65.7 160.50,66.0 160.75,65.6 161.00,66.1 161.25,66.3 161.50,66.6 161.75,66.4 162.00,66.5 162.25,66.6 162.50,66.4 162.75,66.4 163.00,66.2 163.25,66.2 163.50,66.5 163.75,66.3 164.00,66.3 164.25,66.1 164.50,66.3 164.75,66.4 165.00,66.3 165.25,66.6 165.50,66.2 165.75,66.6 166.00,64.7 166.25,58.9 166.50,53.7 166.75,51.0 167.00,50.8 167.25,44.1 167.50,41.3 167.75,41.2 168.00,44.1 168.25,42.0 168.50,36.5 168.75,38.5 169.00,33.6 169.25,37.4 169.50,42.1 169.75,38.2 170.00,43.9 170.25,38.1 170.50,41.5 170.75,40.7 171.00,46.8 171.25,47.8 171.50,48.8 171.75,49.5 172.00,51.2 172.25,54.9 172.50,51.9 172.75,52.1 173.00,54.5 173.25,51.2 173.50,50.8 173.75,53.1 174.00,52.8 174.25,55.2 174.50,53.1 174.75,56.8 175.00,56.9 175.25,59.9 175.50,62.6 175.75,62.8 176.00,61.5 176.25,59.7 176.50,58.8 176.75,60.2 177.00,59.8 177.25,58.3 177.50,56.6 177.75,58.3 178.00,58.3 178.25,58.4 178.50,60.2 178.75,59.1 179.00,61.2 179.25,61.4 179.50,63.4 179.75,64.6 180.00,66.2 180.25,66.6 180.50,66.7 180.75,66.6 181.00,66.3 181.25,65.5 181.50,65.2 181.75,65.4 182.00,65.3 182.25,65.3 182.50,64.7 182.75,64.6 183.00,64.0 183.25,64.6 183.50,64.8 183.75,65.1 184.00,65.1 184.25,65.1 184.50,65.3 184.75,65.6 185.00,62.0 185.25,57.3 185.50,53.2 185.75,50.8 186.00,43.9 186.25,43.8 186.50,40.9 186.75,44.3 187.00,42.6 187.25,36.4 187.50,35.8 187.75,33.7 188.00,36.6 188.25,38.9 188.50,41.1 188.75,37.1 189.00,40.3 189.25,41.2 189.50,45.3 189.75,45.0 190.00,51.0 190.25,54.2 190.50,57.6 190.75,62.2 191.00,66.2 191.25,66.6 191.50,66.4 191.75,66.3 192.00,66.7 192.25,66.6 192.50,66.8 192.75,66.8 193.00,66.6 193.25,66.7 193.50,66.6 193.75,66.7 194.00,66.7 194.25,66.6 194.50,66.5 194.75,64.4 195.00,60.1 195.25,57.1 195.50,54.5 195.75,53.6 196.00,53.5 196.25,53.0 196.50,52.2 196.75,55.6 197.00,54.9 197.25,55.6 197.50,57.0 197.75,61.2 198.00,64.8 198.25,66.6 198.50,66.8 198.75,66.8 199.00,66.5 199.25,66.4 199.50,66.6 199.75,66.8 200.00,66.1 200.25,63.8 200.50,61.3 200.75,57.7 201.00,55.6 201.25,55.6 201.50,53.9 201.75,52.1 202.00,52.3 202.25,51.3 202.50,50.3 202.75,47.8 203.00,46.3 203.25,46.8 203.50,45.0 203.75,45.7 204.00,46.1 204.25,43.4 204.50,40.7 204.75,43.6 205.00,44.6 205.25,48.0 205.50,47.5 205.75,49.0 206.00,48.3 206.25,46.0 206.50,48.6 206.75,50.0 207.00,50.1 207.25,51.2 207.50,52.7 207.75,56.2 208.00,58.6 208.25,60.9 208.50,63.8 208.75,65.9 209.00,65.5 209.25,65.5 209.50,65.5 209.75,65.2 210.00,64.6 210.25,65.2 210.50,65.7 210.75,65.4 211.00,65.5 211.25,65.7 211.50,66.4 211.75,66.9 212.00,67.6 212.25,67.6 212.50,66.7 212.75,65.8 213.00,65.4 213.25,64.9 213.50,65.0 213.75,65.1 214.00,65.5 214.25,66.0 214.50,66.0 214.75,67.0 215.00,67.0 215.25,66.4 215.50,66.3 215.75,66.0 216.00,65.5 216.25,65.9 216.50,66.4 216.75,66.5 217.00,67.1 217.25,67.1 217.50,66.4 217.75,66.1 218.00,65.7 218.25,65.2 218.50,65.5 218.75,65.6 219.00,65.8 219.25,66.7 219.50,67.6 219.75,67.7 220.00,67.7 220.25,67.3 220.50,66.9 220.75,66.8 221.00,66.5 221.25,66.8 221.50,66.9 221.75,67.2 222.00,67.7 222.25,67.7 222.50,67.7 222.75,67.7 223.00,67.7 223.25,67.7 223.50,67.7 223.75,67.7 224.00,67.7 224.25,67.7 224.50,67.7 224.75,67.7 225.00,67.7 225.25,67.7 225.50,67.7 225.75,67.7 226.00,67.7 226.25,67.7 226.50,67.7 226.75,67.7 226.75,69.3 226.50,69.3 226.25,69.3 226.00,69.3 225.75,69.3 225.50,69.3 225.25,69.3 225.00,69.3 224.75,69.3 224.50,69.3 224.25,69.3 224.00,69.3 223.75,69.3 223.50,69.3 223.25,69.3 223.00,69.3 222.75,69.3 222.50,69.3 222.25,69.3 222.00,69.3 221.75,69.6 221.50,69.9 221.25,70.2 221.00,70.5 220.75,70.2 220.50,70.1 220.25,69.7 220.00,69.3 219.75,69.3 219.50,69.5 219.25,70.3 219.00,70.9 218.75,70.9 218.50,71.5 218.25,71.8 218.00,71.4 217.75,71.4 217.50,70.7 217.25,70.2 217.00,69.9 216.75,70.7 216.50,70.8 216.25,71.1 216.00,71.5 215.75,71.0 215.50,70.6 215.25,70.5 215.00,69.8 214.75,70.1 214.50,70.9 214.25,71.6 214.00,71.5 213.75,71.9 213.50,72.0 213.25,71.4 213.00,71.2 212.75,70.7 212.50,70.4 212.25,69.3 212.00,69.6 211.75,70.0 211.50,70.5 211.25,71.1 211.00,71.2 210.75,71.5 210.50,71.8 210.25,72.1 210.00,72.7 209.75,72.1 209.50,71.8 209.25,72.1 209.00,71.7 208.75,71.1 208.50,71.8 208.25,73.8 208.00,74.9 207.75,77.1 207.50,78.8 207.25,78.7 207.00,81.7 206.75,82.8 206.50,82.2 206.25,82.0 206.00,84.7 205.75,83.2 205.50,85.6 205.25,83.4 205.00,86.1 204.75,85.7 204.50,87.7 204.25,85.8 204.00,85.5 203.75,86.1 203.50,84.4 203.25,85.3 203.00,83.5 202.75,81.9 202.50,82.7 202.25,83.1 202.00,80.7 201.75,78.8 201.50,78.3 201.25,78.3 201.00,76.1 200.75,76.0 200.50,73.8 200.25,72.0 200.00,70.2 199.75,70.5 199.50,70.3 199.25,70.3 199.00,70.3 198.75,70.2 198.50,70.2 198.25,70.5 198.00,71.1 197.75,74.3 197.50,76.5 197.25,77.0 197.00,79.5 196.75,79.4 196.50,80.6 196.25,80.1 196.00,78.4 195.75,79.5 195.50,78.9 195.25,75.5 195.00,73.9 194.75,72.0 194.50,70.3 194.25,70.1 194.00,70.4 193.75,70.4 193.50,70.2 193.25,70.3 193.00,70.3 192.75,70.6 192.50,70.2 192.25,70.2 192.00,70.3 191.75,70.3 191.50,70.7 191.25,70.3 191.00,70.5 190.75,73.3 190.50,75.8 190.25,78.2 190.00,80.3 189.75,84.2 189.50,84.1 189.25,84.8 189.00,86.0 188.75,89.8 188.50,86.4 188.25,86.2 188.00,90.1 187.75,92.1 187.50,88.0 187.25,89.4 187.00,89.5 186.75,88.8 186.50,87.9 186.25,85.4 186.00,85.2 185.75,83.0 185.50,78.8 185.25,77.1 185.00,73.1 184.75,70.7 184.50,71.2 184.25,71.0 184.00,71.4 183.75,72.1 183.50,71.7 183.25,71.9 183.00,72.5 182.75,71.9 182.50,71.8 182.25,71.6 182.00,71.2 181.75,71.1 181.50,71.1 181.25,71.1 181.00,70.7 180.75,70.7 180.50,70.4 180.25,70.3 180.00,70.6 179.75,71.7 179.50,72.2 179.25,73.2 179.00,73.8 178.75,74.7 178.50,75.4 178.25,74.9 178.00,76.2 177.75,75.8 177.50,77.0 177.25,75.8 177.00,75.6 176.75,75.1 176.50,75.1 176.25,74.4 176.00,73.5 175.75,71.9 175.50,74.5 175.25,77.3 175.00,78.8 174.75,79.0 174.50,82.7 174.25,80.5 174.00,82.1 173.75,83.7 173.50,84.8 173.25,84.5 173.00,81.9 172.75,81.1 172.50,81.1 172.25,81.7 172.00,81.2 171.75,81.5 171.50,84.9 171.25,85.3 171.00,86.1 170.75,88.0 170.50,86.0 170.25,87.7 170.00,88.5 169.75,91.5 169.50,86.8 169.25,91.0 169.00,93.7 168.75,90.1 168.50,86.6 168.25,86.4 168.00,86.1 167.75,89.1 167.50,86.8 167.25,84.9 167.00,83.6 166.75,80.6 166.50,78.1 166.25,75.7 166.00,71.3 165.75,70.4 165.50,70.5 165.25,70.4 165.00,70.6 164.75,70.7 164.50,70.6 164.25,70.9 164.00,70.6 163.75,70.5 163.50,70.7 163.25,70.5 163.00,70.7 162.75,70.6 162.50,70.7 162.25,70.6 162.00,70.4 161.75,70.6 161.50,70.6 161.25,70.8 161.00,70.6 160.75,71.0 160.50,70.9 160.25,71.1 160.00,70.9 159.75,71.5 159.50,71.2 159.25,71.0 159.00,71.5 158.75,71.5 158.50,71.7 158.25,71.7 158.00,72.0 157.75,71.7 157.50,71.7 157.25,71.6 157.00,71.2 156.75,71.5 156.50,71.1 156.25,71.5 156.00,70.9 155.75,70.8 155.50,71.1 155.25,70.6 155.00,70.6 154.75,70.5 154.50,70.3 154.25,70.7 154.00,71.1 153.75,73.7 153.50,75.2 153.25,77.2 153.00,81.7 152.75,81.4 152.50,82.5 152.25,85.5 152.00,84.9 151.75,85.3 151.50,86.7 151.25,85.8 151.00,88.9 150.75,95.6 150.50,96.7 150.25,103.5 150.00,107.8 149.75,102.4 149.50,97.3 149.25,90.9 149.00,88.8 148.75,87.2 148.50,87.5 148.25,83.6 148.00,83.4 147.75,82.7 147.50,78.3 147.25,76.2 147.00,72.6 146.75,70.7 146.50,70.5 146.25,70.3 146.00,70.3 145.75,70.5 145.50,71.7 145.25,72.8 145.00,75.0 144.75,75.2 144.50,76.4 144.25,75.9 144.00,76.5 143.75,77.2 143.50,78.6 143.25,77.2 143.00,76.7 142.75,76.3 142.50,75.8 142.25,75.3 142.00,73.9 141.75,72.6 141.50,71.6 141.25,71.0 141.00,70.7 140.75,71.0 140.50,70.6 140.25,70.5 140.00,70.9 139.75,72.4 139.50,72.7 139.25,74.2 139.00,74.4 138.75,75.6 138.50,75.6 138.25,76.0 138.00,75.7 137.75,76.8 137.50,76.7 137.25,77.5 137.00,76.0 136.75,76.6 136.50,75.2 136.25,75.2 136.00,75.0 135.75,76.2 135.50,75.7 135.25,74.5 135.00,74.8 134.75,73.2 134.50,73.1 134.25,72.3 134.00,71.2 133.75,70.6 133.50,70.5 133.25,70.7 133.00,70.5 132.75,70.6 132.50,70.7 132.25,70.4 132.00,70.6 131.75,70.7 131.50,70.4 131.25,70.7 131.00,70.8 130.75,71.6 130.50,73.2 130.25,74.0 130.00,73.8 129.75,74.6 129.50,75.1 129.25,75.1 129.00,75.0 128.75,75.7 128.50,74.3 128.25,74.7 128.00,73.8 127.75,74.3 127.50,73.8 127.25,73.0 127.00,72.8 126.75,71.7 126.50,72.0 126.25,73.2 126.00,74.0 125.75,75.1 125.50,77.2 125.25,79.4 125.00,78.3 124.75,81.0 124.50,82.3 124.25,82.2 124.00,83.0 123.75,82.6 123.50,82.3 123.25,83.1 123.00,83.3 122.75,86.8 122.50,84.1 122.25,84.3 122.00,86.5 121.75,89.3 121.50,85.4 121.25,86.0 121.00,87.8 120.75,89.8 120.50,87.3 120.25,90.5 120.00,90.7 119.75,91.5 119.50,89.7 119.25,86.3 119.00,89.6 118.75,88.3 118.50,89.5 118.25,86.9 118.00,84.7 117.75,85.0 117.50,87.8 117.25,84.1 117.00,85.3 116.75,83.0 116.50,85.0 116.25,84.1 116.00,81.0 115.75,81.6 115.50,79.9 115.25,78.2 115.00,75.5 114.75,74.4 114.50,74.9 114.25,76.5 114.00,76.4 113.75,78.0 113.50,78.2 113.25,78.0 113.00,79.0 112.75,78.7 112.50,78.9 112.25,79.0 112.00,78.6 111.75,78.7 111.50,78.7 111.25,80.2 111.00,81.3 110.75,79.9 110.50,78.8 110.25,78.9 110.00,78.7 109.75,77.8 109.50,79.0 109.25,76.8 109.00,77.8 108.75,75.9 108.50,75.8 108.25,75.5 108.00,75.1 107.75,73.1 107.50,72.4 107.25,71.4 107.00,70.5 106.75,70.6 106.50,70.6 106.25,70.4 106.00,70.6 105.75,70.6 105.50,70.5 105.25,70.2 105.00,70.6 104.75,70.6 104.50,70.5 104.25,70.6 104.00,70.5 103.75,70.7 103.50,73.9 103.25,76.3 103.00,79.5 102.75,80.0 102.50,81.9 102.25,84.8 102.00,84.9 101.75,85.4 101.50,84.2 101.25,85.3 101.00,87.9 100.75,88.0 100.50,91.0 100.25,87.8 100.00,85.8 99.75,88.2 99.50,85.4 99.25,84.8 99.00,80.1 98.75,78.4 98.50,76.0 98.25,71.0 98.00,72.0 97.75,72.6 97.50,73.2 97.25,72.7 97.00,74.3 96.75,73.9 96.50,74.1 96.25,74.8 96.00,74.1 95.75,74.0 95.50,74.1 95.25,73.4 95.00,73.0 94.75,72.7 94.50,71.6 94.25,70.4 94.00,70.3 93.75,70.5 93.50,70.3 93.25,70.3 93.00,70.4 92.75,70.7 92.50,70.4 92.25,72.7 92.00,73.8 91.75,76.0 91.50,75.8 91.25,78.8 91.00,79.6 90.75,78.3 90.50,79.4 90.25,78.3 90.00,80.3 89.75,81.7 89.50,80.1 89.25,80.7 89.00,78.1 88.75,79.8 88.50,77.8 88.25,79.0 88.00,78.9 87.75,77.2 87.50,76.5 87.25,76.1 87.00,74.7 86.75,73.2 86.50,71.0 86.25,70.4 86.00,70.6 85.75,70.5 85.50,70.6 85.25,71.6 85.00,74.8 84.75,78.4 84.50,80.5 84.25,82.5 84.00,84.5 83.75,86.1 83.50,85.1 83.25,86.6 83.00,86.2 82.75,87.1 82.50,88.4 82.25,90.2 82.00,87.8 81.75,88.2 81.50,87.9 81.25,83.7 81.00,82.2 80.75,80.7 80.50,79.2 80.25,76.6 80.00,74.2 79.75,75.3 79.50,77.3 79.25,78.2 79.00,78.9 78.75,77.9 78.50,79.4 78.25,80.2 78.00,78.3 77.75,80.2 77.50,82.0 77.25,80.1 77.00,80.3 76.75,79.5 76.50,79.0 76.25,78.3 76.00,78.0 75.75,75.0 75.50,74.9 75.25,73.4 75.00,73.8 74.75,73.9 74.50,74.5 74.25,76.0 74.00,76.3 73.75,75.6 73.50,75.4 73.25,76.7 73.00,78.0 72.75,76.7 72.50,76.3 72.25,76.1 72.00,76.4 71.75,76.4 71.50,78.2 71.25,79.9 71.00,81.4 70.75,82.6 70.50,83.7 70.25,83.4 70.00,82.1 69.75,83.0 69.50,83.1 69.25,85.7 69.00,90.9 68.75,95.3 68.50,98.0 68.25,100.0 68.00,96.8 67.75,93.8 67.50,90.8 67.25,86.6 67.00,85.5 66.75,86.0 66.50,84.0 66.25,83.3 66.00,83.2 65.75,82.4 65.50,80.9 65.25,81.8 65.00,82.6 64.75,83.5 64.50,84.2 64.25,80.5 64.00,83.7 63.75,82.4 63.50,81.7 63.25,80.9 63.00,80.7 62.75,81.1 62.50,78.5 62.25,77.5 62.00,76.7 61.75,76.7 61.50,73.7 61.25,72.7 61.00,71.1 60.75,70.4 60.50,70.3 60.25,71.6 60.00,72.8 59.75,74.3 59.50,75.4 59.25,76.6 59.00,77.5 58.75,76.7 58.50,77.0 58.25,77.5 58.00,78.4 57.75,78.7 57.50,77.7 57.25,79.7 57.00,80.1 56.75,81.1 56.50,80.1 56.25,80.3 56.00,78.6 55.75,79.0 55.50,79.7 55.25,79.1 55.00,79.0 54.75,78.8 54.50,76.9 54.25,77.8 54.00,77.8 53.75,77.9 53.50,77.1 53.25,76.2 53.00,76.3 52.75,74.7 52.50,74.2 52.25,73.5 52.00,72.8 51.75,71.6 51.50,71.0" fill="#0072bd" fill-opacity="0.5"/>
<polygon points="51.50,66.5 51.75,64.8 52.00,63.6 52.25,63.0 52.50,63.8 52.75,60.8 53.00,61.4 53.25,60.3 53.50,58.3 53.75,58.7 54.00,59.6 54.25,60.8 54.50,59.7 54.75,56.7 55.00,58.8 55.25,59.0 55.50,58.8 55.75,56.5 56.00,57.3 56.25,59.3 56.50,54.7 56.75,58.7 57.00,58.0 57.25,56.5 57.50,57.4 57.75,60.4 58.00,60.3 58.25,56.9 58.50,60.1 58.75,58.6 59.00,58.8 59.25,61.1 59.50,63.4 59.75,64.1 60.00,65.1 60.25,65.2 60.50,67.2 60.75,67.3 61.00,66.0 61.25,63.8 61.50,61.3 61.75,59.0 62.00,55.1 62.25,54.0 62.50,53.2 62.75,56.7 63.00,55.3 63.25,51.5 63.50,49.8 63.75,52.1 64.00,49.9 64.25,53.1 64.50,46.8 64.75,50.0 65.00,54.1 65.25,48.8 65.50,49.5 65.75,53.4 66.00,48.7 66.25,55.6 66.50,48.9 66.75,50.1 67.00,47.7 67.25,52.3 67.50,48.5 67.75,43.1 68.00,39.9 68.25,34.7 68.50,42.2 68.75,42.5 69.00,39.8 69.25,48.1 69.50,52.6 69.75,51.2 70.00,51.1 70.25,48.8 70.50,51.6 70.75,50.2 71.00,53.8 71.25,56.3 71.50,58.2 71.75,60.2 72.00,60.6 72.25,59.4 72.50,59.2 72.75,61.6 73.00,59.3 73.25,58.0 73.50,59.0 73.75,60.3 74.00,61.4 74.25,61.9 74.50,59.3 74.75,61.3 75.00,60.8 75.25,62.5 75.50,63.9 75.75,63.7 76.00,62.0 76.25,61.2 76.50,62.9 76.75,60.5 77.00,63.0 77.25,61.9 77.50,60.5 77.75,60.3 78.00,63.3 78.25,61.9 78.50,62.1 78.75,62.6 79.00,61.5 79.25,62.5 79.50,62.7 79.75,64.3 80.00,61.1 80.25,57.0 80.50,58.2 80.75,54.9 81.00,50.8 81.25,47.1 81.50,48.2 81.75,51.2 82.00,46.9 82.25,43.4 82.50,49.4 82.75,45.2 83.00,49.3 83.25,51.9 83.50,48.3 83.75,50.0 84.00,55.1 84.25,52.8 84.50,53.8 84.75,57.2 85.00,61.9 85.25,64.6 85.50,66.9 85.75,66.9 86.00,67.2 86.25,67.0 86.50,66.5 86.75,65.5 87.00,65.2 87.25,63.0 87.50,62.6 87.75,62.1 88.00,63.0 88.25,60.5 88.50,60.0 88.75,61.2 89.00,61.0 89.25,61.4 89.50,59.6 89.75,56.9 90.00,61.4 90.25,58.1 90.50,60.2 90.75,61.4 91.00,60.8 91.25,61.6 91.50,61.2 91.75,62.4 92.00,63.6 92.25,65.3 92.50,67.1 92.75,66.9 93.00,67.0 93.25,66.8 93.50,67.1 93.75,67.0 94.00,67.0 94.25,66.5 94.50,66.2 94.75,65.5 95.00,64.4 95.25,64.3 95.50,63.9 95.75,63.7 96.00,64.0 96.25,62.6 96.50,62.0 96.75,63.4 97.00,63.4 97.25,63.4 97.50,64.7 97.75,63.8 98.00,66.0 98.25,64.6 98.50,59.7 98.75,58.5 99.00,53.8 99.25,49.8 99.50,49.1 99.75,46.8 100.00,46.8 100.25,47.5 100.50,45.5 100.75,45.4 101.00,51.3 101.25,42.1 101.50,51.3 101.75,52.9 102.00,52.5 102.25,50.6 102.50,52.8 102.75,52.0 103.00,55.5 103.25,57.6 103.50,61.6 103.75,66.4 104.00,66.8 104.25,67.2 104.50,67.3 104.75,67.2 105.00,67.3 105.25,67.2 105.50,66.8 105.75,67.0 106.00,66.8 106.25,66.7 106.50,67.0 106.75,67.1 107.00,67.3 107.25,66.2 107.50,64.4 107.75,63.3 108.00,62.6 108.25,62.6 108.50,61.9 108.75,61.0 109.00,61.5 109.25,59.9 109.50,61.7 109.75,59.6 110.00,58.8 110.25,58.7 110.50,58.0 110.75,60.1 111.00,57.8 111.25,60.3 111.50,57.1 111.75,57.0 112.00,59.9 112.25,61.1 112.50,58.1 112.75,57.3 113.00,61.0 113.25,58.4 113.50,59.8 113.75,59.8 114.00,59.8 114.25,61.9 114.50,61.7 114.75,61.5 115.00,60.8 115.25,56.9 115.50,57.3 115.75,54.3 116.00,56.8 116.25,51.3 116.50,49.8 116.75,50.2 117.00,47.3 117.25,51.2 117.50,46.0 117.75,49.9 118.00,50.4 118.25,48.9 118.50,43.6 118.75,47.7 119.00,45.8 119.25,50.5 119.50,50.1 119.75,45.8 120.00,47.2 120.25,42.0 120.50,48.7 120.75,48.6 121.00,44.7 121.25,52.7 121.50,50.8 121.75,43.5 122.00,45.0 122.25,46.3 122.50,49.2 122.75,52.3 123.00,50.1 123.25,53.4 123.50,54.3 123.75,51.0 124.00,54.4 124.25,50.1 124.50,55.9 124.75,56.4 125.00,57.6 125.25,55.9 125.50,58.6 125.75,62.3 126.00,60.7 126.25,62.4 126.50,65.6 126.75,66.4 127.00,66.5 127.25,65.1 127.50,64.8 127.75,64.8 128.00,65.2 128.25,64.8 128.50,63.7 128.75,64.8 129.00,63.5 129.25,64.4 129.50,64.7 129.75,64.4 130.00,64.3 130.25,66.1 130.50,65.6 130.75,66.1 131.00,66.9 131.25,67.3 131.50,66.7 131.75,67.3 132.00,67.3 132.25,67.0 132.50,67.3 132.75,67.2 133.00,66.9 133.25,66.7 133.50,67.2 133.75,65.1 134.00,63.6 134.25,63.6 134.50,62.0 134.75,59.8 135.00,59.9 135.25,56.7 135.50,56.7 135.75,59.7 136.00,56.2 136.25,54.7 136.50,54.5 136.75,56.7 137.00,54.6 137.25,57.4 137.50,53.6 137.75,58.4 138.00,54.1 138.25,59.0 138.50,59.8 138.75,60.2 139.00,57.1 139.25,60.4 139.50,60.8 139.75,63.0 140.00,64.9 140.25,66.2 140.50,66.9 140.75,67.1 141.00,66.5 141.25,66.7 141.50,66.5 141.75,65.6 142.00,64.7 142.25,62.2 142.50,63.1 142.75,63.9 143.00,61.5 143.25,61.2 143.50,61.2 143.75,61.7 144.00,62.9 144.25,62.6 144.50,64.0 144.75,64.3 145.00,64.9 145.25,65.2 145.50,65.7 145.75,67.1 146.00,66.9 146.25,67.1 146.50,66.8 146.75,66.9 147.00,64.7 147.25,60.5 147.50,58.4 147.75,54.2 148.00,50.8 148.25,50.0 148.50,51.8 148.75,49.0 149.00,47.7 149.25,51.6 149.50,40.6 149.75,33.5 150.00,23.7 150.25,28.4 150.50,35.2 150.75,45.8 151.00,46.9 151.25,48.1 151.50,51.3 151.75,52.2 152.00,48.2 152.25,53.3 152.50,57.1 152.75,53.4 153.00,58.5 153.25,60.5 153.50,59.6 153.75,63.0 154.00,66.3 154.25,66.9 154.50,66.7 154.75,67.1 155.00,66.7 155.25,66.2 155.50,66.0 155.75,66.8 156.00,66.4 156.25,66.4 156.50,66.5 156.75,66.0 157.00,66.0 157.25,65.7 157.50,65.8 157.75,65.6 158.00,65.7 158.25,65.6 158.50,65.9 158.75,66.4 159.00,65.6 159.25,66.0 159.50,65.7 159.75,65.8 160.00,66.2 160.25,66.7 160.50,66.3 160.75,66.1 161.00,66.6 161.25,67.1 161.50,66.7 161.75,67.2 162.00,67.4 162.25,67.3 162.50,67.1 162.75,67.1 163.00,67.0 163.25,66.6 163.50,66.6 163.75,66.5 164.00,67.0 164.25,66.6 164.50,66.8 164.75,67.1 165.00,66.7 165.25,66.5 165.50,67.3 165.75,67.1 166.00,65.7 166.25,63.3 166.50,56.8 166.75,57.8 167.00,52.0 167.25,47.9 167.50,47.5 167.75,52.2 168.00,45.4 168.25,51.7 168.50,45.9 168.75,42.4 169.00,44.4 169.25,47.6 169.50,50.0 169.75,49.5 170.00,50.3 170.25,46.6 170.50,45.7 170.75,46.4 171.00,48.1 171.25,54.4 171.50,53.9 171.75,56.9 172.00,56.4 172.25,59.7 172.50,56.4 172.75,58.8 173.00,54.0 173.25,55.4 173.50,54.0 173.75,57.4 174.00,58.9 174.25,57.4 174.50,57.8 174.75,59.0 175.00,58.8 175.25,62.2 175.50,63.2 175.75,65.2 176.00,62.3 176.25,62.9 176.50,63.3 176.75,62.4 177.00,62.8 177.25,60.7 177.50,58.7 177.75,60.2 178.00,60.2 178.25,59.6 178.50,60.8 178.75,62.3 179.00,61.9 179.25,63.3 179.50,65.1 179.75,64.6 180.00,66.6 180.25,67.2 180.50,66.9 180.75,67.1 181.00,66.7 181.25,67.0 181.50,65.9 181.75,65.5 182.00,66.5 182.25,65.2 182.50,66.1 182.75,66.0 183.00,65.8 183.25,66.4 183.50,65.5 183.75,66.2 184.00,65.4 184.25,65.7 184.50,66.3 184.75,66.3 185.00,63.4 185.25,61.7 185.50,59.4 185.75,55.0 186.00,50.1 186.25,47.0 186.50,44.6 186.75,45.8 187.00,50.9 187.25,51.8 187.50,45.2 187.75,47.1 188.00,39.8 188.25,47.8 188.50,47.6 188.75,49.2 189.00,43.3 189.25,52.7 189.50,53.9 189.75,50.2 190.00,51.9 190.25,57.1 190.50,61.6 190.75,62.2 191.00,67.1 191.25,66.8 191.50,67.4 191.75,67.3 192.00,66.8 192.25,67.2 192.50,67.3 192.75,67.1 193.00,67.4 193.25,66.8 193.50,67.1 193.75,66.8 194.00,67.3 194.25,67.1 194.50,67.4 194.75,65.5 195.00,61.2 195.25,59.3 195.50,58.4 195.75,55.9 196.00,59.4 196.25,56.9 196.50,56.3 196.75,57.4 197.00,55.4 197.25,61.1 197.50,59.8 197.75,61.8 198.00,65.8 198.25,66.7 198.50,67.2 198.75,67.0 199.00,67.3 199.25,66.8 199.50,67.1 199.75,66.9 200.00,67.0 200.25,64.5 200.50,62.7 200.75,60.1 201.00,57.6 201.25,58.4 201.50,58.4 201.75,53.6 202.00,54.5 202.25,51.9 202.50,52.7 202.75,53.4 203.00,55.2 203.25,51.9 203.50,53.6 203.75,48.8 204.00,55.0 204.25,48.2 204.50,47.1 204.75,50.9 205.00,47.1 205.25,50.7 205.50,51.6 205.75,54.8 206.00,54.3 206.25,49.5 206.50,55.3 206.75,57.5 207.00,57.2 207.25,56.3 207.50,57.8 207.75,61.4 208.00,62.3 208.25,62.3 208.50,64.8 208.75,66.4 209.00,66.8 209.25,66.2 209.50,65.9 209.75,66.4 210.00,66.3 210.25,65.6 210.50,65.8 210.75,66.2 211.00,66.7 211.25,66.6 211.50,66.7 211.75,67.1 212.00,67.7 212.25,67.7 212.50,67.4 212.75,66.3 213.00,66.4 213.25,66.2 213.50,65.5 213.75,65.6 214.00,65.7 214.25,66.3 214.50,66.6 214.75,67.0 215.00,67.5 215.25,66.8 215.50,66.7 215.75,66.8 216.00,66.7 216.25,66.5 216.50,66.8 216.75,67.2 217.00,67.3 217.25,67.5 217.50,66.8 217.75,66.2 218.00,65.9 218.25,65.8 218.50,66.4 218.75,66.2 219.00,66.6 219.25,67.2 219.50,67.7 219.75,67.7 220.00,67.7 220.25,67.7 220.50,67.2 220.75,67.1 221.00,67.2 221.25,67.1 221.50,67.5 221.75,67.7 222.00,67.7 222.25,67.7 222.50,67.7 222.75,67.7 223.00,67.7 223.25,67.7 223.50,67.7 223.75,67.7 224.00,67.7 224.25,67.7 224.50,67.7 224.75,67.7 225.00,67.7 225.25,67.7 225.50,67.7 225.75,67.7 226.00,67.7 226.25,67.7 226.50,67.7 226.75,67.7 226.75,69.3 226.50,69.3 226.25,69.3 226.00,69.3 225.75,69.3 225.50,69.3 225.25,69.3 225.00,69.3 224.75,69.3 224.50,69.3 224.25,69.3 224.00,69.3 223.75,69.3 223.50,69.3 223.25,69.3 223.00,69.3 222.75,69.3 222.50,69.3 222.25,69.3 222.00,69.3 221.75,69.3 221.50,69.4 221.25,69.5 221.00,70.1 220.75,69.9 220.50,69.4 220.25,69.4 220.00,69.3 219.75,69.3 219.50,69.3 219.25,69.9 219.00,70.1 218.75,70.6 218.50,70.8 218.25,71.2 218.00,70.7 217.75,70.7 217.50,70.0 217.25,69.7 217.00,69.4 216.75,70.3 216.50,70.0 216.25,70.0 216.00,70.3 215.75,70.3 215.50,70.1 215.25,69.8 215.00,69.3 214.75,69.9 214.50,69.9 214.25,70.6 214.00,71.0 213.75,71.4 213.50,70.5 213.25,71.3 213.00,71.1 212.75,70.0 212.50,70.1 212.25,69.3 212.00,69.3 211.75,69.6 211.50,69.9 211.25,70.5 211.00,71.2 210.75,71.5 210.50,71.3 210.25,70.8 210.00,71.4 209.75,70.5 209.50,70.5 209.25,71.2 209.00,70.4 208.75,70.9 208.50,71.3 208.25,72.0 208.00,72.9 207.75,74.9 207.50,74.2 207.25,76.1 207.00,76.8 206.75,78.3 206.50,76.6 206.25,78.1 206.00,79.1 205.75,80.3 205.50,81.8 205.25,77.8 205.00,81.9 204.75,82.6 204.50,80.9 204.25,80.4 204.00,78.6 203.75,79.5 203.50,79.3 203.25,81.1 203.00,79.2 202.75,81.6 202.50,80.4 202.25,78.8 202.00,76.7 201.75,76.1 201.50,76.9 201.25,76.2 201.00,74.8 200.75,73.1 200.50,73.4 200.25,71.2 200.00,69.8 199.75,69.7 199.50,69.8 199.25,70.1 199.00,70.2 198.75,69.7 198.50,70.2 198.25,69.7 198.00,71.0 197.75,73.6 197.50,75.5 197.25,75.5 197.00,76.7 196.75,76.5 196.50,79.1 196.25,75.2 196.00,75.5 195.75,78.0 195.50,75.9 195.25,74.7 195.00,73.5 194.75,71.2 194.50,69.9 194.25,69.9 194.00,69.9 193.75,69.6 193.50,69.9 193.25,69.9 193.00,69.7 192.75,70.0 192.50,70.2 192.25,69.8 192.00,70.2 191.75,69.7 191.50,70.2 191.25,69.8 191.00,70.0 190.75,72.2 190.50,75.1 190.25,77.1 190.00,76.9 189.75,77.2 189.50,81.0 189.25,78.7 189.00,79.4 188.75,80.6 188.50,84.1 188.25,80.9 188.00,81.7 187.75,82.8 187.50,86.1 187.25,82.5 187.00,80.2 186.75,84.1 186.50,84.5 186.25,80.8 186.00,81.5 185.75,78.1 185.50,78.1 185.25,73.1 185.00,72.1 184.75,70.5 184.50,70.6 184.25,71.0 184.00,70.3 183.75,71.4 183.50,71.2 183.25,70.4 183.00,71.0 182.75,71.1 182.50,71.0 182.25,71.0 182.00,70.4 181.75,70.4 181.50,70.1 181.25,69.9 181.00,70.1 180.75,69.9 180.50,69.9 180.25,69.9 180.00,70.3 179.75,70.4 179.50,71.7 179.25,71.8 179.00,72.5 178.75,73.6 178.50,73.8 178.25,73.0 178.00,74.9 177.75,72.6 177.50,74.2 177.25,74.1 177.00,73.6 176.75,72.8 176.50,72.5 176.25,72.0 176.00,72.7 175.75,71.8 175.50,72.3 175.25,76.2 175.00,75.8 174.75,77.6 174.50,78.3 174.25,80.7 174.00,77.5 173.75,81.4 173.50,80.6 173.25,78.6 173.00,80.5 172.75,80.7 172.50,78.9 172.25,76.6 172.00,77.7 171.75,77.0 171.50,80.1 171.25,78.9 171.00,78.6 170.75,82.6 170.50,83.4 170.25,86.1 170.00,81.7 169.75,86.1 169.50,80.7 169.25,86.1 169.00,89.2 168.75,85.2 168.50,80.3 168.25,81.0 168.00,82.7 167.75,81.6 167.50,84.0 167.25,83.2 167.00,78.4 166.75,78.2 166.50,75.0 166.25,73.0 166.00,71.4 165.75,69.8 165.50,70.0 165.25,69.9 165.00,69.8 164.75,70.3 164.50,70.5 164.25,69.9 164.00,70.3 163.75,69.8 163.50,70.5 163.25,69.8 163.00,69.9 162.75,70.3 162.50,69.9 162.25,69.7 162.00,69.7 161.75,69.8 161.50,70.3 161.25,70.2 161.00,69.9 160.75,69.9 160.50,70.4 160.25,70.5 160.00,71.0 159.75,70.1 159.50,70.4 159.25,70.7 159.00,71.2 158.75,70.3 158.50,71.1 158.25,71.0 158.00,70.6 157.75,71.2 157.50,70.3 157.25,71.0 157.00,70.8 156.75,70.7 156.50,71.1 156.25,70.4 156.00,70.1 155.75,70.0 155.50,70.0 155.25,70.1 155.00,70.2 154.75,70.1 154.50,69.9 154.25,69.7 154.00,70.5 153.75,72.4 153.50,74.0 153.25,75.8 153.00,76.2 152.75,77.5 152.50,79.1 152.25,80.2 152.00,82.3 151.75,84.6 151.50,83.1 151.25,83.9 151.00,88.1 150.75,86.8 150.50,88.3 150.25,98.6 150.00,96.8 149.75,87.4 149.50,88.6 149.25,83.4 149.00,84.4 148.75,81.8 148.50,79.0 148.25,78.4 148.00,78.4 147.75,80.0 147.50,77.5 147.25,75.2 147.00,71.5 146.75,69.7 146.50,70.0 146.25,70.1 146.00,69.9 145.75,69.7 145.50,70.8 145.25,71.4 145.00,73.0 144.75,73.9 144.50,74.2 144.25,75.7 144.00,75.8 143.75,75.1 143.50,77.3 143.25,74.0 143.00,75.9 142.75,74.2 142.50,74.6 142.25,72.4 142.00,73.2 141.75,72.1 141.50,70.5 141.25,70.0 141.00,70.4 140.75,70.0 140.50,70.0 140.25,69.8 140.00,70.4 139.75,71.0 139.50,71.2 139.25,73.1 139.00,72.4 138.75,74.4 138.50,74.0 138.25,74.4 138.00,73.1 137.75,74.4 137.50,73.0 137.25,75.0 137.00,73.1 136.75,73.9 136.50,74.7 136.25,74.1 136.00,73.9 135.75,72.6 135.50,73.3 135.25,73.8 135.00,73.1 134.75,71.8 134.50,72.5 134.25,71.9 134.00,71.1 133.75,70.3 133.50,69.8 133.25,70.3 133.00,69.6 132.75,69.9 132.50,70.1 132.25,70.0 132.00,69.9 131.75,70.0 131.50,70.1 131.25,69.9 131.00,70.0 130.75,71.5 130.50,72.0 130.25,71.4 130.00,73.2 129.75,73.1 129.50,73.8 129.25,73.1 129.00,72.1 128.75,72.6 128.50,72.5 128.25,73.7 128.00,72.7 127.75,73.2 127.50,72.6 127.25,71.8 127.00,71.8 126.75,70.8 126.50,70.3 126.25,71.3 126.00,72.2 125.75,73.4 125.50,74.2 125.25,77.1 125.00,77.2 124.75,76.7 124.50,76.7 124.25,76.8 124.00,79.2 123.75,79.9 123.50,81.1 123.25,83.3 123.00,81.7 122.75,80.2 122.50,82.4 122.25,82.7 122.00,81.6 121.75,80.2 121.50,82.1 121.25,82.7 121.00,81.1 120.75,81.2 120.50,84.5 120.25,81.4 120.00,87.6 119.75,87.5 119.50,87.3 119.25,86.4 119.00,84.3 118.75,83.8 118.50,79.9 118.25,81.7 118.00,80.0 117.75,79.7 117.50,78.8 117.25,83.6 117.00,77.9 116.75,78.0 116.50,80.2 116.25,78.8 116.00,76.8 115.75,75.4 115.50,75.7 115.25,75.7 115.00,75.3 114.75,73.6 114.50,73.6 114.25,73.4 114.00,73.5 113.75,76.2 113.50,74.7 113.25,76.7 113.00,75.4 112.75,75.3 112.50,76.5 112.25,76.1 112.00,75.0 111.75,77.2 111.50,77.9 111.25,77.8 111.00,79.7 110.75,77.5 110.50,75.7 110.25,74.5 110.00,74.7 109.75,76.7 109.50,75.0 109.25,75.5 109.00,74.7 108.75,76.0 108.50,75.7 108.25,73.3 108.00,73.2 107.75,71.5 107.50,71.7 107.25,70.5 107.00,70.0 106.75,69.8 106.50,70.0 106.25,69.7 106.00,69.9 105.75,70.3 105.50,70.2 105.25,69.8 105.00,69.8 104.75,69.8 104.50,70.2 104.25,70.2 104.00,70.2 103.75,69.9 103.50,72.9 103.25,73.8 103.00,74.8 102.75,79.3 102.50,79.2 102.25,78.2 102.00,80.6 101.75,80.8 101.50,79.3 101.25,82.0 101.00,83.7 100.75,79.7 100.50,84.4 100.25,83.5 100.00,82.4 99.75,79.8 99.50,81.1 99.25,82.2 99.00,78.2 98.75,74.4 98.50,73.1 98.25,70.2 98.00,71.2 97.75,71.9 97.50,72.2 97.25,72.3 97.00,71.4 96.75,71.6 96.50,72.3 96.25,72.9 96.00,71.7 95.75,72.5 95.50,73.2 95.25,71.2 95.00,72.0 94.75,70.8 94.50,71.3 94.25,70.3 94.00,69.7 93.75,70.1 93.50,70.1 93.25,69.6 93.00,70.2 92.75,69.7 92.50,70.2 92.25,71.7 92.00,72.7 91.75,72.8 91.50,75.9 91.25,74.1 91.00,75.1 90.75,75.1 90.50,76.8 90.25,77.3 90.00,78.4 89.75,78.4 89.50,77.9 89.25,77.9 89.00,76.9 88.75,74.9 88.50,77.7 88.25,75.0 88.00,77.1 87.75,74.8 87.50,74.1 87.25,73.6 87.00,72.3 86.75,71.4 86.50,71.1 86.25,69.7 86.00,70.1 85.75,70.2 85.50,70.2 85.25,70.7 85.00,72.3 84.75,74.2 84.50,78.5 84.25,78.9 84.00,78.5 83.75,81.2 83.50,83.4 83.25,82.1 83.00,82.2 82.75,81.1 82.50,81.9 82.25,84.9 82.00,80.1 81.75,82.8 81.50,84.4 81.25,81.4 81.00,78.5 80.75,78.6 80.50,78.1 80.25,75.3 80.00,73.6 79.75,73.3 79.50,75.4 79.25,74.1 79.00,77.2 78.75,75.0 78.50,77.3 78.25,76.0 78.00,77.6 77.75,76.1 77.50,78.1 77.25,76.8 77.00,75.2 76.75,75.9 76.50,76.2 76.25,75.2 76.00,76.2 75.75,74.8 75.50,72.9 75.25,71.5 75.00,73.4 74.75,74.0 74.50,73.0 74.25,73.8 74.00,73.1 73.75,75.1 73.50,75.8 73.25,74.5 73.00,76.2 72.75,73.8 72.50,74.8 72.25,74.9 72.00,74.1 71.75,74.2 71.50,74.5 71.25,76.9 71.00,77.2 70.75,79.4 70.50,77.5 70.25,82.0 70.00,77.7 69.75,78.1 69.50,80.0 69.25,84.7 69.00,85.8 68.75,91.0 68.50,88.8 68.25,91.6 68.00,90.8 67.75,83.9 67.50,82.3 67.25,82.4 67.00,80.5 66.75,80.3 66.50,78.2 66.25,78.5 66.00,76.6 65.75,76.5 65.50,78.4 65.25,77.2 65.00,77.5 64.75,79.8 64.50,79.1 64.25,77.1 64.00,78.5 63.75,76.6 63.50,79.7 63.25,77.2 63.00,77.8 62.75,75.8 62.50,75.0 62.25,75.4 62.00,75.1 61.75,74.0 61.50,72.7 61.25,71.2 61.00,70.3 60.75,69.6 60.50,69.6 60.25,71.0 60.00,72.1 59.75,72.9 59.50,73.7 59.25,73.1 59.00,73.5 58.75,75.8 58.50,75.3 58.25,77.4 58.00,77.8 57.75,77.9 57.50,77.6 57.25,77.2 57.00,76.3 56.75,77.7 56.50,75.0 56.25,78.2 56.00,77.4 55.75,74.6 55.50,76.2 55.25,76.8 55.00,76.4 54.75,76.0 54.50,76.0 54.25,74.8 54.00,75.3 53.75,76.3 53.50,76.0 53.25,73.4 53.00,73.1 52.75,72.9 52.50,73.8 52.25,72.9 52.00,72.3 51.75,70.7 51.50,70.2" fill="#0072bd" fill-opacity="0.5"/>
<polygon points="51.50,67.4 51.75,66.9 52.00,66.4 52.25,65.5 52.50,65.4 52.75,65.7 53.00,63.9 53.25,61.9 53.50,63.7 53.75,62.4 54.00,63.7 54.25,60.5 54.50,62.0 54.75,62.0 55.00,60.5 55.25,62.1 55.50,60.5 55.75,63.7 56.00,61.2 56.25,62.2 56.50,61.3 56.75,59.8 57.00,61.6 57.25,61.8 57.50,63.5 57.75,60.1 58.00,63.9 58.25,64.4 58.50,61.4 58.75,61.5 59.00,62.8 59.25,61.9 59.50,62.9 59.75,65.0 60.00,66.7 60.25,67.0 60.50,67.7 60.75,67.7 61.00,66.8 61.25,64.9 61.50,62.0 61.75,60.4 62.00,63.5 62.25,60.6 62.50,61.4 62.75,58.0 63.00,57.1 63.25,58.6 63.50,55.9 63.75,60.1 64.00,54.9 64.25,57.1 64.50,60.3 64.75,53.3 65.00,56.3 65.25,58.5 65.50,56.1 65.75,59.3 66.00,61.5 66.25,55.3 66.50,54.1 66.75,60.4 67.00,52.7 67.25,54.1 67.50,47.3 67.75,45.5 68.00,45.8 68.25,42.4 68.50,52.7 68.75,50.0 69.00,51.1 69.25,58.0 69.50,56.8 69.75,52.5 70.00,55.8 70.25,58.1 70.50,61.3 70.75,58.9 71.00,56.4 71.25,62.2 71.50,60.2 71.75,61.1 72.00,61.8 72.25,64.2 72.50,64.3 72.75,60.5 73.00,63.0 73.25,61.6 73.50,62.8 73.75,64.0 74.00,64.4 74.25,62.9 74.50,62.0 74.75,63.9 75.00,65.6 75.25,66.2 75.50,64.9 75.75,64.9 76.00,65.3 76.25,64.4 76.50,65.3 76.75,62.7 77.00,63.3 77.25,64.7 77.50,62.0 77.75,62.6 78.00,62.7 78.25,64.4 78.50,64.8 78.75,63.5 79.00,65.0 79.25,63.9 79.50,65.7 79.75,65.7 80.00,65.5 80.25,62.0 80.50,59.2 80.75,57.4 81.00,57.7 81.25,57.3 81.50,54.1 81.75,52.6 82.00,52.0 82.25,51.8 82.50,50.6 82.75,53.4 83.00,56.9 83.25,52.7 83.50,53.7 83.75,61.4 84.00,54.6 84.25,61.2 84.50,61.3 84.75,63.1 85.00,65.3 85.25,65.8 85.50,67.7 85.75,67.2 86.00,67.3 86.25,67.4 86.50,66.7 86.75,66.9 87.00,66.5 87.25,64.6 87.50,66.0 87.75,63.7 88.00,63.5 88.25,64.3 88.50,63.1 88.75,63.3 89.00,62.5 89.25,62.2 89.50,61.9 89.75,63.1 90.00,61.5 90.25,61.5 90.50,61.9 90.75,63.2 91.00,63.2 91.25,64.0 91.50,65.9 91.75,65.6 92.00,66.2 92.25,66.1 92.50,67.4 92.75,67.2 93.00,67.5 93.25,67.2 93.50,67.5 93.75,67.6 94.00,67.2 94.25,66.9 94.50,66.5 94.75,66.1 95.00,65.9 95.25,66.4 95.50,66.2 95.75,64.1 96.00,66.3 96.25,64.5 96.50,65.9 96.75,65.2 97.00,65.4 97.25,65.3 97.50,66.2 97.75,65.8 98.00,66.4 98.25,67.0 98.50,64.1 98.75,62.7 99.00,59.2 99.25,57.7 99.50,52.4 99.75,55.6 100.00,58.3 100.25,54.6 100.50,47.1 100.75,58.1 101.00,57.0 101.25,51.6 101.50,54.7 101.75,59.7 102.00,58.2 102.25,58.1 102.50,59.4 102.75,58.1 103.00,63.3 103.25,60.3 103.50,64.2 103.75,66.9 104.00,67.4 104.25,67.2 104.50,67.3 104.75,67.2 105.00,67.7 105.25,67.2 105.50,67.4 105.75,67.4 106.00,67.2 106.25,67.7 106.50,67.4 106.75,67.4 107.00,67.7 107.25,67.5 107.50,66.3 107.75,64.8 108.00,64.2 108.25,64.1 108.50,64.2 108.75,62.5 109.00,62.5 109.25,63.6 109.50,64.3 109.75,63.8 110.00,63.5 110.25,64.4 110.50,61.7 110.75,64.2 111.00,59.9 111.25,60.0 111.50,60.2 111.75,60.6 112.00,62.8 112.25,62.3 112.50,64.5 112.75,63.0 113.00,64.8 113.25,62.6 113.50,64.6 113.75,63.0 114.00,64.8 114.25,65.2 114.50,63.9 114.75,62.6 115.00,61.9 115.25,61.2 115.50,59.8 115.75,57.7 116.00,55.9 116.25,55.6 116.50,61.5 116.75,60.5 117.00,56.7 117.25,59.7 117.50,57.0 117.75,54.7 118.00,54.8 118.25,60.0 118.50,57.8 118.75,54.1 119.00,57.5 119.25,57.3 119.50,51.7 119.75,55.2 120.00,55.1 120.25,50.0 120.50,53.1 120.75,59.1 121.00,49.8 121.25,56.4 121.50,56.4 121.75,55.1 122.00,54.5 122.25,54.3 122.50,51.5 122.75,52.1 123.00,60.3 123.25,53.7 123.50,58.5 123.75,54.1 124.00,55.0 124.25,59.9 124.50,59.6 124.75,58.6 125.00,59.7 125.25,61.4 125.50,62.2 125.75,62.0 126.00,65.3 126.25,65.4 126.50,65.6 126.75,67.1 127.00,66.8 127.25,66.8 127.50,65.9 127.75,66.9 128.00,65.2 128.25,65.6 128.50,66.7 128.75,64.6 129.00,65.7 129.25,66.0 129.50,66.0 129.75,66.6 130.00,65.7 130.25,67.0 130.50,66.4 130.75,66.8 131.00,67.1 131.25,67.3 131.50,67.5 131.75,67.7 132.00,67.6 132.25,67.6 132.50,67.5 132.75,67.5 133.00,67.5 133.25,67.2 133.50,67.7 133.75,67.1 134.00,65.2 134.25,64.5 134.50,63.1 134.75,64.8 135.00,61.1 135.25,63.9 135.50,59.5 135.75,63.3 136.00,59.7 136.25,60.0 136.50,60.1 136.75,62.2 137.00,58.5 137.25,61.0 137.50,62.6 137.75,60.6 138.00,60.9 138.25,63.6 138.50,60.6 138.75,62.3 139.00,63.3 139.25,62.3 139.50,63.1 139.75,65.9 140.00,65.5 140.25,67.5 140.50,67.7 140.75,67.7 141.00,67.7 141.25,67.6 141.50,67.2 141.75,66.7 142.00,65.1 142.25,64.0 142.50,65.6 142.75,64.2 143.00,64.8 143.25,63.4 143.50,62.9 143.75,63.0 144.00,63.2 144.25,64.2 144.50,63.8 144.75,65.4 145.00,66.4 145.25,67.0 145.50,66.5 145.75,67.3 146.00,67.6 146.25,67.7 146.50,67.7 146.75,67.3 147.00,65.8 147.25,63.7 147.50,63.8 147.75,60.5 148.00,58.5 148.25,59.6 148.50,58.2 148.75,58.2 149.00,51.3 149.25,52.6 149.50,50.7 149.75,42.8 150.00,51.0 150.25,50.0 150.50,52.3 150.75,55.0 151.00,54.3 151.25,56.4 151.50,57.7 151.75,56.1 152.00,59.2 152.25,61.2 152.50,56.0 152.75,56.7 153.00,63.5 153.25,64.4 153.50,65.1 153.75,65.0 154.00,67.4 154.25,67.6 154.50,67.7 154.75,67.3 155.00,67.5 155.25,67.1 155.50,67.3 155.75,66.6 156.00,66.7 156.25,66.6 156.50,66.6 156.75,67.2 157.00,66.9 157.25,67.3 157.50,66.4 157.75,66.6 158.00,66.4 158.25,66.9 158.50,66.9 158.75,66.4 159.00,67.1 159.25,66.9 159.50,66.5 159.75,67.4 160.00,66.5 160.25,67.3 160.50,67.1 160.75,66.8 161.00,67.2 161.25,67.6 161.50,67.7 161.75,67.7 162.00,67.3 162.25,67.6 162.50,67.4 162.75,67.7 163.00,67.4 163.25,67.5 163.50,67.5 163.75,67.4 164.00,67.7 164.25,67.1 164.50,67.6 164.75,67.2 165.00,67.7 165.25,67.4 165.50,67.1 165.75,67.3 166.00,65.7 166.25,65.1 166.50,63.1 166.75,62.0 167.00,62.0 167.25,59.8 167.50,52.1 167.75,53.5 168.00,54.4 168.25,54.6 168.50,56.2 168.75,56.4 169.00,49.5 169.25,55.7 169.50,50.4 169.75,57.2 170.00,56.4 170.25,52.1 170.50,58.5 170.75,51.9 171.00,57.2 171.25,54.1 171.50,56.0 171.75,61.3 172.00,62.6 172.25,60.6 172.50,62.7 172.75,60.6 173.00,58.8 173.25,62.2 173.50,63.1 173.75,61.0 174.00,61.4 174.25,62.8 174.50,59.2 174.75,63.9 175.00,64.2 175.25,62.8 175.50,65.8 175.75,65.0 176.00,64.7 176.25,63.6 176.50,62.7 176.75,62.8 177.00,65.1 177.25,64.5 177.50,63.1 177.75,65.4 178.00,65.1 178.25,63.5 178.50,62.7 178.75,64.6 179.00,64.8 179.25,66.3 179.50,65.3 179.75,66.5 180.00,67.6 180.25,67.7 180.50,67.4 180.75,67.4 181.00,67.5 181.25,67.7 181.50,67.2 181.75,67.1 182.00,66.8 182.25,67.1 182.50,66.7 182.75,66.6 183.00,66.3 183.25,66.0 183.50,66.9 183.75,66.5 184.00,66.8 184.25,67.3 184.50,67.3 184.75,66.8 185.00,66.2 185.25,63.8 185.50,58.1 185.75,60.0 186.00,61.0 186.25,57.0 186.50,50.9 186.75,57.3 187.00,51.8 187.25,49.5 187.50,48.8 187.75,46.6 188.00,52.3 188.25,56.5 188.50,57.4 188.75,59.3 189.00,55.3 189.25,53.7 189.50,59.5 189.75,59.1 190.00,60.4 190.25,58.9 190.50,60.7 190.75,64.4 191.00,67.1 191.25,67.2 191.50,67.5 191.75,67.6 192.00,67.5 192.25,67.4 192.50,67.4 192.75,67.7 193.00,67.4 193.25,67.6 193.50,67.3 193.75,67.3 194.00,67.7 194.25,67.4 194.50,67.4 194.75,65.9 195.00,64.0 195.25,63.9 195.50,63.8 195.75,59.8 196.00,60.7 196.25,63.6 196.50,62.4 196.75,60.3 197.00,63.7 197.25,63.8 197.50,64.4 197.75,65.2 198.00,66.1 198.25,67.4 198.50,67.7 198.75,67.5 199.00,67.4 199.25,67.6 199.50,67.3 199.75,67.3 200.00,67.7 200.25,66.0 200.50,66.0 200.75,62.2 201.00,61.6 201.25,61.1 201.50,61.8 201.75,62.7 202.00,60.4 202.25,60.2 202.50,56.4 202.75,56.1 203.00,61.3 203.25,56.6 203.50,55.1 203.75,60.4 204.00,59.6 204.25,54.0 204.50,52.6 204.75,57.8 205.00,56.8 205.25,54.9 205.50,57.3 205.75,59.1 206.00,60.9 206.25,61.5 206.50,57.6 206.75,58.7 207.00,61.5 207.25,62.2 207.50,61.6 207.75,62.2 208.00,64.1 208.25,64.0 208.50,66.9 208.75,67.7 209.00,67.1 209.25,67.1 209.50,66.6 209.75,67.2 210.00,66.0 210.25,66.8 210.50,66.9 210.75,67.0 211.00,67.0 211.25,67.1 211.50,67.5 211.75,67.7 212.00,67.7 212.25,67.7 212.50,67.6 212.75,67.0 213.00,66.5 213.25,67.0 213.50,67.2 213.75,67.0 214.00,67.5 214.25,67.1 214.50,67.2 214.75,67.7 215.00,67.7 215.25,67.7 215.50,67.2 215.75,67.0 216.00,67.3 216.25,67.7 216.50,67.2 216.75,67.4 217.00,67.5 217.25,67.7 217.50,67.5 217.75,67.0 218.00,66.7 218.25,66.9 218.50,67.4 218.75,67.2 219.00,67.7 219.25,67.7 219.50,67.7 219.75,67.7 220.00,67.7 220.25,67.7 220.50,67.7 220.75,67.5 221.00,67.4 221.25,67.7 221.50,67.6 221.75,67.7 222.00,67.7 222.25,67.7 222.50,67.7 222.75,67.7 223.00,67.7 223.25,67.7 223.50,67.7 223.75,67.7 224.00,67.7 224.25,67.7 224.50,67.7 224.75,67.7 225.00,67.7 225.25,67.7 225.50,67.7 225.75,67.7 226.00,67.7 226.25,67.7 226.50,67.7 226.75,67.7 226.75,69.3 226.50,69.3 226.25,69.3 226.00,69.3 225.75,69.3 225.50,69.3 225.25,69.3 225.00,69.3 224.75,69.3 224.50,69.3 224.25,69.3 224.00,69.3 223.75,69.3 223.50,69.3 223.25,69.3 223.00,69.3 222.75,69.3 222.50,69.3 222.25,69.3 222.00,69.3 221.75,69.3 221.50,69.3 221.25,69.3 221.00,69.5 220.75,69.4 220.50,69.3 220.25,69.3 220.00,69.3 219.75,69.3 219.50,69.3 219.25,69.3 219.00,69.6 218.75,69.4 218.50,70.4 218.25,69.8 218.00,69.9 217.75,69.9 217.50,69.7 217.25,69.3 217.00,69.5 216.75,69.6 216.50,69.5 216.25,69.5 216.00,70.1 215.75,70.1 215.50,69.9 215.25,69.5 215.00,69.3 214.75,69.3 214.50,69.3 214.25,70.3 214.00,70.5 213.75,69.7 213.50,70.5 213.25,69.5 213.00,70.2 212.75,70.0 212.50,69.3 212.25,69.3 212.00,69.3 211.75,69.5 211.50,69.8 211.25,70.3 211.00,70.5 210.75,70.7 210.50,69.9 210.25,69.9 210.00,70.8 209.75,69.9 209.50,69.6 209.25,69.9 209.00,70.0 208.75,69.6 208.50,70.2 208.25,70.4 208.00,72.5 207.75,73.5 207.50,73.8 207.25,74.4 207.00,75.3 206.75,76.6 206.50,75.0 206.25,77.9 206.00,77.1 205.75,74.1 205.50,76.4 205.25,75.3 205.00,77.1 204.75,74.6 204.50,74.8 204.25,75.0 204.00,73.4 203.75,75.2 203.50,74.5 203.25,77.6 203.00,76.9 202.75,77.2 202.50,76.8 202.25,76.2 202.00,73.7 201.75,75.8 201.50,75.2 201.25,72.5 201.00,73.8 200.75,71.2 200.50,71.4 200.25,70.6 200.00,69.3 199.75,69.4 199.50,69.3 199.25,69.3 199.00,69.3 198.75,69.3 198.50,69.3 198.25,69.5 198.00,69.8 197.75,70.5 197.50,71.7 197.25,74.2 197.00,74.4 196.75,73.0 196.50,72.3 196.25,72.6 196.00,72.9 195.75,74.5 195.50,72.3 195.25,73.1 195.00,70.7 194.75,69.6 194.50,69.6 194.25,69.6 194.00,69.3 193.75,69.3 193.50,69.3 193.25,69.3 193.00,69.5 192.75,69.5 192.50,69.3 192.25,69.3 192.00,69.3 191.75,69.3 191.50,69.3 191.25,69.8 191.00,69.5 190.75,71.6 190.50,71.8 190.25,73.1 190.00,75.1 189.75,75.7 189.50,78.0 189.25,78.3 189.00,77.1 188.75,74.8 188.50,77.3 188.25,79.9 188.00,77.3 187.75,75.7 187.50,77.4 187.25,80.7 187.00,77.2 186.75,75.0 186.50,75.7 186.25,78.3 186.00,75.6 185.75,75.9 185.50,74.9 185.25,72.6 185.00,70.0 184.75,69.4 184.50,69.6 184.25,69.6 184.00,70.5 183.75,70.2 183.50,70.2 183.25,70.0 183.00,70.7 182.75,70.1 182.50,70.3 182.25,69.7 182.00,70.5 181.75,69.5 181.50,69.4 181.25,70.0 181.00,69.5 180.75,69.7 180.50,69.5 180.25,69.8 180.00,69.5 179.75,69.9 179.50,71.2 179.25,71.7 179.00,71.6 178.75,71.8 178.50,72.1 178.25,72.4 178.00,71.1 177.75,71.6 177.50,73.3 177.25,70.9 177.00,71.0 176.75,71.0 176.50,71.2 176.25,70.8 176.00,71.4 175.75,69.7 175.50,72.1 175.25,73.6 175.00,71.8 174.75,72.5 174.50,74.5 174.25,73.3 174.00,76.5 173.75,76.5 173.50,77.1 173.25,76.3 173.00,76.4 172.75,76.0 172.50,76.6 172.25,74.0 172.00,74.2 171.75,75.9 171.50,77.1 171.25,74.1 171.00,79.4 170.75,79.5 170.50,76.0 170.25,78.2 170.00,78.5 169.75,81.1 169.50,79.5 169.25,82.9 169.00,82.6 168.75,76.9 168.50,76.6 168.25,79.4 168.00,76.8 167.75,75.2 167.50,78.3 167.25,77.5 167.00,77.8 166.75,75.2 166.50,71.8 166.25,71.9 166.00,70.4 165.75,69.7 165.50,69.6 165.25,69.6 165.00,69.9 164.75,70.0 164.50,69.8 164.25,69.9 164.00,69.4 163.75,69.7 163.50,69.6 163.25,69.6 163.00,69.7 162.75,69.8 162.50,69.8 162.25,69.3 162.00,69.3 161.75,69.8 161.50,69.4 161.25,69.8 161.00,69.8 160.75,69.8 160.50,69.8 160.25,70.1 160.00,69.6 159.75,69.4 159.50,70.3 159.25,69.7 159.00,69.4 158.75,69.5 158.50,70.4 158.25,69.7 158.00,70.4 157.75,69.9 157.50,69.7 157.25,70.0 157.00,69.8 156.75,69.9 156.50,69.5 156.25,69.3 156.00,70.2 155.75,69.6 155.50,70.0 155.25,69.3 155.00,69.7 154.75,69.6 154.50,69.8 154.25,69.4 154.00,69.9 153.75,71.0 153.50,72.7 153.25,75.1 153.00,73.1 152.75,73.5 152.50,77.1 152.25,74.6 152.00,78.5 151.75,75.6 151.50,75.4 151.25,81.6 151.00,80.0 150.75,77.4 150.50,80.4 150.25,88.4 150.00,86.2 149.75,87.8 149.50,83.5 149.25,80.2 149.00,77.1 148.75,80.6 148.50,80.0 148.25,74.5 148.00,76.9 147.75,77.0 147.50,73.4 147.25,71.4 147.00,70.6 146.75,69.8 146.50,69.5 146.25,69.3 146.00,69.5 145.75,69.7 145.50,70.2 145.25,70.5 145.00,71.9 144.75,71.5 144.50,73.1 144.25,72.8 144.00,73.3 143.75,71.7 143.50,72.5 143.25,72.7 143.00,72.0 142.75,73.3 142.50,73.1 142.25,72.9 142.00,71.0 141.75,71.1 141.50,70.0 141.25,69.8 141.00,69.9 140.75,70.0 140.50,69.6 140.25,69.6 140.00,70.0 139.75,70.3 139.50,71.3 139.25,70.3 139.00,70.5 138.75,72.3 138.50,70.9 138.25,73.3 138.00,71.3 137.75,71.7 137.50,72.9 137.25,73.0 137.00,73.6 136.75,71.9 136.50,72.1 136.25,72.9 136.00,72.9 135.75,71.9 135.50,70.6 135.25,71.2 135.00,72.0 134.75,71.2 134.50,70.3 134.25,69.8 134.00,70.1 133.75,69.3 133.50,69.5 133.25,69.9 133.00,69.3 132.75,69.5 132.50,69.4 132.25,69.8 132.00,69.4 131.75,69.3 131.50,69.4 131.25,69.8 131.00,69.3 130.75,70.8 130.50,70.6 130.25,70.6 130.00,70.5 129.75,70.7 129.50,70.7 129.25,71.1 129.00,72.3 128.75,73.1 128.50,70.8 128.25,70.5 128.00,70.6 127.75,71.7 127.50,71.9 127.25,70.6 127.00,69.9 126.75,70.2 126.50,69.9 126.25,70.1 126.00,71.5 125.75,72.9 125.50,71.5 125.25,74.2 125.00,73.4 124.75,76.1 124.50,73.6 124.25,75.7 124.00,77.1 123.75,74.6 123.50,78.0 123.25,77.2 123.00,75.2 122.75,78.0 122.50,78.1 122.25,74.9 122.00,74.5 121.75,78.7 121.50,77.6 121.25,74.5 121.00,80.7 120.75,79.8 120.50,76.4 120.25,75.4 120.00,79.4 119.75,79.1 119.50,77.7 119.25,80.4 119.00,77.0 118.75,80.0 118.50,79.6 118.25,79.7 118.00,74.8 117.75,75.5 117.50,79.3 117.25,76.5 117.00,75.1 116.75,77.9 116.50,77.7 116.25,75.8 116.00,75.8 115.75,74.6 115.50,75.1 115.25,71.6 115.00,71.2 114.75,72.0 114.50,72.3 114.25,72.1 114.00,71.7 113.75,71.7 113.50,74.1 113.25,72.5 113.00,73.3 112.75,72.8 112.50,73.7 112.25,72.6 112.00,72.5 111.75,75.5 111.50,75.6 111.25,72.6 111.00,73.5 110.75,73.7 110.50,71.8 110.25,72.3 110.00,74.8 109.75,72.2 109.50,75.0 109.25,72.9 109.00,73.9 108.75,72.7 108.50,73.5 108.25,72.1 108.00,70.9 107.75,71.8 107.50,70.3 107.25,69.5 107.00,69.3 106.75,69.4 106.50,69.3 106.25,69.3 106.00,69.6 105.75,69.6 105.50,69.3 105.25,69.3 105.00,69.5 104.75,69.5 104.50,69.8 104.25,69.7 104.00,69.6 103.75,69.8 103.50,70.6 103.25,72.7 103.00,72.1 102.75,74.8 102.50,77.7 102.25,76.2 102.00,75.5 101.75,75.2 101.50,74.6 101.25,74.4 101.00,80.0 100.75,75.2 100.50,79.5 100.25,79.0 100.00,75.5 99.75,78.5 99.50,76.2 99.25,77.9 99.00,73.7 98.75,73.1 98.50,72.5 98.25,69.8 98.00,70.0 97.75,70.4 97.50,71.4 97.25,70.2 97.00,70.7 96.75,71.4 96.50,70.2 96.25,71.6 96.00,72.0 95.75,71.6 95.50,71.3 95.25,70.9 95.00,70.9 94.75,70.9 94.50,70.4 94.25,69.3 94.00,69.4 93.75,69.5 93.50,69.3 93.25,69.5 93.00,69.5 92.75,69.6 92.50,69.3 92.25,70.6 92.00,70.8 91.75,73.0 91.50,72.0 91.25,71.8 91.00,73.1 90.75,71.8 90.50,72.2 90.25,75.1 90.00,73.6 89.75,73.8 89.50,74.5 89.25,74.9 89.00,75.1 88.75,74.5 88.50,73.5 88.25,74.2 88.00,72.2 87.75,73.9 87.50,72.8 87.25,70.9 87.00,71.5 86.75,70.7 86.50,69.4 86.25,69.3 86.00,69.5 85.75,69.7 85.50,69.8 85.25,70.6 85.00,71.0 84.75,72.8 84.50,74.7 84.25,75.8 84.00,74.2 83.75,73.8 83.50,74.3 83.25,78.9 83.00,76.8 82.75,78.5 82.50,75.1 82.25,80.5 82.00,77.1 81.75,78.3 81.50,75.9 81.25,77.6 81.00,75.0 80.75,76.9 80.50,72.8 80.25,73.8 80.00,71.8 79.75,71.9 79.50,72.6 79.25,73.0 79.00,74.3 78.75,73.2 78.50,72.7 78.25,75.8 78.00,73.0 77.75,72.8 77.50,76.0 77.25,74.4 77.00,73.8 76.75,72.6 76.50,73.9 76.25,72.6 76.00,73.7 75.75,71.4 75.50,71.0 75.25,71.3 75.00,71.8 74.75,72.5 74.50,72.5 74.25,73.1 74.00,71.2 73.75,72.0 73.50,72.3 73.25,73.4 73.00,72.9 72.75,73.1 72.50,72.5 72.25,73.6 72.00,72.4 71.75,71.9 71.50,74.8 71.25,72.1 71.00,73.6 70.75,73.7 70.50,74.2 70.25,74.6 70.00,75.3 69.75,76.2 69.50,73.9 69.25,77.5 69.00,81.1 68.75,79.9 68.50,85.7 68.25,88.4 68.00,83.4 67.75,79.6 67.50,76.2 67.25,78.6 67.00,79.4 66.75,78.3 66.50,75.0 66.25,73.1 66.00,77.4 65.75,76.5 65.50,73.7 65.25,74.7 65.00,74.1 64.75,73.4 64.50,75.4 64.25,73.0 64.00,72.8 63.75,73.4 63.50,75.6 63.25,75.3 63.00,75.0 62.75,75.8 62.50,75.0 62.25,72.7 62.00,72.5 61.75,72.5 61.50,72.3 61.25,70.0 61.00,70.1 60.75,69.4 60.50,69.4 60.25,70.3 60.00,71.3 59.75,70.3 59.50,71.3 59.25,73.4 59.00,73.0 58.75,74.0 58.50,72.6 58.25,71.5 58.00,73.6 57.75,74.8 57.50,73.0 57.25,73.7 57.00,75.4 56.75,74.6 56.50,73.2 56.25,75.4 56.00,73.6 55.75,72.3 55.50,74.1 55.25,72.5 55.00,74.4 54.75,74.8 54.50,74.7 54.25,73.0 54.00,71.7 53.75,73.3 53.50,73.8 53.25,73.2 53.00,72.5 52.75,72.3 52.50,70.5 52.25,70.2 52.00,70.3 51.75,70.0 51.50,69.4" fill="#0072bd" fill-opacity="0.5"/>
<polygon points="51.50,67.7 51.75,67.2 52.00,67.1 52.25,65.9 52.50,65.4 52.75,65.1 53.00,66.1 53.25,66.7 53.50,64.9 53.75,66.9 54.00,64.0 54.25,64.3 54.50,63.5 54.75,65.0 55.00,63.2 55.25,64.1 55.50,65.2 55.75,62.6 56.00,63.0 56.25,66.1 56.50,63.3 56.75,62.7 57.00,65.4 57.25,66.2 57.50,63.7 57.75,65.5 58.00,65.2 58.25,66.3 58.50,65.9 58.75,66.2 59.00,66.0 59.25,66.6 59.50,64.8 59.75,65.5 60.00,66.6 60.25,67.2 60.50,67.7 60.75,67.7 61.00,67.0 61.25,66.5 61.50,65.4 61.75,64.0 62.00,64.9 62.25,61.9 62.50,61.4 62.75,62.6 63.00,64.8 63.25,63.9 63.50,61.4 63.75,60.5 64.00,59.9 64.25,64.7 64.50,64.9 64.75,59.0 65.00,60.3 65.25,60.4 65.50,61.7 65.75,63.2 66.00,60.8 66.25,61.6 66.50,65.4 66.75,62.9 67.00,64.4 67.25,61.1 67.50,55.1 67.75,63.0 68.00,53.6 68.25,54.0 68.50,50.4 68.75,53.3 69.00,62.5 69.25,64.2 69.50,65.3 69.75,60.1 70.00,63.1 70.25,61.1 70.50,63.8 70.75,64.3 71.00,61.4 71.25,61.3 71.50,66.6 71.75,65.2 72.00,65.2 72.25,66.5 72.50,65.0 72.75,63.4 73.00,65.3 73.25,66.6 73.50,65.6 73.75,63.9 74.00,64.7 74.25,65.0 74.50,66.6 74.75,65.0 75.00,64.9 75.25,67.5 75.50,66.3 75.75,66.7 76.00,67.2 76.25,66.4 76.50,65.5 76.75,67.0 77.00,66.3 77.25,67.0 77.50,64.6 77.75,66.4 78.00,66.2 78.25,66.7 78.50,64.9 78.75,67.1 79.00,65.7 79.25,66.9 79.50,67.6 79.75,66.2 80.00,67.4 80.25,66.5 80.50,62.7 80.75,65.4 81.00,63.7 81.25,63.2 81.50,63.4 81.75,63.4 82.00,59.8 82.25,62.2 82.50,60.1 82.75,65.0 83.00,57.8 83.25,58.6 83.50,59.8 83.75,65.6 84.00,60.1 84.25,66.0 84.50,65.6 84.75,66.0 85.00,67.2 85.25,66.5 85.50,67.7 85.75,67.7 86.00,67.7 86.25,67.7 86.50,67.7 86.75,67.0 87.00,67.3 87.25,65.9 87.50,65.8 87.75,65.8 88.00,65.1 88.25,66.2 88.50,66.3 88.75,64.0 89.00,64.4 89.25,64.2 89.50,65.6 89.75,66.6 90.00,64.9 90.25,65.9 90.50,63.9 90.75,64.5 91.00,66.9 91.25,66.4 91.50,66.9 91.75,66.4 92.00,66.2 92.25,67.6 92.50,67.7 92.75,67.7 93.00,67.7 93.25,67.7 93.50,67.7 93.75,67.7 94.00,67.7 94.25,67.5 94.50,67.7 94.75,67.1 95.00,67.6 95.25,67.6 95.50,66.5 95.75,67.3 96.00,65.5 96.25,67.0 96.50,65.6 96.75,66.6 97.00,66.0 97.25,67.1 97.50,66.4 97.75,66.3 98.00,67.1 98.25,67.3 98.50,66.6 98.75,64.3 99.00,60.9 99.25,61.1 99.50,57.7 99.75,59.1 100.00,57.3 100.25,57.6 100.50,61.1 100.75,58.6 101.00,56.5 101.25,62.5 101.50,64.4 101.75,58.2 102.00,60.4 102.25,61.9 102.50,60.6 102.75,64.0 103.00,63.0 103.25,63.2 103.50,67.4 103.75,67.2 104.00,67.7 104.25,67.7 104.50,67.7 104.75,67.7 105.00,67.7 105.25,67.7 105.50,67.7 105.75,67.7 106.00,67.7 106.25,67.7 106.50,67.7 106.75,67.7 107.00,67.7 107.25,67.7 107.50,67.7 107.75,67.7 108.00,66.9 108.25,66.1 108.50,64.6 108.75,67.1 109.00,66.9 109.25,63.8 109.50,65.4 109.75,64.4 110.00,66.1 110.25,64.7 110.50,66.9 110.75,64.8 111.00,66.6 111.25,64.5 111.50,63.3 111.75,64.5 112.00,65.1 112.25,66.5 112.50,65.6 112.75,66.8 113.00,66.8 113.25,64.0 113.50,64.0 113.75,64.8 114.00,65.8 114.25,64.7 114.50,65.9 114.75,65.1 115.00,65.5 115.25,66.5 115.50,64.6 115.75,65.8 116.00,63.8 116.25,60.3 116.50,60.7 116.75,64.6 117.00,61.7 117.25,64.0 117.50,62.6 117.75,60.1 118.00,59.2 118.25,56.8 118.50,61.1 118.75,61.1 119.00,63.6 119.25,59.3 119.50,57.2 119.75,62.0 120.00,63.9 120.25,56.4 120.50,58.1 120.75,56.9 121.00,62.7 121.25,64.5 121.50,62.0 121.75,60.0 122.00,62.0 122.25,65.0 122.50,59.7 122.75,58.4 123.00,63.7 123.25,60.7 123.50,64.0 123.75,64.8 124.00,62.4 124.25,62.5 124.50,63.7 124.75,61.7 125.00,66.4 125.25,63.2 125.50,64.9 125.75,66.0 126.00,65.4 126.25,66.4 126.50,66.6 126.75,67.7 127.00,67.6 127.25,66.8 127.50,66.9 127.75,67.7 128.00,67.7 128.25,66.4 128.50,66.5 128.75,67.3 129.00,67.3 129.25,67.3 129.50,66.3 129.75,67.3 130.00,67.0 130.25,67.7 130.50,67.1 130.75,67.5 131.00,67.6 131.25,67.7 131.50,67.7 131.75,67.7 132.00,67.7 132.25,67.7 132.50,67.7 132.75,67.7 133.00,67.7 133.25,67.7 133.50,67.7 133.75,67.7 134.00,65.9 134.25,66.6 134.50,64.7 134.75,65.8 135.00,63.6 135.25,64.4 135.50,64.2 135.75,63.4 136.00,64.4 136.25,64.9 136.50,64.0 136.75,64.5 137.00,65.9 137.25,65.3 137.50,63.9 137.75,64.9 138.00,61.9 138.25,62.3 138.50,65.5 138.75,65.5 139.00,64.8 139.25,65.2 139.50,66.9 139.75,66.9 140.00,67.1 140.25,67.5 140.50,67.7 140.75,67.7 141.00,67.7 141.25,67.7 141.50,67.3 141.75,66.7 142.00,66.6 142.25,66.0 142.50,67.2 142.75,65.9 143.00,65.0 143.25,65.8 143.50,66.6 143.75,66.7 144.00,65.9 144.25,65.8 144.50,66.4 144.75,67.6 145.00,67.5 145.25,67.4 145.50,67.3 145.75,67.7 146.00,67.7 146.25,67.7 146.50,67.7 146.75,67.7 147.00,66.4 147.25,65.8 147.50,64.8 147.75,64.7 148.00,65.4 148.25,59.2 148.50,63.6 148.75,60.8 149.00,58.9 149.25,60.7 149.50,60.6 149.75,57.8 150.00,52.2 150.25,61.4 150.50,57.9 150.75,62.9 151.00,61.5 151.25,62.5 151.50,61.2 151.75,60.7 152.00,64.6 152.25,59.6 152.50,61.4 152.75,64.1 153.00,63.4 153.25,65.3 153.50,64.8 153.75,66.4 154.00,67.4 154.25,67.7 154.50,67.7 154.75,67.7 155.00,67.7 155.25,67.7 155.50,67.7 155.75,67.7 156.00,67.3 156.25,67.7 156.50,67.7 156.75,67.5 157.00,67.7 157.25,67.7 157.50,67.5 157.75,67.5 158.00,67.1 158.25,67.4 158.50,67.7 158.75,67.6 159.00,67.7 159.25,67.3 159.50,67.2 159.75,67.7 160.00,67.7 160.25,67.4 160.50,67.6 160.75,67.7 161.00,67.7 161.25,67.7 161.50,67.7 161.75,67.7 162.00,67.7 162.25,67.7 162.50,67.7 162.75,67.7 163.00,67.7 163.25,67.7 163.50,67.7 163.75,67.7 164.00,67.7 164.25,67.7 164.50,67.7 164.75,67.7 165.00,67.7 165.25,67.6 165.50,67.7 165.75,67.7 166.00,67.7 166.25,66.5 166.50,66.2 166.75,61.9 167.00,63.6 167.25,61.9 167.50,62.2 167.75,63.9 168.00,63.6 168.25,61.9 168.50,61.5 168.75,59.0 169.00,54.0 169.25,64.6 169.50,56.5 169.75,62.0 170.00,61.0 170.25,57.0 170.50,62.6 170.75,59.9 171.00,63.7 171.25,62.5 171.50,60.7 171.75,65.7 172.00,61.5 172.25,65.4 172.50,63.0 172.75,66.5 173.00,63.2 173.25,64.3 173.50,64.7 173.75,65.0 174.00,62.3 174.25,66.2 174.50,64.8 174.75,63.5 175.00,64.6 175.25,65.5 175.50,67.7 175.75,67.1 176.00,66.0 176.25,67.5 176.50,65.8 176.75,66.9 177.00,64.8 177.25,66.6 177.50,66.0 177.75,66.8 178.00,65.6 178.25,65.0 178.50,65.5 178.75,67.0 179.00,65.5 179.25,65.6 179.50,66.4 179.75,67.3 180.00,67.7 180.25,67.7 180.50,67.7 180.75,67.7 181.00,67.7 181.25,67.7 181.50,67.7 181.75,67.7 182.00,67.0 182.25,67.7 182.50,67.3 182.75,67.6 183.00,66.8 183.25,66.9 183.50,67.7 183.75,67.7 184.00,67.7 184.25,67.7 184.50,67.3 184.75,67.6 185.00,66.0 185.25,64.8 185.50,64.4 185.75,61.7 186.00,64.2 186.25,58.9 186.50,60.8 186.75,64.5 187.00,63.0 187.25,59.5 187.50,59.3 187.75,55.0 188.00,57.4 188.25,60.5 188.50,64.2 188.75,62.8 189.00,65.1 189.25,58.8 189.50,59.2 189.75,65.6 190.00,64.5 190.25,63.9 190.50,64.4 190.75,66.6 191.00,67.7 191.25,67.7 191.50,67.7 191.75,67.7 192.00,67.7 192.25,67.7 192.50,67.7 192.75,67.7 193.00,67.7 193.25,67.7 193.50,67.7 193.75,67.7 194.00,67.7 194.25,67.7 194.50,67.7 194.75,67.1 195.00,65.9 195.25,65.9 195.50,63.7 195.75,64.4 196.00,62.7 196.25,65.4 196.50,66.5 196.75,63.9 197.00,65.2 197.25,63.9 197.50,65.3 197.75,65.4 198.00,67.0 198.25,67.7 198.50,67.7 198.75,67.7 199.00,67.7 199.25,67.7 199.50,67.7 199.75,67.7 200.00,67.6 200.25,66.9 200.50,67.5 200.75,66.7 201.00,64.4 201.25,64.4 201.50,63.2 201.75,63.3 202.00,61.7 202.25,64.9 202.50,64.5 202.75,61.3 203.00,63.6 203.25,65.3 203.50,60.7 203.75,65.2 204.00,63.6 204.25,59.1 204.50,59.7 204.75,62.9 205.00,64.1 205.25,58.7 205.50,59.5 205.75,63.8 206.00,61.3 206.25,62.5 206.50,65.0 206.75,63.9 207.00,65.1 207.25,62.8 207.50,66.3 207.75,64.2 208.00,65.8 208.25,65.7 208.50,67.5 208.75,67.6 209.00,67.7 209.25,67.3 209.50,67.5 209.75,67.6 210.00,67.1 210.25,67.7 210.50,67.3 210.75,67.4 211.00,67.7 211.25,67.6 211.50,67.7 211.75,67.7 212.00,67.7 212.25,67.7 212.50,67.7 212.75,67.7 213.00,67.7 213.25,67.7 213.50,67.7 213.75,67.1 214.00,67.7 214.25,67.5 214.50,67.7 214.75,67.7 215.00,67.7 215.25,67.7 215.50,67.7 215.75,67.7 216.00,67.6 216.25,67.7 216.50,67.7 216.75,67.7 217.00,67.7 217.25,67.7 217.50,67.7 217.75,67.7 218.00,67.6 218.25,67.7 218.50,67.4 218.75,67.4 219.00,67.7 219.25,67.7 219.50,67.7 219.75,67.7 220.00,67.7 220.25,67.7 220.50,67.7 220.75,67.7 221.00,67.7 221.25,67.7 221.50,67.7 221.75,67.7 222.00,67.7 222.25,67.7 222.50,67.7 222.75,67.7 223.00,67.7 223.25,67.7 223.50,67.7 223.75,67.7 224.00,67.7 224.25,67.7 224.50,67.7 224.75,67.7 225.00,67.7 225.25,67.7 225.50,67.7 225.75,67.7 226.00,67.7 226.25,67.7 226.50,67.7 226.75,67.7 226.75,69.3 226.50,69.3 226.25,69.3 226.00,69.3 225.75,69.3 225.50,69.3 225.25,69.3 225.00,69.3 224.75,69.3 224.50,69.3 224.25,69.3 224.00,69.3 223.75,69.3 223.50,69.3 223.25,69.3 223.00,69.3 222.75,69.3 222.50,69.3 222.25,69.3 222.00,69.3 221.75,69.3 221.50,69.3 221.25,69.3 221.00,69.3 220.75,69.3 220.50,69.3 220.25,69.3 220.00,69.3 219.75,69.3 219.50,69.3 219.25,69.3 219.00,69.4 218.75,69.4 218.50,69.3 218.25,69.7 218.00,69.3 217.75,69.3 217.50,69.3 217.25,69.3 217.00,69.3 216.75,69.3 216.50,69.4 216.25,69.3 216.00,69.3 215.75,69.6 215.50,69.3 215.25,69.3 215.00,69.3 214.75,69.3 214.50,69.4 214.25,69.3 214.00,69.6 213.75,69.8 213.50,69.7 213.25,69.7 213.00,69.3 212.75,69.4 212.50,69.3 212.25,69.3 212.00,69.3 211.75,69.3 211.50,69.3 211.25,69.3 211.00,69.3 210.75,69.4 210.50,69.3 210.25,69.3 210.00,69.6 209.75,69.3 209.50,69.7 209.25,69.3 209.00,69.3 208.75,69.4 208.50,69.9 208.25,70.4 208.00,70.7 207.75,70.6 207.50,72.4 207.25,73.1 207.00,72.6 206.75,70.9 206.50,71.4 206.25,73.0 206.00,70.4 205.75,73.6 205.50,70.5 205.25,72.4 205.00,71.1 204.75,75.0 204.50,71.8 204.25,71.3 204.00,71.5 203.75,73.4 203.50,71.3 203.25,73.0 203.00,72.6 202.75,72.7 202.50,73.5 202.25,71.1 202.00,73.9 201.75,72.7 201.50,71.4 201.25,72.3 201.00,70.8 200.75,71.0 200.50,69.3 200.25,69.8 200.00,69.3 199.75,69.3 199.50,69.3 199.25,69.3 199.00,69.3 198.75,69.3 198.50,69.3 198.25,69.3 198.00,69.3 197.75,69.4 197.50,70.1 197.25,70.6 197.00,70.0 196.75,71.5 196.50,70.3 196.25,71.3 196.00,71.6 195.75,71.5 195.50,70.3 195.25,71.9 195.00,69.5 194.75,69.3 194.50,69.3 194.25,69.3 194.00,69.3 193.75,69.3 193.50,69.3 193.25,69.3 193.00,69.3 192.75,69.3 192.50,69.3 192.25,69.3 192.00,69.3 191.75,69.3 191.50,69.3 191.25,69.3 191.00,69.3 190.75,69.9 190.50,70.6 190.25,71.2 190.00,72.7 189.75,70.8 189.50,72.1 189.25,76.0 189.00,71.9 188.75,74.4 188.50,74.8 188.25,72.0 188.00,77.3 187.75,77.6 187.50,72.8 187.25,72.8 187.00,76.5 186.75,72.6 186.50,75.1 186.25,72.0 186.00,72.6 185.75,72.6 185.50,73.1 185.25,70.0 185.00,70.2 184.75,69.3 184.50,69.4 184.25,69.3 184.00,69.7 183.75,69.7 183.50,69.6 183.25,69.3 183.00,69.9 182.75,69.7 182.50,69.3 182.25,69.4 182.00,69.3 181.75,69.5 181.50,69.3 181.25,69.3 181.00,69.3 180.75,69.3 180.50,69.3 180.25,69.3 180.00,69.4 179.75,69.4 179.50,70.2 179.25,70.5 179.00,70.8 178.75,69.5 178.50,71.1 178.25,70.1 178.00,71.1 177.75,70.7 177.50,71.6 177.25,70.5 177.00,70.1 176.75,70.5 176.50,70.1 176.25,69.4 176.00,70.3 175.75,69.4 175.50,70.8 175.25,70.5 175.00,70.2 174.75,72.9 174.50,73.4 174.25,70.3 174.00,71.2 173.75,72.7 173.50,73.3 173.25,74.7 173.00,74.3 172.75,70.6 172.50,71.8 172.25,73.4 172.00,70.4 171.75,70.3 171.50,70.8 171.25,72.8 171.00,75.2 170.75,71.6 170.50,71.6 170.25,76.3 170.00,76.5 169.75,71.9 169.50,74.4 169.25,73.4 169.00,75.4 168.75,73.2 168.50,76.9 168.25,74.3 168.00,74.3 167.75,73.5 167.50,74.9 167.25,73.9 167.00,72.5 166.75,71.3 166.50,71.0 166.25,70.5 166.00,69.3 165.75,69.3 165.50,69.3 165.25,69.4 165.00,69.3 164.75,69.3 164.50,69.3 164.25,69.3 164.00,69.4 163.75,69.3 163.50,69.3 163.25,69.3 163.00,69.3 162.75,69.3 162.50,69.3 162.25,69.3 162.00,69.3 161.75,69.3 161.50,69.3 161.25,69.3 161.00,69.3 160.75,69.5 160.50,69.3 160.25,69.3 160.00,69.3 159.75,69.5 159.50,69.3 159.25,69.5 159.00,69.7 158.75,69.3 158.50,69.3 158.25,69.5 158.00,69.3 157.75,69.3 157.50,69.3 157.25,69.3 157.00,69.3 156.75,69.3 156.50,69.3 156.25,69.3 156.00,69.3 155.75,69.3 155.50,69.5 155.25,69.3 155.00,69.3 154.75,69.3 154.50,69.3 154.25,69.3 154.00,69.3 153.75,70.0 153.50,69.9 153.25,70.4 153.00,72.8 152.75,71.0 152.50,70.8 152.25,74.4 152.00,72.8 151.75,76.3 151.50,74.1 151.25,71.2 151.00,72.3 150.75,77.8 150.50,79.3 150.25,78.5 150.00,83.6 149.75,82.7 149.50,73.8 149.25,74.8 149.00,73.0 148.75,72.1 148.50,74.7 148.25,72.8 148.00,74.6 147.75,71.8 147.50,72.5 147.25,71.3 147.00,70.2 146.75,69.3 146.50,69.3 146.25,69.3 146.00,69.3 145.75,69.3 145.50,69.3 145.25,70.4 145.00,69.5 144.75,69.4 144.50,71.5 144.25,71.5 144.00,71.5 143.75,71.3 143.50,70.8 143.25,70.8 143.00,71.2 142.75,71.4 142.50,70.8 142.25,69.5 142.00,70.0 141.75,69.9 141.50,69.3 141.25,69.3 141.00,69.3 140.75,69.3 140.50,69.3 140.25,69.3 140.00,69.3 139.75,69.3 139.50,69.6 139.25,70.4 139.00,69.8 138.75,69.9 138.50,69.9 138.25,69.4 138.00,71.5 137.75,71.2 137.50,69.8 137.25,71.7 137.00,70.7 136.75,70.1 136.50,71.4 136.25,71.3 136.00,71.3 135.75,70.5 135.50,70.5 135.25,71.0 135.00,70.8 134.75,70.4 134.50,70.2 134.25,69.3 134.00,69.3 133.75,69.3 133.50,69.3 133.25,69.3 133.00,69.3 132.75,69.3 132.50,69.3 132.25,69.3 132.00,69.3 131.75,69.3 131.50,69.3 131.25,69.3 131.00,69.3 130.75,69.5 130.50,69.3 130.25,70.2 130.00,69.3 129.75,71.0 129.50,70.8 129.25,69.3 129.00,70.9 128.75,70.8 128.50,71.2 128.25,70.8 128.00,70.3 127.75,69.5 127.50,69.9 127.25,70.5 127.00,69.3 126.75,69.4 126.50,69.6 126.25,69.3 126.00,69.4 125.75,71.3 125.50,70.0 125.25,72.3 125.00,69.9 124.75,71.9 124.50,72.7 124.25,70.9 124.00,73.3 123.75,74.8 123.50,70.8 123.25,70.6 123.00,73.5 122.75,74.8 122.50,74.0 122.25,74.2 122.00,75.0 121.75,74.4 121.50,71.9 121.25,73.5 121.00,73.5 120.75,75.7 120.50,71.1 120.25,71.7 120.00,74.2 119.75,74.2 119.50,77.0 119.25,74.6 119.00,73.3 118.75,71.4 118.50,76.3 118.25,74.8 118.00,76.2 117.75,76.3 117.50,73.1 117.25,73.4 117.00,71.5 116.75,75.3 116.50,72.1 116.25,71.9 116.00,70.2 115.75,70.3 115.50,70.6 115.25,72.5 115.00,71.6 114.75,69.5 114.50,70.8 114.25,70.2 114.00,70.9 113.75,71.4 113.50,72.0 113.25,71.1 113.00,71.5 112.75,69.8 112.50,70.8 112.25,70.7 112.00,71.4 111.75,70.4 111.50,72.3 111.25,70.1 111.00,71.2 110.75,70.2 110.50,72.6 110.25,72.0 110.00,72.2 109.75,72.0 109.50,72.1 109.25,71.6 109.00,70.1 108.75,69.6 108.50,71.5 108.25,69.4 108.00,70.1 107.75,70.5 107.50,69.5 107.25,69.3 107.00,69.3 106.75,69.3 106.50,69.3 106.25,69.3 106.00,69.3 105.75,69.3 105.50,69.3 105.25,69.3 105.00,69.3 104.75,69.3 104.50,69.3 104.25,69.3 104.00,69.3 103.75,69.4 103.50,69.8 103.25,70.4 103.00,71.7 102.75,71.7 102.50,72.3 102.25,71.9 102.00,72.7 101.75,74.6 101.50,72.4 101.25,76.1 101.00,73.9 100.75,75.9 100.50,74.5 100.25,75.6 100.00,75.9 99.75,73.1 99.50,71.2 99.25,70.8 99.00,72.6 98.75,72.2 98.50,69.8 98.25,69.3 98.00,69.7 97.75,69.9 97.50,69.3 97.25,69.3 97.00,70.4 96.75,70.3 96.50,69.9 96.25,70.1 96.00,69.4 95.75,70.8 95.50,69.3 95.25,69.6 95.00,69.9 94.75,70.0 94.50,69.6 94.25,69.3 94.00,69.3 93.75,69.3 93.50,69.3 93.25,69.3 93.00,69.3 92.75,69.3 92.50,69.3 92.25,69.8 92.00,69.8 91.75,71.2 91.50,70.0 91.25,71.6 91.00,70.2 90.75,69.9 90.50,73.1 90.25,71.9 90.00,72.9 89.75,73.8 89.50,71.1 89.25,70.2 89.00,72.7 88.75,72.7 88.50,72.4 88.25,70.3 88.00,70.8 87.75,69.9 87.50,70.9 87.25,70.3 87.00,70.4 86.75,69.6 86.50,69.3 86.25,69.3 86.00,69.3 85.75,69.3 85.50,69.3 85.25,69.3 85.00,70.1 84.75,71.5 84.50,70.5 84.25,71.8 84.00,71.3 83.75,73.4 83.50,75.5 83.25,75.1 83.00,76.1 82.75,71.3 82.50,72.7 82.25,76.5 82.00,74.2 81.75,73.4 81.50,74.0 81.25,74.7 81.00,74.5 80.75,72.6 80.50,71.6 80.25,71.3 80.00,70.2 79.75,71.2 79.50,71.7 79.25,71.3 79.00,70.8 78.75,69.9 78.50,72.7 78.25,70.6 78.00,70.5 77.75,72.0 77.50,72.2 77.25,72.6 77.00,71.1 76.75,71.0 76.50,71.4 76.25,70.6 76.00,70.0 75.75,71.1 75.50,70.3 75.25,69.4 75.00,69.3 74.75,69.5 74.50,70.4 74.25,70.1 74.00,70.4 73.75,69.5 73.50,70.5 73.25,69.6 73.00,71.3 72.75,71.4 72.50,70.9 72.25,70.0 72.00,71.4 71.75,69.9 71.50,71.9 71.25,69.9 71.00,70.8 70.75,74.1 70.50,70.8 70.25,73.5 70.00,74.7 69.75,73.3 69.50,73.5 69.25,72.6 69.00,73.0 68.75,74.5 68.50,74.2 68.25,81.2 68.00,77.0 67.75,77.6 67.50,75.4 67.25,75.1 67.00,72.2 66.75,71.7 66.50,74.4 66.25,74.8 66.00,74.4 65.75,71.6 65.50,71.3 65.25,70.5 65.00,73.8 64.75,70.4 64.50,70.6 64.25,70.9 64.00,73.6 63.75,72.8 63.50,72.5 63.25,71.4 63.00,73.1 62.75,71.0 62.50,71.2 62.25,70.5 62.00,72.2 61.75,69.5 61.50,70.4 61.25,69.3 61.00,69.4 60.75,69.3 60.50,69.3 60.25,69.3 60.00,69.3 59.75,70.4 59.50,69.7 59.25,69.8 59.00,70.9 58.75,71.7 58.50,71.8 58.25,71.1 58.00,70.8 57.75,71.8 57.50,69.8 57.25,72.4 57.00,71.0 56.75,73.6 56.50,72.7 56.25,71.9 56.00,69.9 55.75,73.0 55.50,72.5 55.25,71.1 55.00,72.3 54.75,71.5 54.50,70.9 54.25,70.5 54.00,69.9 53.75,70.1 53.50,71.0 53.25,71.1 53.00,70.0 52.75,69.7 52.50,70.9 52.25,70.4 52.00,69.6 51.75,69.5 51.50,69.4" fill="#0072bd" fill-opacity="0.5"/>
<text x="148" y="13.5" text-anchor="middle" font-size="11" stroke="#111" stroke-width="0.15">Original signal time domain diagram</text>
<text x="40" y="20.6" text-anchor="end" font-size="11" stroke="#111" stroke-width="0.15">0.1</text>
<text x="40" y="46.800000000000004" text-anchor="end" font-size="11" stroke="#111" stroke-width="0.15">0.05</text>
<text x="40" y="72.89999999999999" text-anchor="end" font-size="11" stroke="#111" stroke-width="0.15">0</text>
<text x="40" y="99.1" text-anchor="end" font-size="11" stroke="#111" stroke-width="0.15">-0.05</text>
<text x="40" y="125.1" text-anchor="end" font-size="11" stroke="#111" stroke-width="0.15">-0.1</text>
<text x="43" y="132.9" text-anchor="middle" font-size="11" stroke="#111" stroke-width="0.15">0</text>
<text x="95.5" y="132.9" text-anchor="middle" font-size="11" stroke="#111" stroke-width="0.15">1</text>
<text x="148" y="132.9" text-anchor="middle" font-size="11" stroke="#111" stroke-width="0.15">2</text>
<text x="200.5" y="132.9" text-anchor="middle" font-size="11" stroke="#111" stroke-width="0.15">3</text>
<text x="253" y="132.9" text-anchor="middle" font-size="11" stroke="#111" stroke-width="0.15">4</text>
<text x="148.5" y="146" text-anchor="middle" font-size="11" stroke="#111" stroke-width="0.15">Time</text>
<text x="13.8" y="68.3" text-anchor="middle" font-size="11" stroke="#111" stroke-width="0.15" transform="rotate(-90 13.8 68.3)">Amplitude</text>
<rect x="320.5" y="16" width="210.0" height="104.5" fill="none" stroke="#c9c9c9" stroke-width="1"/>
<path d="M373 120.5v-2M373 16v2M425.5 120.5v-2M425.5 16v2M478 120.5v-2M478 16v2M320.5 68.3h2M530.5 68.3h-2" stroke="#c9c9c9" stroke-width="0.8"/>
<polygon points="321.00,68.0 321.35,67.2 321.70,63.7 322.05,49.2 322.40,49.6 322.75,53.0 323.10,50.0 323.45,41.5 323.80,46.0 324.15,49.9 324.50,41.6 324.85,48.1 325.20,52.7 325.55,40.5 325.90,39.0 326.25,40.6 326.60,38.2 326.95,40.7 327.30,44.4 327.65,32.5 328.00,44.4 328.35,34.5 328.70,33.2 329.05,37.5 329.40,43.8 329.75,35.1 330.10,37.2 330.45,39.0 330.80,31.7 331.15,33.3 331.50,42.1 331.85,37.6 332.20,41.2 332.55,45.9 332.90,38.8 333.25,29.6 333.60,35.3 333.95,33.6 334.30,29.3 334.65,31.0 335.00,25.7 335.35,29.5 335.70,33.7 336.05,34.4 336.40,28.1 336.75,33.5 337.10,31.9 337.45,39.7 337.80,29.7 338.15,29.8 338.50,34.0 338.85,46.5 339.20,47.4 339.55,45.1 339.90,40.7 340.25,43.0 340.60,41.4 340.95,49.9 341.30,38.3 341.65,48.1 342.00,48.7 342.35,41.5 342.70,48.8 343.05,44.9 343.40,48.5 343.75,50.9 344.10,50.5 344.45,44.3 344.80,51.7 345.15,43.2 345.50,49.8 345.85,46.2 346.20,45.4 346.55,47.3 346.90,45.0 347.25,52.8 347.60,50.5 347.95,48.2 348.30,46.6 348.65,50.2 349.00,51.3 349.35,53.2 349.70,51.6 350.05,51.4 350.40,49.0 350.75,49.6 351.10,50.1 351.45,50.5 351.80,45.4 352.15,46.1 352.50,42.9 352.85,47.3 353.20,40.1 353.55,39.7 353.90,42.4 354.25,42.7 354.60,38.3 354.95,40.8 355.30,43.5 355.65,42.3 356.00,40.5 356.35,37.9 356.70,37.7 357.05,44.6 357.40,42.3 357.75,42.5 358.10,43.0 358.45,44.3 358.80,50.3 359.15,41.6 359.50,44.0 359.85,44.1 360.20,42.8 360.55,44.9 360.90,42.0 361.25,43.9 361.60,50.6 361.95,48.7 362.30,50.7 362.65,47.7 363.00,45.2 363.35,46.7 363.70,45.1 364.05,45.0 364.40,48.2 364.75,49.7 365.10,47.9 365.45,52.3 365.80,50.4 366.15,51.2 366.50,46.9 366.85,47.3 367.20,52.3 367.55,47.0 367.90,55.2 368.25,50.3 368.60,54.8 368.95,49.3 369.30,53.5 369.65,48.8 370.00,54.2 370.35,53.9 370.70,55.4 371.05,52.7 371.40,49.4 371.75,53.1 372.10,51.7 372.45,52.8 372.80,53.6 373.15,48.7 373.50,55.2 373.85,53.7 374.20,54.3 374.55,55.8 374.90,53.0 375.25,55.5 375.60,53.0 375.95,51.1 376.30,54.3 376.65,54.9 377.00,50.4 377.35,57.1 377.70,56.9 378.05,52.1 378.40,52.3 378.75,51.4 379.10,50.4 379.45,47.4 379.80,48.3 380.15,47.6 380.50,49.4 380.85,49.9 381.20,47.7 381.55,52.0 381.90,48.3 382.25,56.0 382.60,49.9 382.95,49.7 383.30,49.1 383.65,52.7 384.00,53.7 384.35,57.6 384.70,58.7 385.05,59.0 385.40,56.2 385.75,52.9 386.10,52.9 386.45,52.8 386.80,54.0 387.15,54.6 387.50,58.3 387.85,55.2 388.20,58.4 388.55,58.3 388.90,57.5 389.25,52.4 389.60,53.1 389.95,53.1 390.30,58.0 390.65,54.4 391.00,57.7 391.35,58.7 391.70,53.5 392.05,59.2 392.40,57.2 392.75,57.7 393.10,53.2 393.45,54.0 393.80,52.8 394.15,55.3 394.50,54.0 394.85,54.2 395.20,56.3 395.55,56.3 395.90,53.4 396.25,53.5 396.60,53.1 396.95,54.1 397.30,53.9 397.65,58.4 398.00,59.9 398.35,57.0 398.70,56.3 399.05,54.4 399.40,52.9 399.75,52.9 400.10,56.3 400.45,57.3 400.80,56.8 401.15,56.7 401.50,56.8 401.85,54.6 402.20,57.3 402.55,53.1 402.90,54.7 403.25,55.9 403.60,57.3 403.95,57.1 404.30,56.5 404.65,56.2 405.00,55.8 405.35,52.3 405.70,53.0 406.05,51.3 406.40,49.4 406.75,51.0 407.10,51.6 407.45,49.2 407.80,52.6 408.15,51.9 408.50,51.5 408.85,51.1 409.20,51.2 409.55,48.4 409.90,47.9 410.25,53.1 410.60,49.8 410.95,54.1 411.30,50.7 411.65,46.9 412.00,49.5 412.35,47.8 412.70,48.1 413.05,48.8 413.40,47.9 413.75,53.5 414.10,46.7 414.45,49.2 414.80,49.1 415.15,48.4 415.50,47.0 415.85,48.4 416.20,50.2 416.55,50.4 416.90,49.1 417.25,52.0 417.60,53.1 417.95,48.8 418.30,49.6 418.65,52.9 419.00,52.1 419.35,48.7 419.70,51.3 420.05,50.6 420.40,53.3 420.75,54.2 421.10,54.1 421.45,55.5 421.80,56.2 422.15,56.4 422.50,55.3 422.85,56.7 423.20,58.6 423.55,57.7 423.90,59.0 424.25,55.6 424.60,56.7 424.95,57.5 425.30,58.2 425.65,57.6 426.00,58.3 426.35,54.2 426.70,56.4 427.05,54.6 427.40,53.8 427.75,54.0 428.10,52.7 428.45,56.4 428.80,53.2 429.15,54.0 429.50,55.6 429.85,55.4 430.20,54.4 430.55,54.9 430.90,57.6 431.25,53.5 431.60,55.0 431.95,54.8 432.30,52.3 432.65,54.4 433.00,57.0 433.35,56.1 433.70,55.1 434.05,56.2 434.40,54.1 434.75,52.9 435.10,54.8 435.45,52.7 435.80,55.5 436.15,54.0 436.50,53.7 436.85,54.1 437.20,53.3 437.55,53.1 437.90,55.6 438.25,54.0 438.60,55.9 438.95,53.1 439.30,53.3 439.65,55.7 440.00,56.2 440.35,52.6 440.70,55.4 441.05,53.7 441.40,56.1 441.75,53.0 442.10,55.6 442.45,54.1 442.80,56.5 443.15,54.7 443.50,53.4 443.85,58.1 444.20,55.1 444.55,57.2 444.90,53.4 445.25,53.4 445.60,56.3 445.95,54.9 446.30,57.0 446.65,57.4 447.00,55.8 447.35,54.7 447.70,54.5 448.05,55.6 448.40,55.2 448.75,55.9 449.10,54.7 449.45,54.7 449.80,57.4 450.15,58.0 450.50,56.6 450.85,58.4 451.20,56.5 451.55,56.3 451.90,58.6 452.25,60.2 452.60,59.5 452.95,61.4 453.30,59.2 453.65,59.5 454.00,59.8 454.35,58.4 454.70,59.2 455.05,58.6 455.40,60.8 455.75,58.5 456.10,59.7 456.45,61.2 456.80,60.1 457.15,60.1 457.50,59.5 457.85,59.4 458.20,60.7 458.55,60.2 458.90,58.5 459.25,60.8 459.60,59.8 459.95,60.0 460.30,62.4 460.65,61.2 461.00,60.1 461.35,58.8 461.70,59.2 462.05,59.6 462.40,58.3 462.75,59.6 463.10,60.1 463.45,61.3 463.80,59.6 464.15,60.4 464.50,59.5 464.85,60.8 465.20,59.2 465.55,58.8 465.90,61.4 466.25,61.4 466.60,62.9 466.95,62.6 467.30,62.8 467.65,64.1 468.00,64.3 468.35,63.9 468.70,62.1 469.05,61.7 469.40,62.3 469.75,64.6 470.10,66.6 470.45,66.0 470.80,63.6 471.15,62.8 471.50,62.2 471.85,62.6 472.20,63.2 472.55,63.0 472.90,61.8 473.25,65.5 473.60,63.9 473.95,64.1 474.30,63.4 474.65,62.2 475.00,65.0 475.35,63.5 475.70,62.6 476.05,62.5 476.40,64.9 476.75,63.1 477.10,63.8 477.45,64.9 477.80,63.7 478.15,64.3 478.50,62.4 478.85,64.1 479.20,65.0 479.55,62.7 479.90,62.8 480.25,64.9 480.60,64.9 480.95,63.7 481.30,64.7 481.65,65.3 482.00,65.1 482.35,63.4 482.70,63.6 483.05,65.3 483.40,64.9 483.75,67.1 484.10,65.0 484.45,63.0 484.80,64.2 485.15,65.6 485.50,64.3 485.85,64.7 486.20,65.6 486.55,64.4 486.90,65.5 487.25,67.1 487.60,65.5 487.95,65.7 488.30,63.8 488.65,65.6 489.00,64.8 489.35,65.6 489.70,64.5 490.05,68.5 490.40,64.3 490.75,66.8 491.10,65.4 491.45,64.3 491.80,64.4 492.15,66.0 492.50,66.3 492.85,64.9 493.20,64.1 493.55,65.5 493.90,67.7 494.25,66.0 494.60,67.0 494.95,66.3 495.30,65.1 495.65,66.8 496.00,67.1 496.35,64.7 496.70,68.2 497.05,66.3 497.40,65.4 497.75,64.7 498.10,67.1 498.45,66.0 498.80,64.9 499.15,65.1 499.50,66.6 499.85,67.1 500.20,67.7 500.55,66.8 500.90,65.1 501.25,64.7 501.60,66.1 501.95,65.9 502.30,64.8 502.65,67.8 503.00,66.6 503.35,65.3 503.70,68.6 504.05,65.9 504.40,66.5 504.75,66.4 505.10,65.1 505.45,65.6 505.80,67.2 506.15,68.7 506.50,68.3 506.85,68.2 507.20,66.9 507.55,65.5 507.90,66.1 508.25,66.7 508.60,65.8 508.95,65.0 509.30,66.0 509.65,65.0 510.00,65.8 510.35,66.3 510.70,68.0 511.05,67.1 511.40,67.7 511.75,67.6 512.10,65.9 512.45,68.7 512.80,66.5 513.15,68.3 513.50,65.5 513.85,66.8 514.20,65.5 514.55,65.9 514.90,66.7 515.25,65.8 515.60,65.6 515.95,68.9 516.30,66.5 516.65,66.5 517.00,67.2 517.35,68.0 517.70,66.2 518.05,67.6 518.40,65.5 518.75,65.7 519.10,67.1 519.45,68.0 519.80,66.1 520.15,66.0 520.50,65.7 520.85,70.0 521.20,68.0 521.55,67.2 521.90,67.7 522.25,65.7 522.60,67.6 522.95,66.3 523.30,68.7 523.65,66.0 524.00,66.9 524.35,66.2 524.70,68.4 525.05,66.9 525.40,68.8 525.75,68.3 526.10,67.2 526.45,66.1 526.80,67.2 527.15,67.5 527.50,68.4 527.85,66.3 528.20,67.7 528.55,65.8 528.90,68.0 529.25,66.0 529.60,66.5 529.95,66.7 529.95,96.8 529.60,91.6 529.25,98.6 528.90,90.4 528.55,83.6 528.20,83.2 527.85,90.3 527.50,89.4 527.15,88.6 526.80,97.0 526.45,90.6 526.10,83.6 525.75,90.5 525.40,84.1 525.05,92.7 524.70,93.1 524.35,84.6 524.00,83.2 523.65,88.3 523.30,84.8 522.95,97.5 522.60,87.4 522.25,84.0 521.90,92.6 521.55,97.3 521.20,86.7 520.85,92.9 520.50,90.6 520.15,91.9 519.80,86.1 519.45,82.6 519.10,88.9 518.75,97.3 518.40,86.3 518.05,91.3 517.70,87.1 517.35,84.3 517.00,91.8 516.65,87.3 516.30,91.2 515.95,93.6 515.60,82.4 515.25,83.5 514.90,91.6 514.55,90.9 514.20,82.8 513.85,83.9 513.50,95.9 513.15,84.5 512.80,89.0 512.45,86.9 512.10,87.6 511.75,96.8 511.40,86.0 511.05,87.4 510.70,83.6 510.35,84.5 510.00,91.3 509.65,86.3 509.30,96.2 508.95,83.8 508.60,91.1 508.25,96.7 507.90,95.8 507.55,90.2 507.20,88.9 506.85,97.5 506.50,88.9 506.15,94.0 505.80,90.6 505.45,90.6 505.10,86.9 504.75,85.8 504.40,88.9 504.05,87.5 503.70,85.6 503.35,83.7 503.00,97.0 502.65,95.7 502.30,86.9 501.95,83.3 501.60,82.5 501.25,95.7 500.90,88.1 500.55,89.0 500.20,87.7 499.85,86.0 499.50,94.8 499.15,91.3 498.80,87.8 498.45,84.2 498.10,90.1 497.75,82.9 497.40,91.0 497.05,90.3 496.70,87.1 496.35,98.4 496.00,97.8 495.65,89.4 495.30,97.2 494.95,99.0 494.60,92.7 494.25,86.3 493.90,88.8 493.55,92.4 493.20,82.7 492.85,86.8 492.50,97.4 492.15,95.3 491.80,88.0 491.45,98.2 491.10,84.7 490.75,84.1 490.40,91.1 490.05,95.7 489.70,91.6 489.35,92.1 489.00,92.0 488.65,83.2 488.30,85.5 487.95,96.0 487.60,86.8 487.25,88.5 486.90,82.7 486.55,95.2 486.20,93.2 485.85,90.6 485.50,85.0 485.15,87.0 484.80,90.0 484.45,97.1 484.10,88.9 483.75,88.0 483.40,86.3 483.05,90.1 482.70,85.6 482.35,90.6 482.00,88.3 481.65,93.4 481.30,98.2 480.95,83.9 480.60,92.4 480.25,95.9 479.90,86.8 479.55,92.1 479.20,91.0 478.85,83.6 478.50,97.0 478.15,94.0 477.80,90.3 477.45,89.4 477.10,97.4 476.75,86.5 476.40,86.9 476.05,83.9 475.70,85.4 475.35,92.9 475.00,82.8 474.65,82.4 474.30,94.2 473.95,95.0 473.60,81.8 473.25,86.2 472.90,87.9 472.55,97.0 472.20,86.6 471.85,87.7 471.50,96.1 471.15,89.7 470.80,84.0 470.45,93.6 470.10,95.5 469.75,83.0 469.40,82.5 469.05,85.4 468.70,82.3 468.35,84.6 468.00,86.4 467.65,83.8 467.30,91.5 466.95,87.6 466.60,91.7 466.25,84.3 465.90,84.2 465.55,86.7 465.20,91.4 464.85,84.4 464.50,85.4 464.15,86.3 463.80,90.4 463.45,91.8 463.10,85.7 462.75,85.7 462.40,82.9 462.05,84.8 461.70,83.2 461.35,84.5 461.00,85.1 460.65,93.4 460.30,80.9 459.95,92.5 459.60,88.7 459.25,81.1 458.90,82.1 458.55,82.8 458.20,94.5 457.85,89.3 457.50,84.1 457.15,84.0 456.80,89.1 456.45,91.4 456.10,81.1 455.75,81.6 455.40,93.9 455.05,80.9 454.70,79.8 454.35,88.0 454.00,90.4 453.65,88.4 453.30,83.1 452.95,89.4 452.60,92.8 452.25,83.5 451.90,85.4 451.55,85.2 451.20,79.3 450.85,87.0 450.50,92.2 450.15,86.7 449.80,89.7 449.45,92.1 449.10,87.3 448.75,81.6 448.40,85.4 448.05,85.4 447.70,88.1 447.35,93.6 447.00,83.4 446.65,81.8 446.30,82.0 445.95,92.5 445.60,81.8 445.25,81.3 444.90,85.9 444.55,83.6 444.20,89.1 443.85,88.4 443.50,89.1 443.15,87.4 442.80,87.7 442.45,92.8 442.10,78.0 441.75,79.0 441.40,91.5 441.05,80.1 440.70,78.0 440.35,92.7 440.00,77.5 439.65,79.5 439.30,81.9 438.95,87.2 438.60,81.0 438.25,77.7 437.90,82.7 437.55,80.6 437.20,82.6 436.85,81.4 436.50,82.2 436.15,82.5 435.80,91.3 435.45,78.2 435.10,90.2 434.75,90.6 434.40,89.2 434.05,89.8 433.70,89.6 433.35,83.2 433.00,79.7 432.65,91.5 432.30,82.6 431.95,76.9 431.60,78.2 431.25,81.5 430.90,90.1 430.55,88.4 430.20,85.5 429.85,79.2 429.50,89.4 429.15,83.4 428.80,80.6 428.45,80.5 428.10,79.9 427.75,80.6 427.40,77.0 427.05,86.9 426.70,89.8 426.35,83.0 426.00,84.9 425.65,84.9 425.30,77.6 424.95,82.7 424.60,81.1 424.25,84.6 423.90,83.5 423.55,79.7 423.20,82.1 422.85,76.7 422.50,78.3 422.15,89.8 421.80,89.2 421.45,89.3 421.10,75.8 420.75,78.3 420.40,81.0 420.05,82.0 419.70,89.1 419.35,80.6 419.00,74.6 418.65,77.5 418.30,84.1 417.95,80.2 417.60,85.1 417.25,80.2 416.90,75.9 416.55,82.4 416.20,89.6 415.85,78.4 415.50,89.7 415.15,77.1 414.80,81.0 414.45,87.5 414.10,81.1 413.75,84.6 413.40,85.4 413.05,89.1 412.70,84.0 412.35,87.0 412.00,75.2 411.65,81.9 411.30,80.4 410.95,79.0 410.60,74.7 410.25,81.6 409.90,86.2 409.55,78.2 409.20,83.7 408.85,79.7 408.50,74.1 408.15,77.7 407.80,74.9 407.45,84.6 407.10,81.0 406.75,79.7 406.40,75.0 406.05,86.1 405.70,79.8 405.35,88.8 405.00,75.8 404.65,78.8 404.30,83.9 403.95,77.9 403.60,75.9 403.25,87.0 402.90,85.3 402.55,77.5 402.20,85.9 401.85,80.0 401.50,73.8 401.15,84.4 400.80,80.7 400.45,74.0 400.10,80.3 399.75,77.8 399.40,83.6 399.05,85.8 398.70,81.7 398.35,78.3 398.00,83.4 397.65,78.7 397.30,80.0 396.95,78.5 396.60,78.9 396.25,85.0 395.90,81.1 395.55,84.7 395.20,72.8 394.85,84.1 394.50,82.3 394.15,73.8 393.80,73.5 393.45,86.2 393.10,85.5 392.75,86.1 392.40,83.3 392.05,72.5 391.70,77.0 391.35,72.9 391.00,72.5 390.65,72.8 390.30,85.1 389.95,81.7 389.60,82.4 389.25,86.0 388.90,75.4 388.55,83.0 388.20,81.1 387.85,73.0 387.50,72.8 387.15,79.6 386.80,82.8 386.45,75.5 386.10,74.9 385.75,72.1 385.40,83.5 385.05,81.0 384.70,72.7 384.35,78.4 384.00,73.3 383.65,75.6 383.30,81.9 382.95,71.4 382.60,74.5 382.25,71.2 381.90,76.4 381.55,82.8 381.20,85.8 380.85,73.6 380.50,77.5 380.15,80.8 379.80,73.4 379.45,78.9 379.10,82.2 378.75,84.3 378.40,79.0 378.05,74.4 377.70,75.2 377.35,72.5 377.00,72.0 376.65,80.4 376.30,73.5 375.95,78.2 375.60,75.8 375.25,78.4 374.90,71.3 374.55,71.5 374.20,75.4 373.85,85.0 373.50,82.2 373.15,82.6 372.80,78.4 372.45,81.9 372.10,83.5 371.75,70.8 371.40,77.8 371.05,70.3 370.70,76.8 370.35,79.2 370.00,70.6 369.65,72.6 369.30,73.7 368.95,84.8 368.60,83.1 368.25,81.3 367.90,72.0 367.55,83.1 367.20,72.7 366.85,78.2 366.50,71.7 366.15,73.8 365.80,74.2 365.45,72.9 365.10,84.4 364.75,80.4 364.40,83.3 364.05,76.6 363.70,69.9 363.35,72.0 363.00,83.1 362.65,72.0 362.30,78.0 361.95,79.2 361.60,81.3 361.25,71.0 360.90,78.9 360.55,72.2 360.20,80.4 359.85,82.6 359.50,70.7 359.15,78.6 358.80,69.6 358.45,75.4 358.10,82.5 357.75,72.9 357.40,71.3 357.05,74.7 356.70,72.8 356.35,76.1 356.00,71.4 355.65,80.1 355.30,82.1 354.95,73.9 354.60,82.7 354.25,81.3 353.90,72.8 353.55,72.2 353.20,80.5 352.85,76.9 352.50,82.9 352.15,74.5 351.80,75.7 351.45,72.1 351.10,76.0 350.75,71.7 350.40,80.7 350.05,80.1 349.70,82.8 349.35,75.9 349.00,77.4 348.65,83.6 348.30,80.5 347.95,83.5 347.60,72.9 347.25,80.3 346.90,82.7 346.55,74.0 346.20,71.8 345.85,79.8 345.50,73.4 345.15,81.0 344.80,71.7 344.45,82.9 344.10,71.9 343.75,80.2 343.40,77.2 343.05,74.3 342.70,79.4 342.35,78.5 342.00,69.2 341.65,78.3 341.30,80.8 340.95,74.0 340.60,75.6 340.25,71.5 339.90,80.0 339.55,78.7 339.20,69.2 338.85,76.6 338.50,74.6 338.15,79.0 337.80,75.4 337.45,68.5 337.10,79.9 336.75,72.6 336.40,71.1 336.05,68.5 335.70,75.2 335.35,81.3 335.00,77.2 334.65,70.7 334.30,73.3 333.95,81.2 333.60,75.4 333.25,78.2 332.90,76.8 332.55,68.7 332.20,69.3 331.85,81.6 331.50,70.6 331.15,80.6 330.80,75.7 330.45,75.8 330.10,71.2 329.75,68.4 329.40,78.5 329.05,80.5 328.70,72.5 328.35,80.8 328.00,78.8 327.65,80.9 327.30,69.4 326.95,79.3 326.60,69.0 326.25,76.1 325.90,80.7 325.55,77.5 325.20,70.6 324.85,70.0 324.50,77.7 324.15,80.6 323.80,84.2 323.45,81.0 323.10,85.5 322.75,79.3 322.40,83.0 322.05,83.9 321.70,94.2 321.35,89.6 321.00,92.3" fill="#ff00ff" fill-opacity="0.55"/>
<polygon points="321.00,69.4 321.35,70.5 321.70,67.9 322.05,60.7 322.40,58.4 322.75,52.6 323.10,52.6 323.45,48.8 323.80,45.8 324.15,45.1 324.50,40.9 324.85,47.8 325.20,46.9 325.55,54.7 325.90,46.6 326.25,47.2 326.60,34.9 326.95,37.1 327.30,38.5 327.65,45.5 328.00,34.8 328.35,46.0 328.70,38.5 329.05,36.3 329.40,44.6 329.75,49.8 330.10,36.6 330.45,38.0 330.80,38.5 331.15,40.1 331.50,40.3 331.85,41.6 332.20,46.8 332.55,36.6 332.90,41.1 333.25,42.9 333.60,33.9 333.95,26.7 334.30,31.1 334.65,34.8 335.00,33.3 335.35,37.5 335.70,36.2 336.05,42.0 336.40,33.6 336.75,38.9 337.10,39.2 337.45,41.0 337.80,35.1 338.15,34.6 338.50,39.4 338.85,36.0 339.20,49.9 339.55,38.3 339.90,43.6 340.25,42.7 340.60,40.6 340.95,47.1 341.30,42.8 341.65,42.8 342.00,42.3 342.35,58.0 342.70,53.9 343.05,44.9 343.40,52.0 343.75,49.7 344.10,44.3 344.45,52.8 344.80,53.9 345.15,43.9 345.50,57.1 345.85,50.0 346.20,54.1 346.55,45.0 346.90,46.8 347.25,47.2 347.60,44.9 347.95,52.6 348.30,49.4 348.65,45.6 349.00,47.8 349.35,49.0 349.70,49.3 350.05,55.5 350.40,45.2 350.75,46.7 351.10,48.1 351.45,49.0 351.80,51.5 352.15,54.1 352.50,52.1 352.85,53.0 353.20,49.0 353.55,41.6 353.90,42.5 354.25,50.1 354.60,44.5 354.95,42.3 355.30,45.0 355.65,44.7 356.00,44.2 356.35,41.8 356.70,41.9 357.05,39.1 357.40,45.0 357.75,41.2 358.10,52.2 358.45,45.2 358.80,51.5 359.15,46.1 359.50,44.0 359.85,45.7 360.20,44.4 360.55,46.0 360.90,50.4 361.25,45.5 361.60,46.4 361.95,53.7 362.30,49.3 362.65,46.6 363.00,53.0 363.35,46.9 363.70,48.2 364.05,47.2 364.40,47.8 364.75,47.2 365.10,52.2 365.45,47.7 365.80,53.2 366.15,52.7 366.50,46.5 366.85,48.6 367.20,50.1 367.55,53.2 367.90,49.3 368.25,53.8 368.60,59.3 368.95,48.7 369.30,51.2 369.65,50.6 370.00,50.3 370.35,53.7 370.70,54.4 371.05,54.8 371.40,56.1 371.75,57.4 372.10,59.5 372.45,53.8 372.80,54.0 373.15,50.0 373.50,53.9 373.85,54.6 374.20,60.1 374.55,59.3 374.90,53.0 375.25,57.4 375.60,55.3 375.95,52.2 376.30,55.3 376.65,54.8 377.00,57.3 377.35,54.2 377.70,55.9 378.05,54.4 378.40,54.0 378.75,54.7 379.10,48.8 379.45,55.1 379.80,51.8 380.15,53.3 380.50,50.0 380.85,52.8 381.20,54.6 381.55,54.1 381.90,51.2 382.25,54.8 382.60,54.8 382.95,51.7 383.30,55.7 383.65,57.3 384.00,55.7 384.35,58.0 384.70,59.0 385.05,59.9 385.40,56.8 385.75,54.4 386.10,56.5 386.45,57.4 386.80,60.8 387.15,58.6 387.50,59.2 387.85,58.8 388.20,60.7 388.55,61.2 388.90,54.2 389.25,56.5 389.60,57.5 389.95,59.9 390.30,57.5 390.65,60.2 391.00,54.8 391.35,56.2 391.70,55.3 392.05,59.9 392.40,57.9 392.75,54.9 393.10,56.2 393.45,58.8 393.80,58.6 394.15,54.9 394.50,56.0 394.85,56.8 395.20,62.8 395.55,58.6 395.90,56.5 396.25,55.6 396.60,54.8 396.95,58.6 397.30,57.6 397.65,57.1 398.00,54.5 398.35,62.0 398.70,55.2 399.05,55.2 399.40,57.8 399.75,56.4 400.10,58.6 400.45,56.3 400.80,55.9 401.15,60.4 401.50,56.2 401.85,61.1 402.20,55.2 402.55,54.8 402.90,59.3 403.25,56.0 403.60,58.0 403.95,59.0 404.30,57.7 404.65,57.1 405.00,55.1 405.35,54.9 405.70,53.7 406.05,53.7 406.40,55.5 406.75,54.4 407.10,49.9 407.45,52.2 407.80,51.6 408.15,49.5 408.50,52.3 408.85,50.1 409.20,50.5 409.55,52.7 409.90,51.4 410.25,49.5 410.60,51.8 410.95,50.6 411.30,51.3 411.65,52.5 412.00,47.9 412.35,49.9 412.70,48.3 413.05,48.2 413.40,49.4 413.75,48.1 414.10,49.9 414.45,49.7 414.80,52.3 415.15,49.5 415.50,50.2 415.85,50.4 416.20,51.9 416.55,52.7 416.90,49.8 417.25,51.3 417.60,51.6 417.95,53.0 418.30,50.7 418.65,49.5 419.00,52.4 419.35,52.3 419.70,49.9 420.05,51.5 420.40,56.5 420.75,51.7 421.10,54.0 421.45,56.9 421.80,54.3 422.15,55.6 422.50,55.8 422.85,61.1 423.20,57.8 423.55,57.0 423.90,61.2 424.25,58.5 424.60,59.9 424.95,56.5 425.30,56.4 425.65,56.1 426.00,58.0 426.35,56.5 426.70,58.0 427.05,56.1 427.40,60.0 427.75,58.3 428.10,54.6 428.45,58.2 428.80,54.0 429.15,54.6 429.50,56.8 429.85,55.7 430.20,55.0 430.55,54.9 430.90,55.2 431.25,58.3 431.60,57.4 431.95,55.6 432.30,56.7 432.65,54.0 433.00,58.4 433.35,55.2 433.70,58.6 434.05,55.5 434.40,56.2 434.75,55.4 435.10,56.3 435.45,53.7 435.80,54.4 436.15,55.7 436.50,55.4 436.85,59.2 437.20,57.6 437.55,55.8 437.90,56.9 438.25,58.5 438.60,56.1 438.95,53.9 439.30,54.8 439.65,56.2 440.00,55.4 440.35,56.2 440.70,54.9 441.05,55.2 441.40,56.1 441.75,56.9 442.10,54.7 442.45,57.0 442.80,56.6 443.15,58.8 443.50,56.8 443.85,54.9 444.20,57.5 444.55,55.3 444.90,57.8 445.25,56.3 445.60,58.3 445.95,55.3 446.30,55.1 446.65,60.1 447.00,56.7 447.35,58.6 447.70,56.4 448.05,57.3 448.40,55.5 448.75,58.1 449.10,56.3 449.45,58.4 449.80,56.9 450.15,58.0 450.50,56.8 450.85,59.4 451.20,59.4 451.55,59.2 451.90,61.4 452.25,58.8 452.60,63.4 452.95,62.0 453.30,64.0 453.65,61.2 454.00,62.5 454.35,60.9 454.70,60.2 455.05,61.9 455.40,59.6 455.75,61.2 456.10,62.4 456.45,61.6 456.80,63.6 457.15,60.2 457.50,61.3 457.85,60.4 458.20,60.1 458.55,63.2 458.90,59.8 459.25,62.6 459.60,62.8 459.95,63.1 460.30,62.3 460.65,60.8 461.00,61.8 461.35,62.2 461.70,61.6 462.05,61.3 462.40,60.1 462.75,63.0 463.10,62.0 463.45,63.7 463.80,63.1 464.15,61.2 464.50,61.9 464.85,62.7 465.20,60.1 465.55,63.0 465.90,60.2 466.25,60.9 466.60,65.0 466.95,64.8 467.30,65.9 467.65,64.5 468.00,66.0 468.35,64.6 468.70,63.4 469.05,63.6 469.40,65.9 469.75,64.1 470.10,63.9 470.45,64.3 470.80,64.9 471.15,65.9 471.50,65.2 471.85,65.9 472.20,64.9 472.55,65.3 472.90,66.4 473.25,65.2 473.60,65.0 473.95,65.5 474.30,63.7 474.65,64.7 475.00,64.7 475.35,64.4 475.70,65.3 476.05,64.3 476.40,65.7 476.75,65.5 477.10,64.3 477.45,65.3 477.80,65.5 478.15,65.5 478.50,65.9 478.85,65.2 479.20,65.7 479.55,63.7 479.90,65.4 480.25,67.4 480.60,67.1 480.95,65.3 481.30,64.2 481.65,66.7 482.00,65.0 482.35,66.3 482.70,66.8 483.05,68.0 483.40,66.5 483.75,64.9 484.10,66.8 484.45,67.0 484.80,66.6 485.15,64.3 485.50,65.0 485.85,66.1 486.20,65.8 486.55,67.6 486.90,67.0 487.25,67.5 487.60,64.8 487.95,68.2 488.30,64.7 488.65,65.6 489.00,67.4 489.35,67.4 489.70,67.8 490.05,66.2 490.40,66.4 490.75,66.3 491.10,65.0 491.45,67.8 491.80,67.1 492.15,65.5 492.50,65.5 492.85,67.8 493.20,68.6 493.55,67.9 493.90,68.4 494.25,67.9 494.60,66.4 494.95,65.7 495.30,67.7 495.65,68.8 496.00,66.4 496.35,68.3 496.70,67.2 497.05,68.1 497.40,66.6 497.75,69.5 498.10,66.2 498.45,65.8 498.80,66.8 499.15,66.2 499.50,68.9 499.85,67.1 500.20,67.1 500.55,70.4 500.90,66.5 501.25,66.5 501.60,67.4 501.95,66.2 502.30,67.9 502.65,68.1 503.00,68.0 503.35,66.9 503.70,69.4 504.05,67.7 504.40,68.3 504.75,69.3 505.10,66.3 505.45,69.7 505.80,67.4 506.15,69.2 506.50,67.1 506.85,69.2 507.20,69.3 507.55,66.7 507.90,67.5 508.25,67.6 508.60,66.8 508.95,66.8 509.30,69.1 509.65,67.6 510.00,68.1 510.35,67.1 510.70,69.1 511.05,68.3 511.40,69.4 511.75,67.8 512.10,67.0 512.45,68.7 512.80,68.1 513.15,67.8 513.50,67.2 513.85,69.7 514.20,67.9 514.55,69.8 514.90,68.0 515.25,69.4 515.60,69.0 515.95,67.9 516.30,68.8 516.65,69.6 517.00,69.8 517.35,69.1 517.70,66.9 518.05,67.8 518.40,67.0 518.75,67.9 519.10,66.8 519.45,68.3 519.80,69.2 520.15,67.8 520.50,68.8 520.85,70.1 521.20,67.7 521.55,69.6 521.90,68.6 522.25,67.0 522.60,69.0 522.95,68.5 523.30,67.4 523.65,68.1 524.00,68.5 524.35,68.1 524.70,68.6 525.05,67.2 525.40,68.6 525.75,67.8 526.10,67.9 526.45,67.7 526.80,69.3 527.15,67.3 527.50,67.3 527.85,68.2 528.20,68.3 528.55,68.2 528.90,69.5 529.25,70.6 529.60,68.0 529.95,69.2 529.95,85.6 529.60,81.1 529.25,87.7 528.90,91.5 528.55,90.9 528.20,96.5 527.85,83.3 527.50,84.4 527.15,88.9 526.80,85.5 526.45,88.1 526.10,83.2 525.75,92.9 525.40,84.6 525.05,80.8 524.70,80.4 524.35,81.8 524.00,81.2 523.65,92.3 523.30,87.5 522.95,84.4 522.60,83.9 522.25,80.3 521.90,87.7 521.55,96.9 521.20,81.7 520.85,87.6 520.50,90.4 520.15,85.7 519.80,81.8 519.45,83.4 519.10,86.4 518.75,85.5 518.40,85.5 518.05,82.6 517.70,94.6 517.35,94.9 517.00,89.7 516.65,82.2 516.30,93.5 515.95,88.6 515.60,91.8 515.25,84.8 514.90,86.5 514.55,80.6 514.20,93.1 513.85,80.8 513.50,85.5 513.15,90.6 512.80,94.6 512.45,96.1 512.10,96.8 511.75,82.2 511.40,91.8 511.05,85.5 510.70,86.7 510.35,86.5 510.00,82.0 509.65,92.0 509.30,91.1 508.95,87.1 508.60,92.5 508.25,85.5 507.90,85.5 507.55,95.4 507.20,96.8 506.85,95.3 506.50,93.5 506.15,84.3 505.80,93.2 505.45,91.2 505.10,80.5 504.75,88.6 504.40,82.4 504.05,96.8 503.70,85.0 503.35,87.1 503.00,89.2 502.65,90.6 502.30,85.0 501.95,94.8 501.60,81.0 501.25,86.9 500.90,81.9 500.55,89.8 500.20,81.0 499.85,88.0 499.50,97.0 499.15,88.2 498.80,88.5 498.45,90.7 498.10,96.5 497.75,87.6 497.40,85.2 497.05,93.8 496.70,96.2 496.35,94.3 496.00,80.5 495.65,84.2 495.30,88.1 494.95,80.5 494.60,82.1 494.25,82.8 493.90,89.8 493.55,81.8 493.20,86.7 492.85,92.2 492.50,84.0 492.15,80.8 491.80,95.4 491.45,87.3 491.10,87.6 490.75,81.3 490.40,91.2 490.05,81.4 489.70,94.3 489.35,91.3 489.00,88.9 488.65,87.3 488.30,86.7 487.95,91.3 487.60,95.7 487.25,94.3 486.90,89.2 486.55,82.6 486.20,81.6 485.85,91.1 485.50,96.1 485.15,90.8 484.80,91.6 484.45,93.5 484.10,91.6 483.75,84.0 483.40,81.9 483.05,80.8 482.70,95.3 482.35,95.1 482.00,80.3 481.65,88.1 481.30,86.7 480.95,83.7 480.60,91.4 480.25,91.8 479.90,92.3 479.55,86.8 479.20,92.9 478.85,94.3 478.50,87.7 478.15,89.9 477.80,86.6 477.45,84.5 477.10,80.9 476.75,89.9 476.40,85.1 476.05,81.1 475.70,92.8 475.35,94.5 475.00,92.5 474.65,95.5 474.30,93.7 473.95,90.0 473.60,80.6 473.25,87.1 472.90,90.8 472.55,94.5 472.20,89.2 471.85,94.0 471.50,93.8 471.15,84.2 470.80,90.5 470.45,84.5 470.10,86.0 469.75,88.1 469.40,95.3 469.05,81.9 468.70,89.4 468.35,80.2 468.00,87.4 467.65,90.9 467.30,82.4 466.95,79.8 466.60,87.7 466.25,84.7 465.90,89.2 465.55,82.5 465.20,83.0 464.85,91.1 464.50,83.7 464.15,79.8 463.80,82.8 463.45,82.5 463.10,93.4 462.75,89.7 462.40,80.9 462.05,83.0 461.70,94.6 461.35,80.1 461.00,80.8 460.65,82.0 460.30,79.1 459.95,81.5 459.60,93.6 459.25,80.4 458.90,79.8 458.55,92.6 458.20,78.4 457.85,83.5 457.50,87.3 457.15,86.6 456.80,85.0 456.45,90.0 456.10,79.6 455.75,80.1 455.40,88.1 455.05,83.0 454.70,88.9 454.35,84.0 454.00,90.2 453.65,90.7 453.30,78.7 452.95,91.5 452.60,85.1 452.25,78.2 451.90,80.6 451.55,91.6 451.20,89.3 450.85,89.6 450.50,88.2 450.15,77.2 449.80,88.9 449.45,89.0 449.10,85.8 448.75,84.0 448.40,77.4 448.05,79.3 447.70,87.8 447.35,82.1 447.00,77.7 446.65,83.9 446.30,79.8 445.95,80.2 445.60,77.8 445.25,78.7 444.90,91.7 444.55,90.3 444.20,91.0 443.85,76.1 443.50,84.8 443.15,76.7 442.80,81.7 442.45,83.6 442.10,85.2 441.75,82.2 441.40,85.5 441.05,79.5 440.70,76.1 440.35,90.1 440.00,76.1 439.65,83.7 439.30,79.9 438.95,80.8 438.60,80.8 438.25,82.8 437.90,75.2 437.55,80.3 437.20,79.2 436.85,77.4 436.50,88.0 436.15,77.8 435.80,88.1 435.45,90.5 435.10,81.1 434.75,85.2 434.40,84.7 434.05,86.6 433.70,89.0 433.35,89.5 433.00,85.4 432.65,90.4 432.30,87.6 431.95,84.0 431.60,77.2 431.25,75.8 430.90,81.4 430.55,76.4 430.20,83.2 429.85,80.8 429.50,80.5 429.15,75.6 428.80,84.1 428.45,84.3 428.10,83.2 427.75,81.1 427.40,74.7 427.05,74.3 426.70,77.6 426.35,89.7 426.00,82.7 425.65,74.6 425.30,81.0 424.95,74.0 424.60,79.4 424.25,83.1 423.90,84.3 423.55,80.2 423.20,84.7 422.85,74.9 422.50,82.0 422.15,76.4 421.80,85.6 421.45,74.8 421.10,74.8 420.75,87.2 420.40,75.0 420.05,76.5 419.70,73.3 419.35,82.5 419.00,78.1 418.65,79.2 418.30,81.2 417.95,74.4 417.60,72.8 417.25,78.7 416.90,81.8 416.55,74.5 416.20,75.9 415.85,84.6 415.50,87.6 415.15,83.2 414.80,87.0 414.45,81.0 414.10,77.0 413.75,75.4 413.40,79.8 413.05,82.6 412.70,75.1 412.35,87.7 412.00,79.4 411.65,72.7 411.30,78.3 410.95,79.9 410.60,75.8 410.25,74.1 409.90,83.1 409.55,87.1 409.20,85.5 408.85,82.1 408.50,87.0 408.15,73.5 407.80,86.6 407.45,83.0 407.10,85.0 406.75,72.4 406.40,76.0 406.05,72.1 405.70,78.9 405.35,75.6 405.00,82.3 404.65,71.7 404.30,84.3 403.95,83.4 403.60,76.4 403.25,72.0 402.90,76.0 402.55,72.8 402.20,75.2 401.85,78.8 401.50,73.6 401.15,83.2 400.80,72.9 400.45,76.6 400.10,80.2 399.75,72.0 399.40,81.9 399.05,71.1 398.70,78.1 398.35,79.4 398.00,85.3 397.65,73.4 397.30,81.4 396.95,83.8 396.60,86.0 396.25,84.5 395.90,72.1 395.55,71.8 395.20,70.9 394.85,77.8 394.50,71.6 394.15,82.3 393.80,70.5 393.45,78.0 393.10,82.6 392.75,74.7 392.40,78.4 392.05,75.5 391.70,70.3 391.35,78.1 391.00,82.5 390.65,83.0 390.30,78.4 389.95,81.6 389.60,77.6 389.25,73.2 388.90,71.7 388.55,70.9 388.20,84.2 387.85,70.2 387.50,80.1 387.15,70.9 386.80,78.6 386.45,82.6 386.10,71.4 385.75,75.3 385.40,72.3 385.05,71.2 384.70,75.7 384.35,71.5 384.00,70.4 383.65,71.1 383.30,77.9 382.95,76.2 382.60,77.7 382.25,69.3 381.90,75.9 381.55,73.0 381.20,79.6 380.85,77.1 380.50,71.3 380.15,75.1 379.80,81.1 379.45,78.2 379.10,74.4 378.75,77.6 378.40,81.7 378.05,76.1 377.70,73.7 377.35,75.0 377.00,73.2 376.65,70.2 376.30,73.2 375.95,81.0 375.60,69.2 375.25,75.4 374.90,83.2 374.55,70.2 374.20,80.0 373.85,74.7 373.50,71.3 373.15,70.1 372.80,75.7 372.45,68.9 372.10,74.0 371.75,77.8 371.40,77.7 371.05,78.5 370.70,71.9 370.35,72.2 370.00,78.9 369.65,72.0 369.30,80.0 368.95,73.8 368.60,69.0 368.25,75.9 367.90,71.9 367.55,75.5 367.20,68.3 366.85,82.7 366.50,79.4 366.15,70.3 365.80,73.7 365.45,76.9 365.10,71.4 364.75,81.2 364.40,71.3 364.05,79.6 363.70,77.7 363.35,68.2 363.00,72.5 362.65,69.9 362.30,79.8 361.95,69.6 361.60,68.6 361.25,67.7 360.90,79.2 360.55,71.4 360.20,71.1 359.85,70.4 359.50,69.5 359.15,70.1 358.80,75.6 358.45,81.1 358.10,72.9 357.75,72.7 357.40,68.9 357.05,78.6 356.70,76.8 356.35,67.5 356.00,75.6 355.65,81.2 355.30,70.1 354.95,80.0 354.60,69.6 354.25,76.3 353.90,78.1 353.55,73.3 353.20,72.4 352.85,73.4 352.50,78.6 352.15,67.9 351.80,77.4 351.45,77.8 351.10,69.6 350.75,71.8 350.40,79.2 350.05,75.9 349.70,68.5 349.35,74.8 349.00,71.4 348.65,66.9 348.30,68.2 347.95,76.5 347.60,75.2 347.25,77.3 346.90,75.5 346.55,74.9 346.20,70.8 345.85,80.1 345.50,77.8 345.15,77.9 344.80,73.2 344.45,67.1 344.10,80.2 343.75,66.5 343.40,80.3 343.05,69.8 342.70,75.0 342.35,70.1 342.00,80.6 341.65,80.9 341.30,76.8 340.95,70.4 340.60,75.9 340.25,79.5 339.90,73.4 339.55,66.0 339.20,70.4 338.85,69.1 338.50,71.5 338.15,70.1 337.80,70.0 337.45,76.9 337.10,71.2 336.75,67.0 336.40,66.1 336.05,74.0 335.70,78.9 335.35,78.4 335.00,77.8 334.65,78.0 334.30,66.9 333.95,73.2 333.60,74.8 333.25,67.6 332.90,76.8 332.55,66.9 332.20,76.4 331.85,78.2 331.50,79.3 331.15,76.6 330.80,71.5 330.45,66.7 330.10,68.9 329.75,76.9 329.40,72.3 329.05,80.3 328.70,68.9 328.35,72.0 328.00,70.4 327.65,73.4 327.30,66.2 326.95,67.3 326.60,71.7 326.25,71.2 325.90,68.0 325.55,73.5 325.20,81.6 324.85,71.3 324.50,72.1 324.15,78.8 323.80,85.5 323.45,74.7 323.10,84.3 322.75,78.7 322.40,86.2 322.05,83.7 321.70,94.9 321.35,85.4 321.00,90.6" fill="#ff00ff" fill-opacity="0.55"/>
<polygon points="321.00,70.5 321.35,62.1 321.70,71.4 322.05,66.5 322.40,56.2 322.75,44.6 323.10,48.4 323.45,51.2 323.80,44.5 324.15,46.8 324.50,43.0 324.85,40.7 325.20,43.6 325.55,49.6 325.90,48.5 326.25,42.3 326.60,36.5 326.95,38.2 327.30,40.2 327.65,35.5 328.00,40.1 328.35,39.8 328.70,43.5 329.05,47.9 329.40,41.7 329.75,39.0 330.10,34.5 330.45,32.7 330.80,34.4 331.15,41.3 331.50,37.2 331.85,38.9 332.20,46.9 332.55,47.1 332.90,38.3 333.25,34.0 333.60,30.5 333.95,38.6 334.30,32.6 334.65,31.3 335.00,39.5 335.35,32.0 335.70,36.6 336.05,34.8 336.40,41.3 336.75,44.0 337.10,37.8 337.45,31.8 337.80,37.9 338.15,37.9 338.50,46.3 338.85,41.0 339.20,40.3 339.55,50.2 339.90,48.1 340.25,41.9 340.60,45.3 340.95,52.6 341.30,42.0 341.65,42.2 342.00,48.5 342.35,43.8 342.70,44.7 343.05,53.7 343.40,52.7 343.75,54.8 344.10,47.7 344.45,46.1 344.80,51.5 345.15,48.3 345.50,45.4 345.85,51.6 346.20,47.7 346.55,56.0 346.90,55.1 347.25,44.9 347.60,48.1 347.95,50.4 348.30,54.8 348.65,54.2 349.00,54.5 349.35,52.9 349.70,50.9 350.05,51.6 350.40,49.9 350.75,49.9 351.10,53.5 351.45,48.2 351.80,52.5 352.15,45.1 352.50,53.1 352.85,43.0 353.20,49.1 353.55,43.4 353.90,44.5 354.25,52.4 354.60,41.7 354.95,44.5 355.30,42.3 355.65,47.3 356.00,48.0 356.35,45.9 356.70,45.1 357.05,47.8 357.40,48.2 357.75,45.9 358.10,45.8 358.45,49.1 358.80,43.9 359.15,48.4 359.50,45.0 359.85,50.6 360.20,44.2 360.55,47.3 360.90,45.8 361.25,55.0 361.60,52.1 361.95,54.4 362.30,53.0 362.65,49.1 363.00,54.5 363.35,50.8 363.70,54.2 364.05,51.0 364.40,51.5 364.75,48.3 365.10,56.2 365.45,54.5 365.80,50.1 366.15,53.7 366.50,50.0 366.85,52.7 367.20,56.3 367.55,54.2 367.90,55.5 368.25,53.2 368.60,54.7 368.95,57.9 369.30,52.8 369.65,55.4 370.00,55.1 370.35,56.9 370.70,55.9 371.05,54.1 371.40,59.9 371.75,60.9 372.10,56.5 372.45,56.8 372.80,52.2 373.15,52.5 373.50,57.5 373.85,59.1 374.20,55.9 374.55,52.0 374.90,57.1 375.25,53.3 375.60,53.1 375.95,51.6 376.30,51.4 376.65,51.4 377.00,54.2 377.35,52.7 377.70,53.3 378.05,56.0 378.40,52.6 378.75,50.9 379.10,54.3 379.45,55.7 379.80,53.3 380.15,50.2 380.50,53.2 380.85,50.8 381.20,55.2 381.55,52.1 381.90,56.7 382.25,58.2 382.60,51.5 382.95,52.5 383.30,58.1 383.65,55.6 384.00,55.8 384.35,60.0 384.70,58.8 385.05,55.3 385.40,62.9 385.75,55.2 386.10,54.8 386.45,59.8 386.80,61.9 387.15,59.2 387.50,64.4 387.85,60.4 388.20,60.5 388.55,60.3 388.90,60.4 389.25,59.6 389.60,60.1 389.95,56.9 390.30,56.1 390.65,60.2 391.00,58.1 391.35,62.2 391.70,64.0 392.05,59.8 392.40,59.6 392.75,60.3 393.10,60.1 393.45,55.4 393.80,55.8 394.15,59.0 394.50,62.9 394.85,59.2 395.20,62.4 395.55,60.6 395.90,58.2 396.25,59.0 396.60,56.8 396.95,59.6 397.30,57.3 397.65,56.8 398.00,59.0 398.35,58.4 398.70,59.6 399.05,56.1 399.40,57.2 399.75,58.0 400.10,59.2 400.45,58.4 400.80,58.1 401.15,56.8 401.50,59.8 401.85,61.6 402.20,56.2 402.55,59.4 402.90,58.5 403.25,60.2 403.60,58.5 403.95,60.4 404.30,59.5 404.65,58.3 405.00,57.5 405.35,55.6 405.70,54.9 406.05,53.3 406.40,54.2 406.75,54.3 407.10,50.8 407.45,54.9 407.80,54.2 408.15,56.2 408.50,51.8 408.85,51.3 409.20,53.8 409.55,52.2 409.90,51.3 410.25,54.9 410.60,51.9 410.95,52.0 411.30,52.4 411.65,50.7 412.00,54.2 412.35,51.1 412.70,52.4 413.05,52.4 413.40,51.9 413.75,52.0 414.10,52.9 414.45,54.6 414.80,49.6 415.15,54.8 415.50,52.2 415.85,51.7 416.20,50.6 416.55,52.7 416.90,52.2 417.25,54.9 417.60,54.3 417.95,50.7 418.30,54.6 418.65,55.0 419.00,53.2 419.35,52.2 419.70,54.6 420.05,55.8 420.40,56.4 420.75,57.2 421.10,58.9 421.45,57.3 421.80,59.9 422.15,59.0 422.50,57.5 422.85,58.3 423.20,62.1 423.55,62.4 423.90,60.5 424.25,62.0 424.60,62.4 424.95,57.6 425.30,60.6 425.65,57.4 426.00,58.0 426.35,59.2 426.70,57.6 427.05,59.5 427.40,57.2 427.75,57.1 428.10,55.8 428.45,55.7 428.80,58.1 429.15,56.7 429.50,57.4 429.85,58.7 430.20,58.8 430.55,55.8 430.90,59.3 431.25,57.9 431.60,57.1 431.95,56.7 432.30,58.6 432.65,59.0 433.00,60.8 433.35,55.7 433.70,59.0 434.05,56.9 434.40,56.6 434.75,57.0 435.10,56.4 435.45,58.8 435.80,58.7 436.15,56.0 436.50,60.6 436.85,58.6 437.20,58.7 437.55,58.1 437.90,58.2 438.25,58.8 438.60,56.6 438.95,58.1 439.30,55.1 439.65,57.3 440.00,55.7 440.35,57.2 440.70,58.2 441.05,57.7 441.40,57.1 441.75,59.0 442.10,57.2 442.45,56.2 442.80,56.6 443.15,57.0 443.50,58.1 443.85,59.7 444.20,56.3 444.55,57.1 444.90,60.3 445.25,56.9 445.60,57.3 445.95,57.2 446.30,60.0 446.65,60.6 447.00,57.3 447.35,59.0 447.70,60.7 448.05,57.4 448.40,58.1 448.75,58.9 449.10,59.0 449.45,59.4 449.80,58.9 450.15,58.3 450.50,59.8 450.85,63.2 451.20,62.4 451.55,59.3 451.90,59.7 452.25,62.4 452.60,62.1 452.95,64.4 453.30,64.6 453.65,62.9 454.00,62.0 454.35,63.5 454.70,61.6 455.05,63.4 455.40,64.2 455.75,61.7 456.10,65.4 456.45,63.9 456.80,66.0 457.15,63.1 457.50,63.9 457.85,64.7 458.20,63.3 458.55,61.3 458.90,64.6 459.25,64.5 459.60,61.8 459.95,65.2 460.30,64.6 460.65,62.9 461.00,62.3 461.35,65.2 461.70,62.8 462.05,61.8 462.40,63.6 462.75,63.6 463.10,64.0 463.45,63.8 463.80,62.3 464.15,65.5 464.50,63.7 464.85,61.7 465.20,62.8 465.55,62.0 465.90,61.3 466.25,62.8 466.60,64.3 466.95,66.4 467.30,67.4 467.65,66.4 468.00,68.4 468.35,64.3 468.70,65.3 469.05,65.4 469.40,67.5 469.75,69.2 470.10,69.1 470.45,65.3 470.80,68.7 471.15,66.7 471.50,65.3 471.85,66.3 472.20,65.0 472.55,68.0 472.90,65.4 473.25,66.4 473.60,65.8 473.95,66.8 474.30,64.8 474.65,65.2 475.00,64.9 475.35,65.5 475.70,67.4 476.05,64.8 476.40,65.8 476.75,65.8 477.10,65.1 477.45,65.1 477.80,67.4 478.15,68.1 478.50,67.6 478.85,68.5 479.20,67.8 479.55,67.1 479.90,66.3 480.25,69.4 480.60,65.6 480.95,66.0 481.30,66.7 481.65,66.3 482.00,65.8 482.35,66.9 482.70,66.2 483.05,68.0 483.40,68.3 483.75,67.4 484.10,65.8 484.45,68.3 484.80,67.1 485.15,68.5 485.50,66.6 485.85,66.8 486.20,68.8 486.55,68.0 486.90,69.6 487.25,68.5 487.60,69.0 487.95,69.6 488.30,67.9 488.65,68.4 489.00,66.4 489.35,66.7 489.70,70.0 490.05,68.9 490.40,68.0 490.75,68.9 491.10,69.5 491.45,68.8 491.80,66.8 492.15,67.0 492.50,68.6 492.85,68.8 493.20,68.9 493.55,68.9 493.90,69.2 494.25,68.9 494.60,69.7 494.95,68.8 495.30,68.8 495.65,68.8 496.00,68.0 496.35,68.2 496.70,69.4 497.05,70.0 497.40,67.8 497.75,68.9 498.10,69.1 498.45,68.9 498.80,69.4 499.15,68.4 499.50,70.7 499.85,70.1 500.20,70.6 500.55,68.9 500.90,69.4 501.25,68.8 501.60,68.1 501.95,69.0 502.30,67.9 502.65,69.7 503.00,69.9 503.35,69.5 503.70,71.0 504.05,68.4 504.40,70.9 504.75,68.2 505.10,68.7 505.45,68.4 505.80,69.0 506.15,71.9 506.50,71.7 506.85,69.9 507.20,69.1 507.55,70.7 507.90,68.4 508.25,68.0 508.60,69.9 508.95,68.5 509.30,68.6 509.65,71.0 510.00,68.3 510.35,71.2 510.70,69.1 511.05,69.1 511.40,70.0 511.75,69.5 512.10,68.1 512.45,70.6 512.80,69.3 513.15,69.5 513.50,69.9 513.85,68.9 514.20,68.5 514.55,69.3 514.90,68.8 515.25,69.8 515.60,69.7 515.95,69.4 516.30,70.6 516.65,69.8 517.00,69.9 517.35,70.6 517.70,69.1 518.05,69.9 518.40,70.4 518.75,69.8 519.10,69.7 519.45,68.4 519.80,69.1 520.15,71.4 520.50,71.6 520.85,72.2 521.20,71.0 521.55,68.9 521.90,70.6 522.25,69.4 522.60,69.6 522.95,69.8 523.30,69.6 523.65,71.6 524.00,71.6 524.35,70.0 524.70,69.1 525.05,69.8 525.40,70.1 525.75,68.9 526.10,70.5 526.45,69.4 526.80,72.3 527.15,71.5 527.50,71.4 527.85,69.8 528.20,68.6 528.55,69.7 528.90,70.2 529.25,69.5 529.60,70.2 529.95,70.6 529.95,81.6 529.60,93.1 529.25,86.9 528.90,90.8 528.55,85.8 528.20,95.0 527.85,88.5 527.50,83.0 527.15,78.5 526.80,86.4 526.45,84.1 526.10,81.6 525.75,80.9 525.40,84.6 525.05,93.3 524.70,80.5 524.35,82.5 524.00,84.5 523.65,82.4 523.30,85.3 522.95,94.0 522.60,87.3 522.25,88.5 521.90,91.9 521.55,93.7 521.20,78.2 520.85,81.0 520.50,83.1 520.15,87.5 519.80,80.4 519.45,82.2 519.10,88.0 518.75,82.5 518.40,84.2 518.05,86.2 517.70,78.6 517.35,88.1 517.00,93.6 516.65,80.2 516.30,93.6 515.95,80.8 515.60,82.1 515.25,84.4 514.90,90.6 514.55,88.5 514.20,79.0 513.85,93.9 513.50,92.1 513.15,81.2 512.80,89.7 512.45,89.2 512.10,93.5 511.75,90.3 511.40,86.2 511.05,83.9 510.70,95.1 510.35,91.6 510.00,91.1 509.65,84.4 509.30,87.3 508.95,89.6 508.60,86.4 508.25,83.0 507.90,80.4 507.55,86.5 507.20,80.3 506.85,80.9 506.50,92.1 506.15,90.1 505.80,84.8 505.45,80.1 505.10,83.4 504.75,80.3 504.40,78.8 504.05,90.5 503.70,84.8 503.35,92.8 503.00,92.6 502.65,92.2 502.30,80.8 501.95,91.0 501.60,91.2 501.25,93.8 500.90,86.8 500.55,88.2 500.20,81.8 499.85,79.3 499.50,82.3 499.15,90.6 498.80,91.3 498.45,86.5 498.10,82.6 497.75,80.2 497.40,79.6 497.05,93.5 496.70,80.3 496.35,85.3 496.00,86.8 495.65,88.6 495.30,92.8 494.95,85.8 494.60,89.2 494.25,89.4 493.90,89.5 493.55,83.3 493.20,88.9 492.85,78.3 492.50,85.7 492.15,93.5 491.80,78.9 491.45,83.5 491.10,90.7 490.75,88.4 490.40,92.1 490.05,85.8 489.70,86.7 489.35,91.9 489.00,91.5 488.65,89.0 488.30,93.2 487.95,79.2 487.60,88.4 487.25,90.8 486.90,87.0 486.55,92.2 486.20,78.9 485.85,84.3 485.50,81.4 485.15,90.0 484.80,85.8 484.45,84.9 484.10,78.7 483.75,90.5 483.40,92.5 483.05,86.4 482.70,86.9 482.35,79.8 482.00,84.3 481.65,78.5 481.30,92.1 480.95,78.6 480.60,85.2 480.25,85.2 479.90,78.9 479.55,83.0 479.20,78.2 478.85,93.7 478.50,91.2 478.15,83.5 477.80,82.6 477.45,78.0 477.10,90.8 476.75,93.6 476.40,89.4 476.05,86.2 475.70,82.0 475.35,93.4 475.00,84.7 474.65,80.8 474.30,79.7 473.95,79.9 473.60,92.1 473.25,88.0 472.90,85.3 472.55,78.9 472.20,92.6 471.85,85.5 471.50,93.4 471.15,79.9 470.80,84.0 470.45,81.4 470.10,83.9 469.75,88.0 469.40,89.0 469.05,78.1 468.70,86.0 468.35,84.0 468.00,91.1 467.65,83.0 467.30,85.3 466.95,81.9 466.60,78.7 466.25,79.2 465.90,77.1 465.55,88.1 465.20,82.4 464.85,91.1 464.50,85.0 464.15,86.2 463.80,85.0 463.45,91.8 463.10,88.2 462.75,85.9 462.40,80.3 462.05,84.0 461.70,78.0 461.35,86.8 461.00,89.0 460.65,84.0 460.30,91.6 459.95,87.5 459.60,88.4 459.25,92.4 458.90,76.4 458.55,86.6 458.20,77.2 457.85,77.6 457.50,88.6 457.15,77.8 456.80,76.7 456.45,83.8 456.10,76.2 455.75,89.9 455.40,80.2 455.05,76.0 454.70,81.8 454.35,85.5 454.00,81.3 453.65,82.5 453.30,77.1 452.95,90.2 452.60,82.1 452.25,84.1 451.90,76.0 451.55,81.1 451.20,82.1 450.85,90.9 450.50,78.4 450.15,80.4 449.80,75.2 449.45,81.8 449.10,83.3 448.75,81.9 448.40,83.2 448.05,76.0 447.70,74.7 447.35,79.6 447.00,81.2 446.65,83.0 446.30,86.0 445.95,89.3 445.60,76.0 445.25,84.1 444.90,79.3 444.55,75.0 444.20,90.1 443.85,88.3 443.50,79.5 443.15,86.4 442.80,75.2 442.45,81.2 442.10,75.0 441.75,79.4 441.40,86.9 441.05,76.0 440.70,80.6 440.35,79.7 440.00,76.8 439.65,87.7 439.30,86.2 438.95,74.1 438.60,88.9 438.25,82.4 437.90,73.8 437.55,79.1 437.20,78.2 436.85,83.8 436.50,81.9 436.15,79.0 435.80,74.8 435.45,79.1 435.10,86.6 434.75,82.4 434.40,74.0 434.05,85.7 433.70,81.2 433.35,73.5 433.00,86.7 432.65,79.8 432.30,76.2 431.95,72.7 431.60,74.0 431.25,76.7 430.90,86.5 430.55,76.3 430.20,76.8 429.85,74.5 429.50,83.0 429.15,76.1 428.80,72.3 428.45,80.4 428.10,84.2 427.75,75.8 427.40,76.7 427.05,85.6 426.70,78.3 426.35,85.4 426.00,87.3 425.65,73.2 425.30,84.5 424.95,73.5 424.60,74.0 424.25,79.5 423.90,80.8 423.55,82.9 423.20,80.8 422.85,77.7 422.50,79.6 422.15,86.5 421.80,81.6 421.45,71.4 421.10,79.0 420.75,72.2 420.40,74.0 420.05,77.0 419.70,86.3 419.35,83.9 419.00,72.1 418.65,72.1 418.30,71.6 417.95,82.7 417.60,74.2 417.25,85.6 416.90,77.2 416.55,79.4 416.20,80.7 415.85,85.9 415.50,73.2 415.15,79.1 414.80,83.1 414.45,70.3 414.10,81.9 413.75,73.4 413.40,75.4 413.05,77.8 412.70,82.2 412.35,77.0 412.00,85.7 411.65,72.2 411.30,85.2 410.95,75.1 410.60,72.8 410.25,72.5 409.90,76.7 409.55,73.8 409.20,83.8 408.85,73.1 408.50,70.7 408.15,85.4 407.80,72.0 407.45,75.9 407.10,71.2 406.75,70.1 406.40,83.5 406.05,72.2 405.70,75.3 405.35,74.9 405.00,82.2 404.65,82.5 404.30,84.3 403.95,72.9 403.60,72.2 403.25,77.2 402.90,73.2 402.55,80.8 402.20,81.6 401.85,69.3 401.50,69.9 401.15,70.1 400.80,73.9 400.45,80.4 400.10,74.6 399.75,76.0 399.40,75.9 399.05,75.1 398.70,77.8 398.35,83.2 398.00,71.4 397.65,78.0 397.30,72.1 396.95,69.5 396.60,78.9 396.25,75.2 395.90,77.5 395.55,69.5 395.20,78.8 394.85,74.2 394.50,72.2 394.15,72.6 393.80,76.3 393.45,70.9 393.10,70.0 392.75,77.4 392.40,70.3 392.05,81.5 391.70,80.7 391.35,83.4 391.00,70.4 390.65,74.7 390.30,73.4 389.95,70.1 389.60,69.4 389.25,77.0 388.90,69.1 388.55,75.2 388.20,76.2 387.85,82.3 387.50,78.8 387.15,79.8 386.80,73.9 386.45,75.2 386.10,74.1 385.75,70.1 385.40,68.1 385.05,82.7 384.70,76.9 384.35,69.1 384.00,76.8 383.65,69.9 383.30,78.7 382.95,75.5 382.60,69.8 382.25,72.6 381.90,75.0 381.55,71.1 381.20,69.5 380.85,75.4 380.50,79.0 380.15,81.5 379.80,73.9 379.45,75.7 379.10,75.6 378.75,68.6 378.40,70.2 378.05,72.3 377.70,71.5 377.35,81.0 377.00,80.4 376.65,81.1 376.30,71.4 375.95,73.4 375.60,73.4 375.25,71.5 374.90,70.3 374.55,68.7 374.20,68.7 373.85,68.2 373.50,75.3 373.15,69.8 372.80,73.5 372.45,79.9 372.10,75.6 371.75,73.3 371.40,71.0 371.05,78.0 370.70,68.2 370.35,77.5 370.00,69.6 369.65,67.8 369.30,72.2 368.95,72.9 368.60,70.3 368.25,71.9 367.90,68.6 367.55,78.7 367.20,68.9 366.85,75.8 366.50,70.4 366.15,69.6 365.80,71.1 365.45,66.7 365.10,79.3 364.75,80.8 364.40,79.2 364.05,80.7 363.70,80.4 363.35,69.8 363.00,67.7 362.65,80.4 362.30,71.3 361.95,65.9 361.60,77.7 361.25,69.4 360.90,72.7 360.55,76.6 360.20,72.2 359.85,65.8 359.50,65.8 359.15,78.8 358.80,67.7 358.45,75.3 358.10,76.6 357.75,74.0 357.40,65.6 357.05,69.0 356.70,65.5 356.35,78.3 356.00,80.0 355.65,66.0 355.30,73.2 354.95,73.3 354.60,75.8 354.25,77.1 353.90,65.2 353.55,72.4 353.20,78.1 352.85,68.0 352.50,65.2 352.15,75.0 351.80,69.9 351.45,65.3 351.10,72.0 350.75,74.7 350.40,71.1 350.05,71.7 349.70,78.9 349.35,72.6 349.00,77.8 348.65,66.3 348.30,67.3 347.95,69.9 347.60,74.3 347.25,67.1 346.90,68.7 346.55,79.3 346.20,67.1 345.85,64.6 345.50,65.9 345.15,78.2 344.80,66.6 344.45,76.3 344.10,66.8 343.75,72.3 343.40,73.2 343.05,69.0 342.70,76.1 342.35,69.2 342.00,66.7 341.65,66.8 341.30,66.2 340.95,76.0 340.60,69.3 340.25,68.5 339.90,70.1 339.55,65.4 339.20,68.4 338.85,64.9 338.50,68.4 338.15,70.7 337.80,74.7 337.45,73.1 337.10,74.1 336.75,67.6 336.40,77.3 336.05,69.8 335.70,70.7 335.35,75.7 335.00,65.3 334.65,67.8 334.30,67.0 333.95,73.8 333.60,78.0 333.25,71.4 332.90,71.7 332.55,64.1 332.20,68.7 331.85,65.1 331.50,67.7 331.15,65.6 330.80,63.8 330.45,64.3 330.10,76.8 329.75,65.8 329.40,73.1 329.05,75.1 328.70,64.0 328.35,73.1 328.00,77.4 327.65,74.0 327.30,74.0 326.95,77.1 326.60,66.8 326.25,70.7 325.90,64.7 325.55,74.7 325.20,71.5 324.85,80.6 324.50,79.5 324.15,78.9 323.80,73.5 323.45,79.8 323.10,76.6 322.75,89.3 322.40,88.7 322.05,92.1 321.70,85.2 321.35,81.3 321.00,85.3" fill="#ff00ff" fill-opacity="0.55"/>
<path d="M321.80 59.6V96.4M322.99 43.9V89.4M324.79 45.4V82.1M326.10 41.2V79.4M327.88 40.5V79.1M329.56 40.3V78.5M330.79 36.9V80.8M332.12 32.2V75.8M333.75 31.9V79.5M335.44 32.0V75.6M336.81 36.7V80.2M338.55 39.6V76.0M339.76 40.2V78.9M341.52 47.2V78.7M342.63 47.5V80.5M343.64 47.3V79.8M344.99 50.0V81.8M346.66 51.1V77.7M348.38 50.5V78.5M349.49 51.4V78.8M350.99 49.5V78.1" stroke="#fff" stroke-width="0.5" stroke-opacity="0.75" fill="none"/>
<path d="M352.00 45.4V82.7M353.29 46.1V79.6M354.62 47.6V78.0M356.20 45.1V81.7M357.70 45.5V82.0M358.92 48.8V78.1M360.09 51.0V81.7M361.51 48.2V79.5M362.85 52.1V82.7M363.85 48.3V80.7M364.87 51.7V78.9M366.04 52.1V78.1M367.82 54.0V80.1M369.23 54.7V82.3M370.62 52.6V80.2M371.82 54.6V83.0M373.58 56.9V79.2M375.05 54.8V82.4M376.73 56.4V81.7M378.20 54.7V83.8M379.43 55.6V82.3M380.94 50.9V81.3M382.31 56.7V82.4M384.01 58.1V84.2M385.24 58.2V85.5M386.58 57.6V80.5M388.37 57.6V82.6M389.76 61.5V80.8M391.12 60.1V80.1M392.68 60.0V85.7M393.86 60.8V85.7M395.42 57.3V81.0M397.09 58.2V84.0M398.21 57.9V84.5M399.32 61.9V81.4" stroke="#fff" stroke-width="0.45" stroke-opacity="0.5" fill="none"/>
<path d="M400.00 59.1V83.5M401.67 63.3V85.8M403.12 61.0V82.9M404.13 59.9V86.9M405.23 58.2V86.6M406.74 55.6V84.4M407.90 53.4V85.9M409.37 56.1V83.8M410.89 53.7V84.5M412.35 52.4V82.9M413.68 55.1V87.3M415.14 52.1V85.0M416.67 55.2V87.4M418.37 52.9V84.8M419.84 58.4V87.5M421.44 56.2V87.8M422.64 61.5V87.5M424.21 61.1V87.5M425.35 62.6V87.3M426.73 61.3V89.4M428.17 58.8V87.9M429.40 62.7V85.6M430.63 59.8V89.2M431.83 61.6V89.3M433.60 59.6V88.7M435.17 61.5V89.0M436.47 59.0V85.5M437.83 59.9V85.9M439.43 61.7V86.2M440.69 60.3V88.0M442.14 59.1V85.9M443.60 57.5V91.9M444.90 60.0V86.4M446.24 58.3V90.0M447.98 63.9V87.1M449.39 62.7V88.4M450.64 62.6V89.2M451.65 65.7V90.7M453.09 67.1V93.2M454.70 67.0V93.6M456.11 63.3V91.1M457.65 67.6V93.1M459.33 68.0V91.3" stroke="#fff" stroke-width="0.4" stroke-opacity="0.25" fill="none"/>
<path d="M321.00 95.2V99.6M325.55 78.8V82.4M328.00 77.8V86.6M330.80 77.1V93.1M331.15 77.1V84.9M332.55 77.3V84.6M332.90 77.3V86.6M333.25 77.3V81.0M333.95 77.4V83.9M334.30 77.4V93.5M336.05 77.6V108.3M337.80 77.8V99.9M339.90 78.0V81.2M345.15 78.5V83.8M348.30 78.8V82.8M353.55 79.2V92.8M353.90 79.2V81.7M354.60 79.2V90.9M355.30 79.3V89.9M358.80 79.4V85.7M359.15 79.5V93.2M361.95 79.6V91.2M363.00 79.7V89.9M364.40 79.7V87.0M365.10 79.8V96.5M370.00 80.0V83.3M374.55 80.5V92.6M374.90 80.5V85.5M375.25 80.5V92.9M376.65 80.7V82.8M377.70 80.8V88.2M379.10 80.9V87.2M384.35 81.4V99.3M387.85 81.8V86.6M389.95 82.0V101.5M392.05 82.2V101.6M393.45 82.3V84.7M394.50 82.5V94.9M396.95 82.7V87.8M398.00 82.8V95.5M398.70 82.9V90.5M402.20 83.2V89.0M403.25 83.3V89.2M403.95 83.4V94.8M404.65 83.5V103.4M407.10 83.7V87.2M407.45 83.7V86.2M408.15 83.8V110.9M410.95 84.0V88.4M412.35 84.1V88.3M413.75 84.2V89.3M414.45 84.2V90.4M415.50 84.3V105.9M416.90 84.3V90.0M417.60 84.4V113.5M417.95 84.4V102.3M419.70 84.5V94.7M420.05 84.5V92.3M421.10 84.7V90.3M422.15 84.9V103.8M422.50 85.0V88.9M424.25 85.3V98.3M424.60 85.4V91.7M427.40 85.9V92.2M428.10 86.0V90.7M429.15 86.1V90.9M429.50 86.2V95.5M431.25 86.4V95.5M431.95 86.5V106.3M432.30 86.5V93.2M432.65 86.6V110.0M433.00 86.6V91.5M435.45 86.9V102.6M435.80 87.0V93.7M437.20 87.2V89.3M437.90 87.2V94.7M439.30 87.4V90.0M442.10 87.8V112.9M443.15 88.0V96.8M445.25 88.3V95.1M446.65 88.5V101.7M450.85 89.1V108.0M451.20 89.2V95.8M452.95 89.4V97.3M453.30 89.4V113.0M454.35 89.6V94.2M454.70 89.6V94.3M459.95 90.3V93.3M461.35 90.5V94.9M461.70 90.6V102.5M462.75 90.7V102.0M464.15 90.9V95.0M464.50 90.9V101.6M466.25 91.1V94.4M466.95 91.1V94.4M467.65 91.2V98.6M470.10 91.3V113.0M471.85 91.5V105.8M473.25 91.6V102.7M473.60 91.6V99.4M474.30 91.6V113.7M476.75 91.8V109.8M477.45 91.8V101.5M478.50 91.9V108.8M478.85 91.9V111.3M480.60 92.0V106.2M481.30 92.0V97.3M485.85 92.1V94.4M487.25 92.2V96.5M490.40 92.3V94.5M492.85 92.3V97.9M493.20 92.3V99.3M494.95 92.4V94.8M496.35 92.4V104.2M496.70 92.4V94.6M497.75 92.4V94.7M504.75 92.4V107.9M505.10 92.4V101.3M506.15 92.4V94.8M506.50 92.4V95.7M507.55 92.4V96.9M508.95 92.4V98.8M509.65 92.3V109.2M510.35 92.3V94.6M511.40 92.3V102.4M513.15 92.3V112.0M514.90 92.3V95.7M515.25 92.2V97.1M516.30 92.2V96.6M517.35 92.2V102.5M518.75 92.2V94.6M519.45 92.2V94.4M519.80 92.2V97.1M520.15 92.2V95.6M520.50 92.2V96.6M524.35 92.1V95.9M525.75 92.1V101.8" stroke="#ff00ff" stroke-width="0.45" stroke-opacity="0.45" fill="none"/>
<path d="M320.9 56V97M321.6 50V92" stroke="#ff00ff" stroke-width="0.8"/>
<text x="425.5" y="13.5" text-anchor="middle" font-size="11" stroke="#111" stroke-width="0.15">Original signal spectrogram</text>
<text x="316.9" y="20.4" text-anchor="end" font-size="11" stroke="#111" stroke-width="0.15">-50</text>
<text x="316.9" y="72.7" text-anchor="end" font-size="11" stroke="#111" stroke-width="0.15">-100</text>
<text x="316.9" y="124.9" text-anchor="end" font-size="11" stroke="#111" stroke-width="0.15">-150</text>
<text x="320.5" y="132.9" text-anchor="middle" font-size="11" stroke="#111" stroke-width="0.15">0</text>
<text x="373" y="132.9" text-anchor="middle" font-size="11" stroke="#111" stroke-width="0.15">2000</text>
<text x="425.5" y="132.9" text-anchor="middle" font-size="11" stroke="#111" stroke-width="0.15">4000</text>
<text x="478" y="132.9" text-anchor="middle" font-size="11" stroke="#111" stroke-width="0.15">6000</text>
<text x="530" y="132.9" text-anchor="middle" font-size="11" stroke="#111" stroke-width="0.15">8000</text>
<text x="425.5" y="146" text-anchor="middle" font-size="11" stroke="#111" stroke-width="0.15">Frequency</text>
<text x="293.4" y="68.3" text-anchor="middle" font-size="11" stroke="#111" stroke-width="0.15" transform="rotate(-90 293.4 68.3)">Amplitude</text>
<path d="M69.5 268.6v-1.8M97.5 268.6v-1.8M125.3 268.6v-1.8M153.3 268.6v-1.8M181 268.6v-1.8M208.6 268.6v-1.8M43.0 190.3h1.8M43.0 216.4h1.8M43.0 242.5h1.8" stroke="#333" stroke-opacity="0.55" stroke-width="0.6"/>
<text x="138.7" y="161.6" text-anchor="middle" font-size="11" stroke="#111" stroke-width="0.15">Original signal time spectrum</text>
<text x="40" y="168.29999999999998" text-anchor="end" font-size="11" stroke="#111" stroke-width="0.15">8</text>
<text x="40" y="194.2" text-anchor="end" font-size="11" stroke="#111" stroke-width="0.15">6</text>
<text x="40" y="220.2" text-anchor="end" font-size="11" stroke="#111" stroke-width="0.15">4</text>
<text x="40" y="246.2" text-anchor="end" font-size="11" stroke="#111" stroke-width="0.15">2</text>
<text x="40" y="272.2" text-anchor="end" font-size="11" stroke="#111" stroke-width="0.15">0</text>
<text x="69.5" y="282" text-anchor="middle" font-size="11" stroke="#111" stroke-width="0.15">0.5</text>
<text x="97.5" y="282" text-anchor="middle" font-size="11" stroke="#111" stroke-width="0.15">1</text>
<text x="125.3" y="282" text-anchor="middle" font-size="11" stroke="#111" stroke-width="0.15">1.5</text>
<text x="153.3" y="282" text-anchor="middle" font-size="11" stroke="#111" stroke-width="0.15">2</text>
<text x="181" y="282" text-anchor="middle" font-size="11" stroke="#111" stroke-width="0.15">2.5</text>
<text x="208.6" y="282" text-anchor="middle" font-size="11" stroke="#111" stroke-width="0.15">3</text>
<text x="138.7" y="294.5" text-anchor="middle" font-size="11" stroke="#111" stroke-width="0.15">Time</text>
<text x="31.2" y="213.4" text-anchor="middle" font-size="11" stroke="#111" stroke-width="0.15" transform="rotate(-90 31.2 213.4)">Frequency</text>
<text x="247" y="173.7" text-anchor="start" font-size="11" stroke="#111" stroke-width="0.15">-40</text>
<path d="M243.3 170h1.5" stroke="#333" stroke-opacity="0.5" stroke-width="0.7"/>
<text x="247" y="191.2" text-anchor="start" font-size="11" stroke="#111" stroke-width="0.15">-60</text>
<path d="M243.3 187.5h1.5" stroke="#333" stroke-opacity="0.5" stroke-width="0.7"/>
<text x="247" y="208.2" text-anchor="start" font-size="11" stroke="#111" stroke-width="0.15">-80</text>
<path d="M243.3 204.5h1.5" stroke="#333" stroke-opacity="0.5" stroke-width="0.7"/>
<text x="247" y="224.89999999999998" text-anchor="start" font-size="11" stroke="#111" stroke-width="0.15">-100</text>
<path d="M243.3 221.2h1.5" stroke="#333" stroke-opacity="0.5" stroke-width="0.7"/>
<text x="247" y="241.7" text-anchor="start" font-size="11" stroke="#111" stroke-width="0.15">-120</text>
<path d="M243.3 238h1.5" stroke="#333" stroke-opacity="0.5" stroke-width="0.7"/>
<text x="247" y="258.7" text-anchor="start" font-size="11" stroke="#111" stroke-width="0.15">-140</text>
<path d="M243.3 255h1.5" stroke="#333" stroke-opacity="0.5" stroke-width="0.7"/>
<path d="M320.5 164V268.3H511.6" fill="none" stroke="#c9c9c9" stroke-width="1"/>
<path d="M375.2 268.3v-2M429.9 268.3v-2M484.5 268.3v-2M320.5 190h2M320.5 216h2M320.5 242h2" stroke="#c9c9c9" stroke-width="0.8"/>
<g clip-path="url(#hc)">
<g filter="url(#bl)">
<ellipse cx="356.2" cy="208.0" rx="1.6" ry="9.0" fill="#7d72e6" fill-opacity="0.45"/>
<ellipse cx="356.0" cy="206.0" rx="0.65" ry="5.0" fill="#3a52e6" fill-opacity="0.22"/>
<ellipse cx="367.3" cy="225.0" rx="0.45" ry="11.0" fill="#7d72e6" fill-opacity="0.25"/>
<ellipse cx="382.6" cy="233.5" rx="0.45" ry="18.5" fill="#7d72e6" fill-opacity="0.3"/>
<ellipse cx="395.6" cy="243.0" rx="0.35" ry="25.0" fill="#7d72e6" fill-opacity="0.3"/>
<ellipse cx="417.6" cy="236.0" rx="1.5" ry="32.0" fill="#7d72e6" fill-opacity="0.42"/>
<ellipse cx="417.8" cy="236.0" rx="1.0" ry="14.0" fill="#3a52e6" fill-opacity="0.4"/>
<ellipse cx="424.6" cy="222.0" rx="0.7" ry="9.0" fill="#7d72e6" fill-opacity="0.42"/>
<ellipse cx="447.4" cy="233.5" rx="0.3" ry="29.5" fill="#7d72e6" fill-opacity="0.22"/>
<ellipse cx="450.6" cy="221.0" rx="0.3" ry="35.0" fill="#7d72e6" fill-opacity="0.18"/>
<ellipse cx="472.2" cy="235.0" rx="0.3" ry="21.0" fill="#7d72e6" fill-opacity="0.15"/>
<rect x="330.8" y="255.5" width="6.6" height="14" rx="2.6" fill="#7d72e6" fill-opacity="0.42"/>
<ellipse cx="332.6" cy="263.5" rx="0.55" ry="6.5" fill="#3a52e6" fill-opacity="0.3"/>
<ellipse cx="335.4" cy="264.0" rx="0.55" ry="6.0" fill="#3a52e6" fill-opacity="0.28"/>
<ellipse cx="350.5" cy="261.0" rx="1.6" ry="7.0" fill="#7d72e6" fill-opacity="0.35"/>
<ellipse cx="370.2" cy="260.0" rx="0.65" ry="5.0" fill="#7d72e6" fill-opacity="0.35"/>
<ellipse cx="390.5" cy="261.5" rx="1.6" ry="5.5" fill="#7d72e6" fill-opacity="0.35"/>
<ellipse cx="401" cy="262.0" rx="3.0" ry="5.0" fill="#7d72e6" fill-opacity="0.3"/>
<ellipse cx="453.8" cy="259.0" rx="1.5" ry="8.0" fill="#7d72e6" fill-opacity="0.35"/>
<ellipse cx="459.8" cy="259.0" rx="0.7" ry="6.0" fill="#7d72e6" fill-opacity="0.35"/>
<ellipse cx="479.5" cy="260.0" rx="0.5" ry="3.0" fill="#7d72e6" fill-opacity="0.3"/>
<ellipse cx="487.8" cy="261.0" rx="3.3" ry="5.0" fill="#7d72e6" fill-opacity="0.3"/>
<path d="M340.8 268.3V252Q341.3 248.6 343.2 249Q347.6 250.2 348.2 255.5V268.3Z" fill="url(#gB)"/>
<path d="M345 252Q347.6 251.5 348 256L347.6 262Q346.4 258 345.2 256Z" fill="#2ab0c8"/>
<ellipse cx="346" cy="253.2" rx="1.4" ry="2.0" fill="#b8c838"/>
<ellipse cx="345.6" cy="251.9" rx="1.0" ry="1.1" fill="#f0c02a"/>
<path d="M360 266V255Q360.5 251.8 361.8 251.8Q363.4 252 363.6 255V266Z" fill="url(#gD)"/>
<path d="M378.6 268V256Q379.5 250 382.6 247.5Q383.2 252 383 258V268Z" fill="url(#gD)"/>
<path d="M394.8 262.5Q399 257 403.8 254.6Q405.6 255 405.2 257.4Q400 259.5 396.2 263.6Z" fill="#3a52e6"/>
<path d="M428.4 268V256Q429 252.3 431.5 252.3Q434.2 252.5 434.6 256.5V268Z" fill="url(#gD)"/>
<ellipse cx="431.5" cy="255.6" rx="2.2" ry="2.2" fill="#36b8c0"/>
<ellipse cx="431.5" cy="254.2" rx="1.8" ry="1.4" fill="#a8c840"/>
<ellipse cx="431.5" cy="253.2" rx="1.2" ry="0.9" fill="#f0c030"/>
<path d="M448.6 268V255Q449.2 250.5 451 251Q452.8 251.5 452.8 256V268Z" fill="url(#gD)"/>
<ellipse cx="450.8" cy="256" rx="1.1" ry="2.5" fill="#2f8ee8"/>
<path d="M468.6 268V258Q469 254.4 470.8 254.4Q472.8 254.6 473 258V268Z" fill="url(#gD)"/>
<ellipse cx="470.8" cy="256.5" rx="1.0" ry="1.6" fill="#20b0c8"/>
<path d="M484.6 261Q485 255.6 488 255.8Q491 256 491.3 261L489.8 261Q489.5 257.8 488 257.8Q486.4 257.8 486.2 261Z" fill="#3a52e6"/>
</g></g>
<text x="416.2" y="161.6" text-anchor="middle" font-size="11" stroke="#111" stroke-width="0.15">Hilbert spectrum of original signal</text>
<text x="317.5" y="168.0" text-anchor="end" font-size="11" stroke="#111" stroke-width="0.15">8000</text>
<text x="317.5" y="193.7" text-anchor="end" font-size="11" stroke="#111" stroke-width="0.15">6000</text>
<text x="317.5" y="219.7" text-anchor="end" font-size="11" stroke="#111" stroke-width="0.15">4000</text>
<text x="317.5" y="245.7" text-anchor="end" font-size="11" stroke="#111" stroke-width="0.15">2000</text>
<text x="317.5" y="271.7" text-anchor="end" font-size="11" stroke="#111" stroke-width="0.15">0</text>
<text x="320.5" y="282" text-anchor="middle" font-size="11" stroke="#111" stroke-width="0.15">0</text>
<text x="375.2" y="282" text-anchor="middle" font-size="11" stroke="#111" stroke-width="0.15">1</text>
<text x="429.9" y="282" text-anchor="middle" font-size="11" stroke="#111" stroke-width="0.15">2</text>
<text x="484.5" y="282" text-anchor="middle" font-size="11" stroke="#111" stroke-width="0.15">3</text>
<text x="416.2" y="294.5" text-anchor="middle" font-size="11" stroke="#111" stroke-width="0.15">Time</text>
<text x="292" y="214.6" text-anchor="middle" font-size="11" stroke="#111" stroke-width="0.15" transform="rotate(-90 292 214.6)">Frequency</text>
<text x="524.5" y="181.89999999999998" text-anchor="start" font-size="11" stroke="#111" stroke-width="0.15">10</text>
<path d="M520.5 178.2h1.5" stroke="#333" stroke-opacity="0.5" stroke-width="0.7"/>
<text x="524.5" y="200.2" text-anchor="start" font-size="11" stroke="#111" stroke-width="0.15">8</text>
<path d="M520.5 196.5h1.5" stroke="#333" stroke-opacity="0.5" stroke-width="0.7"/>
<text x="524.5" y="218.5" text-anchor="start" font-size="11" stroke="#111" stroke-width="0.15">6</text>
<path d="M520.5 214.8h1.5" stroke="#333" stroke-opacity="0.5" stroke-width="0.7"/>
<text x="524.5" y="236.79999999999998" text-anchor="start" font-size="11" stroke="#111" stroke-width="0.15">4</text>
<path d="M520.5 233.1h1.5" stroke="#333" stroke-opacity="0.5" stroke-width="0.7"/>
<text x="524.5" y="255.1" text-anchor="start" font-size="11" stroke="#111" stroke-width="0.15">2</text>
<path d="M520.5 251.4h1.5" stroke="#333" stroke-opacity="0.5" stroke-width="0.7"/>
<text x="523.5" y="160.5" font-size="10">×10<tspan font-size="7.5" dy="-4">-3</tspan></text>
</g></svg>
</div></body></html>
